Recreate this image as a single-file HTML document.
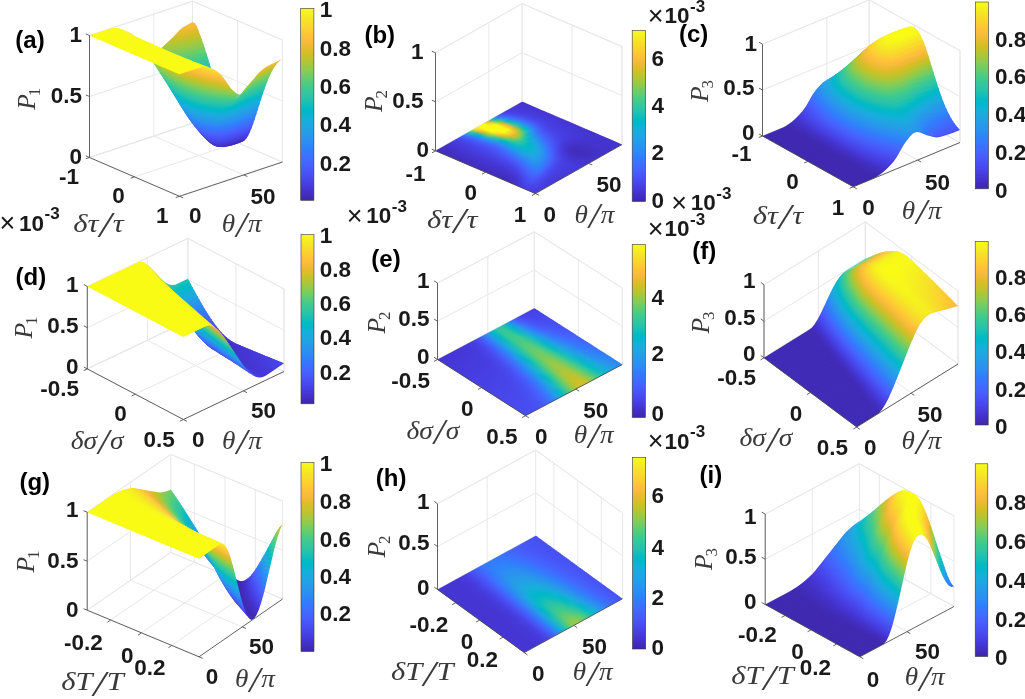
<!DOCTYPE html>
<html><head><meta charset="utf-8"><title>figure</title>
<style>
html,body{margin:0;padding:0;background:#fff}
svg{display:block}
.t{font-family:"Liberation Sans",sans-serif;font-weight:bold;font-size:22.5px;fill:#1a1a1a}
.p{font-family:"Liberation Sans",sans-serif;font-weight:bold;font-size:24px;fill:#000}
.m{font-family:"Liberation Serif","DejaVu Serif",serif;font-style:italic;font-size:25.5px;fill:#3a3a3a}
.x{font-family:"Liberation Sans",sans-serif;font-weight:normal;font-size:27px;fill:#1a1a1a}
.s{font-size:17px}
.ms{font-size:17px;font-style:normal}
.sl{font-size:36px}
</style></head><body>
<svg width="1025" height="699" viewBox="0 0 1025 699">
<defs><linearGradient id="pg" x1="0" y1="1" x2="0" y2="0"><stop offset="0.0000" stop-color="#3e26a8"/><stop offset="0.0238" stop-color="#412cba"/><stop offset="0.0476" stop-color="#4332cb"/><stop offset="0.0714" stop-color="#4639da"/><stop offset="0.0952" stop-color="#4741e5"/><stop offset="0.1190" stop-color="#484aee"/><stop offset="0.1429" stop-color="#4852f4"/><stop offset="0.1667" stop-color="#475bf9"/><stop offset="0.1905" stop-color="#4563fd"/><stop offset="0.2143" stop-color="#406cfe"/><stop offset="0.2381" stop-color="#3875fe"/><stop offset="0.2619" stop-color="#307efb"/><stop offset="0.2857" stop-color="#2e87f7"/><stop offset="0.3095" stop-color="#2c8ff1"/><stop offset="0.3333" stop-color="#2797eb"/><stop offset="0.3571" stop-color="#249ee6"/><stop offset="0.3810" stop-color="#20a5e3"/><stop offset="0.4048" stop-color="#1aabdd"/><stop offset="0.4286" stop-color="#12b1d6"/><stop offset="0.4524" stop-color="#04b6cd"/><stop offset="0.4762" stop-color="#02bac3"/><stop offset="0.5000" stop-color="#12beb9"/><stop offset="0.5238" stop-color="#24c1ae"/><stop offset="0.5476" stop-color="#2fc5a3"/><stop offset="0.5714" stop-color="#37c897"/><stop offset="0.5952" stop-color="#45cb89"/><stop offset="0.6190" stop-color="#57cc7a"/><stop offset="0.6429" stop-color="#6bcd69"/><stop offset="0.6667" stop-color="#81cc59"/><stop offset="0.6905" stop-color="#96ca48"/><stop offset="0.7143" stop-color="#abc739"/><stop offset="0.7381" stop-color="#bfc32d"/><stop offset="0.7619" stop-color="#d1bf27"/><stop offset="0.7857" stop-color="#e1bc2b"/><stop offset="0.8095" stop-color="#f0ba36"/><stop offset="0.8333" stop-color="#fbbc3d"/><stop offset="0.8571" stop-color="#fec338"/><stop offset="0.8810" stop-color="#fdcc32"/><stop offset="0.9048" stop-color="#fad62d"/><stop offset="0.9286" stop-color="#f6df29"/><stop offset="0.9524" stop-color="#f5e924"/><stop offset="0.9762" stop-color="#f6f21e"/><stop offset="1.0000" stop-color="#f9fb15"/></linearGradient>
<linearGradient id="ga0" href="#pg" gradientUnits="userSpaceOnUse" x1="90.3" y1="154.2" x2="54.8" y2="47.7"/>
<linearGradient id="ga1" href="#pg" gradientUnits="userSpaceOnUse" x1="91.9" y1="154.9" x2="56.4" y2="48.4"/>
<linearGradient id="ga2" href="#pg" gradientUnits="userSpaceOnUse" x1="93.5" y1="155.6" x2="58.0" y2="49.0"/>
<linearGradient id="ga3" href="#pg" gradientUnits="userSpaceOnUse" x1="95.1" y1="156.3" x2="59.7" y2="49.7"/>
<linearGradient id="ga4" href="#pg" gradientUnits="userSpaceOnUse" x1="96.7" y1="157.0" x2="61.3" y2="50.4"/>
<linearGradient id="ga5" href="#pg" gradientUnits="userSpaceOnUse" x1="98.3" y1="157.7" x2="62.9" y2="51.1"/>
<linearGradient id="ga6" href="#pg" gradientUnits="userSpaceOnUse" x1="99.9" y1="158.3" x2="64.5" y2="51.8"/>
<linearGradient id="ga7" href="#pg" gradientUnits="userSpaceOnUse" x1="101.6" y1="159.0" x2="66.1" y2="52.5"/>
<linearGradient id="ga8" href="#pg" gradientUnits="userSpaceOnUse" x1="103.2" y1="159.7" x2="67.7" y2="53.2"/>
<linearGradient id="ga9" href="#pg" gradientUnits="userSpaceOnUse" x1="104.8" y1="160.4" x2="69.3" y2="53.9"/>
<linearGradient id="ga10" href="#pg" gradientUnits="userSpaceOnUse" x1="106.4" y1="161.1" x2="70.9" y2="54.6"/>
<linearGradient id="ga11" href="#pg" gradientUnits="userSpaceOnUse" x1="108.0" y1="161.8" x2="72.5" y2="55.3"/>
<linearGradient id="ga12" href="#pg" gradientUnits="userSpaceOnUse" x1="109.6" y1="162.5" x2="74.1" y2="56.0"/>
<linearGradient id="ga13" href="#pg" gradientUnits="userSpaceOnUse" x1="111.2" y1="163.2" x2="75.7" y2="56.7"/>
<linearGradient id="ga14" href="#pg" gradientUnits="userSpaceOnUse" x1="112.8" y1="163.9" x2="77.3" y2="57.4"/>
<linearGradient id="ga15" href="#pg" gradientUnits="userSpaceOnUse" x1="114.4" y1="164.6" x2="78.9" y2="58.1"/>
<linearGradient id="ga16" href="#pg" gradientUnits="userSpaceOnUse" x1="116.0" y1="165.3" x2="80.5" y2="58.7"/>
<linearGradient id="ga17" href="#pg" gradientUnits="userSpaceOnUse" x1="117.6" y1="166.0" x2="82.2" y2="59.4"/>
<linearGradient id="ga18" href="#pg" gradientUnits="userSpaceOnUse" x1="119.2" y1="166.7" x2="83.8" y2="60.1"/>
<linearGradient id="ga19" href="#pg" gradientUnits="userSpaceOnUse" x1="120.8" y1="167.4" x2="85.4" y2="60.8"/>
<linearGradient id="ga20" href="#pg" gradientUnits="userSpaceOnUse" x1="122.4" y1="168.0" x2="87.0" y2="61.5"/>
<linearGradient id="ga21" href="#pg" gradientUnits="userSpaceOnUse" x1="124.1" y1="168.7" x2="88.6" y2="62.2"/>
<linearGradient id="ga22" href="#pg" gradientUnits="userSpaceOnUse" x1="125.7" y1="169.4" x2="90.2" y2="62.9"/>
<linearGradient id="ga23" href="#pg" gradientUnits="userSpaceOnUse" x1="127.3" y1="170.1" x2="91.8" y2="63.6"/>
<linearGradient id="ga24" href="#pg" gradientUnits="userSpaceOnUse" x1="128.9" y1="170.8" x2="93.4" y2="64.3"/>
<linearGradient id="ga25" href="#pg" gradientUnits="userSpaceOnUse" x1="130.5" y1="171.5" x2="95.0" y2="65.0"/>
<linearGradient id="ga26" href="#pg" gradientUnits="userSpaceOnUse" x1="132.1" y1="172.2" x2="96.6" y2="65.7"/>
<linearGradient id="ga27" href="#pg" gradientUnits="userSpaceOnUse" x1="133.7" y1="172.9" x2="98.2" y2="66.4"/>
<linearGradient id="ga28" href="#pg" gradientUnits="userSpaceOnUse" x1="135.3" y1="173.6" x2="99.8" y2="67.1"/>
<linearGradient id="ga29" href="#pg" gradientUnits="userSpaceOnUse" x1="136.9" y1="174.3" x2="101.4" y2="67.8"/>
<linearGradient id="ga30" href="#pg" gradientUnits="userSpaceOnUse" x1="138.5" y1="175.0" x2="103.0" y2="68.4"/>
<linearGradient id="ga31" href="#pg" gradientUnits="userSpaceOnUse" x1="140.1" y1="175.7" x2="104.7" y2="69.1"/>
<linearGradient id="ga32" href="#pg" gradientUnits="userSpaceOnUse" x1="141.7" y1="176.4" x2="106.3" y2="69.8"/>
<linearGradient id="ga33" href="#pg" gradientUnits="userSpaceOnUse" x1="143.3" y1="177.1" x2="107.9" y2="70.5"/>
<linearGradient id="ga34" href="#pg" gradientUnits="userSpaceOnUse" x1="144.9" y1="177.7" x2="109.5" y2="71.2"/>
<linearGradient id="ga35" href="#pg" gradientUnits="userSpaceOnUse" x1="146.6" y1="178.4" x2="111.1" y2="71.9"/>
<linearGradient id="ga36" href="#pg" gradientUnits="userSpaceOnUse" x1="148.2" y1="179.1" x2="112.7" y2="72.6"/>
<linearGradient id="ga37" href="#pg" gradientUnits="userSpaceOnUse" x1="149.8" y1="179.8" x2="114.3" y2="73.3"/>
<linearGradient id="ga38" href="#pg" gradientUnits="userSpaceOnUse" x1="151.4" y1="180.5" x2="115.9" y2="74.0"/>
<linearGradient id="ga39" href="#pg" gradientUnits="userSpaceOnUse" x1="153.0" y1="181.2" x2="117.5" y2="74.7"/>
<linearGradient id="ga40" href="#pg" gradientUnits="userSpaceOnUse" x1="154.6" y1="181.9" x2="119.1" y2="75.4"/>
<linearGradient id="ga41" href="#pg" gradientUnits="userSpaceOnUse" x1="156.2" y1="182.6" x2="120.7" y2="76.1"/>
<linearGradient id="ga42" href="#pg" gradientUnits="userSpaceOnUse" x1="157.8" y1="183.3" x2="122.3" y2="76.8"/>
<linearGradient id="ga43" href="#pg" gradientUnits="userSpaceOnUse" x1="159.4" y1="184.0" x2="123.9" y2="77.5"/>
<linearGradient id="ga44" href="#pg" gradientUnits="userSpaceOnUse" x1="161.0" y1="184.7" x2="125.5" y2="78.1"/>
<linearGradient id="ga45" href="#pg" gradientUnits="userSpaceOnUse" x1="162.6" y1="185.4" x2="127.2" y2="78.8"/>
<linearGradient id="ga46" href="#pg" gradientUnits="userSpaceOnUse" x1="164.2" y1="186.1" x2="128.8" y2="79.5"/>
<linearGradient id="ga47" href="#pg" gradientUnits="userSpaceOnUse" x1="165.8" y1="186.8" x2="130.4" y2="80.2"/>
<linearGradient id="ga48" href="#pg" gradientUnits="userSpaceOnUse" x1="167.4" y1="187.4" x2="132.0" y2="80.9"/>
<linearGradient id="ga49" href="#pg" gradientUnits="userSpaceOnUse" x1="169.1" y1="188.1" x2="133.6" y2="81.6"/>
<linearGradient id="ga50" href="#pg" gradientUnits="userSpaceOnUse" x1="170.7" y1="188.8" x2="135.2" y2="82.3"/>
<linearGradient id="ga51" href="#pg" gradientUnits="userSpaceOnUse" x1="172.3" y1="189.5" x2="136.8" y2="83.0"/>
<linearGradient id="ga52" href="#pg" gradientUnits="userSpaceOnUse" x1="173.9" y1="190.2" x2="138.4" y2="83.7"/>
<linearGradient id="ga53" href="#pg" gradientUnits="userSpaceOnUse" x1="175.5" y1="190.9" x2="140.0" y2="84.4"/>
<linearGradient id="ga54" href="#pg" gradientUnits="userSpaceOnUse" x1="177.1" y1="191.6" x2="141.6" y2="85.1"/>
<linearGradient id="ga55" href="#pg" gradientUnits="userSpaceOnUse" x1="178.7" y1="192.3" x2="143.2" y2="85.8"/>
<linearGradient id="gb0" gradientUnits="userSpaceOnUse" x1="436.6" y1="151.3" x2="467.8" y2="78.5"><stop offset="0" stop-color="#412dbb"/><stop offset="0.05" stop-color="#422ec0"/><stop offset="0.1" stop-color="#4331c7"/><stop offset="0.15" stop-color="#4435d1"/><stop offset="0.2" stop-color="#463bdc"/><stop offset="0.25" stop-color="#4747eb"/><stop offset="0.3" stop-color="#4564fd"/><stop offset="0.35" stop-color="#23a0e5"/><stop offset="0.4" stop-color="#6ccd68"/><stop offset="0.45" stop-color="#f5e625"/><stop offset="0.5" stop-color="#f9fb15"/><stop offset="0.55" stop-color="#f9fb15"/><stop offset="0.6" stop-color="#b1c635"/><stop offset="0.65" stop-color="#13b0d7"/><stop offset="0.7" stop-color="#3d70ff"/><stop offset="0.75" stop-color="#484df1"/><stop offset="0.8" stop-color="#4740e3"/><stop offset="0.85" stop-color="#463adc"/><stop offset="0.9" stop-color="#4538d7"/><stop offset="0.95" stop-color="#4536d3"/><stop offset="1" stop-color="#4435d0"/></linearGradient>
<linearGradient id="gb1" gradientUnits="userSpaceOnUse" x1="438.9" y1="152.3" x2="470.1" y2="79.4"><stop offset="0" stop-color="#412dbb"/><stop offset="0.05" stop-color="#422fc0"/><stop offset="0.1" stop-color="#4331c8"/><stop offset="0.15" stop-color="#4435d1"/><stop offset="0.2" stop-color="#463bdc"/><stop offset="0.25" stop-color="#4746ea"/><stop offset="0.3" stop-color="#465efb"/><stop offset="0.35" stop-color="#2895ec"/><stop offset="0.4" stop-color="#42ca8c"/><stop offset="0.45" stop-color="#fad52d"/><stop offset="0.5" stop-color="#f9fb15"/><stop offset="0.55" stop-color="#f9fb15"/><stop offset="0.6" stop-color="#f3ba38"/><stop offset="0.65" stop-color="#15bfb8"/><stop offset="0.7" stop-color="#2f82fa"/><stop offset="0.75" stop-color="#4854f6"/><stop offset="0.8" stop-color="#4742e6"/><stop offset="0.85" stop-color="#463bdd"/><stop offset="0.9" stop-color="#4538d8"/><stop offset="0.95" stop-color="#4536d4"/><stop offset="1" stop-color="#4435d0"/></linearGradient>
<linearGradient id="gb2" gradientUnits="userSpaceOnUse" x1="441.2" y1="153.2" x2="472.4" y2="80.4"><stop offset="0" stop-color="#412dbc"/><stop offset="0.05" stop-color="#422fc1"/><stop offset="0.1" stop-color="#4332c9"/><stop offset="0.15" stop-color="#4535d2"/><stop offset="0.2" stop-color="#463bdd"/><stop offset="0.25" stop-color="#4745e9"/><stop offset="0.3" stop-color="#475af9"/><stop offset="0.35" stop-color="#2d8bf3"/><stop offset="0.4" stop-color="#2cc4a6"/><stop offset="0.45" stop-color="#fec239"/><stop offset="0.5" stop-color="#f9fb15"/><stop offset="0.55" stop-color="#f9fb15"/><stop offset="0.6" stop-color="#fbd32e"/><stop offset="0.65" stop-color="#3cc991"/><stop offset="0.7" stop-color="#2a93ee"/><stop offset="0.75" stop-color="#465dfa"/><stop offset="0.8" stop-color="#4745ea"/><stop offset="0.85" stop-color="#463cdf"/><stop offset="0.9" stop-color="#4538d8"/><stop offset="0.95" stop-color="#4536d4"/><stop offset="1" stop-color="#4435d1"/></linearGradient>
<linearGradient id="gb3" gradientUnits="userSpaceOnUse" x1="443.4" y1="154.2" x2="474.7" y2="81.4"><stop offset="0" stop-color="#412dbc"/><stop offset="0.05" stop-color="#422fc1"/><stop offset="0.1" stop-color="#4332c9"/><stop offset="0.15" stop-color="#4536d3"/><stop offset="0.2" stop-color="#463bdd"/><stop offset="0.25" stop-color="#4744e9"/><stop offset="0.3" stop-color="#4757f7"/><stop offset="0.35" stop-color="#2e84f9"/><stop offset="0.4" stop-color="#11beb9"/><stop offset="0.45" stop-color="#edba34"/><stop offset="0.5" stop-color="#f9fb15"/><stop offset="0.55" stop-color="#f9fb15"/><stop offset="0.6" stop-color="#f5ed21"/><stop offset="0.65" stop-color="#75cc61"/><stop offset="0.7" stop-color="#21a2e4"/><stop offset="0.75" stop-color="#4466fd"/><stop offset="0.8" stop-color="#4849ed"/><stop offset="0.85" stop-color="#463ee0"/><stop offset="0.9" stop-color="#4639d9"/><stop offset="0.95" stop-color="#4536d5"/><stop offset="1" stop-color="#4435d1"/></linearGradient>
<linearGradient id="gb4" gradientUnits="userSpaceOnUse" x1="445.7" y1="155.2" x2="476.9" y2="82.3"><stop offset="0" stop-color="#412dbc"/><stop offset="0.05" stop-color="#422fc2"/><stop offset="0.1" stop-color="#4332ca"/><stop offset="0.15" stop-color="#4536d4"/><stop offset="0.2" stop-color="#463cde"/><stop offset="0.25" stop-color="#4744e8"/><stop offset="0.3" stop-color="#4756f6"/><stop offset="0.35" stop-color="#317efb"/><stop offset="0.4" stop-color="#01b9c8"/><stop offset="0.45" stop-color="#d2bf27"/><stop offset="0.5" stop-color="#f9fb15"/><stop offset="0.55" stop-color="#f9fb15"/><stop offset="0.6" stop-color="#f9fb15"/><stop offset="0.65" stop-color="#adc638"/><stop offset="0.7" stop-color="#14b0d8"/><stop offset="0.75" stop-color="#3d71ff"/><stop offset="0.8" stop-color="#484df0"/><stop offset="0.85" stop-color="#473fe2"/><stop offset="0.9" stop-color="#4639da"/><stop offset="0.95" stop-color="#4537d5"/><stop offset="1" stop-color="#4435d1"/></linearGradient>
<linearGradient id="gb5" gradientUnits="userSpaceOnUse" x1="448.0" y1="156.2" x2="479.2" y2="83.3"><stop offset="0" stop-color="#412dbd"/><stop offset="0.05" stop-color="#422fc2"/><stop offset="0.1" stop-color="#4332ca"/><stop offset="0.15" stop-color="#4536d5"/><stop offset="0.2" stop-color="#463cdf"/><stop offset="0.25" stop-color="#4745e9"/><stop offset="0.3" stop-color="#4755f6"/><stop offset="0.35" stop-color="#347afd"/><stop offset="0.4" stop-color="#08b4d1"/><stop offset="0.45" stop-color="#bac430"/><stop offset="0.5" stop-color="#f9fb15"/><stop offset="0.55" stop-color="#f9fb15"/><stop offset="0.6" stop-color="#f9fb15"/><stop offset="0.65" stop-color="#d4bf28"/><stop offset="0.7" stop-color="#01b8c9"/><stop offset="0.75" stop-color="#337afd"/><stop offset="0.8" stop-color="#4851f4"/><stop offset="0.85" stop-color="#4740e4"/><stop offset="0.9" stop-color="#463adb"/><stop offset="0.95" stop-color="#4537d6"/><stop offset="1" stop-color="#4435d1"/></linearGradient>
<linearGradient id="gb6" gradientUnits="userSpaceOnUse" x1="450.3" y1="157.1" x2="481.5" y2="84.3"><stop offset="0" stop-color="#412dbd"/><stop offset="0.05" stop-color="#422fc2"/><stop offset="0.1" stop-color="#4433cb"/><stop offset="0.15" stop-color="#4537d5"/><stop offset="0.2" stop-color="#463cdf"/><stop offset="0.25" stop-color="#4745e9"/><stop offset="0.3" stop-color="#4854f6"/><stop offset="0.35" stop-color="#3677fe"/><stop offset="0.4" stop-color="#12b1d7"/><stop offset="0.45" stop-color="#a3c83f"/><stop offset="0.5" stop-color="#f9f916"/><stop offset="0.55" stop-color="#f9fb15"/><stop offset="0.6" stop-color="#f9fb15"/><stop offset="0.65" stop-color="#eabb30"/><stop offset="0.7" stop-color="#0fbebb"/><stop offset="0.75" stop-color="#2f82f9"/><stop offset="0.8" stop-color="#4755f6"/><stop offset="0.85" stop-color="#4742e6"/><stop offset="0.9" stop-color="#463adc"/><stop offset="0.95" stop-color="#4537d6"/><stop offset="1" stop-color="#4435d2"/></linearGradient>
<linearGradient id="gb7" gradientUnits="userSpaceOnUse" x1="452.5" y1="158.1" x2="483.7" y2="85.3"><stop offset="0" stop-color="#412dbd"/><stop offset="0.05" stop-color="#4230c3"/><stop offset="0.1" stop-color="#4433cb"/><stop offset="0.15" stop-color="#4537d6"/><stop offset="0.2" stop-color="#463de0"/><stop offset="0.25" stop-color="#4745e9"/><stop offset="0.3" stop-color="#4854f5"/><stop offset="0.35" stop-color="#3a74fe"/><stop offset="0.4" stop-color="#1aacdd"/><stop offset="0.45" stop-color="#83cc57"/><stop offset="0.5" stop-color="#f5e924"/><stop offset="0.55" stop-color="#f9fb15"/><stop offset="0.6" stop-color="#f9fb15"/><stop offset="0.65" stop-color="#f3ba39"/><stop offset="0.7" stop-color="#21c1b0"/><stop offset="0.75" stop-color="#2d88f6"/><stop offset="0.8" stop-color="#4758f8"/><stop offset="0.85" stop-color="#4743e8"/><stop offset="0.9" stop-color="#463bdd"/><stop offset="0.95" stop-color="#4537d6"/><stop offset="1" stop-color="#4535d2"/></linearGradient>
<linearGradient id="gb8" gradientUnits="userSpaceOnUse" x1="454.8" y1="159.1" x2="486.0" y2="86.2"><stop offset="0" stop-color="#412ebd"/><stop offset="0.05" stop-color="#4230c3"/><stop offset="0.1" stop-color="#4433cc"/><stop offset="0.15" stop-color="#4537d6"/><stop offset="0.2" stop-color="#463de0"/><stop offset="0.25" stop-color="#4745ea"/><stop offset="0.3" stop-color="#4853f5"/><stop offset="0.35" stop-color="#3d71ff"/><stop offset="0.4" stop-color="#1fa5e2"/><stop offset="0.45" stop-color="#5ecd74"/><stop offset="0.5" stop-color="#fad42e"/><stop offset="0.55" stop-color="#f9fb15"/><stop offset="0.6" stop-color="#f9fb15"/><stop offset="0.65" stop-color="#f2ba38"/><stop offset="0.7" stop-color="#28c3ab"/><stop offset="0.75" stop-color="#2d8df2"/><stop offset="0.8" stop-color="#475bfa"/><stop offset="0.85" stop-color="#4745e9"/><stop offset="0.9" stop-color="#463bde"/><stop offset="0.95" stop-color="#4538d7"/><stop offset="1" stop-color="#4536d2"/></linearGradient>
<linearGradient id="gb9" gradientUnits="userSpaceOnUse" x1="457.1" y1="160.0" x2="488.3" y2="87.2"><stop offset="0" stop-color="#412ebe"/><stop offset="0.05" stop-color="#4230c3"/><stop offset="0.1" stop-color="#4433cc"/><stop offset="0.15" stop-color="#4538d7"/><stop offset="0.2" stop-color="#463ee1"/><stop offset="0.25" stop-color="#4746ea"/><stop offset="0.3" stop-color="#4853f5"/><stop offset="0.35" stop-color="#3f6efe"/><stop offset="0.4" stop-color="#249fe5"/><stop offset="0.45" stop-color="#3eca8f"/><stop offset="0.5" stop-color="#febd3c"/><stop offset="0.55" stop-color="#f9fb15"/><stop offset="0.6" stop-color="#f8f817"/><stop offset="0.65" stop-color="#e9bb30"/><stop offset="0.7" stop-color="#29c3aa"/><stop offset="0.75" stop-color="#2c8ff0"/><stop offset="0.8" stop-color="#465efb"/><stop offset="0.85" stop-color="#4746ea"/><stop offset="0.9" stop-color="#463cde"/><stop offset="0.95" stop-color="#4538d7"/><stop offset="1" stop-color="#4536d2"/></linearGradient>
<linearGradient id="gb10" gradientUnits="userSpaceOnUse" x1="459.3" y1="161.0" x2="490.5" y2="88.2"><stop offset="0" stop-color="#412ebe"/><stop offset="0.05" stop-color="#4230c4"/><stop offset="0.1" stop-color="#4433cd"/><stop offset="0.15" stop-color="#4538d7"/><stop offset="0.2" stop-color="#463ee1"/><stop offset="0.25" stop-color="#4746ea"/><stop offset="0.3" stop-color="#4852f4"/><stop offset="0.35" stop-color="#416bfe"/><stop offset="0.4" stop-color="#2699e9"/><stop offset="0.45" stop-color="#2ec5a4"/><stop offset="0.5" stop-color="#dfbc2a"/><stop offset="0.55" stop-color="#f5e626"/><stop offset="0.6" stop-color="#f5e526"/><stop offset="0.65" stop-color="#d7be28"/><stop offset="0.7" stop-color="#25c2ad"/><stop offset="0.75" stop-color="#2b90f0"/><stop offset="0.8" stop-color="#465ffb"/><stop offset="0.85" stop-color="#4747eb"/><stop offset="0.9" stop-color="#463cdf"/><stop offset="0.95" stop-color="#4538d7"/><stop offset="1" stop-color="#4536d3"/></linearGradient>
<linearGradient id="gb11" gradientUnits="userSpaceOnUse" x1="461.6" y1="162.0" x2="492.8" y2="89.2"><stop offset="0" stop-color="#412ebe"/><stop offset="0.05" stop-color="#4230c4"/><stop offset="0.1" stop-color="#4433cd"/><stop offset="0.15" stop-color="#4538d7"/><stop offset="0.2" stop-color="#463ee1"/><stop offset="0.25" stop-color="#4746ea"/><stop offset="0.3" stop-color="#4852f4"/><stop offset="0.35" stop-color="#4269fe"/><stop offset="0.4" stop-color="#2994ed"/><stop offset="0.45" stop-color="#1bc0b4"/><stop offset="0.5" stop-color="#b6c532"/><stop offset="0.55" stop-color="#fdcc32"/><stop offset="0.6" stop-color="#fdce31"/><stop offset="0.65" stop-color="#bcc42f"/><stop offset="0.7" stop-color="#1bc0b4"/><stop offset="0.75" stop-color="#2c8ff0"/><stop offset="0.8" stop-color="#4660fb"/><stop offset="0.85" stop-color="#4847ec"/><stop offset="0.9" stop-color="#463ddf"/><stop offset="0.95" stop-color="#4538d8"/><stop offset="1" stop-color="#4536d3"/></linearGradient>
<linearGradient id="gb12" gradientUnits="userSpaceOnUse" x1="463.9" y1="163.0" x2="495.1" y2="90.1"><stop offset="0" stop-color="#412ebe"/><stop offset="0.05" stop-color="#4230c4"/><stop offset="0.1" stop-color="#4433cd"/><stop offset="0.15" stop-color="#4538d8"/><stop offset="0.2" stop-color="#473ee1"/><stop offset="0.25" stop-color="#4746ea"/><stop offset="0.3" stop-color="#4852f4"/><stop offset="0.35" stop-color="#4367fd"/><stop offset="0.4" stop-color="#2c8ff0"/><stop offset="0.45" stop-color="#05bbc1"/><stop offset="0.5" stop-color="#8dcb50"/><stop offset="0.55" stop-color="#f6ba3b"/><stop offset="0.6" stop-color="#fabb3d"/><stop offset="0.65" stop-color="#9bc945"/><stop offset="0.7" stop-color="#0bbdbd"/><stop offset="0.75" stop-color="#2d8df2"/><stop offset="0.8" stop-color="#465ffb"/><stop offset="0.85" stop-color="#4848ec"/><stop offset="0.9" stop-color="#463de0"/><stop offset="0.95" stop-color="#4538d8"/><stop offset="1" stop-color="#4536d3"/></linearGradient>
<linearGradient id="gb13" gradientUnits="userSpaceOnUse" x1="466.2" y1="163.9" x2="497.4" y2="91.1"><stop offset="0" stop-color="#422ebe"/><stop offset="0.05" stop-color="#4230c4"/><stop offset="0.1" stop-color="#4433cd"/><stop offset="0.15" stop-color="#4538d8"/><stop offset="0.2" stop-color="#473ee2"/><stop offset="0.25" stop-color="#4746eb"/><stop offset="0.3" stop-color="#4852f4"/><stop offset="0.35" stop-color="#4367fd"/><stop offset="0.4" stop-color="#2d8df2"/><stop offset="0.45" stop-color="#01b8c9"/><stop offset="0.5" stop-color="#6bcd69"/><stop offset="0.55" stop-color="#d9be28"/><stop offset="0.6" stop-color="#ddbd29"/><stop offset="0.65" stop-color="#77cc60"/><stop offset="0.7" stop-color="#01b9c7"/><stop offset="0.75" stop-color="#2d8af5"/><stop offset="0.8" stop-color="#465efb"/><stop offset="0.85" stop-color="#4848ec"/><stop offset="0.9" stop-color="#463de0"/><stop offset="0.95" stop-color="#4538d8"/><stop offset="1" stop-color="#4536d3"/></linearGradient>
<linearGradient id="gb14" gradientUnits="userSpaceOnUse" x1="468.4" y1="164.9" x2="499.6" y2="92.1"><stop offset="0" stop-color="#422ebe"/><stop offset="0.05" stop-color="#4230c4"/><stop offset="0.1" stop-color="#4434cd"/><stop offset="0.15" stop-color="#4538d8"/><stop offset="0.2" stop-color="#473fe2"/><stop offset="0.25" stop-color="#4747eb"/><stop offset="0.3" stop-color="#4853f4"/><stop offset="0.35" stop-color="#4368fd"/><stop offset="0.4" stop-color="#2d8df2"/><stop offset="0.45" stop-color="#04b6cd"/><stop offset="0.5" stop-color="#56cc7b"/><stop offset="0.55" stop-color="#b6c532"/><stop offset="0.6" stop-color="#b2c635"/><stop offset="0.65" stop-color="#4acb85"/><stop offset="0.7" stop-color="#11b1d6"/><stop offset="0.75" stop-color="#2f82f9"/><stop offset="0.8" stop-color="#475bf9"/><stop offset="0.85" stop-color="#4746eb"/><stop offset="0.9" stop-color="#463ddf"/><stop offset="0.95" stop-color="#4538d8"/><stop offset="1" stop-color="#4536d3"/></linearGradient>
<linearGradient id="gb15" gradientUnits="userSpaceOnUse" x1="470.7" y1="165.9" x2="501.9" y2="93.0"><stop offset="0" stop-color="#422ebe"/><stop offset="0.05" stop-color="#4230c4"/><stop offset="0.1" stop-color="#4434cd"/><stop offset="0.15" stop-color="#4538d8"/><stop offset="0.2" stop-color="#473fe2"/><stop offset="0.25" stop-color="#4747eb"/><stop offset="0.3" stop-color="#4854f5"/><stop offset="0.35" stop-color="#426afe"/><stop offset="0.4" stop-color="#2c8ff1"/><stop offset="0.45" stop-color="#05b6cd"/><stop offset="0.5" stop-color="#45cb89"/><stop offset="0.55" stop-color="#8ccb50"/><stop offset="0.6" stop-color="#76cc60"/><stop offset="0.65" stop-color="#2ac3a9"/><stop offset="0.7" stop-color="#20a4e3"/><stop offset="0.75" stop-color="#3677fe"/><stop offset="0.8" stop-color="#4756f7"/><stop offset="0.85" stop-color="#4745e9"/><stop offset="0.9" stop-color="#463cdf"/><stop offset="0.95" stop-color="#4538d8"/><stop offset="1" stop-color="#4536d3"/></linearGradient>
<linearGradient id="gb16" gradientUnits="userSpaceOnUse" x1="473.0" y1="166.8" x2="504.2" y2="94.0"><stop offset="0" stop-color="#422ebe"/><stop offset="0.05" stop-color="#4230c4"/><stop offset="0.1" stop-color="#4434cd"/><stop offset="0.15" stop-color="#4538d8"/><stop offset="0.2" stop-color="#473fe2"/><stop offset="0.25" stop-color="#4848ec"/><stop offset="0.3" stop-color="#4756f6"/><stop offset="0.35" stop-color="#406dfe"/><stop offset="0.4" stop-color="#2b92ee"/><stop offset="0.45" stop-color="#05b6ce"/><stop offset="0.5" stop-color="#37c897"/><stop offset="0.55" stop-color="#5ecd74"/><stop offset="0.6" stop-color="#3fca8e"/><stop offset="0.65" stop-color="#01b9c6"/><stop offset="0.7" stop-color="#2895ec"/><stop offset="0.75" stop-color="#416cfe"/><stop offset="0.8" stop-color="#4851f3"/><stop offset="0.85" stop-color="#4743e7"/><stop offset="0.9" stop-color="#463cde"/><stop offset="0.95" stop-color="#4538d8"/><stop offset="1" stop-color="#4536d3"/></linearGradient>
<linearGradient id="gb17" gradientUnits="userSpaceOnUse" x1="475.2" y1="167.8" x2="506.4" y2="95.0"><stop offset="0" stop-color="#422ebe"/><stop offset="0.05" stop-color="#4230c4"/><stop offset="0.1" stop-color="#4433cd"/><stop offset="0.15" stop-color="#4538d8"/><stop offset="0.2" stop-color="#473fe3"/><stop offset="0.25" stop-color="#4849ed"/><stop offset="0.3" stop-color="#4757f8"/><stop offset="0.35" stop-color="#3d70ff"/><stop offset="0.4" stop-color="#2994ed"/><stop offset="0.45" stop-color="#06b5cf"/><stop offset="0.5" stop-color="#2fc5a3"/><stop offset="0.55" stop-color="#3bc993"/><stop offset="0.6" stop-color="#24c1ae"/><stop offset="0.65" stop-color="#19acdc"/><stop offset="0.7" stop-color="#2e87f7"/><stop offset="0.75" stop-color="#4563fc"/><stop offset="0.8" stop-color="#484df0"/><stop offset="0.85" stop-color="#4741e5"/><stop offset="0.9" stop-color="#463bdd"/><stop offset="0.95" stop-color="#4538d7"/><stop offset="1" stop-color="#4536d3"/></linearGradient>
<linearGradient id="gb18" gradientUnits="userSpaceOnUse" x1="477.5" y1="168.8" x2="508.7" y2="96.0"><stop offset="0" stop-color="#412ebe"/><stop offset="0.05" stop-color="#4230c4"/><stop offset="0.1" stop-color="#4433cd"/><stop offset="0.15" stop-color="#4538d8"/><stop offset="0.2" stop-color="#473fe3"/><stop offset="0.25" stop-color="#484aed"/><stop offset="0.3" stop-color="#475af9"/><stop offset="0.35" stop-color="#3a74fe"/><stop offset="0.4" stop-color="#2797eb"/><stop offset="0.45" stop-color="#07b5d0"/><stop offset="0.5" stop-color="#25c2ad"/><stop offset="0.55" stop-color="#2bc3a8"/><stop offset="0.6" stop-color="#02bac5"/><stop offset="0.65" stop-color="#239fe5"/><stop offset="0.7" stop-color="#337bfc"/><stop offset="0.75" stop-color="#475cfa"/><stop offset="0.8" stop-color="#484aee"/><stop offset="0.85" stop-color="#4740e4"/><stop offset="0.9" stop-color="#463bdd"/><stop offset="0.95" stop-color="#4538d7"/><stop offset="1" stop-color="#4536d3"/></linearGradient>
<linearGradient id="gb19" gradientUnits="userSpaceOnUse" x1="479.8" y1="169.8" x2="511.0" y2="96.9"><stop offset="0" stop-color="#412ebe"/><stop offset="0.05" stop-color="#4230c4"/><stop offset="0.1" stop-color="#4433cd"/><stop offset="0.15" stop-color="#4538d8"/><stop offset="0.2" stop-color="#4740e3"/><stop offset="0.25" stop-color="#484bee"/><stop offset="0.3" stop-color="#475cfa"/><stop offset="0.35" stop-color="#3677fe"/><stop offset="0.4" stop-color="#2699e9"/><stop offset="0.45" stop-color="#07b5d0"/><stop offset="0.5" stop-color="#1bc0b4"/><stop offset="0.55" stop-color="#19bfb5"/><stop offset="0.6" stop-color="#0cb3d3"/><stop offset="0.65" stop-color="#2896eb"/><stop offset="0.7" stop-color="#3b73fe"/><stop offset="0.75" stop-color="#4758f8"/><stop offset="0.8" stop-color="#4848ec"/><stop offset="0.85" stop-color="#4740e3"/><stop offset="0.9" stop-color="#463bdc"/><stop offset="0.95" stop-color="#4538d7"/><stop offset="1" stop-color="#4536d3"/></linearGradient>
<linearGradient id="gb20" gradientUnits="userSpaceOnUse" x1="482.0" y1="170.7" x2="513.2" y2="97.9"><stop offset="0" stop-color="#412ebe"/><stop offset="0.05" stop-color="#4230c4"/><stop offset="0.1" stop-color="#4433cd"/><stop offset="0.15" stop-color="#4538d8"/><stop offset="0.2" stop-color="#4740e4"/><stop offset="0.25" stop-color="#484cef"/><stop offset="0.3" stop-color="#465efb"/><stop offset="0.35" stop-color="#337bfd"/><stop offset="0.4" stop-color="#259be7"/><stop offset="0.45" stop-color="#08b4d0"/><stop offset="0.5" stop-color="#0fbebb"/><stop offset="0.55" stop-color="#05bbc1"/><stop offset="0.6" stop-color="#1aacdd"/><stop offset="0.65" stop-color="#2c8ef2"/><stop offset="0.7" stop-color="#406cfe"/><stop offset="0.75" stop-color="#4855f6"/><stop offset="0.8" stop-color="#4747eb"/><stop offset="0.85" stop-color="#473fe2"/><stop offset="0.9" stop-color="#463adc"/><stop offset="0.95" stop-color="#4538d7"/><stop offset="1" stop-color="#4536d3"/></linearGradient>
<linearGradient id="gb21" gradientUnits="userSpaceOnUse" x1="484.3" y1="171.7" x2="515.5" y2="98.9"><stop offset="0" stop-color="#412ebe"/><stop offset="0.05" stop-color="#4230c3"/><stop offset="0.1" stop-color="#4433cd"/><stop offset="0.15" stop-color="#4538d8"/><stop offset="0.2" stop-color="#4740e4"/><stop offset="0.25" stop-color="#484df0"/><stop offset="0.3" stop-color="#4660fb"/><stop offset="0.35" stop-color="#317efb"/><stop offset="0.4" stop-color="#249de6"/><stop offset="0.45" stop-color="#09b4d1"/><stop offset="0.5" stop-color="#05bbc1"/><stop offset="0.55" stop-color="#02b7cb"/><stop offset="0.6" stop-color="#20a4e3"/><stop offset="0.65" stop-color="#2e86f7"/><stop offset="0.7" stop-color="#4466fd"/><stop offset="0.75" stop-color="#4852f4"/><stop offset="0.8" stop-color="#4745e9"/><stop offset="0.85" stop-color="#473ee2"/><stop offset="0.9" stop-color="#463adb"/><stop offset="0.95" stop-color="#4537d6"/><stop offset="1" stop-color="#4536d2"/></linearGradient>
<linearGradient id="gb22" gradientUnits="userSpaceOnUse" x1="486.6" y1="172.7" x2="517.8" y2="99.9"><stop offset="0" stop-color="#412ebd"/><stop offset="0.05" stop-color="#4230c3"/><stop offset="0.1" stop-color="#4433cc"/><stop offset="0.15" stop-color="#4538d8"/><stop offset="0.2" stop-color="#4741e4"/><stop offset="0.25" stop-color="#484ef1"/><stop offset="0.3" stop-color="#4562fc"/><stop offset="0.35" stop-color="#2f81fa"/><stop offset="0.4" stop-color="#249fe5"/><stop offset="0.45" stop-color="#0bb3d2"/><stop offset="0.5" stop-color="#01b9c7"/><stop offset="0.55" stop-color="#0eb2d4"/><stop offset="0.6" stop-color="#259de7"/><stop offset="0.65" stop-color="#317efb"/><stop offset="0.7" stop-color="#4561fc"/><stop offset="0.75" stop-color="#484ff2"/><stop offset="0.8" stop-color="#4744e8"/><stop offset="0.85" stop-color="#463ee1"/><stop offset="0.9" stop-color="#463adb"/><stop offset="0.95" stop-color="#4537d6"/><stop offset="1" stop-color="#4535d2"/></linearGradient>
<linearGradient id="gb23" gradientUnits="userSpaceOnUse" x1="488.9" y1="173.7" x2="520.1" y2="100.8"><stop offset="0" stop-color="#412dbd"/><stop offset="0.05" stop-color="#4230c3"/><stop offset="0.1" stop-color="#4433cc"/><stop offset="0.15" stop-color="#4538d8"/><stop offset="0.2" stop-color="#4741e5"/><stop offset="0.25" stop-color="#484ff2"/><stop offset="0.3" stop-color="#4465fd"/><stop offset="0.35" stop-color="#2e84f8"/><stop offset="0.4" stop-color="#23a0e5"/><stop offset="0.45" stop-color="#0eb2d4"/><stop offset="0.5" stop-color="#04b6cd"/><stop offset="0.55" stop-color="#19addc"/><stop offset="0.6" stop-color="#2895ec"/><stop offset="0.65" stop-color="#3776fe"/><stop offset="0.7" stop-color="#475cfa"/><stop offset="0.75" stop-color="#484cef"/><stop offset="0.8" stop-color="#4742e6"/><stop offset="0.85" stop-color="#463de0"/><stop offset="0.9" stop-color="#463ada"/><stop offset="0.95" stop-color="#4537d6"/><stop offset="1" stop-color="#4535d2"/></linearGradient>
<linearGradient id="gb24" gradientUnits="userSpaceOnUse" x1="491.1" y1="174.6" x2="522.3" y2="101.8"><stop offset="0" stop-color="#412dbd"/><stop offset="0.05" stop-color="#422fc3"/><stop offset="0.1" stop-color="#4433cc"/><stop offset="0.15" stop-color="#4538d8"/><stop offset="0.2" stop-color="#4742e6"/><stop offset="0.25" stop-color="#4851f3"/><stop offset="0.3" stop-color="#4368fe"/><stop offset="0.35" stop-color="#2e87f7"/><stop offset="0.4" stop-color="#22a2e4"/><stop offset="0.45" stop-color="#11b1d6"/><stop offset="0.5" stop-color="#0eb3d4"/><stop offset="0.55" stop-color="#1fa6e2"/><stop offset="0.6" stop-color="#2d8df2"/><stop offset="0.65" stop-color="#3f6eff"/><stop offset="0.7" stop-color="#4757f7"/><stop offset="0.75" stop-color="#4849ed"/><stop offset="0.8" stop-color="#4741e5"/><stop offset="0.85" stop-color="#463cdf"/><stop offset="0.9" stop-color="#4639da"/><stop offset="0.95" stop-color="#4537d5"/><stop offset="1" stop-color="#4435d2"/></linearGradient>
<linearGradient id="gb25" gradientUnits="userSpaceOnUse" x1="493.4" y1="175.6" x2="524.6" y2="102.8"><stop offset="0" stop-color="#412dbd"/><stop offset="0.05" stop-color="#422fc2"/><stop offset="0.1" stop-color="#4433cc"/><stop offset="0.15" stop-color="#4539d9"/><stop offset="0.2" stop-color="#4743e7"/><stop offset="0.25" stop-color="#4853f5"/><stop offset="0.3" stop-color="#416bfe"/><stop offset="0.35" stop-color="#2d8af5"/><stop offset="0.4" stop-color="#21a3e4"/><stop offset="0.45" stop-color="#15afd9"/><stop offset="0.5" stop-color="#17aedb"/><stop offset="0.55" stop-color="#249ee6"/><stop offset="0.6" stop-color="#2e84f8"/><stop offset="0.65" stop-color="#4466fd"/><stop offset="0.7" stop-color="#4852f4"/><stop offset="0.75" stop-color="#4746ea"/><stop offset="0.8" stop-color="#473fe3"/><stop offset="0.85" stop-color="#463bdd"/><stop offset="0.9" stop-color="#4539d9"/><stop offset="0.95" stop-color="#4537d5"/><stop offset="1" stop-color="#4435d1"/></linearGradient>
<linearGradient id="gb26" gradientUnits="userSpaceOnUse" x1="495.7" y1="176.6" x2="526.9" y2="103.7"><stop offset="0" stop-color="#412dbc"/><stop offset="0.05" stop-color="#422fc2"/><stop offset="0.1" stop-color="#4433cc"/><stop offset="0.15" stop-color="#4639d9"/><stop offset="0.2" stop-color="#4744e8"/><stop offset="0.25" stop-color="#4756f7"/><stop offset="0.3" stop-color="#3e6fff"/><stop offset="0.35" stop-color="#2d8df2"/><stop offset="0.4" stop-color="#21a3e4"/><stop offset="0.45" stop-color="#19acdc"/><stop offset="0.5" stop-color="#1ea8e1"/><stop offset="0.55" stop-color="#2895ec"/><stop offset="0.6" stop-color="#347afd"/><stop offset="0.65" stop-color="#465efb"/><stop offset="0.7" stop-color="#484df0"/><stop offset="0.75" stop-color="#4742e6"/><stop offset="0.8" stop-color="#463de0"/><stop offset="0.85" stop-color="#463bdc"/><stop offset="0.9" stop-color="#4538d8"/><stop offset="0.95" stop-color="#4536d5"/><stop offset="1" stop-color="#4435d1"/></linearGradient>
<linearGradient id="gb27" gradientUnits="userSpaceOnUse" x1="497.9" y1="177.6" x2="529.1" y2="104.7"><stop offset="0" stop-color="#412dbc"/><stop offset="0.05" stop-color="#422fc2"/><stop offset="0.1" stop-color="#4433cc"/><stop offset="0.15" stop-color="#463ada"/><stop offset="0.2" stop-color="#4746ea"/><stop offset="0.25" stop-color="#4759f8"/><stop offset="0.3" stop-color="#3a73fe"/><stop offset="0.35" stop-color="#2c8ff1"/><stop offset="0.4" stop-color="#22a2e4"/><stop offset="0.45" stop-color="#1da8e0"/><stop offset="0.5" stop-color="#23a0e5"/><stop offset="0.55" stop-color="#2d8bf4"/><stop offset="0.6" stop-color="#3f6fff"/><stop offset="0.65" stop-color="#4756f7"/><stop offset="0.7" stop-color="#4747eb"/><stop offset="0.75" stop-color="#473fe2"/><stop offset="0.8" stop-color="#463cde"/><stop offset="0.85" stop-color="#463ada"/><stop offset="0.9" stop-color="#4538d7"/><stop offset="0.95" stop-color="#4536d4"/><stop offset="1" stop-color="#4435d1"/></linearGradient>
<linearGradient id="gb28" gradientUnits="userSpaceOnUse" x1="500.2" y1="178.5" x2="531.4" y2="105.7"><stop offset="0" stop-color="#412dbc"/><stop offset="0.05" stop-color="#422fc2"/><stop offset="0.1" stop-color="#4433cd"/><stop offset="0.15" stop-color="#463bdc"/><stop offset="0.2" stop-color="#4848ec"/><stop offset="0.25" stop-color="#475dfa"/><stop offset="0.3" stop-color="#3678fe"/><stop offset="0.35" stop-color="#2b91ef"/><stop offset="0.4" stop-color="#23a0e5"/><stop offset="0.45" stop-color="#22a2e4"/><stop offset="0.5" stop-color="#2796eb"/><stop offset="0.55" stop-color="#3080fb"/><stop offset="0.6" stop-color="#4564fd"/><stop offset="0.65" stop-color="#484ff2"/><stop offset="0.7" stop-color="#4742e6"/><stop offset="0.75" stop-color="#463cde"/><stop offset="0.8" stop-color="#463adb"/><stop offset="0.85" stop-color="#4539d9"/><stop offset="0.9" stop-color="#4537d6"/><stop offset="0.95" stop-color="#4536d3"/><stop offset="1" stop-color="#4435d0"/></linearGradient>
<linearGradient id="gb29" gradientUnits="userSpaceOnUse" x1="502.5" y1="179.5" x2="533.7" y2="106.7"><stop offset="0" stop-color="#412dbc"/><stop offset="0.05" stop-color="#422fc2"/><stop offset="0.1" stop-color="#4434ce"/><stop offset="0.15" stop-color="#463cdf"/><stop offset="0.2" stop-color="#484cef"/><stop offset="0.25" stop-color="#4561fc"/><stop offset="0.3" stop-color="#327cfc"/><stop offset="0.35" stop-color="#2b92ee"/><stop offset="0.4" stop-color="#259de7"/><stop offset="0.45" stop-color="#269ae8"/><stop offset="0.5" stop-color="#2d8bf3"/><stop offset="0.55" stop-color="#3b73fe"/><stop offset="0.6" stop-color="#4759f9"/><stop offset="0.65" stop-color="#4747eb"/><stop offset="0.7" stop-color="#463cdf"/><stop offset="0.75" stop-color="#4539d9"/><stop offset="0.8" stop-color="#4538d8"/><stop offset="0.85" stop-color="#4538d7"/><stop offset="0.9" stop-color="#4537d6"/><stop offset="0.95" stop-color="#4536d3"/><stop offset="1" stop-color="#4435d0"/></linearGradient>
<linearGradient id="gb30" gradientUnits="userSpaceOnUse" x1="504.7" y1="180.5" x2="536.0" y2="107.6"><stop offset="0" stop-color="#412dbc"/><stop offset="0.05" stop-color="#4230c3"/><stop offset="0.1" stop-color="#4435d0"/><stop offset="0.15" stop-color="#473fe2"/><stop offset="0.2" stop-color="#4850f2"/><stop offset="0.25" stop-color="#4366fd"/><stop offset="0.3" stop-color="#3080fa"/><stop offset="0.35" stop-color="#2b92ef"/><stop offset="0.4" stop-color="#2798ea"/><stop offset="0.45" stop-color="#2b91ef"/><stop offset="0.5" stop-color="#307ffb"/><stop offset="0.55" stop-color="#4466fd"/><stop offset="0.6" stop-color="#4850f3"/><stop offset="0.65" stop-color="#4740e4"/><stop offset="0.7" stop-color="#4538d8"/><stop offset="0.75" stop-color="#4536d3"/><stop offset="0.8" stop-color="#4536d4"/><stop offset="0.85" stop-color="#4537d5"/><stop offset="0.9" stop-color="#4536d5"/><stop offset="0.95" stop-color="#4536d2"/><stop offset="1" stop-color="#4434d0"/></linearGradient>
<linearGradient id="gb31" gradientUnits="userSpaceOnUse" x1="507.0" y1="181.4" x2="538.2" y2="108.6"><stop offset="0" stop-color="#412dbc"/><stop offset="0.05" stop-color="#4230c4"/><stop offset="0.1" stop-color="#4536d3"/><stop offset="0.15" stop-color="#4742e6"/><stop offset="0.2" stop-color="#4755f6"/><stop offset="0.25" stop-color="#416cfe"/><stop offset="0.3" stop-color="#2f82f9"/><stop offset="0.35" stop-color="#2c8ff0"/><stop offset="0.4" stop-color="#2b90f0"/><stop offset="0.45" stop-color="#2e86f8"/><stop offset="0.5" stop-color="#3c72ff"/><stop offset="0.55" stop-color="#475bf9"/><stop offset="0.6" stop-color="#4848ec"/><stop offset="0.65" stop-color="#463adc"/><stop offset="0.7" stop-color="#4435d0"/><stop offset="0.75" stop-color="#4434ce"/><stop offset="0.8" stop-color="#4435d1"/><stop offset="0.85" stop-color="#4536d4"/><stop offset="0.9" stop-color="#4536d4"/><stop offset="0.95" stop-color="#4435d2"/><stop offset="1" stop-color="#4434cf"/></linearGradient>
<linearGradient id="gb32" gradientUnits="userSpaceOnUse" x1="509.3" y1="182.4" x2="540.5" y2="109.6"><stop offset="0" stop-color="#412dbd"/><stop offset="0.05" stop-color="#4331c7"/><stop offset="0.1" stop-color="#4538d8"/><stop offset="0.15" stop-color="#4746ea"/><stop offset="0.2" stop-color="#475af9"/><stop offset="0.25" stop-color="#3d70ff"/><stop offset="0.3" stop-color="#2e83f9"/><stop offset="0.35" stop-color="#2d8af4"/><stop offset="0.4" stop-color="#2e87f7"/><stop offset="0.45" stop-color="#3579fd"/><stop offset="0.5" stop-color="#4465fd"/><stop offset="0.55" stop-color="#4852f4"/><stop offset="0.6" stop-color="#4741e5"/><stop offset="0.65" stop-color="#4536d4"/><stop offset="0.7" stop-color="#4332c9"/><stop offset="0.75" stop-color="#4332c9"/><stop offset="0.8" stop-color="#4434ce"/><stop offset="0.85" stop-color="#4435d2"/><stop offset="0.9" stop-color="#4536d3"/><stop offset="0.95" stop-color="#4435d1"/><stop offset="1" stop-color="#4434cf"/></linearGradient>
<linearGradient id="gb33" gradientUnits="userSpaceOnUse" x1="511.6" y1="183.4" x2="542.8" y2="110.6"><stop offset="0" stop-color="#422ebf"/><stop offset="0.05" stop-color="#4332ca"/><stop offset="0.1" stop-color="#463bdd"/><stop offset="0.15" stop-color="#484bef"/><stop offset="0.2" stop-color="#465ffb"/><stop offset="0.25" stop-color="#3b73fe"/><stop offset="0.3" stop-color="#2f80fa"/><stop offset="0.35" stop-color="#2e83f9"/><stop offset="0.4" stop-color="#337bfc"/><stop offset="0.45" stop-color="#416bfe"/><stop offset="0.5" stop-color="#475af9"/><stop offset="0.55" stop-color="#484aed"/><stop offset="0.6" stop-color="#463bde"/><stop offset="0.65" stop-color="#4433cc"/><stop offset="0.7" stop-color="#4230c4"/><stop offset="0.75" stop-color="#4330c5"/><stop offset="0.8" stop-color="#4433cc"/><stop offset="0.85" stop-color="#4435d0"/><stop offset="0.9" stop-color="#4435d2"/><stop offset="0.95" stop-color="#4435d1"/><stop offset="1" stop-color="#4434cf"/></linearGradient>
<linearGradient id="gb34" gradientUnits="userSpaceOnUse" x1="513.8" y1="184.4" x2="545.0" y2="111.5"><stop offset="0" stop-color="#422fc1"/><stop offset="0.05" stop-color="#4434cf"/><stop offset="0.1" stop-color="#473fe2"/><stop offset="0.15" stop-color="#4850f3"/><stop offset="0.2" stop-color="#4563fc"/><stop offset="0.25" stop-color="#3b73fe"/><stop offset="0.3" stop-color="#337bfc"/><stop offset="0.35" stop-color="#3578fd"/><stop offset="0.4" stop-color="#3f6dfe"/><stop offset="0.45" stop-color="#465ffb"/><stop offset="0.5" stop-color="#4851f3"/><stop offset="0.55" stop-color="#4743e7"/><stop offset="0.6" stop-color="#4538d7"/><stop offset="0.65" stop-color="#4331c7"/><stop offset="0.7" stop-color="#422ec0"/><stop offset="0.75" stop-color="#422fc2"/><stop offset="0.8" stop-color="#4332c9"/><stop offset="0.85" stop-color="#4434cf"/><stop offset="0.9" stop-color="#4435d1"/><stop offset="0.95" stop-color="#4435d0"/><stop offset="1" stop-color="#4434ce"/></linearGradient>
<linearGradient id="gb35" gradientUnits="userSpaceOnUse" x1="516.1" y1="185.3" x2="547.3" y2="112.5"><stop offset="0" stop-color="#4331c6"/><stop offset="0.05" stop-color="#4537d7"/><stop offset="0.1" stop-color="#4744e9"/><stop offset="0.15" stop-color="#4755f6"/><stop offset="0.2" stop-color="#4465fd"/><stop offset="0.25" stop-color="#3e6fff"/><stop offset="0.3" stop-color="#3d71ff"/><stop offset="0.35" stop-color="#426afe"/><stop offset="0.4" stop-color="#465ffb"/><stop offset="0.45" stop-color="#4854f5"/><stop offset="0.5" stop-color="#4849ed"/><stop offset="0.55" stop-color="#473ee2"/><stop offset="0.6" stop-color="#4535d2"/><stop offset="0.65" stop-color="#4230c3"/><stop offset="0.7" stop-color="#412dbd"/><stop offset="0.75" stop-color="#422fc0"/><stop offset="0.8" stop-color="#4331c8"/><stop offset="0.85" stop-color="#4434ce"/><stop offset="0.9" stop-color="#4435d0"/><stop offset="0.95" stop-color="#4434d0"/><stop offset="1" stop-color="#4434ce"/></linearGradient>
<linearGradient id="gb36" gradientUnits="userSpaceOnUse" x1="518.4" y1="186.3" x2="549.6" y2="113.5"><stop offset="0" stop-color="#4434cd"/><stop offset="0.05" stop-color="#463cdf"/><stop offset="0.1" stop-color="#484aee"/><stop offset="0.15" stop-color="#4758f8"/><stop offset="0.2" stop-color="#4563fc"/><stop offset="0.25" stop-color="#4367fd"/><stop offset="0.3" stop-color="#4563fd"/><stop offset="0.35" stop-color="#475bfa"/><stop offset="0.4" stop-color="#4853f4"/><stop offset="0.45" stop-color="#484aee"/><stop offset="0.5" stop-color="#4743e7"/><stop offset="0.55" stop-color="#463bdd"/><stop offset="0.6" stop-color="#4434cf"/><stop offset="0.65" stop-color="#422fc1"/><stop offset="0.7" stop-color="#412dbc"/><stop offset="0.75" stop-color="#422ec0"/><stop offset="0.8" stop-color="#4331c7"/><stop offset="0.85" stop-color="#4433cd"/><stop offset="0.9" stop-color="#4434cf"/><stop offset="0.95" stop-color="#4434cf"/><stop offset="1" stop-color="#4434ce"/></linearGradient>
<linearGradient id="gb37" gradientUnits="userSpaceOnUse" x1="520.6" y1="187.3" x2="551.8" y2="114.4"><stop offset="0" stop-color="#4537d6"/><stop offset="0.05" stop-color="#4741e5"/><stop offset="0.1" stop-color="#484df1"/><stop offset="0.15" stop-color="#4758f8"/><stop offset="0.2" stop-color="#475dfa"/><stop offset="0.25" stop-color="#475cfa"/><stop offset="0.3" stop-color="#4756f7"/><stop offset="0.35" stop-color="#484ff2"/><stop offset="0.4" stop-color="#4849ed"/><stop offset="0.45" stop-color="#4744e8"/><stop offset="0.5" stop-color="#473fe3"/><stop offset="0.55" stop-color="#4639da"/><stop offset="0.6" stop-color="#4434cd"/><stop offset="0.65" stop-color="#422fc1"/><stop offset="0.7" stop-color="#412dbc"/><stop offset="0.75" stop-color="#422ec0"/><stop offset="0.8" stop-color="#4331c7"/><stop offset="0.85" stop-color="#4433cd"/><stop offset="0.9" stop-color="#4434cf"/><stop offset="0.95" stop-color="#4434cf"/><stop offset="1" stop-color="#4433cd"/></linearGradient>
<linearGradient id="gb38" gradientUnits="userSpaceOnUse" x1="522.9" y1="188.2" x2="554.1" y2="115.4"><stop offset="0" stop-color="#463adc"/><stop offset="0.05" stop-color="#4744e8"/><stop offset="0.1" stop-color="#484ef1"/><stop offset="0.15" stop-color="#4854f5"/><stop offset="0.2" stop-color="#4755f6"/><stop offset="0.25" stop-color="#4851f4"/><stop offset="0.3" stop-color="#484cf0"/><stop offset="0.35" stop-color="#4747eb"/><stop offset="0.4" stop-color="#4743e8"/><stop offset="0.45" stop-color="#4741e4"/><stop offset="0.5" stop-color="#463de0"/><stop offset="0.55" stop-color="#4539d9"/><stop offset="0.6" stop-color="#4433cd"/><stop offset="0.65" stop-color="#422fc2"/><stop offset="0.7" stop-color="#412ebe"/><stop offset="0.75" stop-color="#422fc1"/><stop offset="0.8" stop-color="#4331c7"/><stop offset="0.85" stop-color="#4433cd"/><stop offset="0.9" stop-color="#4434cf"/><stop offset="0.95" stop-color="#4434ce"/><stop offset="1" stop-color="#4433cd"/></linearGradient>
<linearGradient id="gb39" gradientUnits="userSpaceOnUse" x1="525.2" y1="189.2" x2="556.4" y2="116.4"><stop offset="0" stop-color="#463de0"/><stop offset="0.05" stop-color="#4745e9"/><stop offset="0.1" stop-color="#484cef"/><stop offset="0.15" stop-color="#484ef1"/><stop offset="0.2" stop-color="#484df1"/><stop offset="0.25" stop-color="#484aed"/><stop offset="0.3" stop-color="#4745e9"/><stop offset="0.35" stop-color="#4742e6"/><stop offset="0.4" stop-color="#4740e4"/><stop offset="0.45" stop-color="#473ee2"/><stop offset="0.5" stop-color="#463cdf"/><stop offset="0.55" stop-color="#4538d8"/><stop offset="0.6" stop-color="#4434ce"/><stop offset="0.65" stop-color="#4230c4"/><stop offset="0.7" stop-color="#422ec0"/><stop offset="0.75" stop-color="#422fc2"/><stop offset="0.8" stop-color="#4331c8"/><stop offset="0.85" stop-color="#4433cd"/><stop offset="0.9" stop-color="#4434ce"/><stop offset="0.95" stop-color="#4434ce"/><stop offset="1" stop-color="#4433cd"/></linearGradient>
<linearGradient id="gb40" gradientUnits="userSpaceOnUse" x1="527.5" y1="190.2" x2="558.7" y2="117.4"><stop offset="0" stop-color="#473ee1"/><stop offset="0.05" stop-color="#4744e8"/><stop offset="0.1" stop-color="#4848ec"/><stop offset="0.15" stop-color="#4848ec"/><stop offset="0.2" stop-color="#4746ea"/><stop offset="0.25" stop-color="#4743e7"/><stop offset="0.3" stop-color="#4740e4"/><stop offset="0.35" stop-color="#473fe2"/><stop offset="0.4" stop-color="#463ee1"/><stop offset="0.45" stop-color="#463de0"/><stop offset="0.5" stop-color="#463bdd"/><stop offset="0.55" stop-color="#4538d7"/><stop offset="0.6" stop-color="#4434cf"/><stop offset="0.65" stop-color="#4331c6"/><stop offset="0.7" stop-color="#422fc2"/><stop offset="0.75" stop-color="#4230c4"/><stop offset="0.8" stop-color="#4332c9"/><stop offset="0.85" stop-color="#4433cd"/><stop offset="0.9" stop-color="#4434ce"/><stop offset="0.95" stop-color="#4434ce"/><stop offset="1" stop-color="#4433cc"/></linearGradient>
<linearGradient id="gb41" gradientUnits="userSpaceOnUse" x1="529.7" y1="191.2" x2="560.9" y2="118.3"><stop offset="0" stop-color="#473ee1"/><stop offset="0.05" stop-color="#4742e6"/><stop offset="0.1" stop-color="#4744e8"/><stop offset="0.15" stop-color="#4743e7"/><stop offset="0.2" stop-color="#4740e4"/><stop offset="0.25" stop-color="#473ee1"/><stop offset="0.3" stop-color="#463ddf"/><stop offset="0.35" stop-color="#463cdf"/><stop offset="0.4" stop-color="#463cde"/><stop offset="0.45" stop-color="#463cde"/><stop offset="0.5" stop-color="#463adc"/><stop offset="0.55" stop-color="#4538d7"/><stop offset="0.6" stop-color="#4434d0"/><stop offset="0.65" stop-color="#4332c8"/><stop offset="0.7" stop-color="#4330c5"/><stop offset="0.75" stop-color="#4331c7"/><stop offset="0.8" stop-color="#4332ca"/><stop offset="0.85" stop-color="#4433cd"/><stop offset="0.9" stop-color="#4434ce"/><stop offset="0.95" stop-color="#4433cd"/><stop offset="1" stop-color="#4433cc"/></linearGradient>
<linearGradient id="gb42" gradientUnits="userSpaceOnUse" x1="532.0" y1="192.1" x2="563.2" y2="119.3"><stop offset="0" stop-color="#463de0"/><stop offset="0.05" stop-color="#473fe3"/><stop offset="0.1" stop-color="#473fe3"/><stop offset="0.15" stop-color="#463ee1"/><stop offset="0.2" stop-color="#463cde"/><stop offset="0.25" stop-color="#463bdc"/><stop offset="0.3" stop-color="#463adb"/><stop offset="0.35" stop-color="#463adc"/><stop offset="0.4" stop-color="#463bdc"/><stop offset="0.45" stop-color="#463bdc"/><stop offset="0.5" stop-color="#463adb"/><stop offset="0.55" stop-color="#4538d7"/><stop offset="0.6" stop-color="#4435d1"/><stop offset="0.65" stop-color="#4432cb"/><stop offset="0.7" stop-color="#4331c8"/><stop offset="0.75" stop-color="#4332c9"/><stop offset="0.8" stop-color="#4433cb"/><stop offset="0.85" stop-color="#4433cd"/><stop offset="0.9" stop-color="#4434ce"/><stop offset="0.95" stop-color="#4433cd"/><stop offset="1" stop-color="#4433cc"/></linearGradient>
<linearGradient id="gb43" gradientUnits="userSpaceOnUse" x1="534.3" y1="193.1" x2="565.5" y2="120.3"><stop offset="0" stop-color="#463cdf"/><stop offset="0.05" stop-color="#463ddf"/><stop offset="0.1" stop-color="#463cde"/><stop offset="0.15" stop-color="#463adb"/><stop offset="0.2" stop-color="#4639d9"/><stop offset="0.25" stop-color="#4538d8"/><stop offset="0.3" stop-color="#4539d9"/><stop offset="0.35" stop-color="#4639da"/><stop offset="0.4" stop-color="#463adb"/><stop offset="0.45" stop-color="#463adb"/><stop offset="0.5" stop-color="#4639da"/><stop offset="0.55" stop-color="#4538d7"/><stop offset="0.6" stop-color="#4435d2"/><stop offset="0.65" stop-color="#4433cd"/><stop offset="0.7" stop-color="#4332ca"/><stop offset="0.75" stop-color="#4332cb"/><stop offset="0.8" stop-color="#4433cc"/><stop offset="0.85" stop-color="#4434cd"/><stop offset="0.9" stop-color="#4434cd"/><stop offset="0.95" stop-color="#4433cd"/><stop offset="1" stop-color="#4433cc"/></linearGradient>
<linearGradient id="gc0" href="#pg" gradientUnits="userSpaceOnUse" x1="763.3" y1="136.5" x2="731.6" y2="60.1"/>
<linearGradient id="gc1" href="#pg" gradientUnits="userSpaceOnUse" x1="764.9" y1="137.4" x2="733.2" y2="61.0"/>
<linearGradient id="gc2" href="#pg" gradientUnits="userSpaceOnUse" x1="766.6" y1="138.3" x2="734.9" y2="61.9"/>
<linearGradient id="gc3" href="#pg" gradientUnits="userSpaceOnUse" x1="768.2" y1="139.2" x2="736.5" y2="62.8"/>
<linearGradient id="gc4" href="#pg" gradientUnits="userSpaceOnUse" x1="769.8" y1="140.1" x2="738.1" y2="63.7"/>
<linearGradient id="gc5" href="#pg" gradientUnits="userSpaceOnUse" x1="771.4" y1="141.0" x2="739.7" y2="64.6"/>
<linearGradient id="gc6" href="#pg" gradientUnits="userSpaceOnUse" x1="773.0" y1="141.9" x2="741.3" y2="65.6"/>
<linearGradient id="gc7" href="#pg" gradientUnits="userSpaceOnUse" x1="774.7" y1="142.8" x2="743.0" y2="66.5"/>
<linearGradient id="gc8" href="#pg" gradientUnits="userSpaceOnUse" x1="776.3" y1="143.7" x2="744.6" y2="67.4"/>
<linearGradient id="gc9" href="#pg" gradientUnits="userSpaceOnUse" x1="777.9" y1="144.6" x2="746.2" y2="68.3"/>
<linearGradient id="gc10" href="#pg" gradientUnits="userSpaceOnUse" x1="779.5" y1="145.5" x2="747.8" y2="69.2"/>
<linearGradient id="gc11" href="#pg" gradientUnits="userSpaceOnUse" x1="781.1" y1="146.4" x2="749.4" y2="70.1"/>
<linearGradient id="gc12" href="#pg" gradientUnits="userSpaceOnUse" x1="782.8" y1="147.3" x2="751.1" y2="71.0"/>
<linearGradient id="gc13" href="#pg" gradientUnits="userSpaceOnUse" x1="784.4" y1="148.2" x2="752.7" y2="71.9"/>
<linearGradient id="gc14" href="#pg" gradientUnits="userSpaceOnUse" x1="786.0" y1="149.2" x2="754.3" y2="72.8"/>
<linearGradient id="gc15" href="#pg" gradientUnits="userSpaceOnUse" x1="787.6" y1="150.1" x2="755.9" y2="73.7"/>
<linearGradient id="gc16" href="#pg" gradientUnits="userSpaceOnUse" x1="789.3" y1="151.0" x2="757.6" y2="74.6"/>
<linearGradient id="gc17" href="#pg" gradientUnits="userSpaceOnUse" x1="790.9" y1="151.9" x2="759.2" y2="75.5"/>
<linearGradient id="gc18" href="#pg" gradientUnits="userSpaceOnUse" x1="792.5" y1="152.8" x2="760.8" y2="76.4"/>
<linearGradient id="gc19" href="#pg" gradientUnits="userSpaceOnUse" x1="794.1" y1="153.7" x2="762.4" y2="77.3"/>
<linearGradient id="gc20" href="#pg" gradientUnits="userSpaceOnUse" x1="795.7" y1="154.6" x2="764.0" y2="78.3"/>
<linearGradient id="gc21" href="#pg" gradientUnits="userSpaceOnUse" x1="797.4" y1="155.5" x2="765.7" y2="79.2"/>
<linearGradient id="gc22" href="#pg" gradientUnits="userSpaceOnUse" x1="799.0" y1="156.4" x2="767.3" y2="80.1"/>
<linearGradient id="gc23" href="#pg" gradientUnits="userSpaceOnUse" x1="800.6" y1="157.3" x2="768.9" y2="81.0"/>
<linearGradient id="gc24" href="#pg" gradientUnits="userSpaceOnUse" x1="802.2" y1="158.2" x2="770.5" y2="81.9"/>
<linearGradient id="gc25" href="#pg" gradientUnits="userSpaceOnUse" x1="803.8" y1="159.1" x2="772.1" y2="82.8"/>
<linearGradient id="gc26" href="#pg" gradientUnits="userSpaceOnUse" x1="805.5" y1="160.0" x2="773.8" y2="83.7"/>
<linearGradient id="gc27" href="#pg" gradientUnits="userSpaceOnUse" x1="807.1" y1="160.9" x2="775.4" y2="84.6"/>
<linearGradient id="gc28" href="#pg" gradientUnits="userSpaceOnUse" x1="808.7" y1="161.9" x2="777.0" y2="85.5"/>
<linearGradient id="gc29" href="#pg" gradientUnits="userSpaceOnUse" x1="810.3" y1="162.8" x2="778.6" y2="86.4"/>
<linearGradient id="gc30" href="#pg" gradientUnits="userSpaceOnUse" x1="812.0" y1="163.7" x2="780.3" y2="87.3"/>
<linearGradient id="gc31" href="#pg" gradientUnits="userSpaceOnUse" x1="813.6" y1="164.6" x2="781.9" y2="88.2"/>
<linearGradient id="gc32" href="#pg" gradientUnits="userSpaceOnUse" x1="815.2" y1="165.5" x2="783.5" y2="89.1"/>
<linearGradient id="gc33" href="#pg" gradientUnits="userSpaceOnUse" x1="816.8" y1="166.4" x2="785.1" y2="90.0"/>
<linearGradient id="gc34" href="#pg" gradientUnits="userSpaceOnUse" x1="818.4" y1="167.3" x2="786.7" y2="91.0"/>
<linearGradient id="gc35" href="#pg" gradientUnits="userSpaceOnUse" x1="820.1" y1="168.2" x2="788.4" y2="91.9"/>
<linearGradient id="gc36" href="#pg" gradientUnits="userSpaceOnUse" x1="821.7" y1="169.1" x2="790.0" y2="92.8"/>
<linearGradient id="gc37" href="#pg" gradientUnits="userSpaceOnUse" x1="823.3" y1="170.0" x2="791.6" y2="93.7"/>
<linearGradient id="gc38" href="#pg" gradientUnits="userSpaceOnUse" x1="824.9" y1="170.9" x2="793.2" y2="94.6"/>
<linearGradient id="gc39" href="#pg" gradientUnits="userSpaceOnUse" x1="826.5" y1="171.8" x2="794.8" y2="95.5"/>
<linearGradient id="gc40" href="#pg" gradientUnits="userSpaceOnUse" x1="828.2" y1="172.7" x2="796.5" y2="96.4"/>
<linearGradient id="gc41" href="#pg" gradientUnits="userSpaceOnUse" x1="829.8" y1="173.6" x2="798.1" y2="97.3"/>
<linearGradient id="gc42" href="#pg" gradientUnits="userSpaceOnUse" x1="831.4" y1="174.6" x2="799.7" y2="98.2"/>
<linearGradient id="gc43" href="#pg" gradientUnits="userSpaceOnUse" x1="833.0" y1="175.5" x2="801.3" y2="99.1"/>
<linearGradient id="gc44" href="#pg" gradientUnits="userSpaceOnUse" x1="834.7" y1="176.4" x2="803.0" y2="100.0"/>
<linearGradient id="gc45" href="#pg" gradientUnits="userSpaceOnUse" x1="836.3" y1="177.3" x2="804.6" y2="100.9"/>
<linearGradient id="gc46" href="#pg" gradientUnits="userSpaceOnUse" x1="837.9" y1="178.2" x2="806.2" y2="101.8"/>
<linearGradient id="gc47" href="#pg" gradientUnits="userSpaceOnUse" x1="839.5" y1="179.1" x2="807.8" y2="102.7"/>
<linearGradient id="gc48" href="#pg" gradientUnits="userSpaceOnUse" x1="841.1" y1="180.0" x2="809.4" y2="103.7"/>
<linearGradient id="gc49" href="#pg" gradientUnits="userSpaceOnUse" x1="842.8" y1="180.9" x2="811.1" y2="104.6"/>
<linearGradient id="gc50" href="#pg" gradientUnits="userSpaceOnUse" x1="844.4" y1="181.8" x2="812.7" y2="105.5"/>
<linearGradient id="gc51" href="#pg" gradientUnits="userSpaceOnUse" x1="846.0" y1="182.7" x2="814.3" y2="106.4"/>
<linearGradient id="gc52" href="#pg" gradientUnits="userSpaceOnUse" x1="847.6" y1="183.6" x2="815.9" y2="107.3"/>
<linearGradient id="gc53" href="#pg" gradientUnits="userSpaceOnUse" x1="849.2" y1="184.5" x2="817.5" y2="108.2"/>
<linearGradient id="gc54" href="#pg" gradientUnits="userSpaceOnUse" x1="850.9" y1="185.4" x2="819.2" y2="109.1"/>
<linearGradient id="gc55" href="#pg" gradientUnits="userSpaceOnUse" x1="852.5" y1="186.3" x2="820.8" y2="110.0"/>
<linearGradient id="gd0" href="#pg" gradientUnits="userSpaceOnUse" x1="88.2" y1="369.4" x2="56.1" y2="302.2"/>
<linearGradient id="gd1" href="#pg" gradientUnits="userSpaceOnUse" x1="89.9" y1="370.3" x2="57.8" y2="303.1"/>
<linearGradient id="gd2" href="#pg" gradientUnits="userSpaceOnUse" x1="91.6" y1="371.2" x2="59.5" y2="304.0"/>
<linearGradient id="gd3" href="#pg" gradientUnits="userSpaceOnUse" x1="93.3" y1="372.1" x2="61.2" y2="304.9"/>
<linearGradient id="gd4" href="#pg" gradientUnits="userSpaceOnUse" x1="95.0" y1="373.0" x2="63.0" y2="305.8"/>
<linearGradient id="gd5" href="#pg" gradientUnits="userSpaceOnUse" x1="96.7" y1="373.9" x2="64.7" y2="306.7"/>
<linearGradient id="gd6" href="#pg" gradientUnits="userSpaceOnUse" x1="98.5" y1="374.8" x2="66.4" y2="307.6"/>
<linearGradient id="gd7" href="#pg" gradientUnits="userSpaceOnUse" x1="100.2" y1="375.7" x2="68.1" y2="308.5"/>
<linearGradient id="gd8" href="#pg" gradientUnits="userSpaceOnUse" x1="101.9" y1="376.6" x2="69.8" y2="309.4"/>
<linearGradient id="gd9" href="#pg" gradientUnits="userSpaceOnUse" x1="103.6" y1="377.5" x2="71.5" y2="310.3"/>
<linearGradient id="gd10" href="#pg" gradientUnits="userSpaceOnUse" x1="105.3" y1="378.4" x2="73.3" y2="311.2"/>
<linearGradient id="gd11" href="#pg" gradientUnits="userSpaceOnUse" x1="107.0" y1="379.3" x2="75.0" y2="312.1"/>
<linearGradient id="gd12" href="#pg" gradientUnits="userSpaceOnUse" x1="108.8" y1="380.2" x2="76.7" y2="313.0"/>
<linearGradient id="gd13" href="#pg" gradientUnits="userSpaceOnUse" x1="110.5" y1="381.1" x2="78.4" y2="313.9"/>
<linearGradient id="gd14" href="#pg" gradientUnits="userSpaceOnUse" x1="112.2" y1="382.0" x2="80.1" y2="314.8"/>
<linearGradient id="gd15" href="#pg" gradientUnits="userSpaceOnUse" x1="113.9" y1="382.9" x2="81.8" y2="315.7"/>
<linearGradient id="gd16" href="#pg" gradientUnits="userSpaceOnUse" x1="115.6" y1="383.8" x2="83.6" y2="316.6"/>
<linearGradient id="gd17" href="#pg" gradientUnits="userSpaceOnUse" x1="117.3" y1="384.7" x2="85.3" y2="317.5"/>
<linearGradient id="gd18" href="#pg" gradientUnits="userSpaceOnUse" x1="119.0" y1="385.6" x2="87.0" y2="318.4"/>
<linearGradient id="gd19" href="#pg" gradientUnits="userSpaceOnUse" x1="120.8" y1="386.5" x2="88.7" y2="319.3"/>
<linearGradient id="gd20" href="#pg" gradientUnits="userSpaceOnUse" x1="122.5" y1="387.4" x2="90.4" y2="320.2"/>
<linearGradient id="gd21" href="#pg" gradientUnits="userSpaceOnUse" x1="124.2" y1="388.3" x2="92.1" y2="321.1"/>
<linearGradient id="gd22" href="#pg" gradientUnits="userSpaceOnUse" x1="125.9" y1="389.2" x2="93.8" y2="322.0"/>
<linearGradient id="gd23" href="#pg" gradientUnits="userSpaceOnUse" x1="127.6" y1="390.1" x2="95.6" y2="322.9"/>
<linearGradient id="gd24" href="#pg" gradientUnits="userSpaceOnUse" x1="129.3" y1="391.0" x2="97.3" y2="323.8"/>
<linearGradient id="gd25" href="#pg" gradientUnits="userSpaceOnUse" x1="131.1" y1="391.9" x2="99.0" y2="324.7"/>
<linearGradient id="gd26" href="#pg" gradientUnits="userSpaceOnUse" x1="132.8" y1="392.8" x2="100.7" y2="325.6"/>
<linearGradient id="gd27" href="#pg" gradientUnits="userSpaceOnUse" x1="134.5" y1="393.7" x2="102.4" y2="326.5"/>
<linearGradient id="gd28" href="#pg" gradientUnits="userSpaceOnUse" x1="136.2" y1="394.7" x2="104.1" y2="327.5"/>
<linearGradient id="gd29" href="#pg" gradientUnits="userSpaceOnUse" x1="137.9" y1="395.6" x2="105.9" y2="328.4"/>
<linearGradient id="gd30" href="#pg" gradientUnits="userSpaceOnUse" x1="139.6" y1="396.5" x2="107.6" y2="329.3"/>
<linearGradient id="gd31" href="#pg" gradientUnits="userSpaceOnUse" x1="141.4" y1="397.4" x2="109.3" y2="330.2"/>
<linearGradient id="gd32" href="#pg" gradientUnits="userSpaceOnUse" x1="143.1" y1="398.3" x2="111.0" y2="331.1"/>
<linearGradient id="gd33" href="#pg" gradientUnits="userSpaceOnUse" x1="144.8" y1="399.2" x2="112.7" y2="332.0"/>
<linearGradient id="gd34" href="#pg" gradientUnits="userSpaceOnUse" x1="146.5" y1="400.1" x2="114.4" y2="332.9"/>
<linearGradient id="gd35" href="#pg" gradientUnits="userSpaceOnUse" x1="148.2" y1="401.0" x2="116.2" y2="333.8"/>
<linearGradient id="gd36" href="#pg" gradientUnits="userSpaceOnUse" x1="149.9" y1="401.9" x2="117.9" y2="334.7"/>
<linearGradient id="gd37" href="#pg" gradientUnits="userSpaceOnUse" x1="151.7" y1="402.8" x2="119.6" y2="335.6"/>
<linearGradient id="gd38" href="#pg" gradientUnits="userSpaceOnUse" x1="153.4" y1="403.7" x2="121.3" y2="336.5"/>
<linearGradient id="gd39" href="#pg" gradientUnits="userSpaceOnUse" x1="155.1" y1="404.6" x2="123.0" y2="337.4"/>
<linearGradient id="gd40" href="#pg" gradientUnits="userSpaceOnUse" x1="156.8" y1="405.5" x2="124.7" y2="338.3"/>
<linearGradient id="gd41" href="#pg" gradientUnits="userSpaceOnUse" x1="158.5" y1="406.4" x2="126.5" y2="339.2"/>
<linearGradient id="gd42" href="#pg" gradientUnits="userSpaceOnUse" x1="160.2" y1="407.3" x2="128.2" y2="340.1"/>
<linearGradient id="gd43" href="#pg" gradientUnits="userSpaceOnUse" x1="161.9" y1="408.2" x2="129.9" y2="341.0"/>
<linearGradient id="gd44" href="#pg" gradientUnits="userSpaceOnUse" x1="163.7" y1="409.1" x2="131.6" y2="341.9"/>
<linearGradient id="gd45" href="#pg" gradientUnits="userSpaceOnUse" x1="165.4" y1="410.0" x2="133.3" y2="342.8"/>
<linearGradient id="gd46" href="#pg" gradientUnits="userSpaceOnUse" x1="167.1" y1="410.9" x2="135.0" y2="343.7"/>
<linearGradient id="gd47" href="#pg" gradientUnits="userSpaceOnUse" x1="168.8" y1="411.8" x2="136.7" y2="344.6"/>
<linearGradient id="gd48" href="#pg" gradientUnits="userSpaceOnUse" x1="170.5" y1="412.7" x2="138.5" y2="345.5"/>
<linearGradient id="gd49" href="#pg" gradientUnits="userSpaceOnUse" x1="172.2" y1="413.6" x2="140.2" y2="346.4"/>
<linearGradient id="gd50" href="#pg" gradientUnits="userSpaceOnUse" x1="174.0" y1="414.5" x2="141.9" y2="347.3"/>
<linearGradient id="gd51" href="#pg" gradientUnits="userSpaceOnUse" x1="175.7" y1="415.4" x2="143.6" y2="348.2"/>
<linearGradient id="gd52" href="#pg" gradientUnits="userSpaceOnUse" x1="177.4" y1="416.3" x2="145.3" y2="349.1"/>
<linearGradient id="gd53" href="#pg" gradientUnits="userSpaceOnUse" x1="179.1" y1="417.2" x2="147.0" y2="350.0"/>
<linearGradient id="gd54" href="#pg" gradientUnits="userSpaceOnUse" x1="180.8" y1="418.1" x2="148.8" y2="350.9"/>
<linearGradient id="gd55" href="#pg" gradientUnits="userSpaceOnUse" x1="182.5" y1="419.0" x2="150.5" y2="351.8"/>
<linearGradient id="ge0" gradientUnits="userSpaceOnUse" x1="438.5" y1="360.1" x2="489.8" y2="279.9"><stop offset="0" stop-color="#4536d3"/><stop offset="0.05" stop-color="#4536d3"/><stop offset="0.1" stop-color="#4536d4"/><stop offset="0.15" stop-color="#4536d4"/><stop offset="0.2" stop-color="#4536d4"/><stop offset="0.25" stop-color="#4536d5"/><stop offset="0.3" stop-color="#4538d7"/><stop offset="0.35" stop-color="#463de0"/><stop offset="0.4" stop-color="#484bee"/><stop offset="0.45" stop-color="#4367fd"/><stop offset="0.5" stop-color="#2b91ef"/><stop offset="0.55" stop-color="#06b5cf"/><stop offset="0.6" stop-color="#2dc4a5"/><stop offset="0.65" stop-color="#2fc5a3"/><stop offset="0.7" stop-color="#14b0d8"/><stop offset="0.75" stop-color="#307ffb"/><stop offset="0.8" stop-color="#4756f7"/><stop offset="0.85" stop-color="#4746ea"/><stop offset="0.9" stop-color="#4741e5"/><stop offset="0.95" stop-color="#4740e4"/><stop offset="1" stop-color="#4740e4"/></linearGradient>
<linearGradient id="ge1" gradientUnits="userSpaceOnUse" x1="440.5" y1="361.4" x2="491.8" y2="281.1"><stop offset="0" stop-color="#4536d5"/><stop offset="0.05" stop-color="#4536d5"/><stop offset="0.1" stop-color="#4536d5"/><stop offset="0.15" stop-color="#4536d5"/><stop offset="0.2" stop-color="#4537d5"/><stop offset="0.25" stop-color="#4537d6"/><stop offset="0.3" stop-color="#4539d9"/><stop offset="0.35" stop-color="#463ee1"/><stop offset="0.4" stop-color="#484cf0"/><stop offset="0.45" stop-color="#4368fe"/><stop offset="0.5" stop-color="#2a93ee"/><stop offset="0.55" stop-color="#04b6cd"/><stop offset="0.6" stop-color="#2fc5a3"/><stop offset="0.65" stop-color="#31c6a0"/><stop offset="0.7" stop-color="#0db3d3"/><stop offset="0.75" stop-color="#2e84f8"/><stop offset="0.8" stop-color="#475af9"/><stop offset="0.85" stop-color="#4848ec"/><stop offset="0.9" stop-color="#4743e7"/><stop offset="0.95" stop-color="#4741e5"/><stop offset="1" stop-color="#4741e5"/></linearGradient>
<linearGradient id="ge2" gradientUnits="userSpaceOnUse" x1="442.5" y1="362.7" x2="493.8" y2="282.4"><stop offset="0" stop-color="#4537d6"/><stop offset="0.05" stop-color="#4537d6"/><stop offset="0.1" stop-color="#4537d6"/><stop offset="0.15" stop-color="#4537d6"/><stop offset="0.2" stop-color="#4537d6"/><stop offset="0.25" stop-color="#4537d7"/><stop offset="0.3" stop-color="#4639da"/><stop offset="0.35" stop-color="#473fe2"/><stop offset="0.4" stop-color="#484ef1"/><stop offset="0.45" stop-color="#416afe"/><stop offset="0.5" stop-color="#2995ec"/><stop offset="0.55" stop-color="#02b7cb"/><stop offset="0.6" stop-color="#30c5a1"/><stop offset="0.65" stop-color="#33c69e"/><stop offset="0.7" stop-color="#07b5cf"/><stop offset="0.75" stop-color="#2d89f5"/><stop offset="0.8" stop-color="#465ffb"/><stop offset="0.85" stop-color="#484bef"/><stop offset="0.9" stop-color="#4744e9"/><stop offset="0.95" stop-color="#4743e7"/><stop offset="1" stop-color="#4742e7"/></linearGradient>
<linearGradient id="ge3" gradientUnits="userSpaceOnUse" x1="444.5" y1="364.0" x2="495.8" y2="283.7"><stop offset="0" stop-color="#4537d6"/><stop offset="0.05" stop-color="#4537d6"/><stop offset="0.1" stop-color="#4537d6"/><stop offset="0.15" stop-color="#4537d6"/><stop offset="0.2" stop-color="#4538d7"/><stop offset="0.25" stop-color="#4538d8"/><stop offset="0.3" stop-color="#463adb"/><stop offset="0.35" stop-color="#4740e4"/><stop offset="0.4" stop-color="#484ff2"/><stop offset="0.45" stop-color="#406dfe"/><stop offset="0.5" stop-color="#2797eb"/><stop offset="0.55" stop-color="#01b8c9"/><stop offset="0.6" stop-color="#32c69f"/><stop offset="0.65" stop-color="#35c79b"/><stop offset="0.7" stop-color="#02b7cb"/><stop offset="0.75" stop-color="#2c8ef2"/><stop offset="0.8" stop-color="#4563fd"/><stop offset="0.85" stop-color="#484ef1"/><stop offset="0.9" stop-color="#4746ea"/><stop offset="0.95" stop-color="#4744e8"/><stop offset="1" stop-color="#4744e8"/></linearGradient>
<linearGradient id="ge4" gradientUnits="userSpaceOnUse" x1="446.5" y1="365.2" x2="497.8" y2="285.0"><stop offset="0" stop-color="#4538d7"/><stop offset="0.05" stop-color="#4538d7"/><stop offset="0.1" stop-color="#4538d7"/><stop offset="0.15" stop-color="#4538d7"/><stop offset="0.2" stop-color="#4538d8"/><stop offset="0.25" stop-color="#4539d9"/><stop offset="0.3" stop-color="#463bdc"/><stop offset="0.35" stop-color="#4741e5"/><stop offset="0.4" stop-color="#4851f3"/><stop offset="0.45" stop-color="#3f6fff"/><stop offset="0.5" stop-color="#2699ea"/><stop offset="0.55" stop-color="#01b9c7"/><stop offset="0.6" stop-color="#34c79c"/><stop offset="0.65" stop-color="#36c898"/><stop offset="0.7" stop-color="#01b9c7"/><stop offset="0.75" stop-color="#2b92ee"/><stop offset="0.8" stop-color="#4367fd"/><stop offset="0.85" stop-color="#4851f3"/><stop offset="0.9" stop-color="#4848ec"/><stop offset="0.95" stop-color="#4746ea"/><stop offset="1" stop-color="#4745e9"/></linearGradient>
<linearGradient id="ge5" gradientUnits="userSpaceOnUse" x1="448.5" y1="366.5" x2="499.8" y2="286.2"><stop offset="0" stop-color="#4538d8"/><stop offset="0.05" stop-color="#4538d8"/><stop offset="0.1" stop-color="#4538d8"/><stop offset="0.15" stop-color="#4538d8"/><stop offset="0.2" stop-color="#4539d9"/><stop offset="0.25" stop-color="#4639da"/><stop offset="0.3" stop-color="#463bdd"/><stop offset="0.35" stop-color="#4742e6"/><stop offset="0.4" stop-color="#4852f4"/><stop offset="0.45" stop-color="#3c71ff"/><stop offset="0.5" stop-color="#269ae8"/><stop offset="0.55" stop-color="#02bac4"/><stop offset="0.6" stop-color="#35c79a"/><stop offset="0.65" stop-color="#39c895"/><stop offset="0.7" stop-color="#02bbc3"/><stop offset="0.75" stop-color="#2896eb"/><stop offset="0.8" stop-color="#406cfe"/><stop offset="0.85" stop-color="#4854f5"/><stop offset="0.9" stop-color="#484aee"/><stop offset="0.95" stop-color="#4747eb"/><stop offset="1" stop-color="#4746ea"/></linearGradient>
<linearGradient id="ge6" gradientUnits="userSpaceOnUse" x1="450.5" y1="367.8" x2="501.8" y2="287.5"><stop offset="0" stop-color="#4539d9"/><stop offset="0.05" stop-color="#4539d9"/><stop offset="0.1" stop-color="#4539d9"/><stop offset="0.15" stop-color="#4639d9"/><stop offset="0.2" stop-color="#4639d9"/><stop offset="0.25" stop-color="#463adb"/><stop offset="0.3" stop-color="#463cdf"/><stop offset="0.35" stop-color="#4743e7"/><stop offset="0.4" stop-color="#4854f5"/><stop offset="0.45" stop-color="#3a73fe"/><stop offset="0.5" stop-color="#259ce7"/><stop offset="0.55" stop-color="#04bbc2"/><stop offset="0.6" stop-color="#37c897"/><stop offset="0.65" stop-color="#3bc992"/><stop offset="0.7" stop-color="#08bcbf"/><stop offset="0.75" stop-color="#269ae9"/><stop offset="0.8" stop-color="#3d70ff"/><stop offset="0.85" stop-color="#4757f7"/><stop offset="0.9" stop-color="#484cf0"/><stop offset="0.95" stop-color="#4848ec"/><stop offset="1" stop-color="#4848ec"/></linearGradient>
<linearGradient id="ge7" gradientUnits="userSpaceOnUse" x1="452.5" y1="369.1" x2="503.8" y2="288.8"><stop offset="0" stop-color="#4639da"/><stop offset="0.05" stop-color="#4639da"/><stop offset="0.1" stop-color="#4639da"/><stop offset="0.15" stop-color="#4639da"/><stop offset="0.2" stop-color="#463ada"/><stop offset="0.25" stop-color="#463adc"/><stop offset="0.3" stop-color="#463de0"/><stop offset="0.35" stop-color="#4745e9"/><stop offset="0.4" stop-color="#4756f7"/><stop offset="0.45" stop-color="#3876fe"/><stop offset="0.5" stop-color="#249ee6"/><stop offset="0.55" stop-color="#07bcc0"/><stop offset="0.6" stop-color="#39c995"/><stop offset="0.65" stop-color="#3eca8f"/><stop offset="0.7" stop-color="#0ebdbb"/><stop offset="0.75" stop-color="#249de6"/><stop offset="0.8" stop-color="#3975fe"/><stop offset="0.85" stop-color="#475af9"/><stop offset="0.9" stop-color="#484ef1"/><stop offset="0.95" stop-color="#484aee"/><stop offset="1" stop-color="#4849ed"/></linearGradient>
<linearGradient id="ge8" gradientUnits="userSpaceOnUse" x1="454.5" y1="370.4" x2="505.8" y2="290.1"><stop offset="0" stop-color="#463adb"/><stop offset="0.05" stop-color="#463adb"/><stop offset="0.1" stop-color="#463adb"/><stop offset="0.15" stop-color="#463adb"/><stop offset="0.2" stop-color="#463adb"/><stop offset="0.25" stop-color="#463bdd"/><stop offset="0.3" stop-color="#463ee1"/><stop offset="0.35" stop-color="#4746ea"/><stop offset="0.4" stop-color="#4758f8"/><stop offset="0.45" stop-color="#3578fd"/><stop offset="0.5" stop-color="#23a0e5"/><stop offset="0.55" stop-color="#0abdbd"/><stop offset="0.6" stop-color="#3cc992"/><stop offset="0.65" stop-color="#41ca8d"/><stop offset="0.7" stop-color="#15bfb8"/><stop offset="0.75" stop-color="#23a1e4"/><stop offset="0.8" stop-color="#3479fd"/><stop offset="0.85" stop-color="#465dfa"/><stop offset="0.9" stop-color="#4850f3"/><stop offset="0.95" stop-color="#484cef"/><stop offset="1" stop-color="#484aee"/></linearGradient>
<linearGradient id="ge9" gradientUnits="userSpaceOnUse" x1="456.5" y1="371.6" x2="507.8" y2="291.4"><stop offset="0" stop-color="#463adc"/><stop offset="0.05" stop-color="#463adc"/><stop offset="0.1" stop-color="#463adc"/><stop offset="0.15" stop-color="#463adc"/><stop offset="0.2" stop-color="#463bdc"/><stop offset="0.25" stop-color="#463cde"/><stop offset="0.3" stop-color="#473fe2"/><stop offset="0.35" stop-color="#4747eb"/><stop offset="0.4" stop-color="#475af9"/><stop offset="0.45" stop-color="#337bfc"/><stop offset="0.5" stop-color="#22a2e4"/><stop offset="0.55" stop-color="#0fbeba"/><stop offset="0.6" stop-color="#3eca8f"/><stop offset="0.65" stop-color="#44cb8a"/><stop offset="0.7" stop-color="#1bc0b4"/><stop offset="0.75" stop-color="#20a4e3"/><stop offset="0.8" stop-color="#317efb"/><stop offset="0.85" stop-color="#4660fc"/><stop offset="0.9" stop-color="#4853f4"/><stop offset="0.95" stop-color="#484df0"/><stop offset="1" stop-color="#484cef"/></linearGradient>
<linearGradient id="ge10" gradientUnits="userSpaceOnUse" x1="458.5" y1="372.9" x2="509.8" y2="292.6"><stop offset="0" stop-color="#463bdd"/><stop offset="0.05" stop-color="#463bdd"/><stop offset="0.1" stop-color="#463bdd"/><stop offset="0.15" stop-color="#463bdd"/><stop offset="0.2" stop-color="#463bdd"/><stop offset="0.25" stop-color="#463cdf"/><stop offset="0.3" stop-color="#4740e3"/><stop offset="0.35" stop-color="#4849ed"/><stop offset="0.4" stop-color="#475bfa"/><stop offset="0.45" stop-color="#317dfb"/><stop offset="0.5" stop-color="#20a4e3"/><stop offset="0.55" stop-color="#15bfb8"/><stop offset="0.6" stop-color="#41ca8c"/><stop offset="0.65" stop-color="#47cb87"/><stop offset="0.7" stop-color="#20c1b1"/><stop offset="0.75" stop-color="#1ea7e1"/><stop offset="0.8" stop-color="#2f82fa"/><stop offset="0.85" stop-color="#4564fd"/><stop offset="0.9" stop-color="#4755f6"/><stop offset="0.95" stop-color="#484ff2"/><stop offset="1" stop-color="#484df0"/></linearGradient>
<linearGradient id="ge11" gradientUnits="userSpaceOnUse" x1="460.5" y1="374.2" x2="511.8" y2="293.9"><stop offset="0" stop-color="#463bde"/><stop offset="0.05" stop-color="#463bde"/><stop offset="0.1" stop-color="#463bde"/><stop offset="0.15" stop-color="#463bde"/><stop offset="0.2" stop-color="#463cde"/><stop offset="0.25" stop-color="#463de0"/><stop offset="0.3" stop-color="#4741e4"/><stop offset="0.35" stop-color="#484aee"/><stop offset="0.4" stop-color="#465dfb"/><stop offset="0.45" stop-color="#3080fa"/><stop offset="0.5" stop-color="#1ea7e1"/><stop offset="0.55" stop-color="#1abfb5"/><stop offset="0.6" stop-color="#45cb89"/><stop offset="0.65" stop-color="#4bcb84"/><stop offset="0.7" stop-color="#25c2ad"/><stop offset="0.75" stop-color="#1caadf"/><stop offset="0.8" stop-color="#2e85f8"/><stop offset="0.85" stop-color="#4367fd"/><stop offset="0.9" stop-color="#4757f7"/><stop offset="0.95" stop-color="#4851f3"/><stop offset="1" stop-color="#484ef1"/></linearGradient>
<linearGradient id="ge12" gradientUnits="userSpaceOnUse" x1="462.5" y1="375.5" x2="513.8" y2="295.2"><stop offset="0" stop-color="#463cde"/><stop offset="0.05" stop-color="#463cde"/><stop offset="0.1" stop-color="#463cde"/><stop offset="0.15" stop-color="#463cde"/><stop offset="0.2" stop-color="#463cdf"/><stop offset="0.25" stop-color="#463ee1"/><stop offset="0.3" stop-color="#4742e6"/><stop offset="0.35" stop-color="#484cef"/><stop offset="0.4" stop-color="#4660fb"/><stop offset="0.45" stop-color="#2e83f9"/><stop offset="0.5" stop-color="#1da9e0"/><stop offset="0.55" stop-color="#1fc0b2"/><stop offset="0.6" stop-color="#48cb86"/><stop offset="0.65" stop-color="#4ecc81"/><stop offset="0.7" stop-color="#29c3aa"/><stop offset="0.75" stop-color="#19acdc"/><stop offset="0.8" stop-color="#2d89f5"/><stop offset="0.85" stop-color="#426afe"/><stop offset="0.9" stop-color="#475af9"/><stop offset="0.95" stop-color="#4852f4"/><stop offset="1" stop-color="#4850f2"/></linearGradient>
<linearGradient id="ge13" gradientUnits="userSpaceOnUse" x1="464.5" y1="376.7" x2="515.8" y2="296.5"><stop offset="0" stop-color="#463cdf"/><stop offset="0.05" stop-color="#463cdf"/><stop offset="0.1" stop-color="#463cdf"/><stop offset="0.15" stop-color="#463ddf"/><stop offset="0.2" stop-color="#463de0"/><stop offset="0.25" stop-color="#473ee2"/><stop offset="0.3" stop-color="#4743e7"/><stop offset="0.35" stop-color="#484df0"/><stop offset="0.4" stop-color="#4562fc"/><stop offset="0.45" stop-color="#2e85f8"/><stop offset="0.5" stop-color="#1babde"/><stop offset="0.55" stop-color="#23c1af"/><stop offset="0.6" stop-color="#4ccb82"/><stop offset="0.65" stop-color="#52cc7e"/><stop offset="0.7" stop-color="#2cc4a7"/><stop offset="0.75" stop-color="#16afda"/><stop offset="0.8" stop-color="#2d8cf3"/><stop offset="0.85" stop-color="#3f6efe"/><stop offset="0.9" stop-color="#475cfa"/><stop offset="0.95" stop-color="#4854f5"/><stop offset="1" stop-color="#4851f3"/></linearGradient>
<linearGradient id="ge14" gradientUnits="userSpaceOnUse" x1="466.5" y1="378.0" x2="517.8" y2="297.7"><stop offset="0" stop-color="#463de0"/><stop offset="0.05" stop-color="#463de0"/><stop offset="0.1" stop-color="#463de0"/><stop offset="0.15" stop-color="#463de0"/><stop offset="0.2" stop-color="#463ee1"/><stop offset="0.25" stop-color="#473fe3"/><stop offset="0.3" stop-color="#4744e8"/><stop offset="0.35" stop-color="#484ff2"/><stop offset="0.4" stop-color="#4564fd"/><stop offset="0.45" stop-color="#2d88f6"/><stop offset="0.5" stop-color="#19addc"/><stop offset="0.55" stop-color="#27c2ac"/><stop offset="0.6" stop-color="#51cc7f"/><stop offset="0.65" stop-color="#56cc7b"/><stop offset="0.7" stop-color="#2ec5a4"/><stop offset="0.75" stop-color="#12b1d7"/><stop offset="0.8" stop-color="#2c90f0"/><stop offset="0.85" stop-color="#3c71ff"/><stop offset="0.9" stop-color="#465ffb"/><stop offset="0.95" stop-color="#4756f7"/><stop offset="1" stop-color="#4853f4"/></linearGradient>
<linearGradient id="ge15" gradientUnits="userSpaceOnUse" x1="468.5" y1="379.3" x2="519.8" y2="299.0"><stop offset="0" stop-color="#463ee0"/><stop offset="0.05" stop-color="#463ee1"/><stop offset="0.1" stop-color="#463ee1"/><stop offset="0.15" stop-color="#463ee1"/><stop offset="0.2" stop-color="#473ee1"/><stop offset="0.25" stop-color="#4740e4"/><stop offset="0.3" stop-color="#4745e9"/><stop offset="0.35" stop-color="#4850f3"/><stop offset="0.4" stop-color="#4466fd"/><stop offset="0.45" stop-color="#2d8bf4"/><stop offset="0.5" stop-color="#16afd9"/><stop offset="0.55" stop-color="#2ac3a9"/><stop offset="0.6" stop-color="#55cc7c"/><stop offset="0.65" stop-color="#5acc78"/><stop offset="0.7" stop-color="#30c5a1"/><stop offset="0.75" stop-color="#0db3d4"/><stop offset="0.8" stop-color="#2a93ee"/><stop offset="0.85" stop-color="#3975fe"/><stop offset="0.9" stop-color="#4561fc"/><stop offset="0.95" stop-color="#4758f8"/><stop offset="1" stop-color="#4854f5"/></linearGradient>
<linearGradient id="ge16" gradientUnits="userSpaceOnUse" x1="470.5" y1="380.6" x2="521.8" y2="300.3"><stop offset="0" stop-color="#473ee1"/><stop offset="0.05" stop-color="#473ee1"/><stop offset="0.1" stop-color="#473ee1"/><stop offset="0.15" stop-color="#473ee1"/><stop offset="0.2" stop-color="#473fe2"/><stop offset="0.25" stop-color="#4741e5"/><stop offset="0.3" stop-color="#4746ea"/><stop offset="0.35" stop-color="#4852f4"/><stop offset="0.4" stop-color="#4269fe"/><stop offset="0.45" stop-color="#2d8df2"/><stop offset="0.5" stop-color="#12b1d7"/><stop offset="0.55" stop-color="#2dc4a5"/><stop offset="0.6" stop-color="#59cc78"/><stop offset="0.65" stop-color="#5dcc74"/><stop offset="0.7" stop-color="#33c69e"/><stop offset="0.75" stop-color="#08b4d0"/><stop offset="0.8" stop-color="#2896ec"/><stop offset="0.85" stop-color="#3678fd"/><stop offset="0.9" stop-color="#4564fd"/><stop offset="0.95" stop-color="#475af9"/><stop offset="1" stop-color="#4756f6"/></linearGradient>
<linearGradient id="ge17" gradientUnits="userSpaceOnUse" x1="472.5" y1="381.9" x2="523.8" y2="301.6"><stop offset="0" stop-color="#473fe2"/><stop offset="0.05" stop-color="#473fe2"/><stop offset="0.1" stop-color="#473fe2"/><stop offset="0.15" stop-color="#473fe2"/><stop offset="0.2" stop-color="#4740e3"/><stop offset="0.25" stop-color="#4742e6"/><stop offset="0.3" stop-color="#4747eb"/><stop offset="0.35" stop-color="#4854f5"/><stop offset="0.4" stop-color="#416bfe"/><stop offset="0.45" stop-color="#2c90f0"/><stop offset="0.5" stop-color="#0eb3d4"/><stop offset="0.55" stop-color="#30c5a2"/><stop offset="0.6" stop-color="#5ecc74"/><stop offset="0.65" stop-color="#61cd71"/><stop offset="0.7" stop-color="#35c79b"/><stop offset="0.75" stop-color="#05b6cd"/><stop offset="0.8" stop-color="#2698ea"/><stop offset="0.85" stop-color="#327bfc"/><stop offset="0.9" stop-color="#4366fd"/><stop offset="0.95" stop-color="#475cfa"/><stop offset="1" stop-color="#4757f7"/></linearGradient>
<linearGradient id="ge18" gradientUnits="userSpaceOnUse" x1="474.5" y1="383.1" x2="525.8" y2="302.9"><stop offset="0" stop-color="#473fe3"/><stop offset="0.05" stop-color="#473fe3"/><stop offset="0.1" stop-color="#473fe3"/><stop offset="0.15" stop-color="#473fe3"/><stop offset="0.2" stop-color="#4740e4"/><stop offset="0.25" stop-color="#4742e6"/><stop offset="0.3" stop-color="#4848ec"/><stop offset="0.35" stop-color="#4756f6"/><stop offset="0.4" stop-color="#3f6eff"/><stop offset="0.45" stop-color="#2a93ee"/><stop offset="0.5" stop-color="#08b4d1"/><stop offset="0.55" stop-color="#32c69e"/><stop offset="0.6" stop-color="#62cd70"/><stop offset="0.65" stop-color="#65cd6e"/><stop offset="0.7" stop-color="#37c898"/><stop offset="0.75" stop-color="#01b7ca"/><stop offset="0.8" stop-color="#259be8"/><stop offset="0.85" stop-color="#307ffb"/><stop offset="0.9" stop-color="#4269fe"/><stop offset="0.95" stop-color="#465efb"/><stop offset="1" stop-color="#4759f8"/></linearGradient>
<linearGradient id="ge19" gradientUnits="userSpaceOnUse" x1="476.5" y1="384.4" x2="527.8" y2="304.1"><stop offset="0" stop-color="#4740e3"/><stop offset="0.05" stop-color="#4740e3"/><stop offset="0.1" stop-color="#4740e3"/><stop offset="0.15" stop-color="#4740e4"/><stop offset="0.2" stop-color="#4741e5"/><stop offset="0.25" stop-color="#4743e7"/><stop offset="0.3" stop-color="#484aee"/><stop offset="0.35" stop-color="#4757f7"/><stop offset="0.4" stop-color="#3c71ff"/><stop offset="0.45" stop-color="#2895ec"/><stop offset="0.5" stop-color="#04b6cd"/><stop offset="0.55" stop-color="#35c79a"/><stop offset="0.6" stop-color="#67cd6d"/><stop offset="0.65" stop-color="#69cd6b"/><stop offset="0.7" stop-color="#39c995"/><stop offset="0.75" stop-color="#01b9c7"/><stop offset="0.8" stop-color="#249ee6"/><stop offset="0.85" stop-color="#2f82fa"/><stop offset="0.9" stop-color="#416cfe"/><stop offset="0.95" stop-color="#4660fb"/><stop offset="1" stop-color="#475af9"/></linearGradient>
<linearGradient id="ge20" gradientUnits="userSpaceOnUse" x1="478.5" y1="385.7" x2="529.8" y2="305.4"><stop offset="0" stop-color="#4740e4"/><stop offset="0.05" stop-color="#4740e4"/><stop offset="0.1" stop-color="#4740e4"/><stop offset="0.15" stop-color="#4741e5"/><stop offset="0.2" stop-color="#4742e6"/><stop offset="0.25" stop-color="#4744e8"/><stop offset="0.3" stop-color="#484bef"/><stop offset="0.35" stop-color="#4759f9"/><stop offset="0.4" stop-color="#3a74fe"/><stop offset="0.45" stop-color="#2798ea"/><stop offset="0.5" stop-color="#01b8ca"/><stop offset="0.55" stop-color="#38c896"/><stop offset="0.6" stop-color="#6bcd69"/><stop offset="0.65" stop-color="#6dcd67"/><stop offset="0.7" stop-color="#3cc992"/><stop offset="0.75" stop-color="#02bac4"/><stop offset="0.8" stop-color="#23a0e5"/><stop offset="0.85" stop-color="#2e85f8"/><stop offset="0.9" stop-color="#3f6fff"/><stop offset="0.95" stop-color="#4562fc"/><stop offset="1" stop-color="#475cfa"/></linearGradient>
<linearGradient id="ge21" gradientUnits="userSpaceOnUse" x1="480.5" y1="387.0" x2="531.8" y2="306.7"><stop offset="0" stop-color="#4741e5"/><stop offset="0.05" stop-color="#4741e5"/><stop offset="0.1" stop-color="#4741e5"/><stop offset="0.15" stop-color="#4741e5"/><stop offset="0.2" stop-color="#4742e6"/><stop offset="0.25" stop-color="#4745e9"/><stop offset="0.3" stop-color="#484cf0"/><stop offset="0.35" stop-color="#475bfa"/><stop offset="0.4" stop-color="#3777fe"/><stop offset="0.45" stop-color="#259be8"/><stop offset="0.5" stop-color="#01b9c6"/><stop offset="0.55" stop-color="#3cc992"/><stop offset="0.6" stop-color="#70cd65"/><stop offset="0.65" stop-color="#71cd64"/><stop offset="0.7" stop-color="#3eca8f"/><stop offset="0.75" stop-color="#04bbc2"/><stop offset="0.8" stop-color="#21a3e4"/><stop offset="0.85" stop-color="#2d87f7"/><stop offset="0.9" stop-color="#3c71ff"/><stop offset="0.95" stop-color="#4464fd"/><stop offset="1" stop-color="#465efb"/></linearGradient>
<linearGradient id="ge22" gradientUnits="userSpaceOnUse" x1="482.5" y1="388.2" x2="533.8" y2="308.0"><stop offset="0" stop-color="#4741e5"/><stop offset="0.05" stop-color="#4741e5"/><stop offset="0.1" stop-color="#4742e6"/><stop offset="0.15" stop-color="#4742e6"/><stop offset="0.2" stop-color="#4743e7"/><stop offset="0.25" stop-color="#4746ea"/><stop offset="0.3" stop-color="#484ef1"/><stop offset="0.35" stop-color="#465efb"/><stop offset="0.4" stop-color="#337afd"/><stop offset="0.45" stop-color="#249ee6"/><stop offset="0.5" stop-color="#03bbc2"/><stop offset="0.55" stop-color="#3fca8e"/><stop offset="0.6" stop-color="#75cc61"/><stop offset="0.65" stop-color="#75cc61"/><stop offset="0.7" stop-color="#42ca8c"/><stop offset="0.75" stop-color="#08bcbf"/><stop offset="0.8" stop-color="#20a5e2"/><stop offset="0.85" stop-color="#2d8af4"/><stop offset="0.9" stop-color="#3974fe"/><stop offset="0.95" stop-color="#4466fd"/><stop offset="1" stop-color="#4660fb"/></linearGradient>
<linearGradient id="ge23" gradientUnits="userSpaceOnUse" x1="484.5" y1="389.5" x2="535.8" y2="309.2"><stop offset="0" stop-color="#4742e6"/><stop offset="0.05" stop-color="#4742e6"/><stop offset="0.1" stop-color="#4742e6"/><stop offset="0.15" stop-color="#4743e7"/><stop offset="0.2" stop-color="#4744e8"/><stop offset="0.25" stop-color="#4747eb"/><stop offset="0.3" stop-color="#484ff2"/><stop offset="0.35" stop-color="#4660fb"/><stop offset="0.4" stop-color="#317dfc"/><stop offset="0.45" stop-color="#23a1e5"/><stop offset="0.5" stop-color="#08bcbf"/><stop offset="0.55" stop-color="#45cb89"/><stop offset="0.6" stop-color="#7bcc5d"/><stop offset="0.65" stop-color="#79cc5e"/><stop offset="0.7" stop-color="#45cb89"/><stop offset="0.75" stop-color="#0cbdbc"/><stop offset="0.8" stop-color="#1ea7e1"/><stop offset="0.85" stop-color="#2d8df2"/><stop offset="0.9" stop-color="#3777fe"/><stop offset="0.95" stop-color="#4369fe"/><stop offset="1" stop-color="#4561fc"/></linearGradient>
<linearGradient id="ge24" gradientUnits="userSpaceOnUse" x1="486.5" y1="390.8" x2="537.8" y2="310.5"><stop offset="0" stop-color="#4743e7"/><stop offset="0.05" stop-color="#4743e7"/><stop offset="0.1" stop-color="#4743e7"/><stop offset="0.15" stop-color="#4743e7"/><stop offset="0.2" stop-color="#4745e9"/><stop offset="0.25" stop-color="#4848ec"/><stop offset="0.3" stop-color="#4851f3"/><stop offset="0.35" stop-color="#4562fc"/><stop offset="0.4" stop-color="#2f81fa"/><stop offset="0.45" stop-color="#21a4e3"/><stop offset="0.5" stop-color="#0fbebb"/><stop offset="0.55" stop-color="#4acb84"/><stop offset="0.6" stop-color="#80cc59"/><stop offset="0.65" stop-color="#7ecc5b"/><stop offset="0.7" stop-color="#48cb86"/><stop offset="0.75" stop-color="#11beba"/><stop offset="0.8" stop-color="#1da9e0"/><stop offset="0.85" stop-color="#2c8ff1"/><stop offset="0.9" stop-color="#347afd"/><stop offset="0.95" stop-color="#416bfe"/><stop offset="1" stop-color="#4563fd"/></linearGradient>
<linearGradient id="ge25" gradientUnits="userSpaceOnUse" x1="488.5" y1="392.1" x2="539.8" y2="311.8"><stop offset="0" stop-color="#4743e7"/><stop offset="0.05" stop-color="#4743e7"/><stop offset="0.1" stop-color="#4743e7"/><stop offset="0.15" stop-color="#4744e8"/><stop offset="0.2" stop-color="#4745e9"/><stop offset="0.25" stop-color="#4849ed"/><stop offset="0.3" stop-color="#4853f5"/><stop offset="0.35" stop-color="#4465fd"/><stop offset="0.4" stop-color="#2e84f9"/><stop offset="0.45" stop-color="#1fa6e1"/><stop offset="0.5" stop-color="#17bfb7"/><stop offset="0.55" stop-color="#50cc7f"/><stop offset="0.6" stop-color="#85cb56"/><stop offset="0.65" stop-color="#82cc58"/><stop offset="0.7" stop-color="#4bcb83"/><stop offset="0.75" stop-color="#16bfb7"/><stop offset="0.8" stop-color="#1babde"/><stop offset="0.85" stop-color="#2b92ef"/><stop offset="0.9" stop-color="#327cfc"/><stop offset="0.95" stop-color="#406dfe"/><stop offset="1" stop-color="#4465fd"/></linearGradient>
<linearGradient id="ge26" gradientUnits="userSpaceOnUse" x1="490.5" y1="393.3" x2="541.8" y2="313.1"><stop offset="0" stop-color="#4744e8"/><stop offset="0.05" stop-color="#4744e8"/><stop offset="0.1" stop-color="#4744e8"/><stop offset="0.15" stop-color="#4744e9"/><stop offset="0.2" stop-color="#4746ea"/><stop offset="0.25" stop-color="#484bee"/><stop offset="0.3" stop-color="#4854f6"/><stop offset="0.35" stop-color="#4367fd"/><stop offset="0.4" stop-color="#2e87f7"/><stop offset="0.45" stop-color="#1ca9df"/><stop offset="0.5" stop-color="#1ec0b2"/><stop offset="0.55" stop-color="#57cc7a"/><stop offset="0.6" stop-color="#8acb52"/><stop offset="0.65" stop-color="#86cb55"/><stop offset="0.7" stop-color="#4fcc81"/><stop offset="0.75" stop-color="#1ac0b4"/><stop offset="0.8" stop-color="#19addc"/><stop offset="0.85" stop-color="#2994ed"/><stop offset="0.9" stop-color="#307ffb"/><stop offset="0.95" stop-color="#3e6fff"/><stop offset="1" stop-color="#4367fd"/></linearGradient>
<linearGradient id="ge27" gradientUnits="userSpaceOnUse" x1="492.5" y1="394.6" x2="543.8" y2="314.3"><stop offset="0" stop-color="#4744e8"/><stop offset="0.05" stop-color="#4744e8"/><stop offset="0.1" stop-color="#4745e9"/><stop offset="0.15" stop-color="#4745e9"/><stop offset="0.2" stop-color="#4747eb"/><stop offset="0.25" stop-color="#484cef"/><stop offset="0.3" stop-color="#4756f7"/><stop offset="0.35" stop-color="#426afe"/><stop offset="0.4" stop-color="#2d8af5"/><stop offset="0.45" stop-color="#1aacdd"/><stop offset="0.5" stop-color="#24c1ae"/><stop offset="0.55" stop-color="#5dcc75"/><stop offset="0.6" stop-color="#8fcb4e"/><stop offset="0.65" stop-color="#8acb52"/><stop offset="0.7" stop-color="#52cc7e"/><stop offset="0.75" stop-color="#1ec0b2"/><stop offset="0.8" stop-color="#17aeda"/><stop offset="0.85" stop-color="#2896eb"/><stop offset="0.9" stop-color="#2f81fa"/><stop offset="0.95" stop-color="#3c72ff"/><stop offset="1" stop-color="#4369fe"/></linearGradient>
<linearGradient id="ge28" gradientUnits="userSpaceOnUse" x1="494.5" y1="395.9" x2="545.8" y2="315.6"><stop offset="0" stop-color="#4745e9"/><stop offset="0.05" stop-color="#4745e9"/><stop offset="0.1" stop-color="#4745e9"/><stop offset="0.15" stop-color="#4746ea"/><stop offset="0.2" stop-color="#4848ec"/><stop offset="0.25" stop-color="#484df0"/><stop offset="0.3" stop-color="#4758f8"/><stop offset="0.35" stop-color="#406dfe"/><stop offset="0.4" stop-color="#2d8df2"/><stop offset="0.45" stop-color="#16afda"/><stop offset="0.5" stop-color="#29c3aa"/><stop offset="0.55" stop-color="#64cd6f"/><stop offset="0.6" stop-color="#94ca4a"/><stop offset="0.65" stop-color="#8ecb4f"/><stop offset="0.7" stop-color="#55cc7c"/><stop offset="0.75" stop-color="#22c1b0"/><stop offset="0.8" stop-color="#14b0d8"/><stop offset="0.85" stop-color="#2798ea"/><stop offset="0.9" stop-color="#2e84f9"/><stop offset="0.95" stop-color="#3a74fe"/><stop offset="1" stop-color="#416bfe"/></linearGradient>
<linearGradient id="ge29" gradientUnits="userSpaceOnUse" x1="496.5" y1="397.2" x2="547.8" y2="316.9"><stop offset="0" stop-color="#4745ea"/><stop offset="0.05" stop-color="#4746ea"/><stop offset="0.1" stop-color="#4746ea"/><stop offset="0.15" stop-color="#4747eb"/><stop offset="0.2" stop-color="#4849ed"/><stop offset="0.25" stop-color="#484ef1"/><stop offset="0.3" stop-color="#475af9"/><stop offset="0.35" stop-color="#3e70ff"/><stop offset="0.4" stop-color="#2b90ef"/><stop offset="0.45" stop-color="#12b1d6"/><stop offset="0.5" stop-color="#2dc4a5"/><stop offset="0.55" stop-color="#6acd69"/><stop offset="0.6" stop-color="#99c946"/><stop offset="0.65" stop-color="#92ca4c"/><stop offset="0.7" stop-color="#58cc79"/><stop offset="0.75" stop-color="#25c2ad"/><stop offset="0.8" stop-color="#11b1d6"/><stop offset="0.85" stop-color="#269ae8"/><stop offset="0.9" stop-color="#2e86f7"/><stop offset="0.95" stop-color="#3776fe"/><stop offset="1" stop-color="#406cfe"/></linearGradient>
<linearGradient id="ge30" gradientUnits="userSpaceOnUse" x1="498.5" y1="398.5" x2="549.8" y2="318.2"><stop offset="0" stop-color="#4746ea"/><stop offset="0.05" stop-color="#4746ea"/><stop offset="0.1" stop-color="#4746eb"/><stop offset="0.15" stop-color="#4747eb"/><stop offset="0.2" stop-color="#484aee"/><stop offset="0.25" stop-color="#4850f2"/><stop offset="0.3" stop-color="#475cfa"/><stop offset="0.35" stop-color="#3a73fe"/><stop offset="0.4" stop-color="#2994ed"/><stop offset="0.45" stop-color="#0bb3d2"/><stop offset="0.5" stop-color="#31c5a1"/><stop offset="0.55" stop-color="#71cd64"/><stop offset="0.6" stop-color="#9ec943"/><stop offset="0.65" stop-color="#96ca49"/><stop offset="0.7" stop-color="#5bcc76"/><stop offset="0.75" stop-color="#27c2ab"/><stop offset="0.8" stop-color="#0db3d3"/><stop offset="0.85" stop-color="#259ce7"/><stop offset="0.9" stop-color="#2d88f6"/><stop offset="0.95" stop-color="#3579fd"/><stop offset="1" stop-color="#3f6eff"/></linearGradient>
<linearGradient id="ge31" gradientUnits="userSpaceOnUse" x1="500.5" y1="399.7" x2="551.8" y2="319.5"><stop offset="0" stop-color="#4747eb"/><stop offset="0.05" stop-color="#4747eb"/><stop offset="0.1" stop-color="#4747eb"/><stop offset="0.15" stop-color="#4848ec"/><stop offset="0.2" stop-color="#484bee"/><stop offset="0.25" stop-color="#4851f3"/><stop offset="0.3" stop-color="#465efb"/><stop offset="0.35" stop-color="#3776fe"/><stop offset="0.4" stop-color="#2797eb"/><stop offset="0.45" stop-color="#05b6ce"/><stop offset="0.5" stop-color="#34c79b"/><stop offset="0.55" stop-color="#79cc5e"/><stop offset="0.6" stop-color="#a2c83f"/><stop offset="0.65" stop-color="#99c946"/><stop offset="0.7" stop-color="#5ecd74"/><stop offset="0.75" stop-color="#2ac3a9"/><stop offset="0.8" stop-color="#0ab4d1"/><stop offset="0.85" stop-color="#249ee6"/><stop offset="0.9" stop-color="#2d8af4"/><stop offset="0.95" stop-color="#337bfc"/><stop offset="1" stop-color="#3d70ff"/></linearGradient>
<linearGradient id="ge32" gradientUnits="userSpaceOnUse" x1="502.5" y1="401.0" x2="553.8" y2="320.7"><stop offset="0" stop-color="#4747eb"/><stop offset="0.05" stop-color="#4747eb"/><stop offset="0.1" stop-color="#4848ec"/><stop offset="0.15" stop-color="#4849ed"/><stop offset="0.2" stop-color="#484cef"/><stop offset="0.25" stop-color="#4853f5"/><stop offset="0.3" stop-color="#4661fc"/><stop offset="0.35" stop-color="#347afd"/><stop offset="0.4" stop-color="#269ae8"/><stop offset="0.45" stop-color="#01b8ca"/><stop offset="0.5" stop-color="#38c896"/><stop offset="0.55" stop-color="#80cc59"/><stop offset="0.6" stop-color="#a7c73c"/><stop offset="0.65" stop-color="#9dc943"/><stop offset="0.7" stop-color="#61cd71"/><stop offset="0.75" stop-color="#2cc4a7"/><stop offset="0.8" stop-color="#06b5cf"/><stop offset="0.85" stop-color="#23a0e5"/><stop offset="0.9" stop-color="#2d8cf3"/><stop offset="0.95" stop-color="#317dfc"/><stop offset="1" stop-color="#3b72fe"/></linearGradient>
<linearGradient id="ge33" gradientUnits="userSpaceOnUse" x1="504.5" y1="402.3" x2="555.8" y2="322.0"><stop offset="0" stop-color="#4848ec"/><stop offset="0.05" stop-color="#4848ec"/><stop offset="0.1" stop-color="#4848ec"/><stop offset="0.15" stop-color="#484aed"/><stop offset="0.2" stop-color="#484df0"/><stop offset="0.25" stop-color="#4854f6"/><stop offset="0.3" stop-color="#4563fc"/><stop offset="0.35" stop-color="#317dfc"/><stop offset="0.4" stop-color="#249de6"/><stop offset="0.45" stop-color="#02bac5"/><stop offset="0.5" stop-color="#3dc990"/><stop offset="0.55" stop-color="#88cb53"/><stop offset="0.6" stop-color="#acc738"/><stop offset="0.65" stop-color="#a1c840"/><stop offset="0.7" stop-color="#64cd6f"/><stop offset="0.75" stop-color="#2ec4a5"/><stop offset="0.8" stop-color="#04b6cd"/><stop offset="0.85" stop-color="#22a2e4"/><stop offset="0.9" stop-color="#2c8ef1"/><stop offset="0.95" stop-color="#307ffb"/><stop offset="1" stop-color="#3974fe"/></linearGradient>
<linearGradient id="ge34" gradientUnits="userSpaceOnUse" x1="506.5" y1="403.6" x2="557.8" y2="323.3"><stop offset="0" stop-color="#4848ec"/><stop offset="0.05" stop-color="#4848ec"/><stop offset="0.1" stop-color="#4849ed"/><stop offset="0.15" stop-color="#484aee"/><stop offset="0.2" stop-color="#484ef1"/><stop offset="0.25" stop-color="#4756f7"/><stop offset="0.3" stop-color="#4465fd"/><stop offset="0.35" stop-color="#2f81fa"/><stop offset="0.4" stop-color="#23a1e4"/><stop offset="0.45" stop-color="#06bcc0"/><stop offset="0.5" stop-color="#43ca8a"/><stop offset="0.55" stop-color="#8fcb4e"/><stop offset="0.6" stop-color="#b1c636"/><stop offset="0.65" stop-color="#a4c83e"/><stop offset="0.7" stop-color="#67cd6d"/><stop offset="0.75" stop-color="#2fc5a3"/><stop offset="0.8" stop-color="#02b7cb"/><stop offset="0.85" stop-color="#21a4e3"/><stop offset="0.9" stop-color="#2b90f0"/><stop offset="0.95" stop-color="#2f81fa"/><stop offset="1" stop-color="#3776fe"/></linearGradient>
<linearGradient id="ge35" gradientUnits="userSpaceOnUse" x1="508.5" y1="404.8" x2="559.8" y2="324.6"><stop offset="0" stop-color="#4849ed"/><stop offset="0.05" stop-color="#4849ed"/><stop offset="0.1" stop-color="#484aed"/><stop offset="0.15" stop-color="#484bef"/><stop offset="0.2" stop-color="#484ff2"/><stop offset="0.25" stop-color="#4758f8"/><stop offset="0.3" stop-color="#4368fe"/><stop offset="0.35" stop-color="#2e84f8"/><stop offset="0.4" stop-color="#20a4e3"/><stop offset="0.45" stop-color="#0dbdbb"/><stop offset="0.5" stop-color="#4acb84"/><stop offset="0.55" stop-color="#96ca48"/><stop offset="0.6" stop-color="#b5c533"/><stop offset="0.65" stop-color="#a8c73c"/><stop offset="0.7" stop-color="#69cd6a"/><stop offset="0.75" stop-color="#31c5a1"/><stop offset="0.8" stop-color="#01b8c9"/><stop offset="0.85" stop-color="#1fa5e2"/><stop offset="0.9" stop-color="#2a92ee"/><stop offset="0.95" stop-color="#2e83f9"/><stop offset="1" stop-color="#3578fd"/></linearGradient>
<linearGradient id="ge36" gradientUnits="userSpaceOnUse" x1="510.5" y1="406.1" x2="561.8" y2="325.8"><stop offset="0" stop-color="#484aed"/><stop offset="0.05" stop-color="#484aee"/><stop offset="0.1" stop-color="#484aee"/><stop offset="0.15" stop-color="#484cf0"/><stop offset="0.2" stop-color="#4850f3"/><stop offset="0.25" stop-color="#475af9"/><stop offset="0.3" stop-color="#416bfe"/><stop offset="0.35" stop-color="#2d87f6"/><stop offset="0.4" stop-color="#1ea7e1"/><stop offset="0.45" stop-color="#17bfb6"/><stop offset="0.5" stop-color="#52cc7e"/><stop offset="0.55" stop-color="#9dc943"/><stop offset="0.6" stop-color="#bac430"/><stop offset="0.65" stop-color="#abc739"/><stop offset="0.7" stop-color="#6ccd68"/><stop offset="0.75" stop-color="#32c69f"/><stop offset="0.8" stop-color="#01b9c7"/><stop offset="0.85" stop-color="#1ea7e1"/><stop offset="0.9" stop-color="#2994ed"/><stop offset="0.95" stop-color="#2e85f8"/><stop offset="1" stop-color="#337afd"/></linearGradient>
<linearGradient id="ge37" gradientUnits="userSpaceOnUse" x1="512.5" y1="407.4" x2="563.8" y2="327.1"><stop offset="0" stop-color="#484aee"/><stop offset="0.05" stop-color="#484aee"/><stop offset="0.1" stop-color="#484bef"/><stop offset="0.15" stop-color="#484df0"/><stop offset="0.2" stop-color="#4852f4"/><stop offset="0.25" stop-color="#475cfa"/><stop offset="0.3" stop-color="#3f6eff"/><stop offset="0.35" stop-color="#2d8bf4"/><stop offset="0.4" stop-color="#1babde"/><stop offset="0.45" stop-color="#20c1b1"/><stop offset="0.5" stop-color="#5acc77"/><stop offset="0.55" stop-color="#a4c83e"/><stop offset="0.6" stop-color="#bec32e"/><stop offset="0.65" stop-color="#aec637"/><stop offset="0.7" stop-color="#6fcd66"/><stop offset="0.75" stop-color="#33c79d"/><stop offset="0.8" stop-color="#02bac5"/><stop offset="0.85" stop-color="#1da8e0"/><stop offset="0.9" stop-color="#2896eb"/><stop offset="0.95" stop-color="#2e87f7"/><stop offset="1" stop-color="#327cfc"/></linearGradient>
<linearGradient id="ge38" gradientUnits="userSpaceOnUse" x1="514.5" y1="408.7" x2="565.8" y2="328.4"><stop offset="0" stop-color="#484bee"/><stop offset="0.05" stop-color="#484bef"/><stop offset="0.1" stop-color="#484cef"/><stop offset="0.15" stop-color="#484ef1"/><stop offset="0.2" stop-color="#4853f5"/><stop offset="0.25" stop-color="#465efb"/><stop offset="0.3" stop-color="#3c71ff"/><stop offset="0.35" stop-color="#2c8ef1"/><stop offset="0.4" stop-color="#17aedb"/><stop offset="0.45" stop-color="#27c2ac"/><stop offset="0.5" stop-color="#63cd70"/><stop offset="0.55" stop-color="#abc739"/><stop offset="0.6" stop-color="#c2c22c"/><stop offset="0.65" stop-color="#b1c636"/><stop offset="0.7" stop-color="#71cd64"/><stop offset="0.75" stop-color="#35c79b"/><stop offset="0.8" stop-color="#02bbc3"/><stop offset="0.85" stop-color="#1caadf"/><stop offset="0.9" stop-color="#2798ea"/><stop offset="0.95" stop-color="#2d89f5"/><stop offset="1" stop-color="#317efb"/></linearGradient>
<linearGradient id="ge39" gradientUnits="userSpaceOnUse" x1="516.5" y1="410.0" x2="567.8" y2="329.7"><stop offset="0" stop-color="#484bef"/><stop offset="0.05" stop-color="#484cef"/><stop offset="0.1" stop-color="#484df0"/><stop offset="0.15" stop-color="#484ff2"/><stop offset="0.2" stop-color="#4855f6"/><stop offset="0.25" stop-color="#4660fb"/><stop offset="0.3" stop-color="#3975fe"/><stop offset="0.35" stop-color="#2b92ee"/><stop offset="0.4" stop-color="#12b1d7"/><stop offset="0.45" stop-color="#2cc4a7"/><stop offset="0.5" stop-color="#6ccd68"/><stop offset="0.55" stop-color="#b1c635"/><stop offset="0.6" stop-color="#c6c12a"/><stop offset="0.65" stop-color="#b3c534"/><stop offset="0.7" stop-color="#74cc62"/><stop offset="0.75" stop-color="#36c899"/><stop offset="0.8" stop-color="#05bbc1"/><stop offset="0.85" stop-color="#1aabdd"/><stop offset="0.9" stop-color="#2699e9"/><stop offset="0.95" stop-color="#2d8bf4"/><stop offset="1" stop-color="#3080fa"/></linearGradient>
<linearGradient id="ge40" gradientUnits="userSpaceOnUse" x1="518.5" y1="411.2" x2="569.8" y2="331.0"><stop offset="0" stop-color="#484cef"/><stop offset="0.05" stop-color="#484cf0"/><stop offset="0.1" stop-color="#484df1"/><stop offset="0.15" stop-color="#4850f3"/><stop offset="0.2" stop-color="#4756f7"/><stop offset="0.25" stop-color="#4562fc"/><stop offset="0.3" stop-color="#3678fd"/><stop offset="0.35" stop-color="#2896ec"/><stop offset="0.4" stop-color="#0bb3d2"/><stop offset="0.45" stop-color="#30c5a1"/><stop offset="0.5" stop-color="#75cc61"/><stop offset="0.55" stop-color="#b7c531"/><stop offset="0.6" stop-color="#cac129"/><stop offset="0.65" stop-color="#b6c532"/><stop offset="0.7" stop-color="#76cc60"/><stop offset="0.75" stop-color="#37c897"/><stop offset="0.8" stop-color="#08bcbf"/><stop offset="0.85" stop-color="#19addc"/><stop offset="0.9" stop-color="#259be8"/><stop offset="0.95" stop-color="#2d8cf3"/><stop offset="1" stop-color="#2f82fa"/></linearGradient>
<linearGradient id="ge41" gradientUnits="userSpaceOnUse" x1="520.5" y1="412.5" x2="571.8" y2="332.2"><stop offset="0" stop-color="#484cf0"/><stop offset="0.05" stop-color="#484df0"/><stop offset="0.1" stop-color="#484ef1"/><stop offset="0.15" stop-color="#4851f3"/><stop offset="0.2" stop-color="#4758f8"/><stop offset="0.25" stop-color="#4464fd"/><stop offset="0.3" stop-color="#327cfc"/><stop offset="0.35" stop-color="#2699e9"/><stop offset="0.4" stop-color="#04b6cd"/><stop offset="0.45" stop-color="#34c79b"/><stop offset="0.5" stop-color="#7fcc5a"/><stop offset="0.55" stop-color="#bdc32e"/><stop offset="0.6" stop-color="#cec028"/><stop offset="0.65" stop-color="#b8c431"/><stop offset="0.7" stop-color="#79cc5e"/><stop offset="0.75" stop-color="#39c895"/><stop offset="0.8" stop-color="#0abdbd"/><stop offset="0.85" stop-color="#17aedb"/><stop offset="0.9" stop-color="#259de7"/><stop offset="0.95" stop-color="#2c8ef1"/><stop offset="1" stop-color="#2e83f9"/></linearGradient>
<linearGradient id="ge42" gradientUnits="userSpaceOnUse" x1="522.5" y1="413.8" x2="573.8" y2="333.5"><stop offset="0" stop-color="#484df0"/><stop offset="0.05" stop-color="#484ef1"/><stop offset="0.1" stop-color="#484ff2"/><stop offset="0.15" stop-color="#4852f4"/><stop offset="0.2" stop-color="#4759f8"/><stop offset="0.25" stop-color="#4367fd"/><stop offset="0.3" stop-color="#307ffb"/><stop offset="0.35" stop-color="#259de7"/><stop offset="0.4" stop-color="#01b8c8"/><stop offset="0.45" stop-color="#39c895"/><stop offset="0.5" stop-color="#88cb53"/><stop offset="0.55" stop-color="#c3c22b"/><stop offset="0.6" stop-color="#d2bf27"/><stop offset="0.65" stop-color="#bac430"/><stop offset="0.7" stop-color="#7bcc5d"/><stop offset="0.75" stop-color="#3ac993"/><stop offset="0.8" stop-color="#0dbdbb"/><stop offset="0.85" stop-color="#15afd9"/><stop offset="0.9" stop-color="#249ee6"/><stop offset="0.95" stop-color="#2c90f0"/><stop offset="1" stop-color="#2e85f8"/></linearGradient>
<linearGradient id="ge43" gradientUnits="userSpaceOnUse" x1="524.5" y1="415.1" x2="575.8" y2="334.8"><stop offset="0" stop-color="#484ef1"/><stop offset="0.05" stop-color="#484ef1"/><stop offset="0.1" stop-color="#4850f2"/><stop offset="0.15" stop-color="#4853f5"/><stop offset="0.2" stop-color="#475bf9"/><stop offset="0.25" stop-color="#426afe"/><stop offset="0.3" stop-color="#2e83f9"/><stop offset="0.35" stop-color="#23a0e5"/><stop offset="0.4" stop-color="#03bbc3"/><stop offset="0.45" stop-color="#3fca8e"/><stop offset="0.5" stop-color="#92ca4c"/><stop offset="0.55" stop-color="#c9c129"/><stop offset="0.6" stop-color="#d6be28"/><stop offset="0.65" stop-color="#bcc42f"/><stop offset="0.7" stop-color="#7ecc5b"/><stop offset="0.75" stop-color="#3cc991"/><stop offset="0.8" stop-color="#11beba"/><stop offset="0.85" stop-color="#13b0d7"/><stop offset="0.9" stop-color="#23a0e5"/><stop offset="0.95" stop-color="#2b92ef"/><stop offset="1" stop-color="#2e87f7"/></linearGradient>
<linearGradient id="gf0" href="#pg" gradientUnits="userSpaceOnUse" x1="764.8" y1="358.4" x2="732.7" y2="306.8"/>
<linearGradient id="gf1" href="#pg" gradientUnits="userSpaceOnUse" x1="766.5" y1="359.7" x2="734.4" y2="308.1"/>
<linearGradient id="gf2" href="#pg" gradientUnits="userSpaceOnUse" x1="768.1" y1="360.9" x2="736.1" y2="309.3"/>
<linearGradient id="gf3" href="#pg" gradientUnits="userSpaceOnUse" x1="769.8" y1="362.1" x2="737.7" y2="310.5"/>
<linearGradient id="gf4" href="#pg" gradientUnits="userSpaceOnUse" x1="771.4" y1="363.4" x2="739.4" y2="311.8"/>
<linearGradient id="gf5" href="#pg" gradientUnits="userSpaceOnUse" x1="773.1" y1="364.6" x2="741.0" y2="313.0"/>
<linearGradient id="gf6" href="#pg" gradientUnits="userSpaceOnUse" x1="774.8" y1="365.8" x2="742.7" y2="314.2"/>
<linearGradient id="gf7" href="#pg" gradientUnits="userSpaceOnUse" x1="776.4" y1="367.1" x2="744.3" y2="315.5"/>
<linearGradient id="gf8" href="#pg" gradientUnits="userSpaceOnUse" x1="778.1" y1="368.3" x2="746.0" y2="316.7"/>
<linearGradient id="gf9" href="#pg" gradientUnits="userSpaceOnUse" x1="779.7" y1="369.5" x2="747.6" y2="318.0"/>
<linearGradient id="gf10" href="#pg" gradientUnits="userSpaceOnUse" x1="781.4" y1="370.8" x2="749.3" y2="319.2"/>
<linearGradient id="gf11" href="#pg" gradientUnits="userSpaceOnUse" x1="783.0" y1="372.0" x2="751.0" y2="320.4"/>
<linearGradient id="gf12" href="#pg" gradientUnits="userSpaceOnUse" x1="784.7" y1="373.2" x2="752.6" y2="321.7"/>
<linearGradient id="gf13" href="#pg" gradientUnits="userSpaceOnUse" x1="786.3" y1="374.5" x2="754.3" y2="322.9"/>
<linearGradient id="gf14" href="#pg" gradientUnits="userSpaceOnUse" x1="788.0" y1="375.7" x2="755.9" y2="324.1"/>
<linearGradient id="gf15" href="#pg" gradientUnits="userSpaceOnUse" x1="789.7" y1="377.0" x2="757.6" y2="325.4"/>
<linearGradient id="gf16" href="#pg" gradientUnits="userSpaceOnUse" x1="791.3" y1="378.2" x2="759.2" y2="326.6"/>
<linearGradient id="gf17" href="#pg" gradientUnits="userSpaceOnUse" x1="793.0" y1="379.4" x2="760.9" y2="327.8"/>
<linearGradient id="gf18" href="#pg" gradientUnits="userSpaceOnUse" x1="794.6" y1="380.7" x2="762.5" y2="329.1"/>
<linearGradient id="gf19" href="#pg" gradientUnits="userSpaceOnUse" x1="796.3" y1="381.9" x2="764.2" y2="330.3"/>
<linearGradient id="gf20" href="#pg" gradientUnits="userSpaceOnUse" x1="797.9" y1="383.1" x2="765.9" y2="331.5"/>
<linearGradient id="gf21" href="#pg" gradientUnits="userSpaceOnUse" x1="799.6" y1="384.4" x2="767.5" y2="332.8"/>
<linearGradient id="gf22" href="#pg" gradientUnits="userSpaceOnUse" x1="801.2" y1="385.6" x2="769.2" y2="334.0"/>
<linearGradient id="gf23" href="#pg" gradientUnits="userSpaceOnUse" x1="802.9" y1="386.8" x2="770.8" y2="335.3"/>
<linearGradient id="gf24" href="#pg" gradientUnits="userSpaceOnUse" x1="804.6" y1="388.1" x2="772.5" y2="336.5"/>
<linearGradient id="gf25" href="#pg" gradientUnits="userSpaceOnUse" x1="806.2" y1="389.3" x2="774.1" y2="337.7"/>
<linearGradient id="gf26" href="#pg" gradientUnits="userSpaceOnUse" x1="807.9" y1="390.5" x2="775.8" y2="339.0"/>
<linearGradient id="gf27" href="#pg" gradientUnits="userSpaceOnUse" x1="809.5" y1="391.8" x2="777.4" y2="340.2"/>
<linearGradient id="gf28" href="#pg" gradientUnits="userSpaceOnUse" x1="811.2" y1="393.0" x2="779.1" y2="341.4"/>
<linearGradient id="gf29" href="#pg" gradientUnits="userSpaceOnUse" x1="812.8" y1="394.3" x2="780.8" y2="342.7"/>
<linearGradient id="gf30" href="#pg" gradientUnits="userSpaceOnUse" x1="814.5" y1="395.5" x2="782.4" y2="343.9"/>
<linearGradient id="gf31" href="#pg" gradientUnits="userSpaceOnUse" x1="816.1" y1="396.7" x2="784.1" y2="345.1"/>
<linearGradient id="gf32" href="#pg" gradientUnits="userSpaceOnUse" x1="817.8" y1="398.0" x2="785.7" y2="346.4"/>
<linearGradient id="gf33" href="#pg" gradientUnits="userSpaceOnUse" x1="819.5" y1="399.2" x2="787.4" y2="347.6"/>
<linearGradient id="gf34" href="#pg" gradientUnits="userSpaceOnUse" x1="821.1" y1="400.4" x2="789.0" y2="348.8"/>
<linearGradient id="gf35" href="#pg" gradientUnits="userSpaceOnUse" x1="822.8" y1="401.7" x2="790.7" y2="350.1"/>
<linearGradient id="gf36" href="#pg" gradientUnits="userSpaceOnUse" x1="824.4" y1="402.9" x2="792.3" y2="351.3"/>
<linearGradient id="gf37" href="#pg" gradientUnits="userSpaceOnUse" x1="826.1" y1="404.1" x2="794.0" y2="352.6"/>
<linearGradient id="gf38" href="#pg" gradientUnits="userSpaceOnUse" x1="827.7" y1="405.4" x2="795.6" y2="353.8"/>
<linearGradient id="gf39" href="#pg" gradientUnits="userSpaceOnUse" x1="829.4" y1="406.6" x2="797.3" y2="355.0"/>
<linearGradient id="gf40" href="#pg" gradientUnits="userSpaceOnUse" x1="831.0" y1="407.8" x2="799.0" y2="356.3"/>
<linearGradient id="gf41" href="#pg" gradientUnits="userSpaceOnUse" x1="832.7" y1="409.1" x2="800.6" y2="357.5"/>
<linearGradient id="gf42" href="#pg" gradientUnits="userSpaceOnUse" x1="834.4" y1="410.3" x2="802.3" y2="358.7"/>
<linearGradient id="gf43" href="#pg" gradientUnits="userSpaceOnUse" x1="836.0" y1="411.6" x2="803.9" y2="360.0"/>
<linearGradient id="gf44" href="#pg" gradientUnits="userSpaceOnUse" x1="837.7" y1="412.8" x2="805.6" y2="361.2"/>
<linearGradient id="gf45" href="#pg" gradientUnits="userSpaceOnUse" x1="839.3" y1="414.0" x2="807.2" y2="362.4"/>
<linearGradient id="gf46" href="#pg" gradientUnits="userSpaceOnUse" x1="841.0" y1="415.3" x2="808.9" y2="363.7"/>
<linearGradient id="gf47" href="#pg" gradientUnits="userSpaceOnUse" x1="842.6" y1="416.5" x2="810.5" y2="364.9"/>
<linearGradient id="gf48" href="#pg" gradientUnits="userSpaceOnUse" x1="844.3" y1="417.7" x2="812.2" y2="366.1"/>
<linearGradient id="gf49" href="#pg" gradientUnits="userSpaceOnUse" x1="845.9" y1="419.0" x2="813.9" y2="367.4"/>
<linearGradient id="gf50" href="#pg" gradientUnits="userSpaceOnUse" x1="847.6" y1="420.2" x2="815.5" y2="368.6"/>
<linearGradient id="gf51" href="#pg" gradientUnits="userSpaceOnUse" x1="849.3" y1="421.4" x2="817.2" y2="369.9"/>
<linearGradient id="gf52" href="#pg" gradientUnits="userSpaceOnUse" x1="850.9" y1="422.7" x2="818.8" y2="371.1"/>
<linearGradient id="gf53" href="#pg" gradientUnits="userSpaceOnUse" x1="852.6" y1="423.9" x2="820.5" y2="372.3"/>
<linearGradient id="gf54" href="#pg" gradientUnits="userSpaceOnUse" x1="854.2" y1="425.1" x2="822.1" y2="373.6"/>
<linearGradient id="gf55" href="#pg" gradientUnits="userSpaceOnUse" x1="855.9" y1="426.4" x2="823.8" y2="374.8"/>
<linearGradient id="gg0" href="#pg" gradientUnits="userSpaceOnUse" x1="88.2" y1="610.6" x2="42.4" y2="544.3"/>
<linearGradient id="gg1" href="#pg" gradientUnits="userSpaceOnUse" x1="90.2" y1="611.4" x2="44.4" y2="545.1"/>
<linearGradient id="gg2" href="#pg" gradientUnits="userSpaceOnUse" x1="92.2" y1="612.3" x2="46.3" y2="546.0"/>
<linearGradient id="gg3" href="#pg" gradientUnits="userSpaceOnUse" x1="94.2" y1="613.1" x2="48.3" y2="546.8"/>
<linearGradient id="gg4" href="#pg" gradientUnits="userSpaceOnUse" x1="96.2" y1="613.9" x2="50.3" y2="547.6"/>
<linearGradient id="gg5" href="#pg" gradientUnits="userSpaceOnUse" x1="98.2" y1="614.8" x2="52.3" y2="548.5"/>
<linearGradient id="gg6" href="#pg" gradientUnits="userSpaceOnUse" x1="100.2" y1="615.6" x2="54.3" y2="549.3"/>
<linearGradient id="gg7" href="#pg" gradientUnits="userSpaceOnUse" x1="102.2" y1="616.4" x2="56.3" y2="550.1"/>
<linearGradient id="gg8" href="#pg" gradientUnits="userSpaceOnUse" x1="104.2" y1="617.3" x2="58.3" y2="551.0"/>
<linearGradient id="gg9" href="#pg" gradientUnits="userSpaceOnUse" x1="106.2" y1="618.1" x2="60.3" y2="551.8"/>
<linearGradient id="gg10" href="#pg" gradientUnits="userSpaceOnUse" x1="108.2" y1="618.9" x2="62.3" y2="552.6"/>
<linearGradient id="gg11" href="#pg" gradientUnits="userSpaceOnUse" x1="110.2" y1="619.8" x2="64.3" y2="553.5"/>
<linearGradient id="gg12" href="#pg" gradientUnits="userSpaceOnUse" x1="112.2" y1="620.6" x2="66.3" y2="554.3"/>
<linearGradient id="gg13" href="#pg" gradientUnits="userSpaceOnUse" x1="114.2" y1="621.4" x2="68.3" y2="555.1"/>
<linearGradient id="gg14" href="#pg" gradientUnits="userSpaceOnUse" x1="116.1" y1="622.3" x2="70.3" y2="556.0"/>
<linearGradient id="gg15" href="#pg" gradientUnits="userSpaceOnUse" x1="118.1" y1="623.1" x2="72.3" y2="556.8"/>
<linearGradient id="gg16" href="#pg" gradientUnits="userSpaceOnUse" x1="120.1" y1="623.9" x2="74.3" y2="557.6"/>
<linearGradient id="gg17" href="#pg" gradientUnits="userSpaceOnUse" x1="122.1" y1="624.8" x2="76.3" y2="558.5"/>
<linearGradient id="gg18" href="#pg" gradientUnits="userSpaceOnUse" x1="124.1" y1="625.6" x2="78.3" y2="559.3"/>
<linearGradient id="gg19" href="#pg" gradientUnits="userSpaceOnUse" x1="126.1" y1="626.4" x2="80.3" y2="560.1"/>
<linearGradient id="gg20" href="#pg" gradientUnits="userSpaceOnUse" x1="128.1" y1="627.3" x2="82.3" y2="561.0"/>
<linearGradient id="gg21" href="#pg" gradientUnits="userSpaceOnUse" x1="130.1" y1="628.1" x2="84.3" y2="561.8"/>
<linearGradient id="gg22" href="#pg" gradientUnits="userSpaceOnUse" x1="132.1" y1="628.9" x2="86.3" y2="562.6"/>
<linearGradient id="gg23" href="#pg" gradientUnits="userSpaceOnUse" x1="134.1" y1="629.8" x2="88.3" y2="563.5"/>
<linearGradient id="gg24" href="#pg" gradientUnits="userSpaceOnUse" x1="136.1" y1="630.6" x2="90.3" y2="564.3"/>
<linearGradient id="gg25" href="#pg" gradientUnits="userSpaceOnUse" x1="138.1" y1="631.4" x2="92.3" y2="565.1"/>
<linearGradient id="gg26" href="#pg" gradientUnits="userSpaceOnUse" x1="140.1" y1="632.3" x2="94.3" y2="565.9"/>
<linearGradient id="gg27" href="#pg" gradientUnits="userSpaceOnUse" x1="142.1" y1="633.1" x2="96.3" y2="566.8"/>
<linearGradient id="gg28" href="#pg" gradientUnits="userSpaceOnUse" x1="144.1" y1="633.9" x2="98.3" y2="567.6"/>
<linearGradient id="gg29" href="#pg" gradientUnits="userSpaceOnUse" x1="146.1" y1="634.7" x2="100.3" y2="568.4"/>
<linearGradient id="gg30" href="#pg" gradientUnits="userSpaceOnUse" x1="148.1" y1="635.6" x2="102.2" y2="569.3"/>
<linearGradient id="gg31" href="#pg" gradientUnits="userSpaceOnUse" x1="150.1" y1="636.4" x2="104.2" y2="570.1"/>
<linearGradient id="gg32" href="#pg" gradientUnits="userSpaceOnUse" x1="152.1" y1="637.2" x2="106.2" y2="570.9"/>
<linearGradient id="gg33" href="#pg" gradientUnits="userSpaceOnUse" x1="154.1" y1="638.1" x2="108.2" y2="571.8"/>
<linearGradient id="gg34" href="#pg" gradientUnits="userSpaceOnUse" x1="156.1" y1="638.9" x2="110.2" y2="572.6"/>
<linearGradient id="gg35" href="#pg" gradientUnits="userSpaceOnUse" x1="158.1" y1="639.7" x2="112.2" y2="573.4"/>
<linearGradient id="gg36" href="#pg" gradientUnits="userSpaceOnUse" x1="160.1" y1="640.6" x2="114.2" y2="574.3"/>
<linearGradient id="gg37" href="#pg" gradientUnits="userSpaceOnUse" x1="162.1" y1="641.4" x2="116.2" y2="575.1"/>
<linearGradient id="gg38" href="#pg" gradientUnits="userSpaceOnUse" x1="164.1" y1="642.2" x2="118.2" y2="575.9"/>
<linearGradient id="gg39" href="#pg" gradientUnits="userSpaceOnUse" x1="166.1" y1="643.1" x2="120.2" y2="576.8"/>
<linearGradient id="gg40" href="#pg" gradientUnits="userSpaceOnUse" x1="168.1" y1="643.9" x2="122.2" y2="577.6"/>
<linearGradient id="gg41" href="#pg" gradientUnits="userSpaceOnUse" x1="170.1" y1="644.7" x2="124.2" y2="578.4"/>
<linearGradient id="gg42" href="#pg" gradientUnits="userSpaceOnUse" x1="172.0" y1="645.6" x2="126.2" y2="579.3"/>
<linearGradient id="gg43" href="#pg" gradientUnits="userSpaceOnUse" x1="174.0" y1="646.4" x2="128.2" y2="580.1"/>
<linearGradient id="gg44" href="#pg" gradientUnits="userSpaceOnUse" x1="176.0" y1="647.2" x2="130.2" y2="580.9"/>
<linearGradient id="gg45" href="#pg" gradientUnits="userSpaceOnUse" x1="178.0" y1="648.1" x2="132.2" y2="581.8"/>
<linearGradient id="gg46" href="#pg" gradientUnits="userSpaceOnUse" x1="180.0" y1="648.9" x2="134.2" y2="582.6"/>
<linearGradient id="gg47" href="#pg" gradientUnits="userSpaceOnUse" x1="182.0" y1="649.7" x2="136.2" y2="583.4"/>
<linearGradient id="gg48" href="#pg" gradientUnits="userSpaceOnUse" x1="184.0" y1="650.6" x2="138.2" y2="584.3"/>
<linearGradient id="gg49" href="#pg" gradientUnits="userSpaceOnUse" x1="186.0" y1="651.4" x2="140.2" y2="585.1"/>
<linearGradient id="gg50" href="#pg" gradientUnits="userSpaceOnUse" x1="188.0" y1="652.2" x2="142.2" y2="585.9"/>
<linearGradient id="gg51" href="#pg" gradientUnits="userSpaceOnUse" x1="190.0" y1="653.1" x2="144.2" y2="586.8"/>
<linearGradient id="gg52" href="#pg" gradientUnits="userSpaceOnUse" x1="192.0" y1="653.9" x2="146.2" y2="587.6"/>
<linearGradient id="gg53" href="#pg" gradientUnits="userSpaceOnUse" x1="194.0" y1="654.7" x2="148.2" y2="588.4"/>
<linearGradient id="gg54" href="#pg" gradientUnits="userSpaceOnUse" x1="196.0" y1="655.6" x2="150.2" y2="589.2"/>
<linearGradient id="gg55" href="#pg" gradientUnits="userSpaceOnUse" x1="198.0" y1="656.4" x2="152.2" y2="590.1"/>
<linearGradient id="gh0" gradientUnits="userSpaceOnUse" x1="438.5" y1="590.2" x2="498.0" y2="508.3"><stop offset="0" stop-color="#4536d3"/><stop offset="0.05" stop-color="#4536d3"/><stop offset="0.1" stop-color="#4536d3"/><stop offset="0.15" stop-color="#4536d4"/><stop offset="0.2" stop-color="#4537d5"/><stop offset="0.25" stop-color="#463adc"/><stop offset="0.3" stop-color="#4744e9"/><stop offset="0.35" stop-color="#4853f5"/><stop offset="0.4" stop-color="#4563fd"/><stop offset="0.45" stop-color="#3c71ff"/><stop offset="0.5" stop-color="#3479fd"/><stop offset="0.55" stop-color="#337afd"/><stop offset="0.6" stop-color="#3677fe"/><stop offset="0.65" stop-color="#3c71ff"/><stop offset="0.7" stop-color="#426afe"/><stop offset="0.75" stop-color="#4562fc"/><stop offset="0.8" stop-color="#475cfa"/><stop offset="0.85" stop-color="#4757f7"/><stop offset="0.9" stop-color="#4853f5"/><stop offset="0.95" stop-color="#4851f3"/><stop offset="1" stop-color="#484ff2"/></linearGradient>
<linearGradient id="gh1" gradientUnits="userSpaceOnUse" x1="440.5" y1="591.7" x2="500.0" y2="509.7"><stop offset="0" stop-color="#4536d3"/><stop offset="0.05" stop-color="#4536d3"/><stop offset="0.1" stop-color="#4536d3"/><stop offset="0.15" stop-color="#4536d4"/><stop offset="0.2" stop-color="#4537d5"/><stop offset="0.25" stop-color="#463bdc"/><stop offset="0.3" stop-color="#4745e9"/><stop offset="0.35" stop-color="#4854f5"/><stop offset="0.4" stop-color="#4464fd"/><stop offset="0.45" stop-color="#3b73fe"/><stop offset="0.5" stop-color="#337bfc"/><stop offset="0.55" stop-color="#327cfc"/><stop offset="0.6" stop-color="#3579fd"/><stop offset="0.65" stop-color="#3b73fe"/><stop offset="0.7" stop-color="#416bfe"/><stop offset="0.75" stop-color="#4563fd"/><stop offset="0.8" stop-color="#475cfa"/><stop offset="0.85" stop-color="#4757f7"/><stop offset="0.9" stop-color="#4853f5"/><stop offset="0.95" stop-color="#4851f3"/><stop offset="1" stop-color="#484ff2"/></linearGradient>
<linearGradient id="gh2" gradientUnits="userSpaceOnUse" x1="442.4" y1="593.1" x2="502.0" y2="511.2"><stop offset="0" stop-color="#4536d3"/><stop offset="0.05" stop-color="#4536d3"/><stop offset="0.1" stop-color="#4536d3"/><stop offset="0.15" stop-color="#4536d4"/><stop offset="0.2" stop-color="#4537d5"/><stop offset="0.25" stop-color="#463bdc"/><stop offset="0.3" stop-color="#4745e9"/><stop offset="0.35" stop-color="#4854f5"/><stop offset="0.4" stop-color="#4465fd"/><stop offset="0.45" stop-color="#3975fe"/><stop offset="0.5" stop-color="#317dfc"/><stop offset="0.55" stop-color="#307efb"/><stop offset="0.6" stop-color="#327bfc"/><stop offset="0.65" stop-color="#3975fe"/><stop offset="0.7" stop-color="#406cfe"/><stop offset="0.75" stop-color="#4464fd"/><stop offset="0.8" stop-color="#465dfa"/><stop offset="0.85" stop-color="#4757f7"/><stop offset="0.9" stop-color="#4853f5"/><stop offset="0.95" stop-color="#4851f3"/><stop offset="1" stop-color="#484ff2"/></linearGradient>
<linearGradient id="gh3" gradientUnits="userSpaceOnUse" x1="444.4" y1="594.5" x2="503.9" y2="512.6"><stop offset="0" stop-color="#4536d3"/><stop offset="0.05" stop-color="#4536d3"/><stop offset="0.1" stop-color="#4536d3"/><stop offset="0.15" stop-color="#4536d4"/><stop offset="0.2" stop-color="#4537d5"/><stop offset="0.25" stop-color="#463bdc"/><stop offset="0.3" stop-color="#4745ea"/><stop offset="0.35" stop-color="#4755f6"/><stop offset="0.4" stop-color="#4367fd"/><stop offset="0.45" stop-color="#3777fe"/><stop offset="0.5" stop-color="#3080fb"/><stop offset="0.55" stop-color="#2f81fa"/><stop offset="0.6" stop-color="#317dfc"/><stop offset="0.65" stop-color="#3777fe"/><stop offset="0.7" stop-color="#3f6eff"/><stop offset="0.75" stop-color="#4465fd"/><stop offset="0.8" stop-color="#465efb"/><stop offset="0.85" stop-color="#4758f8"/><stop offset="0.9" stop-color="#4854f5"/><stop offset="0.95" stop-color="#4851f3"/><stop offset="1" stop-color="#484ff2"/></linearGradient>
<linearGradient id="gh4" gradientUnits="userSpaceOnUse" x1="446.4" y1="596.0" x2="505.9" y2="514.0"><stop offset="0" stop-color="#4536d3"/><stop offset="0.05" stop-color="#4536d3"/><stop offset="0.1" stop-color="#4536d3"/><stop offset="0.15" stop-color="#4536d4"/><stop offset="0.2" stop-color="#4537d5"/><stop offset="0.25" stop-color="#463bdd"/><stop offset="0.3" stop-color="#4746ea"/><stop offset="0.35" stop-color="#4756f6"/><stop offset="0.4" stop-color="#4368fe"/><stop offset="0.45" stop-color="#3579fd"/><stop offset="0.5" stop-color="#2f82fa"/><stop offset="0.55" stop-color="#2e83f9"/><stop offset="0.6" stop-color="#3080fb"/><stop offset="0.65" stop-color="#3579fd"/><stop offset="0.7" stop-color="#3e70ff"/><stop offset="0.75" stop-color="#4366fd"/><stop offset="0.8" stop-color="#465ffb"/><stop offset="0.85" stop-color="#4758f8"/><stop offset="0.9" stop-color="#4854f5"/><stop offset="0.95" stop-color="#4851f3"/><stop offset="1" stop-color="#484ff2"/></linearGradient>
<linearGradient id="gh5" gradientUnits="userSpaceOnUse" x1="448.4" y1="597.4" x2="507.9" y2="515.5"><stop offset="0" stop-color="#4536d3"/><stop offset="0.05" stop-color="#4536d3"/><stop offset="0.1" stop-color="#4536d3"/><stop offset="0.15" stop-color="#4536d4"/><stop offset="0.2" stop-color="#4537d5"/><stop offset="0.25" stop-color="#463bdd"/><stop offset="0.3" stop-color="#4746ea"/><stop offset="0.35" stop-color="#4757f7"/><stop offset="0.4" stop-color="#426afe"/><stop offset="0.45" stop-color="#327bfc"/><stop offset="0.5" stop-color="#2e84f8"/><stop offset="0.55" stop-color="#2e86f7"/><stop offset="0.6" stop-color="#2f82f9"/><stop offset="0.65" stop-color="#327bfc"/><stop offset="0.7" stop-color="#3c71ff"/><stop offset="0.75" stop-color="#4368fe"/><stop offset="0.8" stop-color="#465ffb"/><stop offset="0.85" stop-color="#4759f8"/><stop offset="0.9" stop-color="#4854f6"/><stop offset="0.95" stop-color="#4851f4"/><stop offset="1" stop-color="#4850f2"/></linearGradient>
<linearGradient id="gh6" gradientUnits="userSpaceOnUse" x1="450.3" y1="598.8" x2="509.9" y2="516.9"><stop offset="0" stop-color="#4536d3"/><stop offset="0.05" stop-color="#4536d3"/><stop offset="0.1" stop-color="#4536d3"/><stop offset="0.15" stop-color="#4536d4"/><stop offset="0.2" stop-color="#4537d5"/><stop offset="0.25" stop-color="#463bdd"/><stop offset="0.3" stop-color="#4747eb"/><stop offset="0.35" stop-color="#4758f8"/><stop offset="0.4" stop-color="#416bfe"/><stop offset="0.45" stop-color="#317dfb"/><stop offset="0.5" stop-color="#2e87f7"/><stop offset="0.55" stop-color="#2d88f6"/><stop offset="0.6" stop-color="#2e85f8"/><stop offset="0.65" stop-color="#317dfb"/><stop offset="0.7" stop-color="#3a73fe"/><stop offset="0.75" stop-color="#4269fe"/><stop offset="0.8" stop-color="#4660fc"/><stop offset="0.85" stop-color="#4759f9"/><stop offset="0.9" stop-color="#4755f6"/><stop offset="0.95" stop-color="#4852f4"/><stop offset="1" stop-color="#4850f2"/></linearGradient>
<linearGradient id="gh7" gradientUnits="userSpaceOnUse" x1="452.3" y1="600.3" x2="511.8" y2="518.4"><stop offset="0" stop-color="#4536d3"/><stop offset="0.05" stop-color="#4536d3"/><stop offset="0.1" stop-color="#4536d3"/><stop offset="0.15" stop-color="#4536d4"/><stop offset="0.2" stop-color="#4537d5"/><stop offset="0.25" stop-color="#463bde"/><stop offset="0.3" stop-color="#4747eb"/><stop offset="0.35" stop-color="#4758f8"/><stop offset="0.4" stop-color="#406dfe"/><stop offset="0.45" stop-color="#3080fa"/><stop offset="0.5" stop-color="#2d8af5"/><stop offset="0.55" stop-color="#2d8bf4"/><stop offset="0.6" stop-color="#2d87f7"/><stop offset="0.65" stop-color="#3080fa"/><stop offset="0.7" stop-color="#3875fe"/><stop offset="0.75" stop-color="#416bfe"/><stop offset="0.8" stop-color="#4561fc"/><stop offset="0.85" stop-color="#475af9"/><stop offset="0.9" stop-color="#4755f6"/><stop offset="0.95" stop-color="#4852f4"/><stop offset="1" stop-color="#4850f2"/></linearGradient>
<linearGradient id="gh8" gradientUnits="userSpaceOnUse" x1="454.3" y1="601.7" x2="513.8" y2="519.8"><stop offset="0" stop-color="#4536d3"/><stop offset="0.05" stop-color="#4536d3"/><stop offset="0.1" stop-color="#4536d3"/><stop offset="0.15" stop-color="#4536d4"/><stop offset="0.2" stop-color="#4537d6"/><stop offset="0.25" stop-color="#463cde"/><stop offset="0.3" stop-color="#4848ec"/><stop offset="0.35" stop-color="#4759f9"/><stop offset="0.4" stop-color="#3e6fff"/><stop offset="0.45" stop-color="#2f82f9"/><stop offset="0.5" stop-color="#2d8cf3"/><stop offset="0.55" stop-color="#2c8ef1"/><stop offset="0.6" stop-color="#2d8af5"/><stop offset="0.65" stop-color="#2f82f9"/><stop offset="0.7" stop-color="#3678fe"/><stop offset="0.75" stop-color="#406cfe"/><stop offset="0.8" stop-color="#4562fc"/><stop offset="0.85" stop-color="#475bf9"/><stop offset="0.9" stop-color="#4755f6"/><stop offset="0.95" stop-color="#4852f4"/><stop offset="1" stop-color="#4850f2"/></linearGradient>
<linearGradient id="gh9" gradientUnits="userSpaceOnUse" x1="456.2" y1="603.1" x2="515.8" y2="521.2"><stop offset="0" stop-color="#4536d3"/><stop offset="0.05" stop-color="#4536d3"/><stop offset="0.1" stop-color="#4536d3"/><stop offset="0.15" stop-color="#4536d4"/><stop offset="0.2" stop-color="#4537d6"/><stop offset="0.25" stop-color="#463cde"/><stop offset="0.3" stop-color="#4848ec"/><stop offset="0.35" stop-color="#475af9"/><stop offset="0.4" stop-color="#3d71ff"/><stop offset="0.45" stop-color="#2e85f8"/><stop offset="0.5" stop-color="#2c8ff0"/><stop offset="0.55" stop-color="#2b91ef"/><stop offset="0.6" stop-color="#2d8df2"/><stop offset="0.65" stop-color="#2e85f8"/><stop offset="0.7" stop-color="#347afd"/><stop offset="0.75" stop-color="#3f6efe"/><stop offset="0.8" stop-color="#4563fd"/><stop offset="0.85" stop-color="#475bfa"/><stop offset="0.9" stop-color="#4756f6"/><stop offset="0.95" stop-color="#4852f4"/><stop offset="1" stop-color="#4850f2"/></linearGradient>
<linearGradient id="gh10" gradientUnits="userSpaceOnUse" x1="458.2" y1="604.6" x2="517.8" y2="522.7"><stop offset="0" stop-color="#4536d3"/><stop offset="0.05" stop-color="#4536d3"/><stop offset="0.1" stop-color="#4536d3"/><stop offset="0.15" stop-color="#4536d4"/><stop offset="0.2" stop-color="#4537d6"/><stop offset="0.25" stop-color="#463cde"/><stop offset="0.3" stop-color="#4849ed"/><stop offset="0.35" stop-color="#475bfa"/><stop offset="0.4" stop-color="#3b73fe"/><stop offset="0.45" stop-color="#2e87f7"/><stop offset="0.5" stop-color="#2b92ee"/><stop offset="0.55" stop-color="#2a93ed"/><stop offset="0.6" stop-color="#2c8ff0"/><stop offset="0.65" stop-color="#2e87f7"/><stop offset="0.7" stop-color="#327cfc"/><stop offset="0.75" stop-color="#3e6fff"/><stop offset="0.8" stop-color="#4464fd"/><stop offset="0.85" stop-color="#475cfa"/><stop offset="0.9" stop-color="#4756f7"/><stop offset="0.95" stop-color="#4852f4"/><stop offset="1" stop-color="#4850f3"/></linearGradient>
<linearGradient id="gh11" gradientUnits="userSpaceOnUse" x1="460.2" y1="606.0" x2="519.7" y2="524.1"><stop offset="0" stop-color="#4536d3"/><stop offset="0.05" stop-color="#4536d3"/><stop offset="0.1" stop-color="#4536d3"/><stop offset="0.15" stop-color="#4536d4"/><stop offset="0.2" stop-color="#4537d6"/><stop offset="0.25" stop-color="#463cdf"/><stop offset="0.3" stop-color="#4849ed"/><stop offset="0.35" stop-color="#475cfa"/><stop offset="0.4" stop-color="#3975fe"/><stop offset="0.45" stop-color="#2d89f5"/><stop offset="0.5" stop-color="#2995ec"/><stop offset="0.55" stop-color="#2796eb"/><stop offset="0.6" stop-color="#2b92ee"/><stop offset="0.65" stop-color="#2d89f5"/><stop offset="0.7" stop-color="#317efb"/><stop offset="0.75" stop-color="#3d71ff"/><stop offset="0.8" stop-color="#4465fd"/><stop offset="0.85" stop-color="#475dfa"/><stop offset="0.9" stop-color="#4756f7"/><stop offset="0.95" stop-color="#4853f4"/><stop offset="1" stop-color="#4850f3"/></linearGradient>
<linearGradient id="gh12" gradientUnits="userSpaceOnUse" x1="462.2" y1="607.4" x2="521.7" y2="525.5"><stop offset="0" stop-color="#4536d3"/><stop offset="0.05" stop-color="#4536d3"/><stop offset="0.1" stop-color="#4536d3"/><stop offset="0.15" stop-color="#4536d4"/><stop offset="0.2" stop-color="#4537d6"/><stop offset="0.25" stop-color="#463cdf"/><stop offset="0.3" stop-color="#484aed"/><stop offset="0.35" stop-color="#465efb"/><stop offset="0.4" stop-color="#3777fe"/><stop offset="0.45" stop-color="#2d8cf3"/><stop offset="0.5" stop-color="#2798ea"/><stop offset="0.55" stop-color="#2699e9"/><stop offset="0.6" stop-color="#2995ec"/><stop offset="0.65" stop-color="#2d8cf3"/><stop offset="0.7" stop-color="#2f80fa"/><stop offset="0.75" stop-color="#3b73fe"/><stop offset="0.8" stop-color="#4367fd"/><stop offset="0.85" stop-color="#465dfb"/><stop offset="0.9" stop-color="#4757f7"/><stop offset="0.95" stop-color="#4853f5"/><stop offset="1" stop-color="#4850f3"/></linearGradient>
<linearGradient id="gh13" gradientUnits="userSpaceOnUse" x1="464.1" y1="608.9" x2="523.7" y2="527.0"><stop offset="0" stop-color="#4536d3"/><stop offset="0.05" stop-color="#4536d3"/><stop offset="0.1" stop-color="#4536d3"/><stop offset="0.15" stop-color="#4536d4"/><stop offset="0.2" stop-color="#4537d6"/><stop offset="0.25" stop-color="#463ddf"/><stop offset="0.3" stop-color="#484aee"/><stop offset="0.35" stop-color="#465ffb"/><stop offset="0.4" stop-color="#3579fd"/><stop offset="0.45" stop-color="#2c8ef1"/><stop offset="0.5" stop-color="#269ae8"/><stop offset="0.55" stop-color="#259ce7"/><stop offset="0.6" stop-color="#2797ea"/><stop offset="0.65" stop-color="#2c8ef1"/><stop offset="0.7" stop-color="#2f82f9"/><stop offset="0.75" stop-color="#3974fe"/><stop offset="0.8" stop-color="#4368fd"/><stop offset="0.85" stop-color="#465efb"/><stop offset="0.9" stop-color="#4757f7"/><stop offset="0.95" stop-color="#4853f5"/><stop offset="1" stop-color="#4850f3"/></linearGradient>
<linearGradient id="gh14" gradientUnits="userSpaceOnUse" x1="466.1" y1="610.3" x2="525.6" y2="528.4"><stop offset="0" stop-color="#4536d3"/><stop offset="0.05" stop-color="#4536d3"/><stop offset="0.1" stop-color="#4536d3"/><stop offset="0.15" stop-color="#4536d4"/><stop offset="0.2" stop-color="#4537d6"/><stop offset="0.25" stop-color="#463de0"/><stop offset="0.3" stop-color="#484bee"/><stop offset="0.35" stop-color="#4660fb"/><stop offset="0.4" stop-color="#337bfd"/><stop offset="0.45" stop-color="#2b91ef"/><stop offset="0.5" stop-color="#249de6"/><stop offset="0.55" stop-color="#249fe6"/><stop offset="0.6" stop-color="#269ae8"/><stop offset="0.65" stop-color="#2b91ef"/><stop offset="0.7" stop-color="#2e84f8"/><stop offset="0.75" stop-color="#3776fe"/><stop offset="0.8" stop-color="#4269fe"/><stop offset="0.85" stop-color="#465ffb"/><stop offset="0.9" stop-color="#4758f8"/><stop offset="0.95" stop-color="#4853f5"/><stop offset="1" stop-color="#4850f3"/></linearGradient>
<linearGradient id="gh15" gradientUnits="userSpaceOnUse" x1="468.1" y1="611.7" x2="527.6" y2="529.8"><stop offset="0" stop-color="#4536d3"/><stop offset="0.05" stop-color="#4536d3"/><stop offset="0.1" stop-color="#4536d3"/><stop offset="0.15" stop-color="#4536d4"/><stop offset="0.2" stop-color="#4537d6"/><stop offset="0.25" stop-color="#463de0"/><stop offset="0.3" stop-color="#484bef"/><stop offset="0.35" stop-color="#4561fc"/><stop offset="0.4" stop-color="#317dfc"/><stop offset="0.45" stop-color="#2a93ed"/><stop offset="0.5" stop-color="#23a0e5"/><stop offset="0.55" stop-color="#22a2e4"/><stop offset="0.6" stop-color="#259de7"/><stop offset="0.65" stop-color="#2a93ed"/><stop offset="0.7" stop-color="#2e87f7"/><stop offset="0.75" stop-color="#3678fd"/><stop offset="0.8" stop-color="#426afe"/><stop offset="0.85" stop-color="#465ffb"/><stop offset="0.9" stop-color="#4758f8"/><stop offset="0.95" stop-color="#4853f5"/><stop offset="1" stop-color="#4851f3"/></linearGradient>
<linearGradient id="gh16" gradientUnits="userSpaceOnUse" x1="470.0" y1="613.2" x2="529.6" y2="531.3"><stop offset="0" stop-color="#4536d3"/><stop offset="0.05" stop-color="#4536d3"/><stop offset="0.1" stop-color="#4536d3"/><stop offset="0.15" stop-color="#4536d4"/><stop offset="0.2" stop-color="#4537d7"/><stop offset="0.25" stop-color="#463de0"/><stop offset="0.3" stop-color="#484cef"/><stop offset="0.35" stop-color="#4562fc"/><stop offset="0.4" stop-color="#307ffb"/><stop offset="0.45" stop-color="#2896eb"/><stop offset="0.5" stop-color="#21a3e3"/><stop offset="0.55" stop-color="#20a5e3"/><stop offset="0.6" stop-color="#23a0e5"/><stop offset="0.65" stop-color="#2896eb"/><stop offset="0.7" stop-color="#2d89f5"/><stop offset="0.75" stop-color="#347afd"/><stop offset="0.8" stop-color="#416bfe"/><stop offset="0.85" stop-color="#4660fc"/><stop offset="0.9" stop-color="#4759f8"/><stop offset="0.95" stop-color="#4854f5"/><stop offset="1" stop-color="#4851f3"/></linearGradient>
<linearGradient id="gh17" gradientUnits="userSpaceOnUse" x1="472.0" y1="614.6" x2="531.6" y2="532.7"><stop offset="0" stop-color="#4536d3"/><stop offset="0.05" stop-color="#4536d3"/><stop offset="0.1" stop-color="#4536d3"/><stop offset="0.15" stop-color="#4536d4"/><stop offset="0.2" stop-color="#4538d7"/><stop offset="0.25" stop-color="#463ee0"/><stop offset="0.3" stop-color="#484cf0"/><stop offset="0.35" stop-color="#4563fd"/><stop offset="0.4" stop-color="#2f81fa"/><stop offset="0.45" stop-color="#2698ea"/><stop offset="0.5" stop-color="#1fa6e2"/><stop offset="0.55" stop-color="#1ea7e1"/><stop offset="0.6" stop-color="#22a2e4"/><stop offset="0.65" stop-color="#2698ea"/><stop offset="0.7" stop-color="#2d8bf4"/><stop offset="0.75" stop-color="#327cfc"/><stop offset="0.8" stop-color="#406cfe"/><stop offset="0.85" stop-color="#4561fc"/><stop offset="0.9" stop-color="#4759f8"/><stop offset="0.95" stop-color="#4854f5"/><stop offset="1" stop-color="#4851f3"/></linearGradient>
<linearGradient id="gh18" gradientUnits="userSpaceOnUse" x1="474.0" y1="616.0" x2="533.5" y2="534.1"><stop offset="0" stop-color="#4536d3"/><stop offset="0.05" stop-color="#4536d3"/><stop offset="0.1" stop-color="#4536d3"/><stop offset="0.15" stop-color="#4536d4"/><stop offset="0.2" stop-color="#4538d7"/><stop offset="0.25" stop-color="#463ee1"/><stop offset="0.3" stop-color="#484df0"/><stop offset="0.35" stop-color="#4464fd"/><stop offset="0.4" stop-color="#2e83f9"/><stop offset="0.45" stop-color="#259be8"/><stop offset="0.5" stop-color="#1da8e0"/><stop offset="0.55" stop-color="#1baade"/><stop offset="0.6" stop-color="#1fa5e2"/><stop offset="0.65" stop-color="#259be8"/><stop offset="0.7" stop-color="#2d8df2"/><stop offset="0.75" stop-color="#317dfb"/><stop offset="0.8" stop-color="#3f6efe"/><stop offset="0.85" stop-color="#4562fc"/><stop offset="0.9" stop-color="#4759f9"/><stop offset="0.95" stop-color="#4854f5"/><stop offset="1" stop-color="#4851f3"/></linearGradient>
<linearGradient id="gh19" gradientUnits="userSpaceOnUse" x1="476.0" y1="617.5" x2="535.5" y2="535.6"><stop offset="0" stop-color="#4536d3"/><stop offset="0.05" stop-color="#4536d3"/><stop offset="0.1" stop-color="#4536d3"/><stop offset="0.15" stop-color="#4536d4"/><stop offset="0.2" stop-color="#4538d7"/><stop offset="0.25" stop-color="#463ee1"/><stop offset="0.3" stop-color="#484ef1"/><stop offset="0.35" stop-color="#4466fd"/><stop offset="0.4" stop-color="#2e85f8"/><stop offset="0.45" stop-color="#249de6"/><stop offset="0.5" stop-color="#1babde"/><stop offset="0.55" stop-color="#19addc"/><stop offset="0.6" stop-color="#1da8e0"/><stop offset="0.65" stop-color="#249de6"/><stop offset="0.7" stop-color="#2c8ff0"/><stop offset="0.75" stop-color="#307ffb"/><stop offset="0.8" stop-color="#3e6fff"/><stop offset="0.85" stop-color="#4562fc"/><stop offset="0.9" stop-color="#475af9"/><stop offset="0.95" stop-color="#4854f6"/><stop offset="1" stop-color="#4851f3"/></linearGradient>
<linearGradient id="gh20" gradientUnits="userSpaceOnUse" x1="477.9" y1="618.9" x2="537.5" y2="537.0"><stop offset="0" stop-color="#4536d3"/><stop offset="0.05" stop-color="#4536d3"/><stop offset="0.1" stop-color="#4536d3"/><stop offset="0.15" stop-color="#4536d4"/><stop offset="0.2" stop-color="#4538d7"/><stop offset="0.25" stop-color="#473ee1"/><stop offset="0.3" stop-color="#484ef1"/><stop offset="0.35" stop-color="#4367fd"/><stop offset="0.4" stop-color="#2e87f7"/><stop offset="0.45" stop-color="#23a0e5"/><stop offset="0.5" stop-color="#18aedb"/><stop offset="0.55" stop-color="#15afd8"/><stop offset="0.6" stop-color="#1babde"/><stop offset="0.65" stop-color="#23a0e5"/><stop offset="0.7" stop-color="#2b92ef"/><stop offset="0.75" stop-color="#2f81fa"/><stop offset="0.8" stop-color="#3d70ff"/><stop offset="0.85" stop-color="#4563fd"/><stop offset="0.9" stop-color="#475af9"/><stop offset="0.95" stop-color="#4855f6"/><stop offset="1" stop-color="#4851f3"/></linearGradient>
<linearGradient id="gh21" gradientUnits="userSpaceOnUse" x1="479.9" y1="620.3" x2="539.5" y2="538.4"><stop offset="0" stop-color="#4536d3"/><stop offset="0.05" stop-color="#4536d3"/><stop offset="0.1" stop-color="#4536d3"/><stop offset="0.15" stop-color="#4536d4"/><stop offset="0.2" stop-color="#4538d7"/><stop offset="0.25" stop-color="#473ee2"/><stop offset="0.3" stop-color="#484ff2"/><stop offset="0.35" stop-color="#4368fe"/><stop offset="0.4" stop-color="#2d89f5"/><stop offset="0.45" stop-color="#21a2e4"/><stop offset="0.5" stop-color="#13b0d7"/><stop offset="0.55" stop-color="#0fb2d5"/><stop offset="0.6" stop-color="#19addc"/><stop offset="0.65" stop-color="#21a2e4"/><stop offset="0.7" stop-color="#2994ed"/><stop offset="0.75" stop-color="#2e83f9"/><stop offset="0.8" stop-color="#3c72ff"/><stop offset="0.85" stop-color="#4464fd"/><stop offset="0.9" stop-color="#475bf9"/><stop offset="0.95" stop-color="#4755f6"/><stop offset="1" stop-color="#4851f4"/></linearGradient>
<linearGradient id="gh22" gradientUnits="userSpaceOnUse" x1="481.9" y1="621.8" x2="541.4" y2="539.9"><stop offset="0" stop-color="#4536d3"/><stop offset="0.05" stop-color="#4536d3"/><stop offset="0.1" stop-color="#4536d3"/><stop offset="0.15" stop-color="#4536d4"/><stop offset="0.2" stop-color="#4538d7"/><stop offset="0.25" stop-color="#473fe2"/><stop offset="0.3" stop-color="#484ff2"/><stop offset="0.35" stop-color="#426afe"/><stop offset="0.4" stop-color="#2d8bf4"/><stop offset="0.45" stop-color="#20a5e2"/><stop offset="0.5" stop-color="#0eb3d4"/><stop offset="0.55" stop-color="#09b4d1"/><stop offset="0.6" stop-color="#14b0d8"/><stop offset="0.65" stop-color="#20a5e2"/><stop offset="0.7" stop-color="#2896eb"/><stop offset="0.75" stop-color="#2e85f8"/><stop offset="0.8" stop-color="#3a73fe"/><stop offset="0.85" stop-color="#4465fd"/><stop offset="0.9" stop-color="#475bf9"/><stop offset="0.95" stop-color="#4755f6"/><stop offset="1" stop-color="#4851f4"/></linearGradient>
<linearGradient id="gh23" gradientUnits="userSpaceOnUse" x1="483.9" y1="623.2" x2="543.4" y2="541.3"><stop offset="0" stop-color="#4536d3"/><stop offset="0.05" stop-color="#4536d3"/><stop offset="0.1" stop-color="#4536d3"/><stop offset="0.15" stop-color="#4536d4"/><stop offset="0.2" stop-color="#4538d7"/><stop offset="0.25" stop-color="#473fe2"/><stop offset="0.3" stop-color="#4850f3"/><stop offset="0.35" stop-color="#416bfe"/><stop offset="0.4" stop-color="#2d8df2"/><stop offset="0.45" stop-color="#1ea7e1"/><stop offset="0.5" stop-color="#07b5d0"/><stop offset="0.55" stop-color="#04b6cd"/><stop offset="0.6" stop-color="#10b2d5"/><stop offset="0.65" stop-color="#1ea7e1"/><stop offset="0.7" stop-color="#2798ea"/><stop offset="0.75" stop-color="#2e86f7"/><stop offset="0.8" stop-color="#3974fe"/><stop offset="0.85" stop-color="#4466fd"/><stop offset="0.9" stop-color="#475cfa"/><stop offset="0.95" stop-color="#4755f6"/><stop offset="1" stop-color="#4852f4"/></linearGradient>
<linearGradient id="gh24" gradientUnits="userSpaceOnUse" x1="485.8" y1="624.6" x2="545.4" y2="542.7"><stop offset="0" stop-color="#4536d3"/><stop offset="0.05" stop-color="#4536d3"/><stop offset="0.1" stop-color="#4536d3"/><stop offset="0.15" stop-color="#4536d4"/><stop offset="0.2" stop-color="#4538d8"/><stop offset="0.25" stop-color="#473fe3"/><stop offset="0.3" stop-color="#4851f3"/><stop offset="0.35" stop-color="#406cfe"/><stop offset="0.4" stop-color="#2c8ff1"/><stop offset="0.45" stop-color="#1caadf"/><stop offset="0.5" stop-color="#03b7cc"/><stop offset="0.55" stop-color="#01b8c8"/><stop offset="0.6" stop-color="#09b4d1"/><stop offset="0.65" stop-color="#1caadf"/><stop offset="0.7" stop-color="#269ae8"/><stop offset="0.75" stop-color="#2d88f6"/><stop offset="0.8" stop-color="#3876fe"/><stop offset="0.85" stop-color="#4367fd"/><stop offset="0.9" stop-color="#475cfa"/><stop offset="0.95" stop-color="#4756f6"/><stop offset="1" stop-color="#4852f4"/></linearGradient>
<linearGradient id="gh25" gradientUnits="userSpaceOnUse" x1="487.8" y1="626.1" x2="547.3" y2="544.2"><stop offset="0" stop-color="#4536d3"/><stop offset="0.05" stop-color="#4536d3"/><stop offset="0.1" stop-color="#4536d3"/><stop offset="0.15" stop-color="#4536d4"/><stop offset="0.2" stop-color="#4538d8"/><stop offset="0.25" stop-color="#473fe3"/><stop offset="0.3" stop-color="#4851f4"/><stop offset="0.35" stop-color="#3f6efe"/><stop offset="0.4" stop-color="#2b91ef"/><stop offset="0.45" stop-color="#19acdc"/><stop offset="0.5" stop-color="#01b9c7"/><stop offset="0.55" stop-color="#02bac4"/><stop offset="0.6" stop-color="#04b6cd"/><stop offset="0.65" stop-color="#19acdc"/><stop offset="0.7" stop-color="#259ce7"/><stop offset="0.75" stop-color="#2d8af5"/><stop offset="0.8" stop-color="#3677fe"/><stop offset="0.85" stop-color="#4367fd"/><stop offset="0.9" stop-color="#475dfa"/><stop offset="0.95" stop-color="#4756f6"/><stop offset="1" stop-color="#4852f4"/></linearGradient>
<linearGradient id="gh26" gradientUnits="userSpaceOnUse" x1="489.8" y1="627.5" x2="549.3" y2="545.6"><stop offset="0" stop-color="#4536d3"/><stop offset="0.05" stop-color="#4536d3"/><stop offset="0.1" stop-color="#4536d3"/><stop offset="0.15" stop-color="#4536d5"/><stop offset="0.2" stop-color="#4538d8"/><stop offset="0.25" stop-color="#4740e3"/><stop offset="0.3" stop-color="#4852f4"/><stop offset="0.35" stop-color="#3e6fff"/><stop offset="0.4" stop-color="#2a93ee"/><stop offset="0.45" stop-color="#16aeda"/><stop offset="0.5" stop-color="#03bbc3"/><stop offset="0.55" stop-color="#08bcbf"/><stop offset="0.6" stop-color="#01b8c9"/><stop offset="0.65" stop-color="#16aeda"/><stop offset="0.7" stop-color="#249ee6"/><stop offset="0.75" stop-color="#2d8cf3"/><stop offset="0.8" stop-color="#3579fd"/><stop offset="0.85" stop-color="#4368fe"/><stop offset="0.9" stop-color="#465dfa"/><stop offset="0.95" stop-color="#4756f7"/><stop offset="1" stop-color="#4852f4"/></linearGradient>
<linearGradient id="gh27" gradientUnits="userSpaceOnUse" x1="491.8" y1="628.9" x2="551.3" y2="547.0"><stop offset="0" stop-color="#4536d3"/><stop offset="0.05" stop-color="#4536d3"/><stop offset="0.1" stop-color="#4536d3"/><stop offset="0.15" stop-color="#4536d5"/><stop offset="0.2" stop-color="#4538d8"/><stop offset="0.25" stop-color="#4740e4"/><stop offset="0.3" stop-color="#4853f4"/><stop offset="0.35" stop-color="#3d70ff"/><stop offset="0.4" stop-color="#2895ec"/><stop offset="0.45" stop-color="#13b1d7"/><stop offset="0.5" stop-color="#09bcbe"/><stop offset="0.55" stop-color="#10beba"/><stop offset="0.6" stop-color="#02bac5"/><stop offset="0.65" stop-color="#13b1d7"/><stop offset="0.7" stop-color="#23a1e5"/><stop offset="0.75" stop-color="#2d8df2"/><stop offset="0.8" stop-color="#347afd"/><stop offset="0.85" stop-color="#4269fe"/><stop offset="0.9" stop-color="#465efb"/><stop offset="0.95" stop-color="#4756f7"/><stop offset="1" stop-color="#4852f4"/></linearGradient>
<linearGradient id="gh28" gradientUnits="userSpaceOnUse" x1="493.7" y1="630.4" x2="553.3" y2="548.5"><stop offset="0" stop-color="#4536d3"/><stop offset="0.05" stop-color="#4536d3"/><stop offset="0.1" stop-color="#4536d3"/><stop offset="0.15" stop-color="#4536d5"/><stop offset="0.2" stop-color="#4538d8"/><stop offset="0.25" stop-color="#4740e4"/><stop offset="0.3" stop-color="#4853f5"/><stop offset="0.35" stop-color="#3c72ff"/><stop offset="0.4" stop-color="#2797eb"/><stop offset="0.45" stop-color="#0db3d3"/><stop offset="0.5" stop-color="#12beb9"/><stop offset="0.55" stop-color="#19bfb5"/><stop offset="0.6" stop-color="#06bcc0"/><stop offset="0.65" stop-color="#0db3d3"/><stop offset="0.7" stop-color="#21a3e3"/><stop offset="0.75" stop-color="#2c8ff0"/><stop offset="0.8" stop-color="#327cfc"/><stop offset="0.85" stop-color="#426afe"/><stop offset="0.9" stop-color="#465efb"/><stop offset="0.95" stop-color="#4757f7"/><stop offset="1" stop-color="#4852f4"/></linearGradient>
<linearGradient id="gh29" gradientUnits="userSpaceOnUse" x1="495.7" y1="631.8" x2="555.2" y2="549.9"><stop offset="0" stop-color="#4536d3"/><stop offset="0.05" stop-color="#4536d3"/><stop offset="0.1" stop-color="#4536d3"/><stop offset="0.15" stop-color="#4537d5"/><stop offset="0.2" stop-color="#4538d8"/><stop offset="0.25" stop-color="#4741e4"/><stop offset="0.3" stop-color="#4854f5"/><stop offset="0.35" stop-color="#3a73fe"/><stop offset="0.4" stop-color="#2699e9"/><stop offset="0.45" stop-color="#07b5d0"/><stop offset="0.5" stop-color="#1bc0b4"/><stop offset="0.55" stop-color="#22c1b0"/><stop offset="0.6" stop-color="#0dbdbc"/><stop offset="0.65" stop-color="#07b5d0"/><stop offset="0.7" stop-color="#20a5e2"/><stop offset="0.75" stop-color="#2b91ef"/><stop offset="0.8" stop-color="#317dfc"/><stop offset="0.85" stop-color="#416bfe"/><stop offset="0.9" stop-color="#465ffb"/><stop offset="0.95" stop-color="#4757f7"/><stop offset="1" stop-color="#4852f4"/></linearGradient>
<linearGradient id="gh30" gradientUnits="userSpaceOnUse" x1="497.7" y1="633.2" x2="557.2" y2="551.3"><stop offset="0" stop-color="#4536d3"/><stop offset="0.05" stop-color="#4536d3"/><stop offset="0.1" stop-color="#4536d3"/><stop offset="0.15" stop-color="#4537d5"/><stop offset="0.2" stop-color="#4539d8"/><stop offset="0.25" stop-color="#4741e5"/><stop offset="0.3" stop-color="#4855f6"/><stop offset="0.35" stop-color="#3975fe"/><stop offset="0.4" stop-color="#259be8"/><stop offset="0.45" stop-color="#04b6cc"/><stop offset="0.5" stop-color="#23c1af"/><stop offset="0.55" stop-color="#28c3ab"/><stop offset="0.6" stop-color="#16bfb7"/><stop offset="0.65" stop-color="#04b6cc"/><stop offset="0.7" stop-color="#1ea7e1"/><stop offset="0.75" stop-color="#2a93ee"/><stop offset="0.8" stop-color="#317efb"/><stop offset="0.85" stop-color="#416cfe"/><stop offset="0.9" stop-color="#465ffb"/><stop offset="0.95" stop-color="#4757f7"/><stop offset="1" stop-color="#4852f4"/></linearGradient>
<linearGradient id="gh31" gradientUnits="userSpaceOnUse" x1="499.6" y1="634.7" x2="559.2" y2="552.8"><stop offset="0" stop-color="#4536d3"/><stop offset="0.05" stop-color="#4536d3"/><stop offset="0.1" stop-color="#4536d3"/><stop offset="0.15" stop-color="#4537d5"/><stop offset="0.2" stop-color="#4539d9"/><stop offset="0.25" stop-color="#4741e5"/><stop offset="0.3" stop-color="#4755f6"/><stop offset="0.35" stop-color="#3776fe"/><stop offset="0.4" stop-color="#259de7"/><stop offset="0.45" stop-color="#01b8c9"/><stop offset="0.5" stop-color="#29c3aa"/><stop offset="0.55" stop-color="#2dc4a5"/><stop offset="0.6" stop-color="#1ec0b2"/><stop offset="0.65" stop-color="#01b8c9"/><stop offset="0.7" stop-color="#1ca9e0"/><stop offset="0.75" stop-color="#2995ec"/><stop offset="0.8" stop-color="#3080fb"/><stop offset="0.85" stop-color="#406dfe"/><stop offset="0.9" stop-color="#4660fb"/><stop offset="0.95" stop-color="#4757f7"/><stop offset="1" stop-color="#4853f4"/></linearGradient>
<linearGradient id="gh32" gradientUnits="userSpaceOnUse" x1="501.6" y1="636.1" x2="561.2" y2="554.2"><stop offset="0" stop-color="#4536d3"/><stop offset="0.05" stop-color="#4536d3"/><stop offset="0.1" stop-color="#4536d3"/><stop offset="0.15" stop-color="#4537d5"/><stop offset="0.2" stop-color="#4539d9"/><stop offset="0.25" stop-color="#4741e5"/><stop offset="0.3" stop-color="#4756f6"/><stop offset="0.35" stop-color="#3678fd"/><stop offset="0.4" stop-color="#249fe6"/><stop offset="0.45" stop-color="#02bac5"/><stop offset="0.5" stop-color="#2ec4a5"/><stop offset="0.55" stop-color="#31c69f"/><stop offset="0.6" stop-color="#25c2ad"/><stop offset="0.65" stop-color="#02bac5"/><stop offset="0.7" stop-color="#1babde"/><stop offset="0.75" stop-color="#2796eb"/><stop offset="0.8" stop-color="#2f81fa"/><stop offset="0.85" stop-color="#3f6efe"/><stop offset="0.9" stop-color="#4660fc"/><stop offset="0.95" stop-color="#4758f8"/><stop offset="1" stop-color="#4853f5"/></linearGradient>
<linearGradient id="gh33" gradientUnits="userSpaceOnUse" x1="503.6" y1="637.5" x2="563.1" y2="555.6"><stop offset="0" stop-color="#4536d3"/><stop offset="0.05" stop-color="#4536d3"/><stop offset="0.1" stop-color="#4536d3"/><stop offset="0.15" stop-color="#4537d5"/><stop offset="0.2" stop-color="#4539d9"/><stop offset="0.25" stop-color="#4742e6"/><stop offset="0.3" stop-color="#4756f7"/><stop offset="0.35" stop-color="#3479fd"/><stop offset="0.4" stop-color="#23a1e4"/><stop offset="0.45" stop-color="#05bbc1"/><stop offset="0.5" stop-color="#32c69f"/><stop offset="0.55" stop-color="#36c799"/><stop offset="0.6" stop-color="#2bc3a8"/><stop offset="0.65" stop-color="#05bbc1"/><stop offset="0.7" stop-color="#19addc"/><stop offset="0.75" stop-color="#2798ea"/><stop offset="0.8" stop-color="#2f82f9"/><stop offset="0.85" stop-color="#3f6fff"/><stop offset="0.9" stop-color="#4661fc"/><stop offset="0.95" stop-color="#4758f8"/><stop offset="1" stop-color="#4853f5"/></linearGradient>
<linearGradient id="gh34" gradientUnits="userSpaceOnUse" x1="505.6" y1="639.0" x2="565.1" y2="557.1"><stop offset="0" stop-color="#4536d3"/><stop offset="0.05" stop-color="#4536d3"/><stop offset="0.1" stop-color="#4536d3"/><stop offset="0.15" stop-color="#4537d5"/><stop offset="0.2" stop-color="#4539d9"/><stop offset="0.25" stop-color="#4742e6"/><stop offset="0.3" stop-color="#4757f7"/><stop offset="0.35" stop-color="#337bfc"/><stop offset="0.4" stop-color="#21a3e4"/><stop offset="0.45" stop-color="#0bbdbd"/><stop offset="0.5" stop-color="#36c899"/><stop offset="0.55" stop-color="#3bc993"/><stop offset="0.6" stop-color="#2fc5a3"/><stop offset="0.65" stop-color="#0bbdbd"/><stop offset="0.7" stop-color="#15afd9"/><stop offset="0.75" stop-color="#269ae9"/><stop offset="0.8" stop-color="#2e84f9"/><stop offset="0.85" stop-color="#3e6fff"/><stop offset="0.9" stop-color="#4561fc"/><stop offset="0.95" stop-color="#4758f8"/><stop offset="1" stop-color="#4853f5"/></linearGradient>
<linearGradient id="gh35" gradientUnits="userSpaceOnUse" x1="507.5" y1="640.4" x2="567.1" y2="558.5"><stop offset="0" stop-color="#4536d3"/><stop offset="0.05" stop-color="#4536d3"/><stop offset="0.1" stop-color="#4536d3"/><stop offset="0.15" stop-color="#4537d5"/><stop offset="0.2" stop-color="#4639d9"/><stop offset="0.25" stop-color="#4742e6"/><stop offset="0.3" stop-color="#4758f8"/><stop offset="0.35" stop-color="#327cfc"/><stop offset="0.4" stop-color="#20a5e3"/><stop offset="0.45" stop-color="#13beb8"/><stop offset="0.5" stop-color="#3bc992"/><stop offset="0.55" stop-color="#42ca8c"/><stop offset="0.6" stop-color="#33c69d"/><stop offset="0.65" stop-color="#13beb8"/><stop offset="0.7" stop-color="#12b1d7"/><stop offset="0.75" stop-color="#259ce7"/><stop offset="0.8" stop-color="#2e85f8"/><stop offset="0.85" stop-color="#3d70ff"/><stop offset="0.9" stop-color="#4562fc"/><stop offset="0.95" stop-color="#4759f8"/><stop offset="1" stop-color="#4853f5"/></linearGradient>
<linearGradient id="gh36" gradientUnits="userSpaceOnUse" x1="509.5" y1="641.8" x2="569.0" y2="559.9"><stop offset="0" stop-color="#4536d3"/><stop offset="0.05" stop-color="#4536d3"/><stop offset="0.1" stop-color="#4536d3"/><stop offset="0.15" stop-color="#4537d5"/><stop offset="0.2" stop-color="#4639d9"/><stop offset="0.25" stop-color="#4742e7"/><stop offset="0.3" stop-color="#4759f8"/><stop offset="0.35" stop-color="#317efb"/><stop offset="0.4" stop-color="#1ea7e1"/><stop offset="0.45" stop-color="#1bc0b4"/><stop offset="0.5" stop-color="#42ca8b"/><stop offset="0.55" stop-color="#4acb84"/><stop offset="0.6" stop-color="#37c897"/><stop offset="0.65" stop-color="#1bc0b4"/><stop offset="0.7" stop-color="#0eb3d4"/><stop offset="0.75" stop-color="#249de6"/><stop offset="0.8" stop-color="#2e86f7"/><stop offset="0.85" stop-color="#3c71ff"/><stop offset="0.9" stop-color="#4562fc"/><stop offset="0.95" stop-color="#4759f8"/><stop offset="1" stop-color="#4853f5"/></linearGradient>
<linearGradient id="gh37" gradientUnits="userSpaceOnUse" x1="511.5" y1="643.3" x2="571.0" y2="561.4"><stop offset="0" stop-color="#4536d3"/><stop offset="0.05" stop-color="#4536d3"/><stop offset="0.1" stop-color="#4536d3"/><stop offset="0.15" stop-color="#4537d5"/><stop offset="0.2" stop-color="#4639da"/><stop offset="0.25" stop-color="#4743e7"/><stop offset="0.3" stop-color="#4759f8"/><stop offset="0.35" stop-color="#307ffb"/><stop offset="0.4" stop-color="#1da8e0"/><stop offset="0.45" stop-color="#22c1b0"/><stop offset="0.5" stop-color="#4acb84"/><stop offset="0.55" stop-color="#54cc7c"/><stop offset="0.6" stop-color="#3dc990"/><stop offset="0.65" stop-color="#22c1b0"/><stop offset="0.7" stop-color="#09b4d1"/><stop offset="0.75" stop-color="#249fe5"/><stop offset="0.8" stop-color="#2d88f6"/><stop offset="0.85" stop-color="#3b72fe"/><stop offset="0.9" stop-color="#4563fc"/><stop offset="0.95" stop-color="#4759f8"/><stop offset="1" stop-color="#4853f5"/></linearGradient>
<linearGradient id="gh38" gradientUnits="userSpaceOnUse" x1="513.4" y1="644.7" x2="573.0" y2="562.8"><stop offset="0" stop-color="#4536d3"/><stop offset="0.05" stop-color="#4536d3"/><stop offset="0.1" stop-color="#4536d4"/><stop offset="0.15" stop-color="#4537d5"/><stop offset="0.2" stop-color="#4639da"/><stop offset="0.25" stop-color="#4743e7"/><stop offset="0.3" stop-color="#475af9"/><stop offset="0.35" stop-color="#2f81fa"/><stop offset="0.4" stop-color="#1baade"/><stop offset="0.45" stop-color="#27c2ab"/><stop offset="0.5" stop-color="#54cc7c"/><stop offset="0.55" stop-color="#5ecc74"/><stop offset="0.6" stop-color="#44cb8a"/><stop offset="0.65" stop-color="#27c2ab"/><stop offset="0.7" stop-color="#05b6ce"/><stop offset="0.75" stop-color="#23a1e4"/><stop offset="0.8" stop-color="#2d89f5"/><stop offset="0.85" stop-color="#3a73fe"/><stop offset="0.9" stop-color="#4563fd"/><stop offset="0.95" stop-color="#4759f9"/><stop offset="1" stop-color="#4854f5"/></linearGradient>
<linearGradient id="gh39" gradientUnits="userSpaceOnUse" x1="515.4" y1="646.1" x2="575.0" y2="564.2"><stop offset="0" stop-color="#4536d3"/><stop offset="0.05" stop-color="#4536d3"/><stop offset="0.1" stop-color="#4536d4"/><stop offset="0.15" stop-color="#4537d5"/><stop offset="0.2" stop-color="#4639da"/><stop offset="0.25" stop-color="#4743e7"/><stop offset="0.3" stop-color="#475bf9"/><stop offset="0.35" stop-color="#2f82f9"/><stop offset="0.4" stop-color="#19acdc"/><stop offset="0.45" stop-color="#2cc4a7"/><stop offset="0.5" stop-color="#5ecc74"/><stop offset="0.55" stop-color="#68cd6b"/><stop offset="0.6" stop-color="#4ccb83"/><stop offset="0.65" stop-color="#2cc4a7"/><stop offset="0.7" stop-color="#02b7cb"/><stop offset="0.75" stop-color="#21a2e4"/><stop offset="0.8" stop-color="#2d8bf4"/><stop offset="0.85" stop-color="#3974fe"/><stop offset="0.9" stop-color="#4564fd"/><stop offset="0.95" stop-color="#475af9"/><stop offset="1" stop-color="#4854f5"/></linearGradient>
<linearGradient id="gh40" gradientUnits="userSpaceOnUse" x1="517.4" y1="647.6" x2="576.9" y2="565.7"><stop offset="0" stop-color="#4536d3"/><stop offset="0.05" stop-color="#4536d3"/><stop offset="0.1" stop-color="#4536d4"/><stop offset="0.15" stop-color="#4537d5"/><stop offset="0.2" stop-color="#4639da"/><stop offset="0.25" stop-color="#4744e8"/><stop offset="0.3" stop-color="#475bfa"/><stop offset="0.35" stop-color="#2e84f9"/><stop offset="0.4" stop-color="#17aeda"/><stop offset="0.45" stop-color="#30c5a2"/><stop offset="0.5" stop-color="#68cd6c"/><stop offset="0.55" stop-color="#73cd63"/><stop offset="0.6" stop-color="#56cc7b"/><stop offset="0.65" stop-color="#30c5a2"/><stop offset="0.7" stop-color="#01b9c7"/><stop offset="0.75" stop-color="#20a4e3"/><stop offset="0.8" stop-color="#2d8cf3"/><stop offset="0.85" stop-color="#3875fe"/><stop offset="0.9" stop-color="#4464fd"/><stop offset="0.95" stop-color="#475af9"/><stop offset="1" stop-color="#4854f5"/></linearGradient>
<linearGradient id="gh41" gradientUnits="userSpaceOnUse" x1="519.4" y1="649.0" x2="578.9" y2="567.1"><stop offset="0" stop-color="#4536d3"/><stop offset="0.05" stop-color="#4536d3"/><stop offset="0.1" stop-color="#4536d4"/><stop offset="0.15" stop-color="#4537d5"/><stop offset="0.2" stop-color="#4639da"/><stop offset="0.25" stop-color="#4744e8"/><stop offset="0.3" stop-color="#475cfa"/><stop offset="0.35" stop-color="#2e85f8"/><stop offset="0.4" stop-color="#14b0d8"/><stop offset="0.45" stop-color="#33c79d"/><stop offset="0.5" stop-color="#72cd63"/><stop offset="0.55" stop-color="#7fcc5a"/><stop offset="0.6" stop-color="#5fcd73"/><stop offset="0.65" stop-color="#33c79d"/><stop offset="0.7" stop-color="#02bac4"/><stop offset="0.75" stop-color="#1fa6e2"/><stop offset="0.8" stop-color="#2d8df2"/><stop offset="0.85" stop-color="#3776fe"/><stop offset="0.9" stop-color="#4465fd"/><stop offset="0.95" stop-color="#475af9"/><stop offset="1" stop-color="#4854f5"/></linearGradient>
<linearGradient id="gh42" gradientUnits="userSpaceOnUse" x1="521.3" y1="650.4" x2="580.9" y2="568.5"><stop offset="0" stop-color="#4536d3"/><stop offset="0.05" stop-color="#4536d3"/><stop offset="0.1" stop-color="#4536d4"/><stop offset="0.15" stop-color="#4537d5"/><stop offset="0.2" stop-color="#463ada"/><stop offset="0.25" stop-color="#4744e8"/><stop offset="0.3" stop-color="#475dfa"/><stop offset="0.35" stop-color="#2e86f7"/><stop offset="0.4" stop-color="#11b1d6"/><stop offset="0.45" stop-color="#37c897"/><stop offset="0.5" stop-color="#7ecc5b"/><stop offset="0.55" stop-color="#8bcb51"/><stop offset="0.6" stop-color="#69cd6b"/><stop offset="0.65" stop-color="#37c897"/><stop offset="0.7" stop-color="#06bbc1"/><stop offset="0.75" stop-color="#1ea8e1"/><stop offset="0.8" stop-color="#2c8ff1"/><stop offset="0.85" stop-color="#3677fe"/><stop offset="0.9" stop-color="#4466fd"/><stop offset="0.95" stop-color="#475bf9"/><stop offset="1" stop-color="#4854f5"/></linearGradient>
<linearGradient id="gh43" gradientUnits="userSpaceOnUse" x1="523.3" y1="651.9" x2="582.9" y2="570.0"><stop offset="0" stop-color="#4536d3"/><stop offset="0.05" stop-color="#4536d3"/><stop offset="0.1" stop-color="#4536d4"/><stop offset="0.15" stop-color="#4537d5"/><stop offset="0.2" stop-color="#463ada"/><stop offset="0.25" stop-color="#4745e9"/><stop offset="0.3" stop-color="#465dfb"/><stop offset="0.35" stop-color="#2d88f6"/><stop offset="0.4" stop-color="#0db3d3"/><stop offset="0.45" stop-color="#3cc991"/><stop offset="0.5" stop-color="#89cb52"/><stop offset="0.55" stop-color="#96ca48"/><stop offset="0.6" stop-color="#73cd62"/><stop offset="0.65" stop-color="#3cc991"/><stop offset="0.7" stop-color="#0abdbd"/><stop offset="0.75" stop-color="#1ca9df"/><stop offset="0.8" stop-color="#2c90f0"/><stop offset="0.85" stop-color="#3578fd"/><stop offset="0.9" stop-color="#4466fd"/><stop offset="0.95" stop-color="#475bf9"/><stop offset="1" stop-color="#4854f6"/></linearGradient>
<linearGradient id="gi0" href="#pg" gradientUnits="userSpaceOnUse" x1="766.0" y1="605.0" x2="728.4" y2="534.5"/>
<linearGradient id="gi1" href="#pg" gradientUnits="userSpaceOnUse" x1="767.7" y1="605.9" x2="730.1" y2="535.5"/>
<linearGradient id="gi2" href="#pg" gradientUnits="userSpaceOnUse" x1="769.4" y1="606.8" x2="731.8" y2="536.4"/>
<linearGradient id="gi3" href="#pg" gradientUnits="userSpaceOnUse" x1="771.1" y1="607.8" x2="733.5" y2="537.3"/>
<linearGradient id="gi4" href="#pg" gradientUnits="userSpaceOnUse" x1="772.8" y1="608.7" x2="735.2" y2="538.3"/>
<linearGradient id="gi5" href="#pg" gradientUnits="userSpaceOnUse" x1="774.5" y1="609.6" x2="736.9" y2="539.2"/>
<linearGradient id="gi6" href="#pg" gradientUnits="userSpaceOnUse" x1="776.2" y1="610.6" x2="738.6" y2="540.1"/>
<linearGradient id="gi7" href="#pg" gradientUnits="userSpaceOnUse" x1="777.9" y1="611.5" x2="740.3" y2="541.1"/>
<linearGradient id="gi8" href="#pg" gradientUnits="userSpaceOnUse" x1="779.6" y1="612.4" x2="742.0" y2="542.0"/>
<linearGradient id="gi9" href="#pg" gradientUnits="userSpaceOnUse" x1="781.2" y1="613.4" x2="743.6" y2="543.0"/>
<linearGradient id="gi10" href="#pg" gradientUnits="userSpaceOnUse" x1="782.9" y1="614.3" x2="745.3" y2="543.9"/>
<linearGradient id="gi11" href="#pg" gradientUnits="userSpaceOnUse" x1="784.6" y1="615.2" x2="747.0" y2="544.8"/>
<linearGradient id="gi12" href="#pg" gradientUnits="userSpaceOnUse" x1="786.3" y1="616.2" x2="748.7" y2="545.8"/>
<linearGradient id="gi13" href="#pg" gradientUnits="userSpaceOnUse" x1="788.0" y1="617.1" x2="750.4" y2="546.7"/>
<linearGradient id="gi14" href="#pg" gradientUnits="userSpaceOnUse" x1="789.7" y1="618.0" x2="752.1" y2="547.6"/>
<linearGradient id="gi15" href="#pg" gradientUnits="userSpaceOnUse" x1="791.4" y1="619.0" x2="753.8" y2="548.6"/>
<linearGradient id="gi16" href="#pg" gradientUnits="userSpaceOnUse" x1="793.1" y1="619.9" x2="755.5" y2="549.5"/>
<linearGradient id="gi17" href="#pg" gradientUnits="userSpaceOnUse" x1="794.8" y1="620.8" x2="757.2" y2="550.4"/>
<linearGradient id="gi18" href="#pg" gradientUnits="userSpaceOnUse" x1="796.5" y1="621.8" x2="758.8" y2="551.4"/>
<linearGradient id="gi19" href="#pg" gradientUnits="userSpaceOnUse" x1="798.1" y1="622.7" x2="760.5" y2="552.3"/>
<linearGradient id="gi20" href="#pg" gradientUnits="userSpaceOnUse" x1="799.8" y1="623.6" x2="762.2" y2="553.2"/>
<linearGradient id="gi21" href="#pg" gradientUnits="userSpaceOnUse" x1="801.5" y1="624.6" x2="763.9" y2="554.2"/>
<linearGradient id="gi22" href="#pg" gradientUnits="userSpaceOnUse" x1="803.2" y1="625.5" x2="765.6" y2="555.1"/>
<linearGradient id="gi23" href="#pg" gradientUnits="userSpaceOnUse" x1="804.9" y1="626.4" x2="767.3" y2="556.0"/>
<linearGradient id="gi24" href="#pg" gradientUnits="userSpaceOnUse" x1="806.6" y1="627.4" x2="769.0" y2="557.0"/>
<linearGradient id="gi25" href="#pg" gradientUnits="userSpaceOnUse" x1="808.3" y1="628.3" x2="770.7" y2="557.9"/>
<linearGradient id="gi26" href="#pg" gradientUnits="userSpaceOnUse" x1="810.0" y1="629.2" x2="772.4" y2="558.8"/>
<linearGradient id="gi27" href="#pg" gradientUnits="userSpaceOnUse" x1="811.7" y1="630.2" x2="774.1" y2="559.8"/>
<linearGradient id="gi28" href="#pg" gradientUnits="userSpaceOnUse" x1="813.3" y1="631.1" x2="775.7" y2="560.7"/>
<linearGradient id="gi29" href="#pg" gradientUnits="userSpaceOnUse" x1="815.0" y1="632.1" x2="777.4" y2="561.6"/>
<linearGradient id="gi30" href="#pg" gradientUnits="userSpaceOnUse" x1="816.7" y1="633.0" x2="779.1" y2="562.6"/>
<linearGradient id="gi31" href="#pg" gradientUnits="userSpaceOnUse" x1="818.4" y1="633.9" x2="780.8" y2="563.5"/>
<linearGradient id="gi32" href="#pg" gradientUnits="userSpaceOnUse" x1="820.1" y1="634.9" x2="782.5" y2="564.4"/>
<linearGradient id="gi33" href="#pg" gradientUnits="userSpaceOnUse" x1="821.8" y1="635.8" x2="784.2" y2="565.4"/>
<linearGradient id="gi34" href="#pg" gradientUnits="userSpaceOnUse" x1="823.5" y1="636.7" x2="785.9" y2="566.3"/>
<linearGradient id="gi35" href="#pg" gradientUnits="userSpaceOnUse" x1="825.2" y1="637.7" x2="787.6" y2="567.2"/>
<linearGradient id="gi36" href="#pg" gradientUnits="userSpaceOnUse" x1="826.9" y1="638.6" x2="789.3" y2="568.2"/>
<linearGradient id="gi37" href="#pg" gradientUnits="userSpaceOnUse" x1="828.5" y1="639.5" x2="790.9" y2="569.1"/>
<linearGradient id="gi38" href="#pg" gradientUnits="userSpaceOnUse" x1="830.2" y1="640.5" x2="792.6" y2="570.0"/>
<linearGradient id="gi39" href="#pg" gradientUnits="userSpaceOnUse" x1="831.9" y1="641.4" x2="794.3" y2="571.0"/>
<linearGradient id="gi40" href="#pg" gradientUnits="userSpaceOnUse" x1="833.6" y1="642.3" x2="796.0" y2="571.9"/>
<linearGradient id="gi41" href="#pg" gradientUnits="userSpaceOnUse" x1="835.3" y1="643.3" x2="797.7" y2="572.8"/>
<linearGradient id="gi42" href="#pg" gradientUnits="userSpaceOnUse" x1="837.0" y1="644.2" x2="799.4" y2="573.8"/>
<linearGradient id="gi43" href="#pg" gradientUnits="userSpaceOnUse" x1="838.7" y1="645.1" x2="801.1" y2="574.7"/>
<linearGradient id="gi44" href="#pg" gradientUnits="userSpaceOnUse" x1="840.4" y1="646.1" x2="802.8" y2="575.6"/>
<linearGradient id="gi45" href="#pg" gradientUnits="userSpaceOnUse" x1="842.1" y1="647.0" x2="804.5" y2="576.6"/>
<linearGradient id="gi46" href="#pg" gradientUnits="userSpaceOnUse" x1="843.8" y1="647.9" x2="806.1" y2="577.5"/>
<linearGradient id="gi47" href="#pg" gradientUnits="userSpaceOnUse" x1="845.4" y1="648.9" x2="807.8" y2="578.4"/>
<linearGradient id="gi48" href="#pg" gradientUnits="userSpaceOnUse" x1="847.1" y1="649.8" x2="809.5" y2="579.4"/>
<linearGradient id="gi49" href="#pg" gradientUnits="userSpaceOnUse" x1="848.8" y1="650.7" x2="811.2" y2="580.3"/>
<linearGradient id="gi50" href="#pg" gradientUnits="userSpaceOnUse" x1="850.5" y1="651.7" x2="812.9" y2="581.2"/>
<linearGradient id="gi51" href="#pg" gradientUnits="userSpaceOnUse" x1="852.2" y1="652.6" x2="814.6" y2="582.2"/>
<linearGradient id="gi52" href="#pg" gradientUnits="userSpaceOnUse" x1="853.9" y1="653.5" x2="816.3" y2="583.1"/>
<linearGradient id="gi53" href="#pg" gradientUnits="userSpaceOnUse" x1="855.6" y1="654.5" x2="818.0" y2="584.0"/>
<linearGradient id="gi54" href="#pg" gradientUnits="userSpaceOnUse" x1="857.3" y1="655.4" x2="819.7" y2="585.0"/>
<linearGradient id="gi55" href="#pg" gradientUnits="userSpaceOnUse" x1="859.0" y1="656.3" x2="821.4" y2="585.9"/></defs>
<rect width="1025" height="699" fill="#fff"/>
<g id="pa"><path d="M89.5 157.5L179.5 196.3M89.5 157.5L89.5 35.5M153.8 136.1L243.8 174.9M153.8 136.1L153.8 14.1M89.5 157.5L192.5 123.2M192.5 123.2L192.5 1.2M134.5 176.9L237.5 142.6M237.5 142.6L237.5 20.6M179.5 196.3L282.5 162.0M282.5 162.0L282.5 40.0M89.5 157.5L192.5 123.2M192.5 123.2L282.5 162.0M89.5 96.5L192.5 62.2M192.5 62.2L282.5 101.0M89.5 35.5L192.5 1.2M192.5 1.2L282.5 40.0M192.5 123.2L192.5 1.2M282.5 162.0L282.5 40.0M89.5 35.5L192.5 1.2M192.5 1.2L282.5 40.0M89.5 157.5L192.5 123.2M192.5 123.2L282.5 162.0" stroke="#e8e8e8" stroke-width="1" fill="none"/>
<path d="M89.5 35.5L108.8 29.1L112.0 28.2L115.2 28.1L118.5 28.3L121.7 29.2L124.9 30.5L128.1 32.3L131.3 34.8L134.6 39.0L137.8 43.8L141.0 48.0L144.2 50.3L147.4 52.3L150.7 53.4L153.9 53.1L157.1 51.4L160.3 49.0L170.0 40.1L173.2 36.9L176.4 33.4L179.6 30.1L182.8 27.6L189.3 23.8L192.5 22.2L194.1 22.9L190.9 24.5L184.5 28.3L181.2 30.8L178.0 34.1L174.8 37.6L171.6 40.8L161.9 49.7L158.7 52.1L155.5 53.8L152.3 54.1L149.0 52.9L145.8 51.0L142.6 48.7L139.4 44.5L136.2 39.7L133.0 35.5L129.7 33.0L126.5 31.2L123.3 29.9L120.1 29.0L116.9 28.8L113.6 28.9L110.4 29.8L91.1 36.2" fill="url(#ga0)"/>
<path d="M90.1 35.8L109.5 29.3L112.7 28.5L115.9 28.3L119.1 28.6L122.3 29.5L125.5 30.8L128.8 32.6L132.0 35.1L135.2 39.3L138.4 44.1L141.6 48.2L144.9 50.6L148.1 52.5L151.3 53.7L154.5 53.4L157.7 51.7L161.0 49.3L170.6 40.4L173.8 37.2L177.0 33.7L180.3 30.4L183.5 27.9L189.9 24.1L193.1 22.5L195.7 23.7L192.5 25.3L186.1 29.1L182.8 31.6L179.6 34.9L176.4 38.4L173.2 41.7L163.5 50.5L160.3 52.9L157.1 54.6L153.9 54.9L150.7 53.7L147.4 51.8L144.2 49.4L141.0 45.3L137.8 40.4L134.6 36.2L131.3 33.7L128.1 32.0L124.9 30.6L121.7 29.7L118.5 29.4L115.2 29.6L112.0 30.5L92.7 36.9" fill="url(#ga1)"/>
<path d="M91.8 36.5L111.1 30.0L114.3 29.2L117.5 29.0L120.7 29.3L123.9 30.2L127.2 31.5L130.4 33.3L133.6 35.8L136.8 40.0L140.0 44.8L143.2 48.9L146.5 51.3L149.7 53.2L152.9 54.4L156.1 54.1L159.3 52.4L162.6 50.0L172.2 41.1L175.4 37.9L178.7 34.4L181.9 31.1L185.1 28.6L191.5 24.8L194.8 23.1L197.3 27.6L194.1 29.3L187.7 33.1L184.4 35.7L181.2 38.9L178.0 42.4L174.8 45.5L168.4 51.3L165.1 54.0L161.9 56.2L158.7 57.6L155.5 57.8L152.3 56.4L149.0 54.3L145.8 51.7L142.6 47.4L139.4 42.3L136.2 37.9L132.9 35.2L129.7 33.2L126.5 31.6L123.3 30.5L120.1 30.2L116.9 30.3L113.6 31.1L94.3 37.6" fill="url(#ga2)"/>
<path d="M93.4 37.2L112.7 30.7L115.9 29.9L119.1 29.7L122.3 30.0L125.5 31.0L128.8 32.4L132.0 34.3L135.2 36.9L138.4 41.2L141.6 46.1L144.9 50.3L148.1 52.8L151.3 54.8L154.5 56.0L157.7 55.8L161.0 54.2L164.2 51.9L167.4 49.1L173.8 43.2L177.0 40.0L180.3 36.5L183.5 33.2L186.7 30.7L193.1 26.9L196.4 25.2L198.9 31.7L195.7 33.4L189.3 37.3L186.1 39.9L182.8 43.1L179.6 46.5L176.4 49.6L170.0 55.1L166.7 57.6L163.5 59.6L160.3 60.8L157.1 60.7L153.9 59.1L150.6 56.8L147.4 54.0L144.2 49.5L141.0 44.3L137.8 39.7L134.6 36.8L131.3 34.4L128.1 32.5L124.9 31.3L121.7 30.9L118.5 31.0L115.2 31.8L95.9 38.3" fill="url(#ga3)"/>
<path d="M95.0 37.9L114.3 31.4L117.5 30.6L120.7 30.4L123.9 30.8L127.2 32.0L130.4 33.7L133.6 35.8L136.8 38.6L140.0 43.1L143.2 48.2L146.5 52.6L149.7 55.3L152.9 57.5L156.1 58.9L159.3 58.9L162.6 57.5L165.8 55.4L169.0 52.8L175.4 47.2L178.7 44.0L181.9 40.5L185.1 37.3L188.3 34.8L194.7 30.9L198.0 29.2L200.5 36.0L197.3 37.8L190.9 41.8L187.7 44.3L184.4 47.4L181.2 50.7L178.0 53.8L171.6 59.0L168.3 61.3L165.1 63.0L161.9 64.1L158.7 63.7L155.5 61.9L152.3 59.4L149.0 56.4L145.8 51.7L142.6 46.3L139.4 41.4L136.2 38.3L132.9 35.7L129.7 33.5L126.5 32.1L123.3 31.6L120.1 31.7L116.8 32.5L97.5 39.0" fill="url(#ga4)"/>
<path d="M96.6 38.5L115.9 32.1L119.1 31.3L122.3 31.1L125.5 31.6L128.8 32.9L132.0 34.9L135.2 37.4L138.4 40.4L141.6 45.1L144.9 50.4L148.1 55.0L151.3 57.8L154.5 60.2L157.7 61.9L160.9 62.1L164.2 60.9L167.4 59.0L170.6 56.6L177.0 51.3L180.3 48.2L183.5 44.8L186.7 41.6L189.9 39.1L196.4 35.1L199.6 33.4L202.1 40.5L198.9 42.3L192.5 46.3L189.3 48.8L182.8 55.2L179.6 58.1L176.4 60.7L173.2 63.0L170.0 65.1L166.7 66.6L163.5 67.4L160.3 66.8L157.1 64.8L153.9 62.0L150.6 58.8L147.4 53.8L144.2 48.2L141.0 43.2L137.8 39.8L134.5 37.0L131.3 34.5L128.1 32.8L124.9 32.3L121.7 32.4L118.5 33.2L99.1 39.7" fill="url(#ga5)"/>
<path d="M98.2 39.2L117.5 32.8L120.7 31.9L123.9 31.8L127.1 32.4L130.4 33.9L133.6 36.2L136.8 38.9L140.0 42.2L143.2 47.0L146.5 52.5L149.7 57.3L152.9 60.4L156.1 63.1L159.3 64.9L162.6 65.4L165.8 64.4L169.0 62.8L172.2 60.6L178.6 55.5L181.9 52.5L188.3 46.1L191.5 43.6L198.0 39.6L201.2 37.8L203.8 45.3L200.5 47.1L194.1 51.1L190.9 53.6L184.4 59.7L181.2 62.6L178.0 65.0L174.8 67.2L171.6 68.9L168.3 70.2L165.1 70.7L161.9 69.9L158.7 67.6L155.5 64.7L152.2 61.2L149.0 56.1L145.8 50.2L142.6 45.0L139.4 41.4L136.2 38.2L132.9 35.5L129.7 33.6L126.5 33.0L123.3 33.0L120.1 33.9L100.8 40.3" fill="url(#ga6)"/>
<path d="M99.8 39.9L119.1 33.5L122.3 32.6L125.5 32.5L128.8 33.1L132.0 34.9L135.2 37.5L138.4 40.5L141.6 43.9L144.8 49.0L148.1 54.7L151.3 59.7L154.5 63.1L157.7 65.9L160.9 68.0L164.2 68.7L167.4 68.0L170.6 66.6L173.8 64.7L177.0 62.4L180.3 59.9L183.5 57.0L189.9 50.7L193.1 48.2L199.6 44.2L202.8 42.4L205.4 50.1L202.1 52.0L195.7 56.0L192.5 58.4L186.0 64.4L182.8 67.2L179.6 69.4L176.4 71.4L173.2 72.9L170.0 73.9L166.7 74.2L163.5 73.1L160.3 70.6L157.1 67.3L153.9 63.6L150.6 58.3L147.4 52.2L144.2 46.8L141.0 43.0L137.8 39.5L134.5 36.5L131.3 34.4L128.1 33.7L124.9 33.7L121.7 34.6L102.4 41.0" fill="url(#ga7)"/>
<path d="M101.4 40.6L120.7 34.2L123.9 33.3L127.1 33.3L130.4 33.9L133.6 35.9L136.8 38.7L140.0 42.0L143.2 45.7L146.5 51.0L149.7 56.9L152.9 62.2L156.1 65.7L159.3 68.8L162.5 71.2L165.8 72.1L169.0 71.7L172.2 70.5L175.4 68.9L178.6 66.8L181.9 64.4L185.1 61.6L191.5 55.5L194.7 53.0L201.2 49.0L204.4 47.2L207.0 55.2L200.5 59.0L197.3 61.0L194.1 63.4L187.7 69.2L184.4 71.8L181.2 74.0L178.0 75.7L174.8 76.9L171.6 77.6L168.3 77.6L165.1 76.3L161.9 73.5L158.7 70.0L155.5 66.1L152.2 60.5L149.0 54.3L145.8 48.6L142.6 44.5L139.4 40.8L136.2 37.5L132.9 35.2L129.7 34.4L126.5 34.4L123.3 35.3L104.0 41.7" fill="url(#ga8)"/>
<path d="M103.0 41.3L122.3 34.9L125.5 34.0L128.8 34.0L132.0 34.7L135.2 36.9L138.4 40.0L141.6 43.6L144.8 47.5L148.1 53.1L151.3 59.2L154.5 64.6L157.7 68.4L160.9 71.7L164.2 74.3L167.4 75.6L170.6 75.4L173.8 74.5L177.0 73.1L180.2 71.2L183.5 69.0L186.7 66.3L193.1 60.4L196.3 58.0L202.8 54.0L206.0 52.1L208.6 60.3L202.1 64.1L198.9 66.2L195.7 68.5L189.3 74.0L186.0 76.5L182.8 78.5L179.6 80.0L176.4 81.0L173.2 81.4L169.9 81.1L166.7 79.5L163.5 76.5L160.3 72.7L157.1 68.5L153.9 62.7L150.6 56.3L147.4 50.4L144.2 46.1L141.0 42.0L137.8 38.4L134.5 35.9L131.3 35.1L128.1 35.1L124.9 36.0L105.6 42.4" fill="url(#ga9)"/>
<path d="M104.6 42.0L123.9 35.6L127.1 34.7L130.4 34.7L133.6 35.5L136.8 37.9L140.0 41.3L143.2 45.1L146.5 49.3L149.7 55.1L152.9 61.4L156.1 67.1L159.3 71.1L162.5 74.7L165.8 77.5L169.0 79.0L172.2 79.1L175.4 78.5L178.6 77.4L181.9 75.8L185.1 73.7L188.3 71.1L194.7 65.4L198.0 63.1L204.4 59.1L207.6 57.2L210.2 65.6L200.5 71.4L197.3 73.7L190.9 78.9L187.6 81.3L184.4 83.2L181.2 84.4L178.0 85.1L174.8 85.2L171.6 84.6L168.3 82.7L165.1 79.4L161.9 75.4L158.7 71.0L155.5 65.0L152.2 58.3L149.0 52.2L145.8 47.6L142.6 43.3L139.4 39.4L136.1 36.7L132.9 35.8L129.7 35.8L126.5 36.7L107.2 43.1" fill="url(#ga10)"/>
<path d="M106.2 42.7L125.5 36.3L128.7 35.4L132.0 35.4L135.2 36.2L138.4 38.8L141.6 42.5L144.8 46.7L148.1 51.1L151.3 57.1L154.5 63.6L157.7 69.5L160.9 73.8L164.2 77.6L167.4 80.8L170.6 82.5L173.8 82.9L177.0 82.6L180.2 81.8L183.5 80.4L186.7 78.4L189.9 76.0L196.3 70.6L199.6 68.2L206.0 64.3L209.2 62.4L211.8 71.0L202.1 76.7L198.9 78.9L192.5 83.9L189.3 86.1L186.0 87.8L182.8 88.8L179.6 89.2L176.4 89.0L173.2 88.1L169.9 85.9L166.7 82.4L163.5 78.1L160.3 73.4L157.1 67.2L153.8 60.3L150.6 53.9L147.4 49.1L144.2 44.5L141.0 40.4L137.8 37.5L134.5 36.5L131.3 36.5L128.1 37.4L108.8 43.8" fill="url(#ga11)"/>
<path d="M107.8 43.4L127.1 37.0L130.4 36.1L133.6 36.1L136.8 37.0L140.0 39.8L143.2 43.8L146.4 48.2L149.7 52.9L152.9 59.1L156.1 65.8L159.3 72.0L162.5 76.5L165.8 80.6L169.0 84.0L172.2 86.0L175.4 86.7L178.6 86.7L181.9 86.2L185.1 85.0L188.3 83.2L191.5 80.9L197.9 75.8L201.2 73.5L207.6 69.6L210.8 67.7L213.4 76.4L203.7 82.0L200.5 84.1L194.1 88.9L190.9 90.9L187.6 92.4L184.4 93.2L181.2 93.2L178.0 92.8L174.8 91.6L171.5 89.1L168.3 85.3L165.1 80.8L161.9 75.8L158.7 69.3L155.5 62.2L152.2 55.7L145.8 45.8L142.6 41.4L139.4 38.3L136.1 37.2L132.9 37.2L129.7 38.1L110.4 44.5" fill="url(#ga12)"/>
<path d="M109.4 44.1L128.7 37.7L132.0 36.8L135.2 36.8L138.4 37.8L141.6 40.8L144.8 45.0L151.3 54.7L154.5 61.1L157.7 68.0L160.9 74.4L164.1 79.2L167.4 83.5L170.6 87.2L173.8 89.5L177.0 90.5L180.2 90.8L183.5 90.5L186.7 89.7L189.9 88.1L193.1 85.9L199.6 81.0L202.8 78.8L212.4 73.1L215.0 81.8L205.3 87.3L202.1 89.4L195.7 93.8L192.5 95.7L189.2 97.0L186.0 97.5L182.8 97.3L179.6 96.5L176.4 95.1L173.2 92.2L169.9 88.2L166.7 83.4L163.5 78.2L160.3 71.5L157.1 64.2L153.8 57.4L147.4 47.0L144.2 42.3L141.0 39.0L137.8 37.9L134.5 37.9L131.3 38.8L112.0 45.2" fill="url(#ga13)"/>
<path d="M111.0 44.8L130.3 38.4L133.6 37.4L136.8 37.5L140.0 38.6L143.2 41.7L146.4 46.2L152.9 56.4L156.1 63.0L159.3 70.2L162.5 76.8L165.8 81.8L169.0 86.4L172.2 90.3L175.4 93.0L178.6 94.3L181.8 94.9L185.1 94.9L188.3 94.3L191.5 92.9L194.7 90.8L201.2 86.2L204.4 84.1L214.0 78.6L216.6 87.2L207.0 92.6L197.3 98.7L194.1 100.5L190.9 101.6L187.6 101.8L184.4 101.3L181.2 100.2L178.0 98.5L174.8 95.3L171.5 91.0L168.3 86.0L165.1 80.6L161.9 73.6L158.7 66.1L155.5 59.1L149.0 48.2L145.8 43.3L142.6 39.8L139.4 38.6L136.1 38.5L132.9 39.5L113.6 45.9" fill="url(#ga14)"/>
<path d="M112.6 45.5L132.0 39.0L135.2 38.1L138.4 38.2L141.6 39.3L144.8 42.7L148.0 47.5L154.5 58.1L157.7 64.9L160.9 72.4L164.1 79.2L167.4 84.5L170.6 89.3L173.8 93.5L177.0 96.4L180.2 98.0L183.5 98.9L186.7 99.2L189.9 98.9L193.1 97.6L196.3 95.8L202.8 91.5L206.0 89.4L215.6 84.0L218.2 92.6L208.6 97.8L198.9 103.5L195.7 105.1L192.5 106.1L189.2 106.0L186.0 105.2L182.8 103.8L179.6 101.8L176.4 98.4L173.2 93.8L169.9 88.5L166.7 82.9L163.5 75.7L160.3 68.0L157.1 60.8L150.6 49.4L147.4 44.2L144.2 40.6L141.0 39.3L137.7 39.2L134.5 40.2L115.2 46.6" fill="url(#ga15)"/>
<path d="M114.2 46.2L133.6 39.7L136.8 38.8L140.0 38.9L143.2 40.1L146.4 43.6L149.7 48.7L156.1 59.8L159.3 66.8L162.5 74.5L165.8 81.5L169.0 87.0L172.2 92.1L175.4 96.6L178.6 99.8L181.8 101.6L185.1 102.8L188.3 103.5L191.5 103.4L194.7 102.3L197.9 100.6L207.6 94.7L217.2 89.4L219.8 97.9L206.9 104.7L200.5 108.2L197.3 109.7L194.1 110.4L190.9 110.1L187.6 109.0L184.4 107.3L181.2 105.0L178.0 101.3L174.8 96.5L171.5 91.0L168.3 85.1L165.1 77.7L161.9 69.8L158.7 62.4L152.2 50.5L149.0 45.1L145.8 41.3L142.6 40.0L139.4 39.9L136.1 40.8L116.8 47.3" fill="url(#ga16)"/>
<path d="M115.9 46.9L135.2 40.4L138.4 39.5L141.6 39.6L144.8 40.9L148.0 44.6L151.3 49.8L157.7 61.4L160.9 68.7L164.1 76.5L167.4 83.8L170.6 89.5L173.8 94.9L177.0 99.6L180.2 103.1L183.5 105.2L186.7 106.7L189.9 107.7L193.1 107.8L196.3 106.9L199.5 105.4L209.2 99.9L218.9 94.7L221.4 103.0L205.3 111.2L202.1 112.8L198.9 114.1L195.7 114.7L192.5 114.1L189.2 112.7L186.0 110.7L182.8 108.1L179.6 104.2L176.4 99.1L173.1 93.4L169.9 87.2L166.7 79.7L163.5 71.5L160.3 64.0L153.8 51.7L150.6 46.0L147.4 42.1L144.2 40.7L141.0 40.6L137.7 41.5L118.4 48.0" fill="url(#ga17)"/>
<path d="M117.5 47.6L136.8 41.1L140.0 40.2L143.2 40.3L146.4 41.6L149.7 45.5L152.9 51.0L159.3 63.0L162.5 70.5L165.7 78.5L169.0 86.0L172.2 92.0L175.4 97.5L178.6 102.5L181.8 106.3L185.1 108.7L188.3 110.5L191.5 111.7L194.7 112.2L197.9 111.4L201.2 110.1L220.5 99.9L223.0 108.0L206.9 115.8L203.7 117.2L200.5 118.3L197.3 118.7L194.1 117.9L190.8 116.2L187.6 114.0L184.4 111.1L181.2 106.9L178.0 101.6L174.8 95.7L171.5 89.3L168.3 81.6L165.1 73.3L161.9 65.5L155.4 52.8L152.2 47.0L149.0 42.8L145.8 41.4L142.6 41.3L139.3 42.2L120.0 48.7" fill="url(#ga18)"/>
<path d="M119.1 48.2L138.4 41.8L141.6 40.9L144.8 41.0L148.0 42.4L151.3 46.4L154.5 52.1L160.9 64.6L164.1 72.2L167.4 80.4L170.6 88.1L173.8 94.3L177.0 100.1L180.2 105.3L183.4 109.4L186.7 112.0L189.9 114.1L193.1 115.7L196.3 116.3L199.5 115.8L202.8 114.6L206.0 113.1L222.1 105.0L224.6 112.8L211.8 118.8L208.5 120.2L205.3 121.4L202.1 122.4L198.9 122.6L195.7 121.6L192.5 119.6L189.2 117.1L186.0 114.0L182.8 109.6L179.6 104.0L176.4 97.9L173.1 91.3L169.9 83.4L166.7 74.9L163.5 67.0L157.0 53.9L153.8 47.8L150.6 43.6L147.4 42.1L144.2 42.0L141.0 42.9L121.6 49.4" fill="url(#ga19)"/>
<path d="M120.7 48.9L140.0 42.5L143.2 41.6L146.4 41.7L149.6 43.1L152.9 47.3L156.1 53.2L162.5 66.1L165.7 73.9L169.0 82.3L172.2 90.1L175.4 96.6L178.6 102.6L181.8 108.0L185.1 112.3L188.3 115.2L191.5 117.6L194.7 119.4L197.9 120.3L201.1 120.0L204.4 118.9L207.6 117.6L223.7 109.9L226.2 117.3L213.4 123.0L210.2 124.3L206.9 125.3L203.7 126.2L200.5 126.3L197.3 125.0L194.1 122.8L190.8 120.0L187.6 116.7L184.4 112.1L181.2 106.3L178.0 100.0L174.8 93.2L171.5 85.1L168.3 76.5L165.1 68.4L158.7 54.9L155.4 48.7L152.2 44.3L149.0 42.8L145.8 42.7L142.6 43.6L123.2 50.1" fill="url(#ga20)"/>
<path d="M122.3 49.6L141.6 43.2L144.8 42.3L148.0 42.4L151.3 43.9L154.5 48.2L157.7 54.3L164.1 67.6L167.3 75.5L170.6 84.1L173.8 92.1L177.0 98.7L180.2 104.9L183.4 110.6L186.7 115.1L189.9 118.3L193.1 120.9L196.3 123.0L199.5 124.1L202.8 123.9L206.0 123.0L209.2 121.8L222.1 116.1L225.3 114.6L227.9 121.5L218.2 125.7L215.0 127.0L211.8 128.1L208.5 129.0L205.3 129.7L202.1 129.7L198.9 128.2L195.7 125.8L192.5 122.8L189.2 119.3L186.0 114.4L182.8 108.4L179.6 101.9L176.4 95.0L173.1 86.7L169.9 78.0L166.7 69.8L160.3 55.9L157.0 49.6L153.8 45.1L150.6 43.5L147.4 43.4L144.2 44.3L124.9 50.7" fill="url(#ga21)"/>
<path d="M123.9 50.3L143.2 43.9L146.4 43.0L149.6 43.1L152.9 44.6L156.1 49.1L159.3 55.3L165.7 69.0L169.0 77.1L172.2 85.8L175.4 93.9L178.6 100.8L181.8 107.2L185.0 113.0L188.3 117.8L191.5 121.2L194.7 124.0L197.9 126.3L201.1 127.7L204.4 127.6L207.6 126.8L210.8 125.8L214.0 124.6L223.7 120.5L226.9 119.0L229.5 125.4L219.8 129.4L216.6 130.7L213.4 131.7L210.2 132.5L206.9 133.0L203.7 132.9L200.5 131.2L197.3 128.6L194.1 125.4L190.8 121.6L187.6 116.6L184.4 110.4L181.2 103.8L178.0 96.7L174.7 88.3L171.5 79.4L168.3 71.0L161.9 56.9L158.7 50.4L155.4 45.8L152.2 44.2L149.0 44.1L145.8 45.0L126.5 51.4" fill="url(#ga22)"/>
<path d="M125.5 51.0L144.8 44.6L148.0 43.7L151.2 43.8L154.5 45.3L157.7 49.9L160.9 56.3L167.3 70.3L170.6 78.5L173.8 87.4L177.0 95.7L180.2 102.7L183.4 109.3L186.7 115.3L189.9 120.2L193.1 123.8L196.3 126.9L199.5 129.5L202.8 131.0L206.0 131.1L209.2 130.4L212.4 129.6L215.6 128.5L225.3 124.5L228.5 123.1L231.1 128.9L221.4 132.8L218.2 134.0L215.0 134.9L211.8 135.6L208.5 136.0L205.3 135.7L202.1 133.9L198.9 131.1L195.7 127.7L192.4 123.8L189.2 118.6L186.0 112.3L182.8 105.5L179.6 98.3L176.4 89.7L173.1 80.7L169.9 72.2L163.5 57.9L160.3 51.2L157.0 46.5L153.8 44.9L150.6 44.8L147.4 45.7L128.1 52.1" fill="url(#ga23)"/>
<path d="M127.1 51.7L146.4 45.3L149.6 44.3L152.9 44.5L156.1 46.1L159.3 50.7L162.5 57.3L169.0 71.5L172.2 79.9L175.4 88.9L178.6 97.3L181.8 104.5L185.0 111.2L188.3 117.4L191.5 122.5L194.7 126.3L197.9 129.6L201.1 132.3L204.4 134.0L207.6 134.3L210.8 133.7L214.0 133.0L217.2 132.0L226.9 128.3L230.1 126.9L232.7 132.1L223.0 135.9L219.8 136.9L216.6 137.7L213.4 138.3L210.1 138.7L206.9 138.3L203.7 136.4L200.5 133.3L197.3 129.8L194.1 125.8L190.8 120.4L187.6 114.0L184.4 107.0L181.2 99.7L178.0 91.0L174.7 81.9L171.5 73.4L165.1 58.8L161.9 52.0L158.6 47.2L155.4 45.6L152.2 45.4L149.0 46.4L129.7 52.8" fill="url(#ga24)"/>
<path d="M128.7 52.4L148.0 46.0L151.2 45.0L154.5 45.2L157.7 46.8L160.9 51.6L164.1 58.3L170.6 72.7L173.8 81.2L177.0 90.3L180.2 98.8L183.4 106.1L186.7 113.0L189.9 119.3L193.1 124.6L196.3 128.6L199.5 132.0L202.7 134.9L206.0 136.8L209.2 137.1L212.4 136.7L215.6 136.1L218.8 135.2L225.3 132.9L231.7 130.3L234.3 134.8L224.6 138.5L221.4 139.5L218.2 140.2L215.0 140.7L211.8 141.0L208.5 140.6L205.3 138.5L202.1 135.3L198.9 131.7L195.7 127.5L192.4 122.0L189.2 115.5L186.0 108.4L182.8 101.0L179.6 92.3L176.3 83.1L173.1 74.4L166.7 59.7L163.5 52.8L160.3 48.0L157.0 46.3L153.8 46.1L150.6 47.1L131.3 53.5" fill="url(#ga25)"/>
<path d="M130.3 53.1L149.6 46.7L152.9 45.7L156.1 45.9L159.3 47.5L162.5 52.4L165.7 59.1L172.2 73.8L175.4 82.4L178.6 91.5L181.8 100.2L185.0 107.6L188.3 114.6L191.5 121.0L194.7 126.5L197.9 130.6L201.1 134.2L204.4 137.2L207.6 139.2L210.8 139.7L214.0 139.3L217.2 138.8L220.4 138.0L223.7 137.0L230.1 134.6L233.3 133.3L235.9 137.2L229.5 139.6L226.2 140.7L223.0 141.7L219.8 142.4L216.6 142.8L213.4 143.0L210.1 142.5L206.9 140.3L203.7 137.1L200.5 133.3L197.3 129.0L194.0 123.4L190.8 116.8L187.6 109.7L184.4 102.2L181.2 93.4L178.0 84.1L174.7 75.4L168.3 60.5L165.1 53.6L161.9 48.7L158.6 47.0L155.4 46.8L152.2 47.8L132.9 54.2" fill="url(#ga26)"/>
<path d="M131.9 53.8L151.2 47.4L154.5 46.4L157.7 46.6L160.9 48.2L164.1 53.1L167.3 60.0L173.8 74.8L177.0 83.5L180.2 92.7L183.4 101.5L186.6 109.0L189.9 116.0L193.1 122.6L196.3 128.1L199.5 132.3L202.7 136.1L206.0 139.3L209.2 141.4L212.4 141.9L215.6 141.6L218.8 141.1L222.1 140.4L225.3 139.4L231.7 137.1L234.9 135.8L237.5 139.0L231.1 141.4L227.8 142.5L224.6 143.4L221.4 144.1L218.2 144.5L215.0 144.7L211.8 144.0L208.5 141.8L205.3 138.5L202.1 134.6L198.9 130.3L195.7 124.6L192.4 118.0L189.2 110.8L186.0 103.2L182.8 94.4L179.6 85.0L176.3 76.3L169.9 61.3L166.7 54.3L163.5 49.4L160.2 47.7L157.0 47.5L153.8 48.5L134.5 54.9" fill="url(#ga27)"/>
<path d="M133.5 54.5L152.8 48.1L156.1 47.1L159.3 47.3L162.5 49.0L165.7 53.9L168.9 60.8L175.4 75.8L178.6 84.5L181.8 93.8L185.0 102.6L188.3 110.2L191.5 117.3L194.7 123.9L197.9 129.6L201.1 133.9L204.3 137.7L207.6 140.9L210.8 143.1L214.0 143.7L217.2 143.5L220.4 143.1L223.7 142.4L226.9 141.5L233.3 139.2L236.5 138.0L239.1 140.4L232.7 142.8L229.5 143.9L226.2 144.8L223.0 145.4L219.8 145.7L216.6 145.9L213.4 145.3L210.1 143.0L206.9 139.6L203.7 135.7L200.5 131.3L197.3 125.6L194.0 118.9L190.8 111.7L187.6 104.1L184.4 95.2L181.2 85.9L178.0 77.1L171.5 62.1L168.3 55.1L165.1 50.1L161.9 48.4L158.6 48.2L136.1 55.6" fill="url(#ga28)"/>
<path d="M135.1 55.2L154.5 48.7L157.7 47.8L160.9 48.0L164.1 49.7L167.3 54.6L170.5 61.6L177.0 76.7L180.2 85.4L183.4 94.7L186.6 103.6L189.9 111.2L193.1 118.4L196.3 125.1L199.5 130.8L202.7 135.1L206.0 139.0L209.2 142.3L212.4 144.6L215.6 145.2L218.8 145.0L222.0 144.6L225.3 144.0L228.5 143.1L234.9 140.9L238.1 139.6L240.7 141.3L234.3 143.7L231.1 144.8L227.8 145.7L224.6 146.3L221.4 146.6L218.2 146.8L215.0 146.1L211.7 143.8L208.5 140.5L205.3 136.5L202.1 132.2L198.9 126.4L195.7 119.7L192.4 112.5L189.2 104.9L186.0 96.0L182.8 86.6L179.6 77.9L173.1 62.8L169.9 55.8L166.7 50.8L163.5 49.1L160.2 48.9L137.7 56.3" fill="url(#ga29)"/>
<path d="M136.8 55.9L156.1 49.4L159.3 48.5L162.5 48.6L165.7 50.4L168.9 55.3L172.2 62.3L178.6 77.4L181.8 86.2L185.0 95.5L188.2 104.4L191.5 112.1L194.7 119.3L197.9 126.0L201.1 131.7L204.3 136.1L207.6 140.0L210.8 143.4L214.0 145.6L217.2 146.3L220.4 146.1L223.7 145.8L226.9 145.2L230.1 144.3L236.5 142.1L239.8 140.8L242.3 141.5L235.9 143.9L232.7 145.0L229.4 145.9L226.2 146.6L223.0 146.9L219.8 147.1L216.6 146.5L213.4 144.2L210.1 140.9L206.9 137.0L203.7 132.6L200.5 126.9L197.3 120.3L194.0 113.1L190.8 105.5L187.6 96.6L184.4 87.2L181.2 78.5L174.7 63.4L171.5 56.4L168.3 51.5L165.1 49.8L161.9 49.6L139.3 57.0" fill="url(#ga30)"/>
<path d="M138.4 56.6L157.7 50.1L160.9 49.2L164.1 49.3L167.3 51.0L170.5 56.0L173.8 63.0L180.2 78.1L183.4 86.9L186.6 96.2L189.9 105.1L193.1 112.7L196.3 120.0L199.5 126.7L202.7 132.4L206.0 136.8L209.2 140.7L212.4 144.1L215.6 146.3L218.8 147.0L222.0 146.8L225.3 146.5L228.5 145.9L231.7 145.0L238.1 142.7L241.4 141.5L243.9 140.9L237.5 143.4L234.3 144.5L231.1 145.5L227.8 146.1L224.6 146.5L221.4 146.8L218.2 146.2L215.0 144.0L211.7 140.8L208.5 137.0L205.3 132.8L202.1 127.2L198.9 120.5L195.6 113.4L192.4 105.8L189.2 97.0L186.0 87.7L182.8 79.0L176.3 64.0L173.1 57.1L169.9 52.1L166.7 50.4L163.5 50.3L160.2 51.2L140.9 57.7" fill="url(#ga31)"/>
<path d="M140.0 57.3L159.3 50.8L162.5 49.9L165.7 50.0L168.9 51.7L172.2 56.7L175.4 63.7L181.8 78.7L185.0 87.5L188.2 96.8L191.5 105.6L194.7 113.2L197.9 120.4L201.1 127.1L204.3 132.7L207.6 137.1L210.8 140.9L214.0 144.2L217.2 146.4L220.4 147.0L223.7 146.8L226.9 146.5L230.1 145.8L233.3 144.9L239.7 142.7L243.0 141.4L245.5 139.5L239.1 142.1L235.9 143.2L232.7 144.2L229.4 144.9L226.2 145.4L223.0 145.8L219.8 145.3L216.6 143.3L213.3 140.2L210.1 136.6L206.9 132.5L203.7 127.1L200.5 120.5L197.3 113.5L194.0 106.0L190.8 97.3L187.6 88.1L184.4 79.4L177.9 64.6L174.7 57.7L171.5 52.8L168.3 51.1L165.1 51.0L161.8 51.9L142.5 58.4" fill="url(#ga32)"/>
<path d="M141.6 57.9L160.9 51.5L164.1 50.6L167.3 50.7L170.5 52.4L173.8 57.3L177.0 64.3L183.4 79.2L186.6 87.9L189.9 97.1L193.1 105.9L196.3 113.5L199.5 120.6L202.7 127.1L205.9 132.7L209.2 136.9L212.4 140.6L215.6 143.8L218.8 145.9L222.0 146.4L225.3 146.2L228.5 145.7L231.7 145.1L234.9 144.1L241.4 141.8L244.6 140.5L247.1 137.3L237.5 141.2L234.3 142.3L231.0 143.1L227.8 143.7L224.6 144.2L221.4 143.9L218.2 142.0L215.0 139.2L211.7 135.8L208.5 131.9L205.3 126.7L202.1 120.3L198.9 113.4L195.6 106.0L192.4 97.4L189.2 88.3L186.0 79.7L179.5 65.1L176.3 58.3L173.1 53.5L169.9 51.8L166.7 51.7L163.5 52.6L144.1 59.1" fill="url(#ga33)"/>
<path d="M143.2 58.6L162.5 52.2L165.7 51.3L168.9 51.4L172.1 53.1L175.4 57.9L178.6 64.8L185.0 79.5L188.2 88.1L191.5 97.3L194.7 106.0L197.9 113.5L201.1 120.5L204.3 126.9L207.6 132.3L210.8 136.3L214.0 139.9L217.2 142.9L220.4 144.8L223.6 145.2L226.9 144.8L230.1 144.3L233.3 143.5L236.5 142.5L243.0 140.1L246.2 138.7L248.8 134.5L239.1 138.6L235.9 139.7L232.7 140.6L226.2 142.0L223.0 141.9L219.8 140.3L216.6 137.7L213.3 134.6L210.1 131.0L206.9 126.0L203.7 119.8L200.5 113.0L197.2 105.8L194.0 97.3L190.8 88.3L187.6 79.9L181.2 65.5L177.9 58.9L174.7 54.1L171.5 52.5L168.3 52.4L165.1 53.3L145.8 59.8" fill="url(#ga34)"/>
<path d="M144.8 59.3L164.1 52.9L167.3 52.0L170.5 52.1L173.8 53.7L177.0 58.5L180.2 65.3L186.6 79.8L189.8 88.3L193.1 97.4L196.3 106.0L199.5 113.3L202.7 120.1L205.9 126.4L209.2 131.6L212.4 135.4L215.6 138.6L218.8 141.4L222.0 143.2L225.3 143.4L231.7 142.2L234.9 141.4L238.1 140.2L244.6 137.7L247.8 136.3L250.4 131.0L240.7 135.3L237.5 136.6L234.3 137.6L227.8 139.3L224.6 139.4L221.4 138.1L218.2 135.8L215.0 133.1L211.7 129.8L208.5 125.1L205.3 119.1L202.1 112.5L198.9 105.5L195.6 97.1L192.4 88.3L189.2 80.0L182.8 65.9L179.5 59.4L176.3 54.8L173.1 53.2L169.9 53.1L166.7 54.0L147.4 60.4" fill="url(#ga35)"/>
<path d="M146.4 60.0L165.7 53.6L168.9 52.7L172.1 52.8L175.4 54.4L178.6 59.1L181.8 65.7L188.2 80.0L191.5 88.3L194.7 97.3L197.9 105.7L201.1 112.8L204.3 119.6L207.5 125.7L210.8 130.6L214.0 134.1L217.2 137.0L220.4 139.5L223.6 141.0L226.9 141.0L233.3 139.5L236.5 138.6L239.7 137.4L246.2 134.6L249.4 133.1L252.0 126.9L242.3 131.6L239.1 133.0L229.4 136.1L226.2 136.5L223.0 135.5L219.8 133.6L216.6 131.3L213.3 128.3L210.1 123.9L206.9 118.2L203.7 111.8L200.5 105.0L197.2 96.8L194.0 88.1L190.8 80.0L184.4 66.3L181.2 60.0L177.9 55.4L174.7 53.9L171.5 53.8L168.3 54.7L149.0 61.1" fill="url(#ga36)"/>
<path d="M148.0 60.7L167.3 54.3L170.5 53.4L173.8 53.5L177.0 55.1L180.2 59.6L183.4 66.1L189.8 80.0L193.1 88.2L196.3 97.0L199.5 105.3L202.7 112.2L205.9 118.8L209.2 124.6L212.4 129.2L215.6 132.4L218.8 135.0L222.0 137.1L225.2 138.3L228.5 138.1L234.9 136.3L238.1 135.2L241.3 133.9L251.0 129.4L253.6 122.5L243.9 127.4L240.7 128.9L231.0 132.6L227.8 133.3L224.6 132.6L221.4 131.1L218.2 129.1L214.9 126.6L211.7 122.6L208.5 117.1L205.3 110.9L202.1 104.3L198.9 96.3L195.6 87.9L192.4 79.9L186.0 66.6L182.8 60.5L179.5 56.1L176.3 54.6L173.1 54.5L169.9 55.4L150.6 61.8" fill="url(#ga37)"/>
<path d="M149.6 61.4L168.9 55.0L172.1 54.0L175.4 54.2L178.6 55.7L181.8 60.2L185.0 66.4L191.5 80.0L194.7 88.0L197.9 96.6L201.1 104.7L204.3 111.5L207.5 117.8L210.8 123.4L214.0 127.7L217.2 130.4L220.4 132.6L223.6 134.4L226.9 135.3L230.1 134.8L239.7 131.4L249.4 126.9L252.6 125.2L255.2 117.7L245.5 122.9L242.3 124.5L235.9 127.2L232.6 128.7L229.4 129.7L226.2 129.4L223.0 128.3L219.8 126.8L216.6 124.7L213.3 121.0L210.1 115.9L206.9 109.9L203.7 103.5L200.5 95.8L197.2 87.5L194.0 79.8L187.6 66.9L184.4 61.0L181.1 56.7L177.9 55.3L174.7 55.2L171.5 56.1L152.2 62.5" fill="url(#ga38)"/>
<path d="M151.2 62.1L170.5 55.7L173.7 54.7L177.0 54.9L180.2 56.3L183.4 60.7L186.6 66.7L193.1 79.9L196.3 87.7L199.5 96.1L202.7 104.0L205.9 110.6L209.2 116.7L212.4 122.0L215.6 125.9L218.8 128.2L222.0 130.0L225.2 131.3L228.5 131.9L231.7 131.1L241.3 127.2L251.0 122.4L254.2 120.6L256.8 112.8L247.1 118.2L243.9 119.9L237.5 122.9L234.3 124.6L231.0 125.9L227.8 126.0L224.6 125.3L221.4 124.3L218.2 122.6L214.9 119.3L211.7 114.5L208.5 108.8L205.3 102.7L202.1 95.1L198.8 87.1L195.6 79.6L189.2 67.1L186.0 61.4L182.8 57.4L179.5 55.9L176.3 55.9L173.1 56.8L153.8 63.2" fill="url(#ga39)"/>
<path d="M152.8 62.8L172.1 56.4L175.4 55.4L178.6 55.5L181.8 57.0L185.0 61.1L188.2 67.0L194.7 79.7L197.9 87.3L201.1 95.5L204.3 103.2L207.5 109.5L210.8 115.4L214.0 120.4L217.2 123.9L220.4 125.8L223.6 127.1L226.9 128.0L230.1 128.2L233.3 127.1L236.5 125.5L242.9 122.7L255.8 115.8L258.4 107.7L245.5 115.1L239.1 118.4L235.9 120.4L232.6 121.9L229.4 122.4L226.2 122.2L223.0 121.6L219.8 120.4L216.5 117.6L213.3 113.1L210.1 107.6L206.9 101.7L203.7 94.4L200.5 86.6L197.2 79.3L190.8 67.4L187.6 61.9L184.4 58.0L181.1 56.6L177.9 56.6L174.7 57.5L155.4 63.9" fill="url(#ga40)"/>
<path d="M154.4 63.5L173.7 57.1L177.0 56.1L180.2 56.2L183.4 57.6L186.6 61.6L189.8 67.2L196.3 79.5L199.5 86.9L202.7 94.9L205.9 102.3L209.1 108.4L212.4 114.0L215.6 118.6L218.8 121.7L222.0 123.2L225.2 124.1L228.5 124.5L231.7 124.3L234.9 122.9L238.1 121.1L244.6 118.0L257.4 110.7L260.0 102.6L247.1 110.2L240.7 113.8L237.5 116.0L234.2 117.9L231.0 118.7L227.8 118.9L224.6 118.8L221.4 118.1L218.2 115.7L214.9 111.5L211.7 106.3L208.5 100.7L205.3 93.6L202.1 86.0L198.8 79.0L192.4 67.6L189.2 62.3L186.0 58.6L182.8 57.3L179.5 57.2L176.3 58.2L157.0 64.6" fill="url(#ga41)"/>
<path d="M156.0 64.2L175.3 57.8L178.6 56.8L181.8 56.9L185.0 58.2L188.2 62.1L191.4 67.4L197.9 79.2L201.1 86.4L204.3 94.1L207.5 101.3L210.8 107.1L214.0 112.5L217.2 116.8L220.4 119.5L223.6 120.5L226.8 120.9L230.1 120.9L233.3 120.3L236.5 118.6L239.7 116.6L246.2 113.2L259.0 105.6L261.6 97.5L248.7 105.4L245.5 107.2L242.3 109.2L239.1 111.6L235.9 113.8L232.6 114.9L229.4 115.6L226.2 116.0L223.0 115.7L219.8 113.8L216.5 109.9L213.3 105.0L210.1 99.6L206.9 92.8L203.7 85.5L200.5 78.6L194.0 67.7L190.8 62.8L187.6 59.2L184.4 58.0L181.1 57.9L177.9 58.9L158.6 65.3" fill="url(#ga42)"/>
<path d="M157.6 64.9L177.0 58.4L180.2 57.5L183.4 57.6L186.6 58.9L189.8 62.5L193.0 67.6L199.5 78.8L202.7 85.8L205.9 93.3L209.1 100.3L212.4 105.8L215.6 110.9L218.8 114.9L222.0 117.1L225.2 117.7L228.5 117.6L231.7 117.2L234.9 116.2L238.1 114.2L241.3 112.0L251.0 106.4L260.6 100.5L263.2 92.6L250.3 100.7L247.1 102.6L243.9 104.7L240.7 107.3L237.5 109.7L234.2 111.2L231.0 112.3L227.8 113.2L224.6 113.4L221.4 111.8L218.2 108.3L214.9 103.7L211.7 98.5L208.5 92.0L205.3 84.8L202.1 78.2L195.6 67.9L192.4 63.2L189.2 59.8L186.0 58.7L182.7 58.6L179.5 59.6L160.2 66.0" fill="url(#ga43)"/>
<path d="M159.2 65.6L178.6 59.1L181.8 58.2L185.0 58.3L188.2 59.5L191.4 62.9L194.7 67.8L201.1 78.5L204.3 85.2L207.5 92.5L210.8 99.2L214.0 104.5L217.2 109.3L220.4 113.0L223.6 114.8L226.8 114.9L230.1 114.3L233.3 113.4L236.5 112.2L239.7 109.9L242.9 107.4L246.2 105.4L262.2 95.5L264.8 88.0L248.7 98.0L245.5 100.2L239.1 105.7L235.9 107.6L232.6 109.1L229.4 110.4L226.2 111.0L223.0 109.9L219.8 106.7L216.5 102.3L213.3 97.4L210.1 91.1L206.9 84.2L203.7 77.9L197.2 68.0L194.0 63.6L190.8 60.5L187.6 59.4L184.4 59.3L181.1 60.2L161.8 66.7" fill="url(#ga44)"/>
<path d="M160.9 66.3L180.2 59.8L183.4 58.9L186.6 59.0L189.8 60.1L193.0 63.4L196.3 67.9L202.7 78.1L205.9 84.6L209.1 91.6L212.4 98.1L215.6 103.1L218.8 107.7L222.0 111.1L225.2 112.4L228.5 112.1L231.7 111.0L234.9 109.7L238.1 108.1L244.5 102.9L247.8 100.7L263.9 90.7L266.4 83.6L250.3 93.7L247.1 96.0L240.7 101.9L237.5 104.0L234.2 105.9L231.0 107.7L227.8 108.7L224.6 108.0L221.4 105.1L218.1 101.0L214.9 96.3L211.7 90.3L208.5 83.6L205.3 77.5L198.8 68.2L195.6 64.0L192.4 61.1L189.2 60.0L186.0 60.0L182.7 60.9L163.4 67.4" fill="url(#ga45)"/>
<path d="M162.5 67.0L181.8 60.5L185.0 59.6L188.2 59.6L191.4 60.7L194.7 63.8L197.9 68.1L204.3 77.7L207.5 84.0L210.7 90.8L214.0 97.0L217.2 101.8L220.4 106.1L223.6 109.1L226.8 110.1L230.1 109.3L233.3 107.8L236.5 106.1L239.7 104.2L246.2 98.5L249.4 96.3L265.5 86.2L268.0 79.5L251.9 89.6L248.7 92.0L242.3 98.2L235.8 102.9L232.6 105.1L229.4 106.5L226.2 106.2L223.0 103.6L219.8 99.7L216.5 95.3L213.3 89.4L210.1 83.0L206.9 77.1L200.4 68.3L197.2 64.4L194.0 61.7L190.8 60.7L187.6 60.7L184.3 61.6L165.0 68.1" fill="url(#ga46)"/>
<path d="M164.1 67.6L183.4 61.2L186.6 60.3L189.8 60.3L193.0 61.3L196.3 64.2L199.5 68.2L205.9 77.3L209.1 83.3L212.4 89.9L215.6 95.9L218.8 100.4L222.0 104.5L225.2 107.3L228.4 107.8L231.7 106.7L238.1 102.6L241.3 100.4L247.8 94.4L251.0 92.0L267.1 81.9L269.6 75.8L253.5 85.8L250.3 88.2L243.9 94.7L234.2 102.6L231.0 104.4L227.8 104.4L224.6 102.1L221.4 98.4L218.1 94.2L214.9 88.6L211.7 82.4L208.5 76.7L205.3 72.5L202.0 68.5L198.8 64.9L195.6 62.3L192.4 61.4L189.2 61.4L186.0 62.3L166.6 68.8" fill="url(#ga47)"/>
<path d="M165.7 68.3L185.0 61.9L188.2 61.0L191.4 61.0L194.6 61.9L197.9 64.6L201.1 68.4L204.3 72.5L207.5 76.9L210.7 82.7L214.0 89.1L217.2 94.9L220.4 99.2L223.6 103.0L226.8 105.5L230.1 105.7L233.3 104.1L239.7 99.3L242.9 96.8L249.4 90.4L252.6 88.0L265.5 79.9L268.7 78.0L271.2 72.4L261.6 78.2L255.2 82.3L251.9 84.7L245.5 91.5L235.8 100.3L232.6 102.4L229.4 102.8L226.2 100.7L223.0 97.2L219.8 93.3L216.5 87.8L213.3 81.8L210.1 76.4L206.9 72.3L203.7 68.6L200.4 65.3L197.2 62.9L194.0 62.1L190.8 62.1L187.6 63.0L168.2 69.5" fill="url(#ga48)"/>
<path d="M167.3 69.0L186.6 62.6L189.8 61.7L193.0 61.7L196.3 62.5L199.5 65.0L202.7 68.5L205.9 72.4L209.1 76.6L212.3 82.1L215.6 88.3L218.8 93.8L222.0 97.9L225.2 101.6L228.4 103.7L231.7 103.6L234.9 101.7L244.5 93.4L251.0 86.8L254.2 84.3L267.1 76.3L270.3 74.4L272.9 69.4L266.4 73.1L256.8 79.1L253.5 81.5L250.3 84.9L247.1 88.5L237.5 98.1L234.2 100.6L231.0 101.2L227.8 99.4L224.6 96.1L221.4 92.3L218.1 87.1L214.9 81.3L211.7 76.0L208.5 72.2L205.3 68.8L202.0 65.7L198.8 63.5L195.6 62.8L192.4 62.8L189.2 63.7L169.9 70.1" fill="url(#ga49)"/>
<path d="M168.9 69.7L188.2 63.3L191.4 62.4L194.6 62.4L197.9 63.2L201.1 65.4L204.3 68.7L207.5 72.3L210.7 76.2L214.0 81.6L217.2 87.5L220.4 92.9L223.6 96.8L226.8 100.2L230.0 102.1L233.3 101.7L236.5 99.4L246.1 90.3L249.4 86.8L252.6 83.4L255.8 81.0L265.5 74.9L271.9 71.2L274.5 66.8L268.0 70.4L258.4 76.2L255.2 78.7L251.9 82.1L248.7 85.8L245.5 89.1L239.1 96.1L235.8 98.9L232.6 99.8L229.4 98.2L226.2 95.1L223.0 91.5L219.7 86.4L216.5 80.8L213.3 75.7L210.1 72.2L206.9 68.9L203.7 66.1L200.4 64.1L197.2 63.5L194.0 63.5L190.8 64.4L171.5 70.8" fill="url(#ga50)"/>
<path d="M170.5 70.4L189.8 64.0L193.0 63.1L196.2 63.1L199.5 63.8L202.7 65.9L205.9 68.8L209.1 72.2L212.3 75.9L215.6 81.1L218.8 86.8L222.0 92.0L225.2 95.7L228.4 98.9L231.7 100.6L234.9 99.9L238.1 97.3L244.5 90.6L247.8 87.4L251.0 83.8L254.2 80.4L257.4 77.9L267.1 72.0L273.5 68.4L276.1 64.6L269.6 68.0L260.0 73.7L256.8 76.1L253.5 79.6L250.3 83.4L247.1 86.8L240.7 94.3L237.4 97.3L234.2 98.5L231.0 97.1L227.8 94.1L224.6 90.7L221.4 85.8L218.1 80.4L214.9 75.5L211.7 72.1L208.5 69.1L205.3 66.6L202.0 64.8L198.8 64.1L195.6 64.2L192.4 65.1L173.1 71.5" fill="url(#ga51)"/>
<path d="M172.1 71.1L191.4 64.7L194.6 63.8L197.9 63.7L201.1 64.4L204.3 66.3L207.5 69.0L210.7 72.1L214.0 75.6L217.2 80.6L220.4 86.2L223.6 91.2L226.8 94.7L230.0 97.8L233.3 99.3L236.5 98.2L239.7 95.4L246.1 88.2L249.4 84.8L252.6 81.1L255.8 77.6L259.0 75.2L268.7 69.4L275.1 65.9L277.7 62.7L271.2 66.0L261.6 71.5L258.4 73.9L255.1 77.4L251.9 81.3L248.7 84.8L242.3 92.7L239.1 95.9L235.8 97.4L232.6 96.2L229.4 93.3L226.2 90.0L223.0 85.3L219.7 80.0L216.5 75.3L213.3 72.1L210.1 69.3L206.9 67.0L203.6 65.4L200.4 64.8L197.2 64.9L194.0 65.8L174.7 72.2" fill="url(#ga52)"/>
<path d="M173.7 71.8L193.0 65.4L196.2 64.5L199.5 64.4L202.7 65.0L205.9 66.7L209.1 69.2L212.3 72.1L215.6 75.4L218.8 80.2L222.0 85.6L225.2 90.4L228.4 93.8L231.7 96.7L234.9 98.0L238.1 96.7L241.3 93.6L247.7 86.0L251.0 82.5L254.2 78.7L257.4 75.2L260.6 72.8L270.3 67.2L276.7 63.8L279.3 61.2L272.8 64.3L263.2 69.6L260.0 72.0L256.8 75.5L253.5 79.4L250.3 83.0L243.9 91.3L240.7 94.7L237.4 96.4L234.2 95.3L231.0 92.6L227.8 89.4L224.6 84.8L221.3 79.7L218.1 75.1L214.9 72.1L211.7 69.6L208.5 67.5L205.3 66.0L202.0 65.5L198.8 65.6L195.6 66.5L176.3 72.9" fill="url(#ga53)"/>
<path d="M175.3 72.5L194.6 66.1L197.9 65.2L201.1 65.1L204.3 65.6L207.5 67.2L210.7 69.4L213.9 72.1L217.2 75.2L220.4 79.8L223.6 85.1L226.8 89.8L230.0 93.0L233.3 95.8L236.5 96.9L239.7 95.4L242.9 92.1L249.4 84.1L252.6 80.5L255.8 76.6L259.0 73.1L262.2 70.7L271.9 65.3L278.3 62.1L280.9 60.0L274.5 62.9L268.0 66.3L264.8 68.0L261.6 70.4L258.4 73.9L255.1 77.8L251.9 81.5L248.7 85.7L245.5 90.1L242.3 93.7L239.0 95.5L235.8 94.6L232.6 92.0L229.4 88.9L226.2 84.4L223.0 79.4L219.7 75.0L216.5 72.1L213.3 69.8L210.1 67.9L206.9 66.6L203.6 66.2L200.4 66.3L197.2 67.2L177.9 73.6" fill="url(#ga54)"/>
<path d="M176.9 73.2L196.2 66.8L199.5 65.9L202.7 65.8L205.9 66.3L209.1 67.6L212.3 69.7L215.6 72.1L218.8 75.0L222.0 79.5L225.2 84.7L228.4 89.2L231.6 92.3L234.9 95.0L238.1 96.0L241.3 94.3L244.5 90.8L247.7 86.5L251.0 82.4L254.2 78.7L257.4 74.8L260.6 71.3L263.8 68.9L270.3 65.4L276.7 62.2L279.9 60.7L282.5 59.0L276.1 61.9L269.6 65.0L266.4 66.7L263.2 69.0L260.0 72.5L256.8 76.5L253.5 80.2L250.3 84.5L247.1 89.0L243.9 92.8L240.7 94.8L237.4 94.0L234.2 91.4L231.0 88.5L227.8 84.1L224.6 79.2L221.3 74.9L218.1 72.2L214.9 70.1L211.7 68.4L208.5 67.3L205.2 66.9L202.0 67.0L198.8 67.9L179.5 74.3" fill="url(#ga55)"/>
<path d="M89.5 157.5L89.5 35.5M89.5 157.5L179.5 196.3M179.5 196.3L282.5 162.0M89.5 157.5L85.8 155.9M89.5 96.5L85.8 94.9M89.5 35.5L85.8 33.9M89.5 157.5L85.7 158.8M134.5 176.9L130.7 178.2M179.5 196.3L175.7 197.6M179.5 196.3L183.2 197.9M243.8 174.9L247.4 176.5" stroke="#484848" stroke-width="0.85" fill="none"/></g>
<g id="pb"><path d="M435.5 150.8L535.4 193.6M435.5 150.8L435.5 52.8M488.8 120.6L588.7 163.4M488.8 120.6L488.8 22.6M435.5 150.8L522.1 101.7M522.1 101.7L522.1 3.7M485.4 172.2L572.0 123.1M572.0 123.1L572.0 25.1M535.4 193.6L622.0 144.5M622.0 144.5L622.0 46.5M435.5 150.8L522.1 101.7M522.1 101.7L622.0 144.5M435.5 101.8L522.1 52.7M522.1 52.7L622.0 95.5M435.5 52.8L522.1 3.7M522.1 3.7L622.0 46.5M522.1 101.7L522.1 3.7M622.0 144.5L622.0 46.5M435.5 52.8L522.1 3.7M522.1 3.7L622.0 46.5M435.5 150.8L522.1 101.7M522.1 101.7L622.0 144.5" stroke="#e8e8e8" stroke-width="1" fill="none"/>
<path d="M435.5 150.8L522.1 101.7L524.4 102.7L437.8 151.8" fill="url(#gb0)"/>
<path d="M436.4 151.2L523.0 102.1L526.6 103.6L440.0 152.7" fill="url(#gb1)"/>
<path d="M438.7 152.2L525.3 103.1L528.9 104.6L442.3 153.7" fill="url(#gb2)"/>
<path d="M440.9 153.1L527.5 104.0L531.2 105.6L444.6 154.7" fill="url(#gb3)"/>
<path d="M443.2 154.1L529.8 105.0L533.5 106.6L446.9 155.7" fill="url(#gb4)"/>
<path d="M445.5 155.1L532.1 106.0L535.7 107.5L449.1 156.6" fill="url(#gb5)"/>
<path d="M447.8 156.1L534.4 107.0L538.0 108.5L451.4 157.6" fill="url(#gb6)"/>
<path d="M450.0 157.0L536.6 107.9L540.3 109.5L453.7 158.6" fill="url(#gb7)"/>
<path d="M452.3 158.0L538.9 108.9L542.5 110.5L455.9 159.6" fill="url(#gb8)"/>
<path d="M454.6 159.0L541.2 109.9L544.8 111.4L458.2 160.5" fill="url(#gb9)"/>
<path d="M456.8 159.9L543.4 110.8L547.1 112.4L460.5 161.5" fill="url(#gb10)"/>
<path d="M459.1 160.9L545.7 111.8L549.3 113.4L462.7 162.5" fill="url(#gb11)"/>
<path d="M461.4 161.9L548.0 112.8L551.6 114.3L465.0 163.4" fill="url(#gb12)"/>
<path d="M463.7 162.9L550.3 113.8L553.9 115.3L467.3 164.4" fill="url(#gb13)"/>
<path d="M465.9 163.8L552.5 114.7L556.2 116.3L469.6 165.4" fill="url(#gb14)"/>
<path d="M468.2 164.8L554.8 115.7L558.4 117.3L471.8 166.4" fill="url(#gb15)"/>
<path d="M470.5 165.8L557.1 116.7L560.7 118.2L474.1 167.3" fill="url(#gb16)"/>
<path d="M472.7 166.8L559.3 117.7L563.0 119.2L476.4 168.3" fill="url(#gb17)"/>
<path d="M475.0 167.7L561.6 118.6L565.2 120.2L478.6 169.3" fill="url(#gb18)"/>
<path d="M477.3 168.7L563.9 119.6L567.5 121.2L480.9 170.3" fill="url(#gb19)"/>
<path d="M479.5 169.7L566.1 120.6L569.8 122.1L483.2 171.2" fill="url(#gb20)"/>
<path d="M481.8 170.6L568.4 121.5L572.0 123.1L485.4 172.2" fill="url(#gb21)"/>
<path d="M484.1 171.6L570.7 122.5L574.3 124.1L487.7 173.2" fill="url(#gb22)"/>
<path d="M486.4 172.6L573.0 123.5L576.6 125.0L490.0 174.1" fill="url(#gb23)"/>
<path d="M488.6 173.6L575.2 124.5L578.9 126.0L492.3 175.1" fill="url(#gb24)"/>
<path d="M490.9 174.5L577.5 125.4L581.1 127.0L494.5 176.1" fill="url(#gb25)"/>
<path d="M493.2 175.5L579.8 126.4L583.4 128.0L496.8 177.1" fill="url(#gb26)"/>
<path d="M495.4 176.5L582.0 127.4L585.7 128.9L499.1 178.0" fill="url(#gb27)"/>
<path d="M497.7 177.5L584.3 128.4L587.9 129.9L501.3 179.0" fill="url(#gb28)"/>
<path d="M500.0 178.4L586.6 129.3L590.2 130.9L503.6 180.0" fill="url(#gb29)"/>
<path d="M502.3 179.4L588.9 130.3L592.5 131.9L505.9 181.0" fill="url(#gb30)"/>
<path d="M504.5 180.4L591.1 131.3L594.8 132.8L508.2 181.9" fill="url(#gb31)"/>
<path d="M506.8 181.3L593.4 132.2L597.0 133.8L510.4 182.9" fill="url(#gb32)"/>
<path d="M509.1 182.3L595.7 133.2L599.3 134.8L512.7 183.9" fill="url(#gb33)"/>
<path d="M511.3 183.3L597.9 134.2L601.6 135.7L515.0 184.8" fill="url(#gb34)"/>
<path d="M513.6 184.3L600.2 135.2L603.8 136.7L517.2 185.8" fill="url(#gb35)"/>
<path d="M515.9 185.2L602.5 136.1L606.1 137.7L519.5 186.8" fill="url(#gb36)"/>
<path d="M518.1 186.2L604.7 137.1L608.4 138.7L521.8 187.8" fill="url(#gb37)"/>
<path d="M520.4 187.2L607.0 138.1L610.6 139.6L524.0 188.7" fill="url(#gb38)"/>
<path d="M522.7 188.2L609.3 139.1L612.9 140.6L526.3 189.7" fill="url(#gb39)"/>
<path d="M525.0 189.1L611.6 140.0L615.2 141.6L528.6 190.7" fill="url(#gb40)"/>
<path d="M527.2 190.1L613.8 141.0L617.5 142.6L530.9 191.7" fill="url(#gb41)"/>
<path d="M529.5 191.1L616.1 142.0L619.7 143.5L533.1 192.6" fill="url(#gb42)"/>
<path d="M531.8 192.0L618.4 142.9L622.0 144.5L535.4 193.6" fill="url(#gb43)"/>
<path d="M435.5 150.8L435.5 52.8M435.5 150.8L535.4 193.6M535.4 193.6L622.0 144.5M435.5 150.8L431.8 149.2M435.5 101.8L431.8 100.2M435.5 52.8L431.8 51.2M435.5 150.8L432.0 152.8M485.4 172.2L482.0 174.2M535.4 193.6L531.9 195.6M535.4 193.6L539.1 195.2M588.7 163.4L592.3 165.0" stroke="#484848" stroke-width="0.85" fill="none"/></g>
<g id="pc"><path d="M762.5 136.0L853.3 186.8M762.5 136.0L762.5 44.2M826.8 109.3L917.6 160.1M826.8 109.3L826.8 17.5M762.5 136.0L869.2 91.7M869.2 91.7L869.2 -0.1M807.9 161.4L914.6 117.1M914.6 117.1L914.6 25.3M853.3 186.8L960.0 142.5M960.0 142.5L960.0 50.7M762.5 136.0L869.2 91.7M869.2 91.7L960.0 142.5M762.5 90.1L869.2 45.8M869.2 45.8L960.0 96.6M762.5 44.2L869.2 -0.1M869.2 -0.1L960.0 50.7M869.2 91.7L869.2 -0.1M960.0 142.5L960.0 50.7M762.5 44.2L869.2 -0.1M869.2 -0.1L960.0 50.7M762.5 136.0L869.2 91.7M869.2 91.7L960.0 142.5" stroke="#e8e8e8" stroke-width="1" fill="none"/>
<path d="M762.5 136.0L782.5 127.7L785.8 126.0L789.2 123.8L792.5 121.3L795.8 118.2L799.2 114.8L802.5 111.1L805.8 106.4L812.5 94.7L815.9 90.0L819.2 86.2L822.5 82.8L825.9 80.4L829.2 79.2L832.5 78.7L835.9 78.7L842.5 78.9L845.9 79.1L849.2 79.7L852.5 80.0L855.9 79.8L862.5 78.3L865.9 77.3L869.2 76.1L870.8 74.6L867.5 75.8L864.2 76.8L857.5 78.2L854.1 78.4L850.8 78.1L847.5 77.6L844.1 77.4L837.5 77.4L834.1 77.6L830.8 78.2L827.5 79.5L824.1 82.1L820.8 85.7L817.5 89.6L814.1 94.4L807.5 106.4L804.1 111.3L800.8 115.2L797.5 118.9L794.1 122.1L790.8 124.7L787.5 126.9L784.1 128.6L764.1 136.9" fill="url(#gc0)"/>
<path d="M763.1 136.4L783.2 128.1L786.5 126.4L789.8 124.2L793.2 121.6L796.5 118.5L799.8 115.0L803.2 111.2L806.5 106.4L813.2 94.6L816.5 89.8L819.8 86.0L823.2 82.5L826.5 80.0L829.8 78.8L833.2 78.3L836.5 78.2L843.2 78.3L846.5 78.6L849.8 79.1L853.2 79.4L856.5 79.2L863.2 77.7L866.5 76.7L869.8 75.5L872.4 73.0L869.1 74.2L865.8 75.1L859.1 76.5L855.8 76.7L852.4 76.4L849.1 76.0L845.8 75.8L839.1 76.0L835.8 76.4L832.4 77.1L829.1 78.6L825.8 81.4L822.4 85.1L819.1 89.2L815.8 94.2L809.1 106.5L805.8 111.6L802.4 115.7L799.1 119.5L795.8 122.9L792.4 125.6L789.1 127.8L785.7 129.5L765.7 137.8" fill="url(#gc1)"/>
<path d="M764.8 137.3L784.8 129.0L788.1 127.3L791.4 125.1L794.8 122.4L798.1 119.1L801.4 115.4L804.8 111.4L808.1 106.4L814.8 94.4L818.1 89.5L821.5 85.5L824.8 81.8L828.1 79.2L831.5 77.8L834.8 77.1L838.1 76.8L844.8 76.8L848.1 77.0L851.5 77.4L854.8 77.7L858.1 77.5L864.8 76.1L868.1 75.2L871.5 74.0L874.1 71.3L870.7 72.4L867.4 73.2L860.7 74.6L857.4 74.8L850.7 74.2L847.4 74.1L840.7 74.5L837.4 75.0L834.1 76.0L830.7 77.7L827.4 80.6L824.0 84.5L820.7 88.8L817.4 93.9L810.7 106.5L807.4 111.7L804.0 116.1L800.7 120.1L797.4 123.7L794.0 126.5L790.7 128.7L787.4 130.4L767.4 138.7" fill="url(#gc2)"/>
<path d="M766.4 138.2L786.4 129.9L789.7 128.2L793.1 126.0L796.4 123.2L799.7 119.7L803.1 115.8L806.4 111.6L809.7 106.5L816.4 94.1L819.7 89.0L823.1 84.9L826.4 81.1L829.7 78.3L833.1 76.7L836.4 75.8L839.7 75.4L846.4 75.1L849.8 75.3L856.4 76.0L859.8 75.7L866.4 74.3L869.8 73.5L873.1 72.3L875.7 69.3L872.4 70.4L869.0 71.2L862.3 72.6L859.0 72.8L852.3 72.3L849.0 72.3L845.7 72.5L842.3 72.9L839.0 73.7L835.7 74.8L832.3 76.7L829.0 79.8L825.7 83.9L822.3 88.3L819.0 93.6L812.3 106.5L809.0 111.9L805.7 116.4L802.3 120.7L799.0 124.5L795.7 127.4L792.3 129.6L789.0 131.3L769.0 139.6" fill="url(#gc3)"/>
<path d="M768.0 139.1L788.0 130.8L791.4 129.1L794.7 126.9L798.0 124.0L801.4 120.4L804.7 116.2L808.0 111.8L811.4 106.5L818.0 93.8L821.4 88.6L824.7 84.3L828.0 80.3L831.4 77.3L834.7 75.5L838.0 74.5L841.4 73.9L844.7 73.6L848.0 73.4L851.4 73.4L858.0 74.0L861.4 73.8L868.0 72.4L871.4 71.6L874.7 70.5L877.3 67.3L874.0 68.3L870.6 69.1L864.0 70.4L860.6 70.7L854.0 70.3L850.6 70.4L847.3 70.7L844.0 71.3L840.6 72.2L837.3 73.6L834.0 75.6L830.6 78.9L827.3 83.2L824.0 87.8L820.6 93.3L814.0 106.5L810.6 112.1L807.3 116.8L804.0 121.3L800.6 125.3L797.3 128.3L793.9 130.6L790.6 132.2L770.6 140.5" fill="url(#gc4)"/>
<path d="M769.6 140.0L789.6 131.7L793.0 130.0L796.3 127.8L799.6 124.8L803.0 121.0L806.3 116.6L809.6 112.0L813.0 106.5L819.6 93.5L823.0 88.1L826.3 83.6L829.7 79.5L833.0 76.3L836.3 74.3L839.7 73.1L843.0 72.3L846.3 71.8L849.7 71.5L853.0 71.5L859.7 72.0L863.0 71.7L869.7 70.4L873.0 69.6L876.3 68.5L878.9 65.1L875.6 66.1L868.9 67.5L865.6 68.2L862.3 68.5L855.6 68.2L852.3 68.4L848.9 68.8L845.6 69.6L842.3 70.7L838.9 72.3L835.6 74.6L832.2 78.1L828.9 82.5L825.6 87.3L822.2 93.0L815.6 106.5L812.2 112.3L805.6 122.0L802.2 126.1L798.9 129.2L795.6 131.5L792.2 133.1L772.2 141.4" fill="url(#gc5)"/>
<path d="M771.3 140.9L791.3 132.6L794.6 130.9L797.9 128.6L801.3 125.6L804.6 121.6L807.9 117.0L811.3 112.2L814.6 106.5L821.3 93.2L824.6 87.6L827.9 82.9L831.3 78.6L834.6 75.2L837.9 73.1L841.3 71.6L844.6 70.6L847.9 70.0L851.3 69.6L854.6 69.5L861.3 69.8L864.6 69.5L871.3 68.2L874.6 67.4L878.0 66.4L880.6 62.8L877.2 63.7L870.5 65.2L867.2 65.8L863.9 66.1L857.2 66.1L853.9 66.3L850.5 66.9L847.2 67.8L843.9 69.2L840.5 71.0L837.2 73.4L833.9 77.2L830.5 81.8L827.2 86.8L823.9 92.6L817.2 106.5L813.9 112.5L807.2 122.6L803.9 126.9L800.5 130.1L797.2 132.4L793.9 134.0L773.9 142.3" fill="url(#gc6)"/>
<path d="M772.9 141.8L792.9 133.5L796.2 131.8L799.6 129.5L802.9 126.4L806.2 122.2L812.9 112.4L816.2 106.5L822.9 92.9L826.2 87.1L829.6 82.2L832.9 77.7L836.2 74.1L839.6 71.8L842.9 70.1L846.2 68.9L849.6 68.1L852.9 67.5L856.2 67.4L862.9 67.5L866.2 67.2L872.9 65.9L876.2 65.1L879.6 64.2L882.2 60.3L878.8 61.2L872.2 62.7L868.8 63.4L865.5 63.7L858.8 63.9L855.5 64.2L852.2 64.9L848.8 66.1L845.5 67.6L842.2 69.6L838.8 72.3L835.5 76.3L832.2 81.1L828.8 86.3L825.5 92.3L818.8 106.5L815.5 112.7L808.8 123.2L805.5 127.7L802.1 131.0L798.8 133.3L795.5 135.0L775.5 143.3" fill="url(#gc7)"/>
<path d="M774.5 142.7L794.5 134.4L797.8 132.7L801.2 130.4L804.5 127.2L807.8 122.8L814.5 112.5L817.8 106.5L824.5 92.5L827.8 86.6L831.2 81.5L834.5 76.8L837.9 73.0L841.2 70.4L844.5 68.6L847.9 67.1L851.2 66.1L854.5 65.5L857.9 65.2L864.5 65.2L867.9 64.8L874.5 63.5L877.9 62.7L881.2 61.8L883.8 57.8L877.1 59.5L870.5 60.9L867.1 61.3L860.5 61.6L857.1 62.0L853.8 62.9L850.4 64.2L847.1 66.0L843.8 68.3L840.4 71.2L837.1 75.3L833.8 80.4L830.4 85.7L827.1 92.0L820.4 106.5L817.1 112.8L810.4 123.8L807.1 128.5L803.8 131.9L800.4 134.2L797.1 135.9L777.1 144.2" fill="url(#gc8)"/>
<path d="M776.1 143.6L796.1 135.3L799.5 133.6L802.8 131.3L806.1 128.0L809.5 123.4L816.1 112.7L819.5 106.5L826.1 92.2L829.5 86.1L832.8 80.8L836.1 75.9L839.5 71.9L842.8 69.1L846.1 67.0L849.5 65.3L852.8 64.1L856.1 63.3L859.5 63.0L866.1 62.8L869.5 62.4L876.2 61.0L879.5 60.2L882.8 59.3L885.4 55.2L878.7 56.9L872.1 58.3L868.7 58.8L862.1 59.3L858.7 59.9L855.4 60.9L852.1 62.4L848.7 64.4L845.4 66.9L842.1 70.1L838.7 74.4L835.4 79.7L832.1 85.2L828.7 91.7L822.1 106.6L818.7 113.0L812.1 124.4L808.7 129.3L805.4 132.8L802.1 135.1L798.7 136.8L778.7 145.1" fill="url(#gc9)"/>
<path d="M777.7 144.5L797.7 136.2L801.1 134.6L804.4 132.2L807.8 128.8L811.1 124.1L817.8 112.9L821.1 106.6L827.8 91.8L831.1 85.5L834.4 80.1L837.8 75.0L841.1 70.7L844.4 67.7L847.8 65.4L851.1 63.5L854.4 62.1L857.8 61.2L861.1 60.7L867.8 60.3L871.1 59.8L877.8 58.5L884.4 56.8L887.0 52.6L880.4 54.3L873.7 55.7L870.4 56.3L863.7 57.1L860.4 57.7L857.0 58.8L853.7 60.6L850.4 62.9L847.0 65.5L843.7 68.9L840.4 73.5L837.0 79.0L833.7 84.7L830.4 91.4L823.7 106.6L820.3 113.3L813.7 125.1L810.3 130.1L807.0 133.7L803.7 136.0L800.3 137.7L780.3 146.0" fill="url(#gc10)"/>
<path d="M779.4 145.4L799.4 137.1L802.7 135.5L806.0 133.1L809.4 129.6L812.7 124.7L819.4 113.1L822.7 106.6L829.4 91.5L832.7 85.0L836.0 79.4L839.4 74.1L842.7 69.6L846.1 66.4L849.4 63.8L852.7 61.7L856.1 60.1L859.4 59.0L862.7 58.4L869.4 57.8L872.7 57.3L882.7 55.1L886.1 54.2L888.7 49.9L875.3 53.2L872.0 53.8L865.3 54.8L862.0 55.5L858.6 56.8L855.3 58.8L852.0 61.3L848.6 64.2L845.3 67.9L842.0 72.7L838.6 78.3L835.3 84.3L832.0 91.1L825.3 106.7L822.0 113.5L815.3 125.7L812.0 130.9L808.6 134.5L805.3 136.9L802.0 138.6L782.0 146.9" fill="url(#gc11)"/>
<path d="M781.0 146.3L801.0 138.0L804.3 136.4L807.7 134.0L811.0 130.4L814.3 125.3L821.0 113.3L824.3 106.6L831.0 91.2L834.3 84.5L837.7 78.7L841.0 73.2L844.3 68.5L847.7 65.0L851.0 62.2L854.3 59.9L857.7 58.0L861.0 56.8L864.3 56.1L871.0 55.3L874.3 54.7L884.3 52.4L887.7 51.5L890.3 47.3L876.9 50.6L866.9 52.5L863.6 53.4L860.3 54.9L856.9 57.0L853.6 59.8L850.3 62.9L846.9 66.8L843.6 71.8L840.3 77.7L836.9 83.8L833.6 90.8L826.9 106.7L823.6 113.7L816.9 126.4L813.6 131.7L810.3 135.4L806.9 137.8L803.6 139.5L783.6 147.8" fill="url(#gc12)"/>
<path d="M782.6 147.2L802.6 138.9L805.9 137.3L809.3 134.9L812.6 131.3L815.9 126.0L822.6 113.6L826.0 106.7L832.6 91.0L836.0 84.1L839.3 78.0L842.6 72.3L846.0 67.4L849.3 63.7L852.6 60.7L856.0 58.1L859.3 56.0L862.6 54.7L866.0 53.9L872.6 52.8L876.0 52.1L886.0 49.7L889.3 48.9L891.9 44.6L878.6 48.1L868.6 50.4L865.2 51.3L861.9 53.0L858.6 55.3L855.2 58.3L851.9 61.7L848.6 65.8L845.2 71.0L841.9 77.1L838.6 83.4L835.2 90.6L828.5 106.8L825.2 114.0L818.5 127.0L815.2 132.6L811.9 136.3L808.5 138.7L805.2 140.4L785.2 148.7" fill="url(#gc13)"/>
<path d="M784.2 148.2L804.2 139.8L807.6 138.2L810.9 135.8L814.2 132.1L817.6 126.6L824.2 113.8L827.6 106.8L834.2 90.7L837.6 83.7L840.9 77.4L844.2 71.5L847.6 66.4L850.9 62.5L854.2 59.2L857.6 56.4L860.9 54.1L864.3 52.6L867.6 51.7L877.6 49.6L890.9 46.2L893.5 42.1L876.8 46.5L870.2 48.3L866.8 49.4L863.5 51.1L860.2 53.7L856.8 57.0L853.5 60.6L850.2 64.9L846.8 70.3L843.5 76.5L840.2 83.1L836.8 90.4L830.2 107.0L826.8 114.3L820.2 127.7L816.8 133.4L813.5 137.2L810.2 139.7L806.8 141.3L786.8 149.6" fill="url(#gc14)"/>
<path d="M785.8 149.1L805.9 140.8L809.2 139.1L812.5 136.7L815.9 132.9L819.2 127.3L825.9 114.1L829.2 106.9L835.9 90.5L839.2 83.3L842.5 76.8L845.9 70.7L849.2 65.4L852.5 61.3L855.9 57.8L859.2 54.7L862.5 52.2L865.9 50.5L869.2 49.5L892.5 43.6L895.1 39.6L875.1 45.2L871.8 46.3L868.5 47.5L865.1 49.4L861.8 52.2L858.5 55.7L855.1 59.5L851.8 64.0L848.5 69.7L845.1 76.1L841.8 82.8L838.5 90.3L831.8 107.1L828.5 114.6L821.8 128.4L818.5 134.2L815.1 138.1L811.8 140.6L808.4 142.2L788.4 150.5" fill="url(#gc15)"/>
<path d="M787.5 150.0L807.5 141.7L810.8 140.0L814.1 137.6L817.5 133.7L820.8 128.0L827.5 114.4L830.8 107.0L837.5 90.4L840.8 83.0L844.2 76.3L847.5 70.0L850.8 64.5L854.2 60.1L857.5 56.4L860.8 53.1L864.2 50.4L867.5 48.6L870.8 47.4L894.2 41.1L896.8 37.3L876.8 43.2L873.4 44.4L870.1 45.7L866.8 47.8L863.4 50.8L860.1 54.5L856.8 58.5L853.4 63.2L850.1 69.1L846.7 75.7L843.4 82.6L840.1 90.2L833.4 107.4L830.1 115.0L823.4 129.1L820.1 135.1L816.7 139.0L813.4 141.5L810.1 143.1L790.1 151.4" fill="url(#gc16)"/>
<path d="M789.1 150.9L809.1 142.6L812.4 140.9L815.8 138.5L819.1 134.6L822.4 128.7L829.1 114.8L832.4 107.2L839.1 90.3L842.4 82.7L845.8 75.9L849.1 69.4L852.4 63.7L855.8 59.1L859.1 55.2L862.4 51.6L865.8 48.7L869.1 46.8L872.5 45.5L895.8 38.7L898.4 35.1L881.7 40.2L878.4 41.4L875.0 42.7L871.7 44.1L868.4 46.3L865.0 49.5L861.7 53.4L858.4 57.6L855.0 62.6L851.7 68.6L848.4 75.3L845.0 82.4L841.7 90.2L835.0 107.6L831.7 115.4L825.0 129.8L821.7 135.9L818.4 139.9L815.0 142.4L811.7 144.0L791.7 152.3" fill="url(#gc17)"/>
<path d="M790.7 151.8L810.7 143.5L814.1 141.8L817.4 139.4L820.7 135.4L824.1 129.4L830.7 115.1L834.1 107.5L840.7 90.2L844.1 82.5L847.4 75.5L850.7 68.9L854.1 63.0L857.4 58.2L860.7 54.0L864.1 50.3L867.4 47.2L870.7 45.1L874.1 43.7L877.4 42.5L894.1 37.3L897.4 36.4L900.0 33.1L886.7 37.3L880.0 39.7L876.7 41.1L873.3 42.7L870.0 45.0L866.7 48.4L863.3 52.5L860.0 56.9L856.7 62.0L853.3 68.2L850.0 75.1L846.7 82.3L843.3 90.3L836.7 107.9L833.3 115.8L826.7 130.5L823.3 136.7L820.0 140.8L816.6 143.3L813.3 144.9L793.3 153.2" fill="url(#gc18)"/>
<path d="M792.3 152.7L812.3 144.4L815.7 142.7L819.0 140.3L822.3 136.2L825.7 130.1L832.3 115.5L835.7 107.7L842.3 90.2L845.7 82.4L849.0 75.2L852.4 68.4L855.7 62.3L859.0 57.3L862.4 53.0L865.7 49.1L869.0 45.8L872.4 43.5L875.7 42.0L879.0 40.7L892.4 36.3L899.0 34.3L901.6 31.3L888.3 35.7L885.0 36.9L881.6 38.2L878.3 39.8L875.0 41.4L871.6 43.9L868.3 47.4L865.0 51.7L861.6 56.3L858.3 61.6L854.9 67.9L851.6 75.0L848.3 82.3L844.9 90.4L838.3 108.3L834.9 116.3L828.3 131.3L824.9 137.6L821.6 141.7L818.3 144.2L814.9 145.8L794.9 154.1" fill="url(#gc19)"/>
<path d="M794.0 153.6L814.0 145.3L817.3 143.7L820.6 141.2L824.0 137.1L827.3 130.8L834.0 116.0L837.3 108.1L844.0 90.3L847.3 82.3L850.6 75.0L854.0 68.1L857.3 61.8L860.6 56.6L864.0 52.1L867.3 48.0L870.6 44.6L874.0 42.2L877.3 40.5L880.6 39.1L887.3 36.6L897.3 33.3L900.7 32.3L903.2 29.8L896.6 31.9L886.6 35.6L883.2 37.0L879.9 38.6L876.6 40.4L873.2 43.0L869.9 46.7L866.6 51.1L863.2 55.8L859.9 61.3L856.6 67.8L849.9 82.4L846.6 90.6L839.9 108.7L836.6 116.8L829.9 132.0L826.6 138.4L823.2 142.6L819.9 145.1L816.6 146.7L796.5 155.1" fill="url(#gc20)"/>
<path d="M795.6 154.5L815.6 146.2L818.9 144.6L822.3 142.1L825.6 137.9L828.9 131.6L835.6 116.5L838.9 108.5L845.6 90.5L848.9 82.3L852.3 74.9L855.6 67.8L858.9 61.4L862.3 56.1L865.6 51.4L868.9 47.1L872.3 43.5L875.6 41.0L878.9 39.3L882.3 37.7L885.6 36.3L895.6 32.8L902.3 30.7L904.9 28.5L898.2 30.7L891.5 33.1L888.2 34.5L884.9 36.0L881.5 37.7L878.2 39.6L874.9 42.2L871.5 46.1L868.2 50.6L864.9 55.5L861.5 61.1L858.2 67.7L851.5 82.6L848.2 90.9L841.5 109.2L838.2 117.4L831.5 132.8L828.2 139.3L824.8 143.5L821.5 146.0L818.2 147.7L798.2 156.0" fill="url(#gc21)"/>
<path d="M797.2 155.4L817.2 147.1L820.5 145.5L823.9 143.0L827.2 138.8L830.5 132.3L837.2 117.0L840.5 108.9L847.2 90.7L850.5 82.5L857.2 67.7L860.6 61.2L863.9 55.7L867.2 50.9L870.6 46.4L873.9 42.7L877.2 40.0L880.6 38.2L883.9 36.6L887.2 35.1L897.2 31.4L903.9 29.2L906.5 27.5L899.8 29.7L893.2 32.3L889.8 33.7L886.5 35.3L883.2 37.1L879.8 39.0L876.5 41.7L873.1 45.7L869.8 50.4L866.5 55.4L863.1 61.1L859.8 67.8L853.1 82.9L849.8 91.3L843.1 109.7L839.8 118.0L833.1 133.6L829.8 140.2L826.5 144.4L823.1 146.9L819.8 148.6L799.8 156.9" fill="url(#gc22)"/>
<path d="M798.8 156.3L818.8 148.0L822.2 146.4L825.5 143.9L828.8 139.6L832.2 133.1L838.8 117.6L842.2 109.4L848.8 91.1L852.2 82.7L858.8 67.7L862.2 61.1L865.5 55.5L868.8 50.5L872.2 45.9L875.5 42.0L878.8 39.3L882.2 37.4L885.5 35.7L888.8 34.1L898.9 30.3L905.5 28.1L908.1 26.8L901.4 29.1L894.8 31.7L891.4 33.2L888.1 34.8L884.8 36.7L881.4 38.7L878.1 41.5L874.8 45.5L871.4 50.3L868.1 55.4L864.8 61.2L861.4 68.0L854.8 83.3L851.4 91.8L844.8 110.3L841.4 118.6L834.8 134.4L831.4 141.0L828.1 145.3L824.8 147.8L821.4 149.5L801.4 157.8" fill="url(#gc23)"/>
<path d="M800.4 157.2L820.4 148.9L823.8 147.3L827.1 144.8L830.5 140.5L833.8 133.9L840.5 118.2L843.8 110.0L850.5 91.5L853.8 83.0L860.5 67.9L863.8 61.1L867.1 55.4L870.5 50.3L873.8 45.6L877.1 41.6L880.5 38.8L883.8 36.9L887.1 35.1L890.5 33.4L900.5 29.5L907.1 27.2L909.7 26.5L903.1 28.8L896.4 31.5L893.1 32.9L889.7 34.6L886.4 36.5L883.1 38.6L879.7 41.5L876.4 45.6L873.1 50.5L869.7 55.7L866.4 61.5L863.1 68.4L856.4 83.8L853.1 92.3L846.4 111.0L843.0 119.4L836.4 135.2L833.0 141.9L829.7 146.2L826.4 148.7L823.0 150.4L803.0 158.7" fill="url(#gc24)"/>
<path d="M802.1 158.1L822.1 149.8L825.4 148.2L828.7 145.7L832.1 141.4L835.4 134.7L842.1 118.9L845.4 110.6L852.1 92.0L855.4 83.5L862.1 68.2L865.4 61.3L868.8 55.5L872.1 50.4L875.4 45.5L878.8 41.5L882.1 38.6L885.4 36.6L888.8 34.7L892.1 33.0L898.8 30.3L905.4 27.8L908.8 26.7L911.4 26.5L904.7 28.9L898.0 31.5L894.7 33.0L891.4 34.8L888.0 36.7L884.7 38.8L881.3 41.7L878.0 45.9L874.7 50.8L871.3 56.1L868.0 62.0L864.7 69.0L858.0 84.4L854.7 93.0L848.0 111.7L844.7 120.1L838.0 136.1L834.7 142.8L831.3 147.1L828.0 149.6L824.7 151.3L804.7 159.6" fill="url(#gc25)"/>
<path d="M803.7 159.0L823.7 150.7L827.0 149.1L830.4 146.6L833.7 142.3L837.0 135.6L843.7 119.7L847.0 111.3L853.7 92.6L857.0 84.0L863.7 68.6L867.0 61.7L870.4 55.8L873.7 50.6L877.0 45.7L880.4 41.5L883.7 38.6L887.0 36.6L890.4 34.7L893.7 32.9L897.0 31.5L903.7 28.8L910.4 26.5L913.0 26.9L909.6 28.0L899.6 31.9L896.3 33.5L893.0 35.2L889.6 37.2L886.3 39.3L883.0 42.2L879.6 46.4L876.3 51.4L873.0 56.7L869.6 62.7L866.3 69.6L859.6 85.2L856.3 93.8L849.6 112.5L846.3 121.0L839.6 137.0L836.3 143.7L833.0 148.0L829.6 150.6L826.3 152.2L806.3 160.5" fill="url(#gc26)"/>
<path d="M805.3 159.9L825.3 151.6L828.6 150.0L832.0 147.5L835.3 143.2L838.6 136.4L845.3 120.5L848.7 112.0L855.3 93.3L858.7 84.7L865.3 69.2L868.7 62.2L872.0 56.3L875.3 51.0L878.7 46.1L882.0 41.9L885.3 39.0L888.7 36.9L892.0 34.9L895.3 33.2L898.7 31.7L905.3 29.0L912.0 26.6L914.6 27.6L911.3 28.7L901.3 32.7L897.9 34.2L894.6 36.0L891.3 37.9L887.9 40.0L884.6 43.0L881.3 47.2L877.9 52.2L874.6 57.5L871.3 63.5L867.9 70.5L861.2 86.0L857.9 94.6L851.2 113.4L847.9 121.8L841.2 137.9L837.9 144.6L834.6 148.9L831.2 151.5L827.9 153.1L807.9 161.4" fill="url(#gc27)"/>
<path d="M806.9 160.9L826.9 152.5L830.3 150.9L833.6 148.4L836.9 144.1L840.3 137.3L846.9 121.3L850.3 112.9L856.9 94.1L860.3 85.5L866.9 69.9L870.3 63.0L873.6 57.0L876.9 51.7L880.3 46.7L883.6 42.5L887.0 39.6L890.3 37.4L893.6 35.5L897.0 33.7L900.3 32.2L907.0 29.5L910.3 28.2L913.6 27.1L916.2 28.8L912.9 29.9L902.9 33.9L899.5 35.4L896.2 37.1L892.9 39.1L889.5 41.2L886.2 44.1L882.9 48.3L879.5 53.3L876.2 58.6L872.9 64.5L869.5 71.5L862.9 87.0L859.5 95.6L852.9 114.4L849.5 122.8L842.9 138.8L839.5 145.5L836.2 149.9L832.9 152.4L829.5 154.0L809.5 162.3" fill="url(#gc28)"/>
<path d="M808.5 161.8L828.6 153.5L831.9 151.8L835.2 149.3L838.6 145.0L841.9 138.2L848.6 122.2L851.9 113.8L858.6 95.0L861.9 86.4L868.6 70.8L871.9 63.9L875.2 57.9L878.6 52.6L881.9 47.6L885.2 43.4L888.6 40.5L891.9 38.3L895.2 36.4L898.6 34.6L901.9 33.1L908.6 30.4L911.9 29.1L915.2 28.0L917.8 30.7L911.2 33.0L904.5 35.7L901.2 37.2L897.8 38.9L891.2 42.9L887.8 45.7L884.5 49.9L881.2 54.8L877.8 60.0L874.5 65.8L871.2 72.7L864.5 88.2L861.2 96.7L854.5 115.4L851.2 123.8L844.5 139.7L841.2 146.5L837.8 150.8L834.5 153.3L831.1 154.9L811.1 163.2" fill="url(#gc29)"/>
<path d="M810.2 162.7L830.2 154.4L833.5 152.7L836.8 150.2L840.2 145.9L843.5 139.2L850.2 123.2L853.5 114.8L860.2 96.0L863.5 87.4L870.2 72.0L873.5 65.0L876.9 59.1L880.2 53.8L883.5 48.9L886.9 44.7L890.2 41.8L893.5 39.7L896.9 37.8L900.2 36.0L903.5 34.5L910.2 31.8L913.5 30.6L916.9 29.5L919.5 33.2L912.8 35.5L906.1 38.0L902.8 39.5L899.5 41.2L892.8 45.0L889.5 47.8L886.1 51.8L882.8 56.6L879.5 61.6L876.1 67.4L872.8 74.2L866.1 89.5L862.8 98.0L856.1 116.6L852.8 124.9L846.1 140.7L842.8 147.4L839.4 151.7L836.1 154.2L832.8 155.8L812.8 164.1" fill="url(#gc30)"/>
<path d="M811.8 163.6L831.8 155.3L835.1 153.6L838.5 151.1L841.8 146.8L845.1 140.1L851.8 124.2L855.1 115.9L861.8 97.2L865.1 88.7L871.8 73.3L875.1 66.4L878.5 60.6L881.8 55.4L885.1 50.6L888.5 46.5L891.8 43.7L898.5 39.7L901.8 38.0L905.2 36.6L911.8 33.9L918.5 31.6L921.1 36.3L914.4 38.5L907.7 40.9L904.4 42.3L901.1 44.0L894.4 47.6L891.1 50.3L887.7 54.1L884.4 58.7L881.1 63.6L877.7 69.2L874.4 75.9L871.1 83.2L867.7 90.9L864.4 99.4L857.7 117.8L854.4 126.1L847.7 141.7L844.4 148.3L841.1 152.6L837.7 155.1L834.4 156.7L814.4 165.0" fill="url(#gc31)"/>
<path d="M813.4 164.5L833.4 156.2L836.8 154.5L840.1 152.0L843.4 147.8L846.8 141.1L853.4 125.3L856.8 117.0L863.4 98.5L866.8 90.0L873.4 74.8L876.8 68.1L880.1 62.4L883.4 57.4L886.8 52.7L890.1 48.7L893.4 46.0L900.1 42.2L903.4 40.6L906.8 39.1L913.4 36.6L920.1 34.4L922.7 39.9L916.0 42.0L909.4 44.4L906.0 45.7L902.7 47.2L896.0 50.6L892.7 53.1L889.4 56.8L886.0 61.2L882.7 65.9L879.4 71.2L876.0 77.7L872.7 85.0L869.4 92.6L866.0 100.9L859.4 119.1L856.0 127.3L849.4 142.7L846.0 149.3L842.7 153.5L839.3 156.0L836.0 157.6L816.0 165.9" fill="url(#gc32)"/>
<path d="M815.0 165.4L835.0 157.1L838.4 155.5L841.7 153.0L845.0 148.7L848.4 142.1L855.0 126.5L858.4 118.3L865.0 100.0L868.4 91.6L871.7 83.9L875.1 76.6L878.4 70.0L881.7 64.5L885.1 59.7L888.4 55.2L891.7 51.4L895.1 48.8L901.7 45.2L905.1 43.6L908.4 42.3L918.4 38.7L921.7 37.7L924.3 44.0L917.7 46.0L911.0 48.2L907.7 49.4L897.7 54.1L894.3 56.4L891.0 59.8L887.7 63.9L884.3 68.4L881.0 73.5L877.6 79.8L874.3 86.9L871.0 94.3L867.6 102.5L861.0 120.5L857.6 128.6L851.0 143.8L847.6 150.2L844.3 154.4L841.0 156.9L837.6 158.5L817.6 166.8" fill="url(#gc33)"/>
<path d="M816.7 166.3L836.7 158.0L840.0 156.4L843.3 153.9L846.7 149.6L850.0 143.2L856.7 127.8L860.0 119.7L866.7 101.5L870.0 93.3L873.3 85.7L876.7 78.5L880.0 72.1L883.3 66.8L886.7 62.2L890.0 58.0L893.3 54.4L896.7 52.0L903.3 48.6L906.7 47.1L916.7 43.5L923.4 41.5L926.0 48.5L919.3 50.4L912.6 52.4L909.3 53.6L899.3 57.8L895.9 59.9L892.6 63.1L889.3 67.0L885.9 71.1L882.6 75.9L879.3 82.0L875.9 88.9L872.6 96.2L869.3 104.3L862.6 122.0L859.3 129.9L852.6 144.9L849.3 151.2L845.9 155.3L842.6 157.8L839.3 159.4L819.2 167.8" fill="url(#gc34)"/>
<path d="M818.3 167.2L838.3 158.9L841.6 157.3L845.0 154.8L848.3 150.6L851.6 144.2L858.3 129.1L861.6 121.1L868.3 103.2L871.6 95.1L875.0 87.7L878.3 80.6L881.6 74.4L885.0 69.4L888.3 65.1L891.6 61.1L895.0 57.8L898.3 55.5L905.0 52.5L908.3 51.1L918.3 47.7L925.0 45.8L927.6 53.3L914.2 57.0L910.9 58.1L900.9 61.9L897.6 63.8L894.2 66.7L890.9 70.2L887.6 74.0L884.2 78.6L880.9 84.3L877.6 91.1L874.2 98.2L870.9 106.1L864.2 123.5L860.9 131.3L854.2 146.0L850.9 152.2L847.5 156.2L844.2 158.7L840.9 160.4L820.9 168.7" fill="url(#gc35)"/>
<path d="M819.9 168.1L839.9 159.8L843.2 158.2L846.6 155.7L849.9 151.6L853.2 145.3L859.9 130.5L863.2 122.6L869.9 105.0L873.2 97.0L876.6 89.8L879.9 82.9L883.3 77.0L886.6 72.2L889.9 68.2L893.3 64.5L896.6 61.4L899.9 59.4L909.9 55.4L919.9 52.2L926.6 50.4L929.2 58.4L915.9 61.8L912.5 62.8L905.9 65.1L902.5 66.2L899.2 67.8L895.8 70.5L892.5 73.6L889.2 77.1L885.8 81.3L882.5 86.8L879.2 93.4L875.8 100.3L872.5 108.0L865.8 125.1L862.5 132.8L855.8 147.1L852.5 153.1L849.2 157.2L845.8 159.6L842.5 161.3L822.5 169.6" fill="url(#gc36)"/>
<path d="M821.5 169.0L841.5 160.7L844.9 159.1L848.2 156.6L851.5 152.6L854.9 146.4L861.5 131.9L864.9 124.2L871.5 106.9L874.9 99.1L878.2 92.0L881.5 85.3L884.9 79.7L888.2 75.2L891.5 71.5L894.9 68.2L898.2 65.3L901.5 63.6L911.5 59.9L921.6 57.0L928.2 55.3L930.8 63.6L917.5 66.8L914.1 67.7L907.5 69.8L904.1 70.6L900.8 72.0L897.5 74.4L894.1 77.2L890.8 80.3L887.5 84.2L884.1 89.4L880.8 95.7L877.5 102.5L874.1 110.0L867.5 126.8L864.1 134.3L857.5 148.2L854.1 154.1L850.8 158.1L847.5 160.5L844.1 162.2L824.1 170.5" fill="url(#gc37)"/>
<path d="M823.1 169.9L843.1 161.6L846.5 160.0L849.8 157.5L853.2 153.5L856.5 147.5L863.2 133.4L866.5 125.8L873.2 108.8L876.5 101.2L879.8 94.3L883.2 87.9L886.5 82.5L889.8 78.4L893.2 75.0L896.5 72.0L899.8 69.5L903.2 67.9L913.2 64.7L926.5 61.2L929.8 60.5L932.4 68.9L919.1 71.9L915.8 72.7L909.1 74.6L905.8 75.3L902.4 76.4L899.1 78.5L895.8 80.9L892.4 83.7L889.1 87.2L885.8 92.1L882.4 98.2L879.1 104.8L875.8 112.1L869.1 128.5L865.7 135.8L859.1 149.3L855.7 155.1L852.4 159.0L849.1 161.4L845.7 163.1L825.7 171.4" fill="url(#gc38)"/>
<path d="M824.8 170.8L844.8 162.5L848.1 160.9L851.4 158.4L854.8 154.5L858.1 148.7L864.8 134.9L868.1 127.5L874.8 110.8L878.1 103.4L881.4 96.7L884.8 90.5L888.1 85.4L891.5 81.6L894.8 78.7L898.1 76.0L901.5 73.8L904.8 72.5L908.1 71.7L914.8 69.7L928.1 66.4L931.5 65.7L934.1 74.2L917.4 77.8L910.7 79.4L907.4 79.9L904.0 80.8L900.7 82.6L897.4 84.7L894.0 87.1L890.7 90.2L887.4 94.8L884.0 100.7L880.7 107.1L877.4 114.2L870.7 130.3L867.4 137.4L860.7 150.5L857.4 156.1L854.0 159.9L850.7 162.3L847.4 164.0L827.4 172.3" fill="url(#gc39)"/>
<path d="M826.4 171.7L846.4 163.4L849.7 161.8L853.1 159.4L856.4 155.5L859.7 149.8L866.4 136.4L869.7 129.2L876.4 112.9L879.7 105.7L883.1 99.2L886.4 93.2L889.7 88.4L893.1 85.0L896.4 82.4L899.7 80.1L903.1 78.2L906.4 77.1L909.7 76.5L919.7 73.9L933.1 71.0L935.7 79.4L919.0 82.8L915.7 83.7L912.3 84.3L909.0 84.6L905.7 85.3L902.3 86.8L899.0 88.5L895.7 90.5L892.3 93.3L889.0 97.6L885.7 103.2L882.3 109.4L879.0 116.3L872.3 132.0L869.0 139.0L862.3 151.7L859.0 157.1L855.7 160.8L852.3 163.2L849.0 164.9L829.0 173.2" fill="url(#gc40)"/>
<path d="M828.0 172.6L848.0 164.3L851.3 162.7L854.7 160.3L858.0 156.5L861.3 151.0L868.0 138.0L871.4 131.0L878.0 115.0L881.4 108.0L884.7 101.7L888.0 95.9L891.4 91.5L894.7 88.4L898.0 86.2L901.4 84.3L904.7 82.6L908.0 81.8L911.4 81.4L914.7 80.7L921.4 79.1L934.7 76.3L937.3 84.6L920.6 87.8L917.3 88.6L914.0 89.1L910.6 89.3L907.3 89.7L904.0 90.9L900.6 92.3L897.3 93.9L894.0 96.4L890.6 100.4L887.3 105.8L883.9 111.8L880.6 118.5L873.9 133.8L870.6 140.6L863.9 152.8L860.6 158.1L857.3 161.8L853.9 164.1L850.6 165.8L830.6 174.1" fill="url(#gc41)"/>
<path d="M829.6 173.6L849.6 165.2L853.0 163.6L856.3 161.2L859.6 157.5L863.0 152.1L869.6 139.6L873.0 132.7L879.6 117.2L883.0 110.3L886.3 104.3L889.6 98.7L893.0 94.6L896.3 91.9L899.6 90.0L903.0 88.4L906.3 87.1L909.7 86.5L913.0 86.2L916.3 85.6L936.3 81.5L938.9 89.5L918.9 93.4L915.6 93.9L912.2 93.9L908.9 94.1L905.6 95.0L902.2 96.1L898.9 97.4L895.6 99.5L892.2 103.2L888.9 108.4L885.6 114.1L882.2 120.7L875.6 135.6L872.2 142.2L865.6 154.0L862.2 159.1L858.9 162.7L855.6 165.0L852.2 166.7L832.2 175.0" fill="url(#gc42)"/>
<path d="M831.2 174.5L851.3 166.2L854.6 164.5L857.9 162.1L861.3 158.5L864.6 153.3L871.3 141.2L874.6 134.5L881.3 119.4L884.6 112.7L887.9 106.8L891.3 101.5L894.6 97.7L897.9 95.3L901.3 93.8L904.6 92.6L907.9 91.5L911.3 91.1L914.6 91.0L917.9 90.5L937.9 86.6L940.5 94.2L920.5 98.1L917.2 98.5L913.9 98.4L910.5 98.4L903.9 99.8L900.5 100.7L897.2 102.6L893.9 105.9L890.5 110.9L887.2 116.5L883.9 122.8L877.2 137.4L873.9 143.8L867.2 155.2L863.9 160.1L860.5 163.6L857.2 166.0L853.8 167.6L833.8 175.9" fill="url(#gc43)"/>
<path d="M832.9 175.4L852.9 167.1L856.2 165.4L859.5 163.0L862.9 159.5L866.2 154.5L872.9 142.8L876.2 136.3L882.9 121.5L886.2 115.1L889.6 109.4L892.9 104.3L896.2 100.7L899.6 98.7L902.9 97.6L909.6 95.9L912.9 95.7L916.2 95.7L919.6 95.3L939.6 91.4L942.2 98.7L922.2 102.6L918.8 103.0L912.2 102.6L905.5 103.4L902.2 104.1L898.8 105.6L895.5 108.7L892.1 113.4L888.8 118.8L885.5 125.0L878.8 139.2L875.5 145.4L868.8 156.4L865.5 161.1L862.1 164.5L858.8 166.9L855.5 168.5L835.5 176.8" fill="url(#gc44)"/>
<path d="M834.5 176.3L854.5 168.0L857.8 166.3L861.2 164.0L864.5 160.5L867.8 155.7L874.5 144.4L877.8 138.1L884.5 123.7L887.8 117.4L891.2 111.9L894.5 107.0L897.8 103.8L901.2 102.1L904.5 101.3L911.2 100.1L914.5 100.1L917.9 100.3L921.2 100.0L941.2 96.0L943.8 102.9L933.8 105.1L923.8 106.9L920.4 107.2L913.8 106.6L907.1 107.0L903.8 107.3L900.4 108.5L897.1 111.3L893.8 115.9L890.4 121.1L887.1 127.1L880.4 141.0L877.1 147.0L870.4 157.6L867.1 162.1L863.8 165.4L860.4 167.8L857.1 169.4L837.1 177.7" fill="url(#gc45)"/>
<path d="M836.1 177.2L856.1 168.9L859.5 167.2L862.8 164.9L866.1 161.5L869.5 156.9L876.1 146.1L879.5 139.9L886.1 125.8L889.5 119.7L892.8 114.4L896.1 109.7L899.5 106.7L902.8 105.4L906.1 104.9L912.8 104.2L919.5 104.7L922.8 104.4L939.5 101.1L942.8 100.4L945.4 106.8L935.4 109.1L925.4 111.0L922.1 111.3L915.4 110.4L912.1 110.5L908.7 110.3L905.4 110.4L902.1 111.3L898.7 113.9L895.4 118.3L892.1 123.4L888.7 129.2L882.1 142.8L878.7 148.6L872.1 158.7L868.7 163.1L865.4 166.4L862.0 168.7L858.7 170.3L838.7 178.6" fill="url(#gc46)"/>
<path d="M837.7 178.1L857.7 169.8L861.1 168.1L864.4 165.8L867.7 162.5L871.1 158.0L877.7 147.7L881.1 141.7L887.7 128.0L891.1 122.0L894.4 116.9L897.8 112.4L901.1 109.6L904.4 108.5L907.8 108.3L914.4 108.1L921.1 108.9L924.4 108.6L937.8 106.0L944.4 104.5L947.0 110.4L937.0 112.9L927.0 114.9L923.7 115.1L917.0 114.1L913.7 113.9L910.4 113.6L907.0 113.4L903.7 114.1L900.3 116.4L897.0 120.7L893.7 125.6L890.3 131.3L883.7 144.5L880.3 150.2L873.7 159.9L870.3 164.1L867.0 167.3L863.7 169.6L860.3 171.2L840.3 179.5" fill="url(#gc47)"/>
<path d="M839.4 179.0L859.4 170.7L862.7 169.0L866.0 166.7L869.4 163.5L872.7 159.2L879.4 149.3L882.7 143.5L889.4 130.0L892.7 124.3L896.0 119.3L899.4 114.9L902.7 112.4L906.0 111.6L909.4 111.7L912.7 111.9L916.0 111.9L922.7 112.8L926.0 112.6L939.4 109.9L946.1 108.3L948.6 113.7L942.0 115.5L928.6 118.5L925.3 118.7L918.6 117.5L915.3 117.2L908.6 116.3L905.3 116.7L902.0 118.9L898.6 122.9L895.3 127.7L892.0 133.3L885.3 146.2L882.0 151.8L875.3 161.1L872.0 165.1L868.6 168.2L865.3 170.5L862.0 172.1L841.9 180.5" fill="url(#gc48)"/>
<path d="M841.0 179.9L861.0 171.6L864.3 169.9L867.7 167.6L871.0 164.5L874.3 160.4L881.0 150.8L884.3 145.2L891.0 132.1L894.3 126.5L897.7 121.6L901.0 117.4L904.3 115.1L907.7 114.6L914.3 115.3L917.7 115.5L924.3 116.6L927.7 116.3L937.7 114.3L947.7 111.8L950.3 116.8L943.6 118.7L933.6 121.1L930.3 121.8L926.9 122.0L923.6 121.5L920.3 120.8L916.9 120.4L910.3 119.0L906.9 119.2L903.6 121.2L900.3 125.1L896.9 129.8L893.6 135.2L886.9 147.9L883.6 153.3L876.9 162.3L873.6 166.1L870.2 169.1L866.9 171.4L863.6 173.1L843.6 181.4" fill="url(#gc49)"/>
<path d="M842.6 180.8L862.6 172.5L865.9 170.8L869.3 168.6L872.6 165.5L875.9 161.6L882.6 152.4L885.9 146.9L892.6 134.0L895.9 128.6L899.3 123.8L902.6 119.8L906.0 117.7L909.3 117.4L916.0 118.5L919.3 118.8L922.6 119.5L926.0 120.1L929.3 119.8L939.3 117.7L946.0 116.0L949.3 115.0L951.9 119.6L945.2 121.6L935.2 124.2L931.9 124.9L928.6 125.1L925.2 124.6L921.9 123.8L918.5 123.3L911.9 121.6L908.5 121.7L905.2 123.5L901.9 127.3L898.5 131.8L895.2 137.1L888.5 149.6L885.2 154.8L881.9 159.2L878.5 163.4L875.2 167.1L871.9 170.0L868.5 172.3L865.2 174.0L845.2 182.3" fill="url(#gc50)"/>
<path d="M844.2 181.7L864.2 173.4L867.6 171.7L870.9 169.5L874.2 166.5L877.6 162.7L884.2 153.9L887.6 148.6L894.2 136.0L897.6 130.6L900.9 126.0L904.2 122.1L907.6 120.2L910.9 120.0L917.6 121.6L920.9 122.0L924.2 122.7L927.6 123.3L930.9 123.1L940.9 120.8L947.6 119.0L950.9 117.9L953.5 122.1L946.8 124.3L940.2 126.1L933.5 127.8L930.2 128.0L926.8 127.4L923.5 126.6L920.2 126.0L913.5 124.0L910.2 123.9L906.8 125.6L903.5 129.3L900.2 133.8L896.8 138.9L890.2 151.2L886.8 156.3L883.5 160.5L880.2 164.6L876.8 168.1L873.5 171.0L870.2 173.2L866.8 174.9L846.8 183.2" fill="url(#gc51)"/>
<path d="M845.8 182.6L865.8 174.3L869.2 172.6L872.5 170.4L875.9 167.5L879.2 163.9L882.5 159.8L885.9 155.4L889.2 150.2L895.9 137.8L899.2 132.6L902.5 128.1L905.9 124.3L909.2 122.6L912.5 122.6L919.2 124.4L922.5 125.0L925.9 125.7L929.2 126.3L932.5 126.1L942.5 123.6L949.2 121.7L952.5 120.6L955.1 124.4L948.5 126.7L941.8 128.7L935.1 130.4L931.8 130.7L928.5 130.1L925.1 129.3L921.8 128.6L915.1 126.4L911.8 126.1L908.5 127.6L905.1 131.3L901.8 135.6L898.5 140.7L891.8 152.8L888.4 157.8L885.1 161.9L881.8 165.7L878.4 169.1L875.1 171.9L871.8 174.1L868.4 175.8L848.4 184.1" fill="url(#gc52)"/>
<path d="M847.5 183.5L867.5 175.2L870.8 173.5L874.1 171.3L877.5 168.5L880.8 165.0L884.1 161.1L887.5 156.9L890.8 151.8L897.5 139.7L900.8 134.5L904.1 130.1L907.5 126.4L910.8 124.8L914.2 125.0L920.8 127.1L924.2 127.7L927.5 128.5L930.8 129.1L934.2 128.9L944.2 126.3L950.8 124.2L954.2 123.0L956.8 126.5L950.1 128.9L943.4 131.0L936.8 132.8L933.4 133.1L930.1 132.6L926.7 131.7L923.4 131.0L916.7 128.5L913.4 128.2L910.1 129.6L906.7 133.1L903.4 137.4L900.1 142.4L893.4 154.3L890.1 159.2L886.7 163.1L883.4 166.8L880.1 170.1L876.7 172.8L873.4 175.0L870.1 176.7L850.1 185.0" fill="url(#gc53)"/>
<path d="M849.1 184.4L869.1 176.1L872.4 174.5L875.8 172.2L879.1 169.5L882.4 166.1L885.8 162.4L889.1 158.3L892.4 153.4L899.1 141.4L902.4 136.4L905.8 132.0L909.1 128.4L912.4 127.0L915.8 127.2L922.4 129.6L925.8 130.3L929.1 131.1L932.4 131.7L935.8 131.4L945.8 128.6L952.4 126.5L955.8 125.3L958.4 128.4L951.7 130.9L945.0 133.1L938.4 135.0L935.0 135.4L931.7 134.8L928.4 134.0L925.0 133.2L918.4 130.6L915.0 130.1L911.7 131.4L908.4 134.9L905.0 139.1L901.7 144.1L895.0 155.8L891.7 160.6L888.4 164.4L885.0 167.9L881.7 171.1L878.4 173.7L875.0 175.9L871.7 177.6L851.7 185.9" fill="url(#gc54)"/>
<path d="M850.7 185.3L870.7 177.0L874.0 175.4L877.4 173.2L880.7 170.5L884.0 167.3L887.4 163.6L890.7 159.7L894.1 154.9L900.7 143.1L904.1 138.1L907.4 133.8L910.7 130.3L914.1 129.0L917.4 129.4L924.1 131.9L927.4 132.6L930.7 133.5L934.1 134.1L937.4 133.7L944.1 131.8L950.7 129.7L957.4 127.3L960.0 130.1L953.3 132.7L946.7 135.0L940.0 137.1L936.7 137.5L933.3 136.9L926.7 135.3L920.0 132.5L916.7 132.0L913.3 133.2L910.0 136.6L906.6 140.8L903.3 145.6L896.6 157.2L893.3 161.9L890.0 165.6L886.6 169.0L883.3 172.1L880.0 174.6L876.6 176.8L873.3 178.5L853.3 186.8" fill="url(#gc55)"/>
<path d="M762.5 136.0L762.5 44.2M762.5 136.0L853.3 186.8M853.3 186.8L960.0 142.5M762.5 136.0L759.0 134.0M762.5 90.1L759.0 88.1M762.5 44.2L759.0 42.2M762.5 136.0L758.8 137.5M807.9 161.4L804.2 162.9M853.3 186.8L849.6 188.3M853.3 186.8L856.8 188.8M917.6 160.1L921.1 162.0" stroke="#484848" stroke-width="0.85" fill="none"/></g>
<g id="pd"><path d="M87.3 368.9L183.4 419.5M87.3 368.9L87.3 286.4M147.4 340.2L243.5 390.8M147.4 340.2L147.4 257.7M87.3 368.9L187.9 320.9M187.9 320.9L187.9 238.4M135.3 394.2L235.9 346.2M235.9 346.2L235.9 263.7M183.4 419.5L284.0 371.5M284.0 371.5L284.0 289.0M87.3 368.9L187.9 320.9M187.9 320.9L284.0 371.5M87.3 327.6L187.9 279.6M187.9 279.6L284.0 330.2M87.3 286.4L187.9 238.4M187.9 238.4L284.0 289.0M187.9 320.9L187.9 238.4M284.0 371.5L284.0 289.0M87.3 286.4L187.9 238.4M187.9 238.4L284.0 289.0M87.3 368.9L187.9 320.9M187.9 320.9L284.0 371.5" stroke="#e8e8e8" stroke-width="1" fill="none"/>
<path d="M87.3 286.4L137.6 262.4L140.7 261.5L143.9 262.3L147.0 264.3L150.2 267.0L153.3 270.3L159.6 277.3L162.8 280.3L165.9 282.8L169.0 284.4L172.2 285.1L175.3 284.7L187.9 278.8L189.6 282.0L180.2 286.5L177.0 287.9L173.9 288.3L170.8 287.6L167.6 285.8L164.5 283.3L161.3 280.0L151.9 269.1L148.7 266.1L145.6 263.8L142.5 262.7L139.3 263.3L89.0 287.3" fill="url(#gd0)"/>
<path d="M88.0 286.8L138.3 262.8L141.4 262.0L144.6 262.9L147.7 265.0L150.9 267.9L154.0 271.3L160.3 278.4L163.4 281.5L166.6 284.0L169.7 285.7L172.9 286.4L176.0 286.0L188.6 280.1L191.3 285.2L181.9 289.7L178.8 291.1L175.6 291.5L172.5 290.7L169.3 288.9L166.2 286.2L163.0 282.8L153.6 271.3L150.5 267.9L147.3 265.4L144.2 264.0L141.0 264.2L90.7 288.2" fill="url(#gd1)"/>
<path d="M89.7 287.7L140.0 263.7L143.1 263.2L146.3 264.4L149.4 266.8L152.6 270.0L162.0 281.1L165.2 284.4L168.3 287.1L171.4 288.8L174.6 289.6L177.7 289.2L190.3 283.3L193.0 288.3L180.5 294.2L177.3 294.7L174.2 293.9L171.0 292.0L167.9 289.2L164.8 285.6L155.3 273.4L152.2 269.8L149.0 267.0L145.9 265.3L142.7 265.1L92.4 289.1" fill="url(#gd2)"/>
<path d="M91.4 288.6L141.7 264.6L144.9 264.5L148.0 266.0L151.1 268.7L154.3 272.1L163.7 283.9L166.9 287.4L170.0 290.1L173.2 292.0L176.3 292.8L179.4 292.3L192.0 286.4L194.8 291.4L182.2 297.4L179.0 297.8L175.9 297.0L172.8 295.1L169.6 292.1L166.5 288.5L163.3 284.3L157.0 275.7L153.9 271.8L150.8 268.7L147.6 266.7L144.5 266.2L141.3 267.5L94.2 290.0" fill="url(#gd3)"/>
<path d="M93.1 289.5L140.3 267.0L143.4 265.6L146.6 265.8L149.7 267.7L152.9 270.6L156.0 274.3L165.4 286.8L168.6 290.4L171.7 293.2L174.9 295.1L178.0 295.9L181.2 295.5L193.7 289.6L196.5 294.5L183.9 300.5L180.8 300.9L177.6 300.1L174.5 298.1L171.3 295.1L168.2 291.3L165.0 287.0L158.8 277.9L155.6 273.8L152.5 270.5L149.3 268.1L146.2 267.3L143.0 268.4L95.9 290.9" fill="url(#gd4)"/>
<path d="M94.9 290.4L142.0 267.9L145.2 266.6L148.3 267.3L151.4 269.4L154.6 272.6L157.7 276.6L164.0 285.4L167.2 289.6L170.3 293.3L173.4 296.3L176.6 298.2L179.7 299.1L182.9 298.6L195.5 292.7L198.2 297.6L185.6 303.6L182.5 304.0L179.3 303.2L176.2 301.2L173.0 298.1L169.9 294.2L166.8 289.7L160.5 280.3L157.3 275.9L154.2 272.3L151.0 269.6L147.9 268.4L144.8 269.3L97.6 291.8" fill="url(#gd5)"/>
<path d="M96.6 291.3L143.7 268.8L146.9 267.7L150.0 268.7L153.2 271.2L156.3 274.7L159.4 278.9L165.7 288.1L168.9 292.5L172.0 296.3L175.2 299.3L178.3 301.3L181.4 302.2L184.6 301.7L197.2 295.8L199.9 300.6L187.3 306.6L184.2 307.1L181.1 306.2L177.9 304.2L174.8 301.0L171.6 297.0L168.5 292.4L162.2 282.6L159.0 278.0L155.9 274.1L152.8 271.2L149.6 269.7L146.5 270.2L99.3 292.7" fill="url(#gd6)"/>
<path d="M98.3 292.2L145.4 269.7L148.6 268.9L151.7 270.2L154.9 273.0L158.0 276.7L161.2 281.2L167.4 290.8L170.6 295.3L173.7 299.3L176.9 302.4L180.0 304.4L183.2 305.3L186.3 304.8L198.9 298.8L201.6 303.6L189.1 309.6L185.9 310.1L182.8 309.3L179.6 307.2L176.5 304.0L173.3 299.9L170.2 295.1L163.9 285.0L160.8 280.2L157.6 276.0L154.5 272.8L151.3 271.0L148.2 271.1L101.0 293.6" fill="url(#gd7)"/>
<path d="M100.0 293.1L147.2 270.6L150.3 270.2L153.4 271.8L156.6 274.9L159.7 278.9L162.9 283.5L169.2 293.5L172.3 298.2L175.4 302.2L178.6 305.4L181.7 307.5L184.9 308.3L188.0 307.8L200.6 301.8L203.3 306.5L190.8 312.5L187.6 313.1L184.5 312.2L181.3 310.1L178.2 306.9L175.1 302.7L171.9 297.8L165.6 287.4L162.5 282.3L159.3 277.9L156.2 274.5L153.0 272.3L149.9 272.1L102.7 294.5" fill="url(#gd8)"/>
<path d="M101.7 294.0L148.9 271.5L152.0 271.5L155.2 273.5L158.3 276.8L161.4 281.0L164.6 285.9L170.9 296.2L174.0 301.0L177.2 305.1L180.3 308.3L183.5 310.4L186.6 311.3L189.7 310.7L202.3 304.8L205.1 309.4L192.5 315.4L189.3 315.9L186.2 315.1L183.1 313.0L179.9 309.7L176.8 305.5L173.6 300.5L167.3 289.8L164.2 284.6L161.0 279.9L157.9 276.2L154.8 273.7L151.6 273.1L148.5 274.4L104.5 295.4" fill="url(#gd9)"/>
<path d="M103.4 294.9L150.6 272.4L153.7 272.9L156.9 275.1L160.0 278.7L163.2 283.2L166.3 288.3L172.6 298.9L175.7 303.8L178.9 308.0L182.0 311.3L185.2 313.4L188.3 314.2L191.5 313.6L204.0 307.7L206.8 312.2L194.2 318.2L191.1 318.8L187.9 318.0L184.8 315.8L181.6 312.5L178.5 308.2L175.3 303.2L165.9 286.8L162.8 281.9L159.6 277.9L156.5 275.2L153.3 274.2L150.2 275.3L106.2 296.3" fill="url(#gd10)"/>
<path d="M105.1 295.8L149.2 274.8L152.3 273.5L155.4 274.3L158.6 276.9L161.7 280.7L164.9 285.4L174.3 301.6L177.5 306.6L180.6 310.8L183.7 314.1L186.9 316.3L190.0 317.1L193.2 316.5L205.7 310.5L208.5 314.9L195.9 320.9L192.8 321.5L189.6 320.8L186.5 318.6L183.3 315.3L180.2 311.0L177.1 305.9L167.6 289.0L164.5 284.0L161.3 279.7L158.2 276.7L155.0 275.3L151.9 276.2L107.9 297.2" fill="url(#gd11)"/>
<path d="M106.9 296.7L150.9 275.7L154.0 274.6L157.2 275.8L160.3 278.7L163.5 282.7L166.6 287.7L176.0 304.3L179.2 309.3L182.3 313.6L185.5 317.0L188.6 319.1L191.7 319.9L194.9 319.2L207.5 313.3L210.2 317.5L197.6 323.5L194.5 324.2L191.3 323.5L188.2 321.3L185.1 318.0L181.9 313.6L178.8 308.5L169.3 291.3L166.2 286.0L163.1 281.6L159.9 278.3L156.8 276.6L153.6 277.1L109.6 298.1" fill="url(#gd12)"/>
<path d="M108.6 297.6L152.6 276.6L155.7 275.8L158.9 277.3L162.0 280.5L165.2 284.8L168.3 289.9L177.7 306.9L180.9 312.0L184.0 316.4L187.2 319.7L190.3 321.8L193.5 322.6L196.6 321.9L209.2 315.9L211.9 320.1L199.3 326.1L196.2 326.8L193.1 326.1L189.9 324.0L186.8 320.6L183.6 316.3L180.5 311.1L171.1 293.5L167.9 288.1L164.8 283.4L161.6 279.9L158.5 277.9L155.3 278.0L111.3 299.0" fill="url(#gd13)"/>
<path d="M110.3 298.5L154.3 277.5L157.5 277.1L160.6 278.9L163.7 282.3L166.9 286.9L170.0 292.2L179.5 309.5L182.6 314.7L185.7 319.1L188.9 322.4L192.0 324.5L195.2 325.3L198.3 324.5L210.9 318.5L213.6 322.5L201.1 328.5L197.9 329.3L194.8 328.6L191.6 326.6L188.5 323.2L185.3 318.8L182.2 313.6L179.1 307.8L172.8 295.8L169.6 290.2L166.5 285.3L163.3 281.6L160.2 279.2L157.1 279.0L113.0 300.0" fill="url(#gd14)"/>
<path d="M112.0 299.4L156.0 278.4L159.2 278.4L162.3 280.6L165.5 284.2L168.6 288.9L171.7 294.4L178.0 306.3L181.2 312.1L184.3 317.3L187.5 321.7L190.6 325.0L193.7 327.1L196.9 327.8L200.0 327.1L212.6 321.1L215.4 324.9L202.8 330.9L199.6 331.7L196.5 331.1L193.4 329.0L190.2 325.7L187.1 321.3L183.9 316.1L180.8 310.3L174.5 298.0L171.3 292.3L168.2 287.3L165.1 283.2L161.9 280.6L158.8 280.0L114.8 300.9" fill="url(#gd15)"/>
<path d="M113.7 300.3L157.7 279.3L160.9 279.8L164.0 282.2L167.2 286.1L170.3 291.0L173.5 296.7L179.7 308.8L182.9 314.6L186.0 319.8L189.2 324.2L192.3 327.6L195.5 329.6L198.6 330.3L201.8 329.5L214.3 323.5L217.1 327.2L204.5 333.2L201.4 334.0L198.2 333.4L195.1 331.4L191.9 328.1L188.8 323.8L185.6 318.5L182.5 312.6L176.2 300.3L173.1 294.4L169.9 289.2L166.8 285.0L163.6 282.1L160.5 281.0L157.3 282.3L116.5 301.8" fill="url(#gd16)"/>
<path d="M115.4 301.2L156.3 281.7L159.5 280.4L162.6 281.2L165.7 283.9L168.9 288.0L172.0 293.2L175.2 298.9L181.5 311.2L184.6 317.1L187.7 322.3L190.9 326.7L194.0 330.0L197.2 332.0L200.3 332.7L203.5 331.8L216.0 325.8L218.8 329.3L206.2 335.3L203.1 336.2L199.9 335.7L196.8 333.7L193.6 330.5L190.5 326.1L187.4 320.9L184.2 315.0L177.9 302.5L174.8 296.5L171.6 291.2L168.5 286.7L165.3 283.6L162.2 282.2L159.1 283.2L118.2 302.7" fill="url(#gd17)"/>
<path d="M117.2 302.1L158.0 282.6L161.2 281.5L164.3 282.7L167.5 285.7L170.6 290.0L173.7 295.3L176.9 301.2L183.2 313.6L186.3 319.5L189.5 324.7L192.6 329.1L195.8 332.4L198.9 334.3L202.0 334.9L205.2 334.0L217.8 328.0L220.5 331.4L207.9 337.4L204.8 338.3L201.6 337.8L198.5 335.9L195.4 332.7L192.2 328.4L189.1 323.2L185.9 317.3L179.6 304.7L176.5 298.6L173.3 293.1L170.2 288.5L167.1 285.1L163.9 283.4L160.8 284.1L119.9 303.6" fill="url(#gd18)"/>
<path d="M118.9 303.0L159.7 283.5L162.9 282.7L166.0 284.2L169.2 287.4L172.3 291.9L175.5 297.4L178.6 303.4L184.9 315.9L188.0 321.8L191.2 327.0L194.3 331.4L197.5 334.6L200.6 336.6L203.8 337.1L206.9 336.2L219.5 330.2L222.2 333.3L209.6 339.3L206.5 340.3L203.4 339.9L200.2 338.0L197.1 334.8L193.9 330.6L190.8 325.4L187.6 319.5L178.2 300.7L175.1 295.1L171.9 290.3L168.8 286.7L165.6 284.7L162.5 285.0L121.6 304.5" fill="url(#gd19)"/>
<path d="M120.6 303.9L161.5 284.4L164.6 283.9L167.7 285.8L170.9 289.2L174.0 293.9L177.2 299.5L186.6 318.2L189.8 324.0L192.9 329.3L196.0 333.6L199.2 336.8L202.3 338.7L205.5 339.1L208.6 338.2L221.2 332.2L223.9 335.0L211.4 341.1L208.2 342.1L205.1 341.8L201.9 340.0L198.8 336.9L195.6 332.7L192.5 327.5L189.4 321.7L179.9 302.8L176.8 297.0L173.6 292.1L170.5 288.3L167.3 286.0L164.2 285.9L123.3 305.4" fill="url(#gd20)"/>
<path d="M122.3 304.8L163.2 285.3L166.3 285.2L169.5 287.3L172.6 291.0L175.8 295.8L178.9 301.5L188.3 320.4L191.5 326.2L194.6 331.4L197.8 335.7L200.9 338.8L204.0 340.6L207.2 341.1L210.3 340.0L222.9 334.0L225.7 336.6L213.1 342.7L209.9 343.8L206.8 343.5L203.6 341.8L200.5 338.8L197.4 334.6L194.2 329.6L191.1 323.7L181.6 304.8L178.5 299.0L175.4 293.9L172.2 289.9L169.1 287.4L165.9 286.8L125.1 306.3" fill="url(#gd21)"/>
<path d="M124.0 305.7L164.9 286.2L168.0 286.6L171.2 289.0L174.3 292.8L177.5 297.8L180.6 303.6L190.0 322.5L193.2 328.3L196.3 333.5L199.5 337.7L202.6 340.7L205.8 342.5L208.9 342.8L212.0 341.7L224.6 335.7L227.4 338.1L214.8 344.2L211.7 345.4L208.5 345.2L205.4 343.5L202.2 340.6L199.1 336.5L195.9 331.5L192.8 325.7L183.4 306.8L180.2 300.9L177.1 295.7L173.9 291.6L170.8 288.8L167.6 287.9L164.5 289.2L126.8 307.2" fill="url(#gd22)"/>
<path d="M125.7 306.6L163.5 288.6L166.6 287.3L169.8 288.0L172.9 290.6L176.0 294.6L179.2 299.7L182.3 305.6L191.8 324.5L194.9 330.3L198.0 335.4L201.2 339.5L204.3 342.5L207.5 344.2L210.6 344.5L213.8 343.3L226.3 337.2L229.1 339.4L216.5 345.6L213.4 346.8L210.2 346.7L207.1 345.1L203.9 342.3L200.8 338.3L197.6 333.4L194.5 327.7L185.1 308.8L181.9 302.8L178.8 297.5L175.6 293.2L172.5 290.3L169.4 289.0L166.2 290.1L128.5 308.1" fill="url(#gd23)"/>
<path d="M127.5 307.5L165.2 289.5L168.3 288.3L171.5 289.4L174.6 292.2L177.8 296.5L180.9 301.7L184.0 307.6L193.5 326.5L196.6 332.3L199.8 337.3L202.9 341.3L206.0 344.2L209.2 345.8L212.3 346.0L215.5 344.8L228.1 338.6L230.8 340.6L218.2 346.9L215.1 348.1L211.9 348.1L208.8 346.6L205.7 343.9L202.5 340.0L199.4 335.1L196.2 329.5L186.8 310.7L183.6 304.7L180.5 299.3L177.4 294.9L174.2 291.7L171.1 290.2L167.9 291.0L130.2 309.0" fill="url(#gd24)"/>
<path d="M129.2 308.4L166.9 290.4L170.0 289.5L173.2 290.9L176.3 293.9L179.5 298.3L182.6 303.6L185.8 309.5L195.2 328.4L198.3 334.1L201.5 339.0L204.6 342.9L207.8 345.7L210.9 347.2L214.1 347.4L217.2 346.1L229.8 339.9L232.5 341.7L219.9 348.0L216.8 349.3L213.7 349.3L210.5 348.0L207.4 345.3L204.2 341.6L201.1 336.8L197.9 331.3L188.5 312.6L185.4 306.6L182.2 301.1L179.1 296.6L175.9 293.3L172.8 291.5L169.6 291.9L131.9 309.9" fill="url(#gd25)"/>
<path d="M130.9 309.4L168.6 291.4L171.8 290.7L174.9 292.3L178.0 295.6L181.2 300.1L184.3 305.4L187.5 311.4L193.8 324.1L196.9 330.2L200.1 335.8L203.2 340.6L206.3 344.5L209.5 347.2L212.6 348.6L215.8 348.6L218.9 347.3L231.5 341.1L234.2 342.6L221.7 349.0L218.5 350.4L215.4 350.4L212.2 349.2L209.1 346.7L205.9 343.0L202.8 338.4L199.7 332.9L196.5 326.9L190.2 314.4L187.1 308.4L183.9 302.9L180.8 298.3L177.6 294.8L174.5 292.7L171.4 292.8L133.6 310.8" fill="url(#gd26)"/>
<path d="M132.6 310.3L170.3 292.3L173.5 292.0L176.6 293.9L179.8 297.3L182.9 301.9L186.0 307.3L189.2 313.3L195.5 325.9L198.6 331.9L201.8 337.5L204.9 342.2L208.1 345.9L211.2 348.5L214.3 349.8L217.5 349.7L220.6 348.4L233.2 342.1L235.9 343.4L223.4 349.9L220.2 351.3L217.1 351.4L213.9 350.3L210.8 347.9L207.7 344.3L204.5 339.8L201.4 334.5L198.2 328.6L191.9 316.2L188.8 310.2L185.6 304.7L182.5 300.0L179.4 296.3L176.2 294.1L173.1 293.7L135.3 311.7" fill="url(#gd27)"/>
<path d="M134.3 311.2L172.0 293.2L175.2 293.3L178.3 295.4L181.5 298.9L184.6 303.6L187.8 309.1L197.2 327.6L200.3 333.6L203.5 339.0L206.6 343.6L209.8 347.2L212.9 349.6L216.1 350.9L219.2 350.7L222.3 349.4L234.9 343.0L237.7 344.2L225.1 350.7L221.9 352.1L218.8 352.4L215.7 351.3L212.5 349.0L209.4 345.6L206.2 341.2L203.1 336.0L199.9 330.2L190.5 311.9L187.4 306.4L184.2 301.6L181.1 297.9L177.9 295.4L174.8 294.8L171.6 296.1L137.1 312.6" fill="url(#gd28)"/>
<path d="M136.0 312.1L173.8 294.1L176.9 294.6L180.0 296.9L183.2 300.6L186.3 305.4L189.5 310.9L198.9 329.2L202.1 335.1L205.2 340.4L208.3 344.9L211.5 348.3L214.6 350.7L217.8 351.8L220.9 351.6L224.1 350.2L236.6 343.7L239.4 344.9L226.8 351.5L223.7 353.0L220.5 353.3L217.4 352.3L214.2 350.2L211.1 346.9L207.9 342.6L204.8 337.5L201.7 331.8L192.2 313.7L189.1 308.1L185.9 303.3L182.8 299.4L179.7 296.8L176.5 295.8L173.4 297.0L138.8 313.5" fill="url(#gd29)"/>
<path d="M137.8 313.0L172.3 296.5L175.5 295.2L178.6 296.0L181.8 298.5L184.9 302.3L188.1 307.1L191.2 312.6L200.6 330.8L203.8 336.6L206.9 341.8L210.1 346.1L213.2 349.5L216.3 351.7L219.5 352.7L222.6 352.5L225.8 351.0L238.4 344.5L241.1 345.6L228.5 352.3L225.4 353.8L222.2 354.2L219.1 353.4L215.9 351.3L212.8 348.1L209.7 344.0L206.5 339.0L203.4 333.4L193.9 315.4L190.8 309.9L187.7 305.0L184.5 301.0L181.4 298.2L178.2 297.0L175.1 297.9L140.5 314.4" fill="url(#gd30)"/>
<path d="M139.5 313.9L174.0 297.4L177.2 296.3L180.3 297.4L183.5 300.1L186.6 304.0L189.8 308.8L192.9 314.4L202.3 332.4L205.5 338.1L208.6 343.2L211.8 347.4L214.9 350.6L218.1 352.8L221.2 353.7L224.3 353.3L227.5 351.8L240.1 345.2L242.8 346.4L230.2 353.1L227.1 354.7L224.0 355.1L220.8 354.4L217.7 352.4L214.5 349.4L211.4 345.4L208.2 340.4L205.1 334.9L195.7 317.1L192.5 311.6L189.4 306.7L186.2 302.6L183.1 299.7L179.9 298.2L176.8 298.8L142.2 315.3" fill="url(#gd31)"/>
<path d="M141.2 314.8L175.8 298.3L178.9 297.5L182.1 298.8L185.2 301.6L188.3 305.7L191.5 310.6L194.6 316.1L204.1 334.0L207.2 339.5L210.3 344.5L213.5 348.6L216.6 351.7L219.8 353.8L222.9 354.6L226.1 354.1L241.8 345.9L244.5 347.1L232.0 353.9L228.8 355.5L225.7 356.1L222.5 355.4L219.4 353.5L216.2 350.6L213.1 346.7L209.9 341.9L206.8 336.5L197.4 318.9L194.2 313.3L191.1 308.4L187.9 304.2L184.8 301.1L181.7 299.4L178.5 299.7L143.9 316.2" fill="url(#gd32)"/>
<path d="M142.9 315.7L177.5 299.2L180.6 298.7L183.8 300.2L186.9 303.2L190.1 307.3L193.2 312.3L196.3 317.8L205.8 335.5L208.9 341.0L212.1 345.9L215.2 349.9L218.4 352.9L221.5 354.8L224.6 355.5L227.8 355.0L243.5 346.7L246.2 347.8L230.5 356.3L227.4 357.0L224.2 356.4L221.1 354.6L218.0 351.8L214.8 348.0L211.7 343.3L208.5 338.0L199.1 320.6L195.9 315.0L192.8 310.0L189.7 305.8L186.5 302.6L183.4 300.7L180.2 300.6L145.6 317.1" fill="url(#gd33)"/>
<path d="M144.6 316.6L179.2 300.1L182.3 300.0L185.5 301.7L188.6 304.8L191.8 309.0L194.9 314.0L198.1 319.6L207.5 337.1L210.6 342.5L213.8 347.2L216.9 351.1L220.1 354.0L223.2 355.8L226.4 356.4L229.5 355.8L245.2 347.4L248.0 348.5L232.2 357.1L229.1 357.9L226.0 357.4L222.8 355.7L219.7 353.0L216.5 349.4L213.4 344.7L210.2 339.5L200.8 322.3L197.7 316.8L194.5 311.7L191.4 307.4L188.2 304.1L185.1 302.0L181.9 301.6L147.4 318.0" fill="url(#gd34)"/>
<path d="M146.3 317.5L180.9 301.0L184.1 301.2L187.2 303.2L190.3 306.5L193.5 310.7L196.6 315.7L199.8 321.3L209.2 338.6L212.4 343.9L215.5 348.6L218.6 352.3L221.8 355.1L224.9 356.8L228.1 357.3L231.2 356.6L246.9 348.1L249.7 349.3L234.0 358.0L230.8 358.8L227.7 358.4L224.5 356.8L221.4 354.2L218.2 350.7L215.1 346.2L212.0 341.0L202.5 324.0L199.4 318.5L196.2 313.4L193.1 309.1L189.9 305.6L186.8 303.4L183.7 302.7L180.5 303.9L149.1 318.9" fill="url(#gd35)"/>
<path d="M148.0 318.4L179.5 303.4L182.6 302.0L185.8 302.6L188.9 304.7L192.1 308.1L195.2 312.4L198.3 317.5L201.5 323.0L207.8 334.5L210.9 340.1L214.1 345.3L217.2 349.9L220.4 353.5L223.5 356.2L226.6 357.8L229.8 358.2L232.9 357.5L248.6 348.8L251.4 350.0L235.7 358.8L232.5 359.7L229.4 359.3L226.2 357.9L223.1 355.4L220.0 352.0L216.8 347.6L213.7 342.5L201.1 320.2L198.0 315.1L194.8 310.7L191.7 307.1L188.5 304.7L185.4 303.8L182.2 304.8L150.8 319.8" fill="url(#gd36)"/>
<path d="M149.8 319.3L181.2 304.3L184.3 303.1L187.5 303.9L190.6 306.2L193.8 309.7L196.9 314.1L200.1 319.2L212.6 341.6L215.8 346.7L218.9 351.2L222.1 354.7L225.2 357.3L228.4 358.8L231.5 359.1L234.6 358.3L250.4 349.5L253.1 350.7L237.4 359.6L234.2 360.5L231.1 360.3L228.0 359.0L224.8 356.6L221.7 353.3L218.5 349.0L215.4 344.0L202.8 321.9L199.7 316.8L196.5 312.3L193.4 308.7L190.2 306.1L187.1 305.0L183.9 305.7L152.5 320.7" fill="url(#gd37)"/>
<path d="M151.5 320.2L182.9 305.2L186.1 304.3L189.2 305.3L192.3 307.8L195.5 311.3L198.6 315.8L201.8 320.9L211.2 337.7L214.4 343.1L217.5 348.1L220.6 352.5L223.8 355.9L226.9 358.3L230.1 359.7L233.2 360.0L236.4 359.1L252.1 350.3L254.8 351.4L239.1 360.4L236.0 361.4L232.8 361.3L229.7 360.1L226.5 357.8L223.4 354.6L220.2 350.3L217.1 345.5L214.0 340.2L204.5 323.6L201.4 318.5L198.2 314.0L195.1 310.2L192.0 307.5L188.8 306.2L185.7 306.6L154.2 321.6" fill="url(#gd38)"/>
<path d="M153.2 321.1L184.6 306.1L187.8 305.4L190.9 306.7L194.1 309.3L197.2 313.0L200.4 317.5L203.5 322.6L212.9 339.3L216.1 344.6L219.2 349.5L222.4 353.8L225.5 357.1L228.6 359.4L231.8 360.7L234.9 360.9L238.1 359.9L253.8 351.0L256.5 352.1L240.8 361.2L237.7 362.3L234.5 362.3L231.4 361.1L228.2 359.0L225.1 355.9L222.0 351.7L218.8 347.0L215.7 341.7L206.2 325.3L203.1 320.2L200.0 315.6L196.8 311.8L193.7 309.0L190.5 307.4L187.4 307.5L155.9 322.5" fill="url(#gd39)"/>
<path d="M154.9 322.0L186.4 307.0L189.5 306.7L192.6 308.1L195.8 310.9L198.9 314.6L202.1 319.1L205.2 324.2L214.6 340.8L217.8 346.1L220.9 350.9L224.1 355.1L227.2 358.3L230.4 360.5L233.5 361.7L236.7 361.8L239.8 360.8L255.5 351.7L258.3 352.8L242.5 362.1L239.4 363.2L236.3 363.2L233.1 362.2L230.0 360.1L226.8 357.1L223.7 353.1L220.5 348.4L217.4 343.3L208.0 326.9L204.8 321.8L201.7 317.2L198.5 313.4L195.4 310.4L192.2 308.7L189.1 308.5L157.7 323.4" fill="url(#gd40)"/>
<path d="M156.6 322.9L188.1 307.9L191.2 307.9L194.4 309.6L197.5 312.4L200.6 316.3L203.8 320.8L206.9 325.9L216.4 342.4L219.5 347.5L222.6 352.3L225.8 356.4L228.9 359.4L232.1 361.5L235.2 362.6L238.4 362.7L241.5 361.6L257.2 352.4L260.0 353.5L244.3 362.9L241.1 364.1L238.0 364.2L234.8 363.2L231.7 361.3L228.5 358.4L225.4 354.4L222.2 349.8L219.1 344.8L209.7 328.6L206.5 323.5L203.4 318.9L200.2 314.9L197.1 311.9L194.0 310.0L190.8 309.5L187.7 310.9L159.4 324.4" fill="url(#gd41)"/>
<path d="M158.3 323.8L186.6 310.3L189.8 308.9L192.9 309.2L196.1 311.0L199.2 314.0L202.4 317.9L205.5 322.5L208.6 327.6L218.1 343.9L221.2 349.0L224.4 353.6L227.5 357.6L230.7 360.6L233.8 362.6L236.9 363.6L240.1 363.5L243.2 362.4L258.9 353.1L261.7 354.2L246.0 363.7L242.8 364.9L239.7 365.1L236.5 364.3L233.4 362.4L230.3 359.6L227.1 355.8L224.0 351.3L220.8 346.3L211.4 330.3L208.2 325.2L205.1 320.5L202.0 316.5L198.8 313.4L195.7 311.3L192.5 310.6L189.4 311.8L161.1 325.3" fill="url(#gd42)"/>
<path d="M160.1 324.7L188.4 311.2L191.5 310.0L194.6 310.5L197.8 312.5L200.9 315.6L204.1 319.5L207.2 324.2L210.4 329.3L219.8 345.4L222.9 350.4L226.1 355.0L229.2 358.9L232.4 361.7L235.5 363.6L238.7 364.6L241.8 364.4L244.9 363.2L260.7 353.8L263.4 355.0L247.7 364.5L244.5 365.8L241.4 366.1L238.3 365.3L235.1 363.6L232.0 360.9L228.8 357.1L225.7 352.7L222.5 347.8L213.1 331.9L210.0 326.8L206.8 322.2L203.7 318.1L200.5 314.9L197.4 312.7L194.2 311.8L191.1 312.7L162.8 326.2" fill="url(#gd43)"/>
<path d="M161.8 325.6L190.1 312.1L193.2 311.1L196.4 311.9L199.5 314.0L202.6 317.2L205.8 321.2L208.9 325.8L212.1 330.9L221.5 346.9L224.7 351.8L227.8 356.3L230.9 360.1L234.1 362.9L237.2 364.7L240.4 365.5L243.5 365.3L246.7 364.0L262.4 354.5L265.1 355.7L249.4 365.3L246.3 366.7L243.1 367.0L240.0 366.3L236.8 364.7L233.7 362.1L230.5 358.4L227.4 354.1L224.3 349.3L214.8 333.6L211.7 328.5L208.5 323.8L205.4 319.7L202.2 316.4L199.1 314.0L196.0 312.9L192.8 313.6L164.5 327.1" fill="url(#gd44)"/>
<path d="M163.5 326.5L191.8 313.0L194.9 312.2L198.1 313.2L201.2 315.5L204.4 318.8L207.5 322.8L210.6 327.5L223.2 348.4L226.4 353.3L229.5 357.6L232.7 361.4L235.8 364.0L238.9 365.7L242.1 366.5L245.2 366.2L248.4 364.8L264.1 355.2L266.8 356.4L251.1 366.1L248.0 367.5L244.8 368.0L241.7 367.4L238.5 365.8L235.4 363.3L232.3 359.7L229.1 355.5L226.0 350.8L213.4 330.2L210.3 325.5L207.1 321.3L204.0 317.9L200.8 315.4L197.7 314.1L194.5 314.5L166.2 328.0" fill="url(#gd45)"/>
<path d="M165.2 327.4L193.5 313.9L196.6 313.4L199.8 314.6L202.9 317.0L206.1 320.3L209.2 324.5L212.4 329.2L224.9 349.9L228.1 354.7L231.2 358.9L234.4 362.6L237.5 365.1L240.7 366.8L243.8 367.4L246.9 367.0L250.1 365.6L265.8 355.9L268.6 357.1L252.8 366.9L249.7 368.4L246.5 368.9L243.4 368.4L240.3 366.9L237.1 364.6L234.0 361.0L230.8 356.9L227.7 352.2L215.1 331.8L212.0 327.1L208.8 322.9L205.7 319.4L202.5 316.8L199.4 315.4L196.2 315.4L168.0 328.9" fill="url(#gd46)"/>
<path d="M166.9 328.3L195.2 314.8L198.4 314.6L201.5 316.0L204.7 318.5L207.8 321.9L210.9 326.1L214.1 330.8L226.7 351.3L229.8 356.0L232.9 360.3L236.1 363.8L239.2 366.3L242.4 367.8L245.5 368.3L248.7 367.9L251.8 366.4L267.5 356.6L270.3 357.8L254.6 367.7L251.4 369.3L248.3 369.8L245.1 369.4L242.0 368.0L238.8 365.8L235.7 362.3L232.5 358.3L229.4 353.7L216.8 333.4L213.7 328.7L210.5 324.5L207.4 321.0L204.3 318.3L201.1 316.6L198.0 316.4L169.7 329.8" fill="url(#gd47)"/>
<path d="M168.6 329.2L196.9 315.8L200.1 315.9L203.2 317.4L206.4 320.0L209.5 323.5L212.7 327.7L215.8 332.5L225.2 347.8L228.4 352.8L231.5 357.4L234.7 361.6L237.8 365.0L240.9 367.4L244.1 368.8L247.2 369.3L250.4 368.7L253.5 367.2L269.2 357.3L272.0 358.5L256.3 368.5L253.1 370.1L250.0 370.8L246.8 370.4L243.7 369.2L240.5 367.0L237.4 363.6L234.3 359.6L231.1 355.1L218.5 335.1L215.4 330.4L212.3 326.1L209.1 322.5L206.0 319.7L202.8 317.9L199.7 317.5L196.5 318.7L171.4 330.7" fill="url(#gd48)"/>
<path d="M170.4 330.1L195.5 318.1L198.7 316.8L201.8 317.2L204.9 318.8L208.1 321.6L211.2 325.2L214.4 329.4L217.5 334.1L226.9 349.4L230.1 354.3L233.2 358.8L236.4 362.8L239.5 366.3L242.7 368.5L245.8 369.8L249.0 370.2L252.1 369.6L255.2 368.0L271.0 358.0L273.7 359.1L258.0 369.3L254.8 371.0L251.7 371.7L248.6 371.4L245.4 370.3L242.3 368.2L239.1 364.9L236.0 361.0L232.8 356.6L226.5 346.8L220.3 336.7L217.1 332.0L214.0 327.7L210.8 324.0L207.7 321.2L204.5 319.2L201.4 318.6L198.3 319.6L173.1 331.6" fill="url(#gd49)"/>
<path d="M172.1 331.0L197.2 319.0L200.4 317.9L203.5 318.5L206.7 320.3L209.8 323.1L212.9 326.8L216.1 331.0L219.2 335.7L228.7 350.9L231.8 355.7L234.9 360.2L238.1 364.1L241.2 367.5L244.4 369.6L247.5 370.8L250.7 371.1L253.8 370.5L257.0 368.8L272.7 358.7L275.4 359.8L259.7 370.1L256.6 371.8L253.4 372.6L250.3 372.4L247.1 371.3L244.0 369.4L240.8 366.2L237.7 362.3L234.6 358.0L231.4 353.3L222.0 338.3L218.8 333.6L215.7 329.3L212.5 325.6L209.4 322.6L206.3 320.6L203.1 319.7L200.0 320.5L174.8 332.5" fill="url(#gd50)"/>
<path d="M173.8 331.9L198.9 319.9L202.1 319.0L205.2 319.8L208.4 321.7L211.5 324.7L214.7 328.4L217.8 332.6L220.9 337.4L230.4 352.4L233.5 357.1L236.7 361.5L239.8 365.4L243.0 368.7L246.1 370.7L249.2 371.8L252.4 372.1L255.5 371.3L258.7 369.6L274.4 359.4L277.1 360.5L261.4 370.9L258.3 372.7L255.1 373.5L252.0 373.4L248.8 372.4L245.7 370.5L242.6 367.4L239.4 363.7L236.3 359.4L233.1 354.8L223.7 339.9L220.5 335.2L217.4 330.9L214.3 327.1L211.1 324.1L208.0 321.9L204.8 320.9L201.7 321.4L176.5 333.4" fill="url(#gd51)"/>
<path d="M175.5 332.8L200.7 320.8L203.8 320.2L206.9 321.1L210.1 323.2L213.2 326.2L216.4 330.0L219.5 334.3L222.7 339.0L232.1 353.9L235.2 358.6L238.4 362.9L241.5 366.7L244.7 369.8L247.8 371.8L251.0 372.8L254.1 373.0L257.2 372.2L260.4 370.4L276.1 360.1L278.9 361.2L263.1 371.7L260.0 373.5L256.8 374.4L253.7 374.4L250.6 373.5L247.4 371.7L244.3 368.7L241.1 365.0L238.0 360.8L234.8 356.2L225.4 341.6L222.3 336.9L219.1 332.5L216.0 328.7L212.8 325.6L209.7 323.3L206.5 322.1L203.4 322.3L178.3 334.3" fill="url(#gd52)"/>
<path d="M177.2 333.7L202.4 321.7L205.5 321.4L208.7 322.5L211.8 324.7L214.9 327.8L218.1 331.6L221.2 335.9L233.8 355.3L237.0 360.0L240.1 364.2L243.2 367.9L246.4 371.0L249.5 372.9L252.7 373.8L255.8 373.9L259.0 373.0L262.1 371.2L277.8 360.8L280.6 361.9L264.8 372.5L261.7 374.4L258.6 375.4L255.4 375.4L252.3 374.6L249.1 372.9L246.0 369.9L242.8 366.3L239.7 362.2L236.6 357.7L227.1 343.2L224.0 338.5L220.8 334.1L217.7 330.3L214.5 327.1L211.4 324.7L208.3 323.3L205.1 323.3L180.0 335.2" fill="url(#gd53)"/>
<path d="M178.9 334.7L204.1 322.7L207.2 322.6L210.4 323.9L213.5 326.2L216.7 329.3L219.8 333.2L223.0 337.5L235.5 356.8L238.7 361.4L241.8 365.5L245.0 369.2L248.1 372.2L251.2 373.9L254.4 374.8L257.5 374.8L260.7 373.9L263.8 372.0L279.5 361.5L282.3 362.6L266.6 373.3L263.4 375.2L260.3 376.3L257.1 376.4L254.0 375.7L250.8 374.0L247.7 371.2L244.6 367.6L241.4 363.6L238.3 359.1L225.7 340.1L222.6 335.7L219.4 331.8L216.3 328.6L213.1 326.1L210.0 324.6L206.8 324.3L203.7 325.6L181.7 336.1" fill="url(#gd54)"/>
<path d="M180.7 335.6L202.7 325.1L205.8 323.7L208.9 323.8L212.1 325.2L215.2 327.7L218.4 330.9L221.5 334.8L224.7 339.1L237.2 358.3L240.4 362.8L243.5 366.8L246.7 370.4L249.8 373.4L253.0 375.0L256.1 375.8L259.2 375.7L262.4 374.7L265.5 372.8L281.3 362.2L284.0 363.3L268.3 374.1L265.1 376.0L262.0 377.2L258.9 377.4L255.7 376.7L252.6 375.2L249.4 372.4L246.3 368.9L243.1 365.0L240.0 360.6L227.4 341.7L224.3 337.3L221.1 333.4L218.0 330.1L214.8 327.5L211.7 325.9L208.6 325.4L205.4 326.5L183.4 337.0" fill="url(#gd55)"/>
<path d="M87.3 368.9L87.3 286.4M87.3 368.9L183.4 419.5M183.4 419.5L284.0 371.5M87.3 368.9L83.8 367.0M87.3 327.6L83.8 325.8M87.3 286.4L83.8 284.5M87.3 368.9L83.7 370.6M135.3 394.2L131.7 395.9M183.4 419.5L179.8 421.2M183.4 419.5L186.9 421.4M243.5 390.8L247.0 392.7" stroke="#484848" stroke-width="0.85" fill="none"/></g>
<g id="pe"><path d="M437.5 359.5L525.5 415.7M437.5 359.5L437.5 283.0M487.8 332.9L575.8 389.1M487.8 332.9L487.8 256.4M437.5 359.5L534.3 308.3M534.3 308.3L534.3 231.8M481.5 387.6L578.3 336.4M578.3 336.4L578.3 259.9M525.5 415.7L622.3 364.5M622.3 364.5L622.3 288.0M437.5 359.5L534.3 308.3M534.3 308.3L622.3 364.5M437.5 321.2L534.3 270.1M534.3 270.1L622.3 326.2M437.5 283.0L534.3 231.8M534.3 231.8L622.3 288.0M534.3 308.3L534.3 231.8M622.3 364.5L622.3 288.0M437.5 283.0L534.3 231.8M534.3 231.8L622.3 288.0M437.5 359.5L534.3 308.3M534.3 308.3L622.3 364.5" stroke="#e8e8e8" stroke-width="1" fill="none"/>
<path d="M437.5 359.5L534.3 308.3L536.3 309.6L439.5 360.8" fill="url(#ge0)"/>
<path d="M438.3 360.0L535.1 308.8L538.3 310.9L441.5 362.1" fill="url(#ge1)"/>
<path d="M440.3 361.3L537.1 310.1L540.3 312.1L443.5 363.3" fill="url(#ge2)"/>
<path d="M442.3 362.6L539.1 311.4L542.3 313.4L445.5 364.6" fill="url(#ge3)"/>
<path d="M444.3 363.8L541.1 312.6L544.3 314.7L447.5 365.9" fill="url(#ge4)"/>
<path d="M446.3 365.1L543.1 313.9L546.3 316.0L449.5 367.2" fill="url(#ge5)"/>
<path d="M448.3 366.4L545.1 315.2L548.3 317.2L451.5 368.4" fill="url(#ge6)"/>
<path d="M450.3 367.7L547.1 316.5L550.3 318.5L453.5 369.7" fill="url(#ge7)"/>
<path d="M452.3 369.0L549.1 317.8L552.3 319.8L455.5 371.0" fill="url(#ge8)"/>
<path d="M454.3 370.2L551.1 319.0L554.3 321.1L457.5 372.3" fill="url(#ge9)"/>
<path d="M456.3 371.5L553.1 320.3L556.3 322.4L459.5 373.6" fill="url(#ge10)"/>
<path d="M458.3 372.8L555.1 321.6L558.3 323.6L461.5 374.8" fill="url(#ge11)"/>
<path d="M460.3 374.1L557.1 322.9L560.3 324.9L463.5 376.1" fill="url(#ge12)"/>
<path d="M462.3 375.3L559.1 324.1L562.3 326.2L465.5 377.4" fill="url(#ge13)"/>
<path d="M464.3 376.6L561.1 325.4L564.3 327.5L467.5 378.7" fill="url(#ge14)"/>
<path d="M466.3 377.9L563.1 326.7L566.3 328.7L469.5 379.9" fill="url(#ge15)"/>
<path d="M468.3 379.2L565.1 328.0L568.3 330.0L471.5 381.2" fill="url(#ge16)"/>
<path d="M470.3 380.4L567.1 329.2L570.3 331.3L473.5 382.5" fill="url(#ge17)"/>
<path d="M472.3 381.7L569.1 330.5L572.3 332.6L475.5 383.8" fill="url(#ge18)"/>
<path d="M474.3 383.0L571.1 331.8L574.3 333.8L477.5 385.0" fill="url(#ge19)"/>
<path d="M476.3 384.3L573.1 333.1L576.3 335.1L479.5 386.3" fill="url(#ge20)"/>
<path d="M478.3 385.6L575.1 334.4L578.3 336.4L481.5 387.6" fill="url(#ge21)"/>
<path d="M480.3 386.8L577.1 335.6L580.3 337.7L483.5 388.9" fill="url(#ge22)"/>
<path d="M482.3 388.1L579.1 336.9L582.3 339.0L485.5 390.2" fill="url(#ge23)"/>
<path d="M484.3 389.4L581.1 338.2L584.3 340.2L487.5 391.4" fill="url(#ge24)"/>
<path d="M486.3 390.7L583.1 339.5L586.3 341.5L489.5 392.7" fill="url(#ge25)"/>
<path d="M488.3 391.9L585.1 340.7L588.3 342.8L491.5 394.0" fill="url(#ge26)"/>
<path d="M490.3 393.2L587.1 342.0L590.3 344.1L493.5 395.3" fill="url(#ge27)"/>
<path d="M492.3 394.5L589.1 343.3L592.3 345.3L495.5 396.5" fill="url(#ge28)"/>
<path d="M494.3 395.8L591.1 344.6L594.3 346.6L497.5 397.8" fill="url(#ge29)"/>
<path d="M496.3 397.1L593.1 345.9L596.3 347.9L499.5 399.1" fill="url(#ge30)"/>
<path d="M498.3 398.3L595.1 347.1L598.3 349.2L501.5 400.4" fill="url(#ge31)"/>
<path d="M500.3 399.6L597.1 348.4L600.3 350.4L503.5 401.6" fill="url(#ge32)"/>
<path d="M502.3 400.9L599.1 349.7L602.3 351.7L505.5 402.9" fill="url(#ge33)"/>
<path d="M504.3 402.2L601.1 351.0L604.3 353.0L507.5 404.2" fill="url(#ge34)"/>
<path d="M506.3 403.4L603.1 352.2L606.3 354.3L509.5 405.5" fill="url(#ge35)"/>
<path d="M508.3 404.7L605.1 353.5L608.3 355.6L511.5 406.8" fill="url(#ge36)"/>
<path d="M510.3 406.0L607.1 354.8L610.3 356.8L513.5 408.0" fill="url(#ge37)"/>
<path d="M512.3 407.3L609.1 356.1L612.3 358.1L515.5 409.3" fill="url(#ge38)"/>
<path d="M514.3 408.5L611.1 357.3L614.3 359.4L517.5 410.6" fill="url(#ge39)"/>
<path d="M516.3 409.8L613.1 358.6L616.3 360.7L519.5 411.9" fill="url(#ge40)"/>
<path d="M518.3 411.1L615.1 359.9L618.3 361.9L521.5 413.1" fill="url(#ge41)"/>
<path d="M520.3 412.4L617.1 361.2L620.3 363.2L523.5 414.4" fill="url(#ge42)"/>
<path d="M522.3 413.7L619.1 362.5L622.3 364.5L525.5 415.7" fill="url(#ge43)"/>
<path d="M437.5 359.5L437.5 283.0M437.5 359.5L525.5 415.7M525.5 415.7L622.3 364.5M437.5 359.5L434.1 357.3M437.5 321.2L434.1 319.1M437.5 283.0L434.1 280.8M437.5 359.5L434.0 361.4M481.5 387.6L478.0 389.5M525.5 415.7L522.0 417.6M525.5 415.7L528.9 417.9M575.8 389.1L579.2 391.2" stroke="#484848" stroke-width="0.85" fill="none"/></g>
<g id="pf"><path d="M764.0 357.8L856.7 427.0M764.0 357.8L764.0 284.8M818.5 323.9L911.2 393.1M818.5 323.9L818.5 250.9M764.0 357.8L865.3 294.8M865.3 294.8L865.3 221.8M810.4 392.4L911.6 329.4M911.6 329.4L911.6 256.4M856.7 427.0L958.0 364.0M958.0 364.0L958.0 291.0M764.0 357.8L865.3 294.8M865.3 294.8L958.0 364.0M764.0 321.3L865.3 258.3M865.3 258.3L958.0 327.5M764.0 284.8L865.3 221.8M865.3 221.8L958.0 291.0M865.3 294.8L865.3 221.8M958.0 364.0L958.0 291.0M764.0 284.8L865.3 221.8M865.3 221.8L958.0 291.0M764.0 357.8L865.3 294.8M865.3 294.8L958.0 364.0" stroke="#e8e8e8" stroke-width="1" fill="none"/>
<path d="M764.0 357.8L808.3 330.2L811.5 328.1L814.6 324.3L817.8 319.1L821.0 312.9L830.5 292.6L833.6 286.4L836.8 280.9L840.0 276.4L843.1 273.0L846.3 270.8L865.3 259.0L867.0 258.3L848.0 270.1L844.8 272.3L841.6 275.6L838.5 280.2L835.3 285.8L832.1 292.2L822.6 313.1L819.5 319.6L816.3 325.0L813.1 329.2L810.0 331.5L765.7 359.0" fill="url(#gf0)"/>
<path d="M764.7 358.3L809.0 330.7L812.1 328.6L815.3 324.6L818.5 319.3L821.6 313.0L831.1 292.4L834.3 286.1L837.5 280.6L840.6 276.1L843.8 272.7L847.0 270.5L866.0 258.7L868.6 257.5L849.6 269.3L846.5 271.5L843.3 274.8L840.1 279.4L837.0 285.1L833.8 291.7L824.3 313.3L821.1 320.0L818.0 325.7L814.8 330.2L811.6 332.7L767.3 360.3" fill="url(#gf1)"/>
<path d="M766.3 359.5L810.6 332.0L813.8 329.6L817.0 325.3L820.1 319.7L823.3 313.2L832.8 292.0L836.0 285.5L839.1 279.9L842.3 275.3L845.5 271.9L848.6 269.8L867.6 258.0L870.3 256.7L851.3 268.6L848.1 270.7L844.9 274.1L841.8 278.7L838.6 284.5L835.4 291.2L825.9 313.4L822.8 320.3L819.6 326.4L816.5 331.2L813.3 333.9L769.0 361.5" fill="url(#gf2)"/>
<path d="M768.0 360.8L812.3 333.2L815.5 330.6L818.6 326.0L821.8 320.1L825.0 313.3L834.5 291.5L837.6 284.9L840.8 279.2L843.9 274.5L847.1 271.2L850.3 269.0L869.3 257.2L871.9 256.0L852.9 267.8L849.8 270.0L846.6 273.3L843.4 278.0L840.3 283.9L837.1 290.6L827.6 313.4L824.4 320.6L821.3 327.0L818.1 332.1L814.9 335.2L770.6 362.7" fill="url(#gf3)"/>
<path d="M769.6 362.0L813.9 334.4L817.1 331.5L820.3 326.6L823.4 320.5L826.6 313.4L832.9 298.3L836.1 291.0L839.3 284.2L842.4 278.4L845.6 273.8L848.8 270.4L851.9 268.3L870.9 256.4L873.6 255.3L854.6 267.1L851.4 269.2L848.3 272.6L845.1 277.3L841.9 283.2L838.8 290.1L835.6 297.7L829.3 313.5L826.1 320.9L822.9 327.5L819.8 332.9L816.6 336.4L772.3 364.0" fill="url(#gf4)"/>
<path d="M771.3 363.2L815.6 335.7L818.8 332.4L821.9 327.2L825.1 320.8L828.3 313.5L834.6 297.9L837.8 290.4L840.9 283.6L844.1 277.7L847.3 273.0L850.4 269.7L853.6 267.5L872.6 255.7L875.2 254.6L856.2 266.4L853.1 268.5L849.9 271.9L846.7 276.6L843.6 282.6L840.4 289.6L837.2 297.3L830.9 313.5L827.7 321.2L824.6 328.0L821.4 333.7L818.3 337.6L773.9 365.2" fill="url(#gf5)"/>
<path d="M772.9 364.5L817.3 336.9L820.4 333.2L823.6 327.7L826.8 321.0L829.9 313.5L836.3 297.5L839.4 289.9L842.6 283.0L845.7 277.0L848.9 272.3L852.1 269.0L855.2 266.8L874.2 255.0L876.9 254.0L857.9 265.8L854.7 267.9L851.6 271.2L848.4 276.0L845.2 282.0L842.1 289.1L838.9 296.9L832.6 313.4L829.4 321.3L826.2 328.5L823.1 334.5L819.9 338.7L816.7 340.9L775.6 366.4" fill="url(#gf6)"/>
<path d="M774.6 365.7L815.7 340.1L818.9 338.0L822.1 334.0L825.2 328.2L828.4 321.2L831.6 313.4L837.9 297.1L841.1 289.4L844.2 282.4L847.4 276.4L850.6 271.6L853.7 268.3L875.9 254.4L878.5 253.4L859.5 265.2L856.4 267.3L853.2 270.6L850.1 275.4L846.9 281.4L843.7 288.6L840.6 296.5L834.2 313.4L831.1 321.5L827.9 328.9L824.7 335.2L821.6 339.7L818.4 342.1L777.2 367.7" fill="url(#gf7)"/>
<path d="M776.2 366.9L817.4 341.4L820.6 339.1L823.7 334.7L826.9 328.7L830.1 321.4L833.2 313.4L839.6 296.7L842.7 288.9L845.9 281.8L849.1 275.7L852.2 271.0L855.4 267.6L877.5 253.7L880.2 252.8L861.2 264.7L858.0 266.7L854.9 270.0L851.7 274.8L848.5 280.9L845.4 288.1L842.2 296.1L832.7 321.6L829.5 329.3L826.4 335.8L823.2 340.7L820.1 343.3L778.9 368.9" fill="url(#gf8)"/>
<path d="M777.9 368.2L819.1 342.6L822.2 340.1L825.4 335.4L828.6 329.1L831.7 321.6L841.2 296.4L844.4 288.4L847.5 281.2L850.7 275.1L853.9 270.3L857.0 267.1L879.2 253.2L881.9 252.4L859.7 266.2L856.5 269.5L853.4 274.2L850.2 280.4L847.0 287.6L843.9 295.8L834.4 321.7L831.2 329.6L828.0 336.4L824.9 341.6L821.7 344.6L780.6 370.2" fill="url(#gf9)"/>
<path d="M779.6 369.4L820.7 343.8L823.9 341.1L827.0 336.0L830.2 329.4L833.4 321.7L842.9 296.0L846.0 287.9L849.2 280.7L852.4 274.6L855.5 269.8L858.7 266.5L880.9 252.6L883.5 251.9L861.3 265.8L858.2 269.0L855.0 273.7L851.9 279.9L848.7 287.2L845.5 295.4L836.0 321.8L832.9 329.9L829.7 337.0L826.5 342.5L823.4 345.8L782.2 371.4" fill="url(#gf10)"/>
<path d="M781.2 370.7L822.4 345.1L825.5 342.0L828.7 336.6L831.9 329.7L835.0 321.8L844.5 295.6L847.7 287.5L850.9 280.2L854.0 274.0L857.2 269.3L860.4 266.0L882.5 252.2L885.2 251.6L863.0 265.4L859.8 268.6L856.7 273.3L853.5 279.5L850.3 286.8L847.2 295.1L837.7 321.9L834.5 330.2L831.3 337.5L828.2 343.3L825.0 347.0L783.9 372.6" fill="url(#gf11)"/>
<path d="M782.9 371.9L824.0 346.3L827.2 342.8L830.4 337.2L833.5 330.0L836.7 321.8L846.2 295.3L849.3 287.0L852.5 279.7L855.7 273.6L858.8 268.8L862.0 265.6L884.2 251.8L886.8 251.3L864.7 265.1L861.5 268.2L858.3 273.0L855.2 279.1L852.0 286.5L848.8 294.8L839.3 321.9L836.2 330.4L833.0 338.0L829.8 344.1L826.7 348.2L785.5 373.9" fill="url(#gf12)"/>
<path d="M784.5 373.1L825.7 347.5L828.8 343.6L832.0 337.7L835.2 330.3L838.3 321.9L847.8 295.0L851.0 286.7L854.2 279.3L857.3 273.2L860.5 268.4L863.7 265.3L885.8 251.4L888.5 251.0L866.3 264.9L863.1 268.0L860.0 272.7L856.8 278.8L853.7 286.2L850.5 294.5L841.0 322.0L837.8 330.7L834.7 338.4L831.5 344.8L828.3 349.3L825.2 351.5L787.2 375.1" fill="url(#gf13)"/>
<path d="M786.2 374.4L824.2 350.7L827.3 348.7L830.5 344.4L833.7 338.2L836.8 330.5L840.0 322.0L849.5 294.7L852.7 286.3L855.8 279.0L859.0 272.8L862.2 268.1L865.3 265.0L887.5 251.2L890.1 250.9L868.0 264.7L864.8 267.8L861.6 272.4L858.5 278.6L855.3 285.9L852.1 294.3L842.6 322.0L839.5 330.9L836.3 338.8L833.1 345.5L830.0 350.3L826.8 352.7L788.8 376.3" fill="url(#gf14)"/>
<path d="M787.8 375.6L825.8 352.0L829.0 349.7L832.2 345.1L835.3 338.6L838.5 330.8L841.7 322.0L851.1 294.4L854.3 286.1L857.5 278.7L860.6 272.6L863.8 267.9L867.0 264.8L889.1 251.0L891.8 250.8L869.6 264.6L866.5 267.7L863.3 272.3L860.1 278.4L857.0 285.8L853.8 294.1L844.3 322.1L841.1 331.1L838.0 339.2L834.8 346.1L831.6 351.3L828.5 353.9L790.5 377.6" fill="url(#gf15)"/>
<path d="M789.5 376.8L827.5 353.2L830.6 350.7L833.8 345.8L837.0 339.0L840.1 331.0L843.3 322.1L849.6 303.3L852.8 294.2L856.0 285.9L859.1 278.5L862.3 272.4L865.5 267.7L868.6 264.7L890.8 250.9L893.4 250.9L871.3 264.7L868.1 267.6L865.0 272.2L861.8 278.3L858.6 285.6L855.5 294.0L852.3 303.2L846.0 322.2L842.8 331.3L839.6 339.6L836.5 346.8L833.3 352.2L830.1 355.2L792.1 378.8" fill="url(#gf16)"/>
<path d="M791.1 378.1L829.1 354.4L832.3 351.7L835.5 346.4L838.6 339.4L841.8 331.2L845.0 322.1L851.3 303.2L854.5 294.1L857.6 285.7L860.8 278.3L864.0 272.3L867.1 267.6L870.3 264.6L892.4 250.8L895.1 251.0L872.9 264.8L869.8 267.7L866.6 272.2L863.4 278.3L860.3 285.6L857.1 294.0L853.9 303.1L847.6 322.3L844.4 331.5L841.3 340.0L838.1 347.3L834.9 353.1L831.8 356.4L793.8 380.0" fill="url(#gf17)"/>
<path d="M792.8 379.3L830.8 355.7L834.0 352.5L837.1 347.0L840.3 339.8L843.5 331.4L853.0 303.1L856.1 294.0L859.3 285.6L862.4 278.3L865.6 272.2L868.8 267.7L871.9 264.7L894.1 250.9L896.8 251.2L874.6 265.0L871.4 267.9L868.3 272.4L865.1 278.3L861.9 285.6L858.8 294.0L855.6 303.1L846.1 331.7L842.9 340.3L839.8 347.9L836.6 353.9L833.4 357.7L795.5 381.3" fill="url(#gf18)"/>
<path d="M794.5 380.5L832.4 356.9L835.6 353.4L838.8 347.6L841.9 340.1L845.1 331.6L854.6 303.1L857.8 294.0L860.9 285.6L864.1 278.3L867.3 272.3L870.4 267.8L873.6 264.8L895.8 251.1L898.4 251.6L876.2 265.3L873.1 268.2L869.9 272.6L866.8 278.5L863.6 285.7L860.4 294.1L857.3 303.2L847.8 331.9L844.6 340.7L841.4 348.4L838.3 354.7L835.1 358.8L797.1 382.5" fill="url(#gf19)"/>
<path d="M796.1 381.8L834.1 358.1L837.3 354.2L840.4 348.1L843.6 340.5L846.8 331.8L856.3 303.1L859.4 294.0L862.6 285.7L865.8 278.4L868.9 272.4L872.1 268.0L875.3 265.1L897.4 251.3L900.1 252.2L877.9 265.8L874.7 268.6L871.6 272.9L868.4 278.8L865.2 286.0L862.1 294.2L858.9 303.3L849.4 332.1L846.2 341.0L843.1 348.9L839.9 355.4L836.8 359.9L833.6 362.1L798.8 383.8" fill="url(#gf20)"/>
<path d="M797.8 383.0L832.6 361.4L835.8 359.3L838.9 355.0L842.1 348.6L845.3 340.8L848.4 332.0L857.9 303.2L861.1 294.1L864.2 285.8L867.4 278.6L870.6 272.7L873.7 268.3L876.9 265.5L899.1 251.8L901.7 253.0L879.6 266.4L876.4 269.1L873.2 273.4L870.1 279.2L866.9 286.3L863.7 294.5L860.6 303.5L851.1 332.4L847.9 341.4L844.7 349.4L841.6 356.1L838.4 360.9L835.2 363.3L800.4 385.0" fill="url(#gf21)"/>
<path d="M799.4 384.2L834.2 362.6L837.4 360.3L840.6 355.7L843.7 349.1L846.9 341.2L850.1 332.2L859.6 303.4L862.7 294.3L865.9 286.1L869.1 278.9L872.2 273.1L875.4 268.8L878.6 266.1L900.7 252.5L903.4 253.9L881.2 267.2L878.0 269.8L874.9 274.0L871.7 279.7L868.6 286.7L865.4 294.8L862.2 303.8L852.7 332.7L849.6 341.7L846.4 349.9L843.2 356.8L840.1 361.9L836.9 364.6L802.1 386.2" fill="url(#gf22)"/>
<path d="M801.1 385.5L835.9 363.8L839.1 361.3L842.2 356.4L845.4 349.6L848.6 341.5L851.7 332.5L861.2 303.6L864.4 294.6L867.6 286.4L870.7 279.4L873.9 273.6L877.1 269.4L880.2 266.7L902.4 253.3L905.0 254.9L882.9 268.0L879.7 270.6L876.5 274.7L873.4 280.3L870.2 287.2L867.0 295.2L863.9 304.1L854.4 333.0L851.2 342.1L848.0 350.4L844.9 357.4L841.7 362.8L838.6 365.8L803.7 387.5" fill="url(#gf23)"/>
<path d="M802.7 386.7L837.6 365.1L840.7 362.3L843.9 357.1L847.1 350.1L850.2 341.9L853.4 332.8L862.9 303.9L866.0 294.9L869.2 286.8L872.4 279.9L875.5 274.3L878.7 270.1L881.9 267.5L904.0 254.2L906.7 256.0L884.5 269.0L881.4 271.5L878.2 275.5L875.0 281.0L871.9 287.7L868.7 295.7L865.5 304.5L856.0 333.3L852.9 342.5L849.7 350.9L846.5 358.1L843.4 363.7L840.2 367.0L805.4 388.7" fill="url(#gf24)"/>
<path d="M804.4 388.0L839.2 366.3L842.4 363.2L845.5 357.7L848.7 350.6L851.9 342.3L855.0 333.1L864.5 304.3L867.7 295.4L870.9 287.4L874.0 280.5L877.2 275.0L880.4 270.9L883.5 268.4L905.7 255.3L908.3 257.3L886.2 270.1L883.0 272.5L879.8 276.4L876.7 281.8L873.5 288.4L870.4 296.2L867.2 305.0L857.7 333.7L854.5 342.9L851.4 351.4L848.2 358.7L845.0 364.6L841.9 368.3L807.0 389.9" fill="url(#gf25)"/>
<path d="M806.0 389.2L840.9 367.5L844.0 364.1L847.2 358.3L850.4 351.1L853.5 342.6L856.7 333.5L866.2 304.7L869.4 295.9L872.5 288.0L875.7 281.3L878.9 275.8L882.0 271.9L885.2 269.4L907.3 256.5L910.0 258.7L887.8 271.3L884.7 273.6L881.5 277.4L878.3 282.7L875.2 289.2L872.0 296.9L868.8 305.6L859.3 334.1L856.2 343.3L853.0 351.9L849.8 359.3L846.7 365.4L843.5 369.4L808.7 391.2" fill="url(#gf26)"/>
<path d="M807.7 390.4L842.5 368.8L845.7 364.9L848.9 359.0L852.0 351.6L855.2 343.1L858.4 333.8L867.8 305.2L871.0 296.5L874.2 288.7L877.3 282.1L880.5 276.8L883.7 272.9L886.8 270.6L909.0 257.8L911.6 260.2L889.5 272.6L886.3 274.9L883.2 278.6L880.0 283.7L876.8 290.1L873.7 297.7L870.5 306.3L857.8 343.8L854.7 352.4L851.5 360.0L848.3 366.2L845.2 370.5L842.0 372.7L810.4 392.4" fill="url(#gf27)"/>
<path d="M809.4 391.7L841.0 372.0L844.2 369.9L847.3 365.7L850.5 359.6L853.7 352.1L856.8 343.5L869.5 305.9L872.7 297.2L875.8 289.6L879.0 283.1L882.2 277.9L885.3 274.1L888.5 271.8L910.7 259.3L913.3 261.8L891.1 274.0L888.0 276.2L884.8 279.8L881.6 284.8L878.5 291.1L875.3 298.5L872.2 307.0L859.5 344.3L856.3 352.9L853.2 360.6L850.0 366.9L846.8 371.6L843.7 373.9L812.0 393.6" fill="url(#gf28)"/>
<path d="M811.0 392.9L842.7 373.2L845.8 371.0L849.0 366.5L852.2 360.2L855.3 352.6L858.5 344.0L871.2 306.5L874.3 298.0L877.5 290.5L880.7 284.1L883.8 279.1L887.0 275.4L890.2 273.2L912.3 260.8L915.0 263.4L892.8 275.4L889.6 277.5L886.5 281.0L883.3 285.9L880.1 292.1L877.0 299.3L873.8 307.7L861.1 344.8L858.0 353.4L854.8 361.2L851.6 367.7L848.5 372.6L845.3 375.2L813.7 394.9" fill="url(#gf29)"/>
<path d="M812.7 394.1L844.3 374.4L847.5 372.0L850.7 367.2L853.8 360.8L857.0 353.1L860.2 344.5L869.6 316.3L872.8 307.3L876.0 298.8L879.1 291.5L882.3 285.2L885.5 280.3L888.6 276.7L891.8 274.6L914.0 262.4L916.6 264.9L894.5 276.8L891.3 278.8L888.1 282.2L885.0 287.0L881.8 293.0L878.6 300.2L875.5 308.4L872.3 317.4L862.8 345.3L859.6 353.9L856.5 361.8L853.3 368.4L850.1 373.5L847.0 376.4L815.3 396.1" fill="url(#gf30)"/>
<path d="M814.3 395.4L846.0 375.7L849.1 373.0L852.3 368.0L855.5 361.4L858.6 353.6L861.8 345.0L871.3 317.0L874.5 308.0L877.6 299.7L880.8 292.5L884.0 286.3L887.1 281.5L890.3 278.0L893.5 275.9L915.6 264.0L918.3 266.5L896.1 278.2L892.9 280.2L889.8 283.5L886.6 288.1L883.4 294.0L880.3 301.0L877.1 309.2L874.0 318.0L864.5 345.8L861.3 354.4L858.1 362.3L855.0 369.1L851.8 374.5L848.6 377.7L817.0 397.3" fill="url(#gf31)"/>
<path d="M816.0 396.6L847.6 376.9L850.8 373.9L854.0 368.7L857.1 362.0L860.3 354.1L863.5 345.5L873.0 317.6L876.1 308.7L879.3 300.5L882.5 293.4L885.6 287.4L888.8 282.7L892.0 279.4L895.1 277.3L917.3 265.6L919.9 268.1L897.8 279.6L894.6 281.5L891.4 284.7L888.3 289.2L885.1 295.0L881.9 301.9L878.8 309.9L875.6 318.7L866.1 346.3L862.9 355.0L859.8 362.9L856.6 369.8L853.4 375.3L850.3 378.9L818.6 398.6" fill="url(#gf32)"/>
<path d="M817.6 397.8L849.3 378.1L852.5 374.8L855.6 369.4L858.8 362.6L862.0 354.6L865.1 346.0L874.6 318.3L877.8 309.5L880.9 301.4L884.1 294.4L887.3 288.6L890.4 284.0L893.6 280.7L896.8 278.7L918.9 267.2L921.6 269.7L899.4 281.0L896.3 282.8L893.1 285.9L889.9 290.4L886.8 296.0L883.6 302.8L880.4 310.7L877.3 319.4L867.8 346.8L864.6 355.5L861.4 363.5L858.3 370.5L855.1 376.2L851.9 380.1L820.3 399.8" fill="url(#gf33)"/>
<path d="M819.3 399.1L850.9 379.4L854.1 375.7L857.3 370.1L860.4 363.1L863.6 355.2L866.8 346.5L876.3 319.0L879.4 310.3L882.6 302.3L885.8 295.4L888.9 289.7L892.1 285.2L895.3 282.0L898.4 280.1L920.6 268.8L923.2 271.4L901.1 282.3L897.9 284.2L894.7 287.2L891.6 291.5L888.4 297.0L885.2 303.7L882.1 311.5L878.9 320.0L869.4 347.3L866.3 356.0L863.1 364.1L859.9 371.2L856.8 377.0L853.6 381.2L850.4 383.3L821.9 401.1" fill="url(#gf34)"/>
<path d="M820.9 400.3L849.4 382.6L852.6 380.5L855.8 376.5L858.9 370.8L862.1 363.7L865.3 355.7L868.4 347.0L877.9 319.6L881.1 311.0L884.3 303.1L887.4 296.4L890.6 290.8L893.8 286.4L896.9 283.4L900.1 281.5L922.2 270.4L924.9 273.0L902.7 283.7L899.6 285.5L896.4 288.4L893.2 292.6L890.1 298.1L886.9 304.6L883.7 312.3L880.6 320.7L871.1 347.8L867.9 356.5L864.7 364.6L861.6 371.8L858.4 377.8L855.2 382.2L852.1 384.6L823.6 402.3" fill="url(#gf35)"/>
<path d="M822.6 401.5L851.1 383.8L854.3 381.6L857.4 377.4L860.6 371.4L863.8 364.3L866.9 356.2L879.6 320.3L882.7 311.8L885.9 304.0L889.1 297.4L892.2 292.0L895.4 287.7L898.6 284.7L901.7 282.9L923.9 272.0L926.5 274.6L904.4 285.1L901.2 286.8L898.1 289.7L894.9 293.8L891.7 299.1L888.6 305.5L885.4 313.1L882.2 321.5L872.7 348.3L869.6 357.1L866.4 365.2L863.2 372.5L860.1 378.6L856.9 383.3L853.7 385.8L825.2 403.5" fill="url(#gf36)"/>
<path d="M824.3 402.8L852.7 385.1L855.9 382.7L859.1 378.2L862.2 372.1L865.4 364.9L868.6 356.7L881.2 321.0L884.4 312.6L887.6 304.9L890.7 298.5L893.9 293.1L897.1 288.9L900.2 286.0L903.4 284.3L925.6 273.6L928.2 276.2L906.0 286.5L902.9 288.2L899.7 290.9L896.5 294.9L893.4 300.1L890.2 306.4L887.1 313.9L883.9 322.2L871.2 357.6L868.1 365.8L864.9 373.1L861.7 379.4L858.6 384.2L855.4 387.0L826.9 404.8" fill="url(#gf37)"/>
<path d="M825.9 404.0L854.4 386.3L857.6 383.7L860.7 378.9L863.9 372.7L867.1 365.4L870.2 357.3L882.9 321.7L886.1 313.4L889.2 305.8L892.4 299.5L895.6 294.2L898.7 290.2L901.9 287.4L905.1 285.7L927.2 275.2L929.9 277.8L907.7 287.9L904.5 289.5L901.4 292.2L898.2 296.1L895.0 301.2L891.9 307.3L888.7 314.7L885.5 322.9L872.9 358.1L869.7 366.3L866.5 373.8L863.4 380.1L860.2 385.2L857.0 388.3L828.6 406.0" fill="url(#gf38)"/>
<path d="M827.6 405.3L856.1 387.5L859.2 384.6L862.4 379.7L865.6 373.4L868.7 366.0L871.9 357.8L884.5 322.5L887.7 314.2L890.9 306.7L894.0 300.5L897.2 295.4L900.4 291.4L903.5 288.7L906.7 287.1L928.9 276.9L931.5 279.5L909.4 289.3L906.2 290.9L903.0 293.5L899.9 297.3L896.7 302.2L893.5 308.2L890.4 315.6L887.2 323.6L874.5 358.7L871.4 366.9L868.2 374.4L865.0 380.9L861.9 386.1L858.7 389.5L830.2 407.2" fill="url(#gf39)"/>
<path d="M829.2 406.5L857.7 388.8L860.9 385.5L864.0 380.4L867.2 374.0L870.4 366.5L873.5 358.3L886.2 323.2L889.4 315.1L892.5 307.7L895.7 301.6L898.9 296.6L902.0 292.7L905.2 290.1L908.4 288.5L930.5 278.5L933.2 281.1L911.0 290.8L907.8 292.2L904.7 294.7L901.5 298.4L898.3 303.3L895.2 309.2L892.0 316.4L888.9 324.4L876.2 359.2L873.0 367.5L869.9 375.0L866.7 381.6L863.5 387.0L860.4 390.7L831.9 408.5" fill="url(#gf40)"/>
<path d="M830.9 407.7L859.4 390.0L862.5 386.4L865.7 381.2L868.9 374.6L872.0 367.1L875.2 358.9L884.7 332.5L887.9 323.9L891.0 315.9L894.2 308.6L897.4 302.6L900.5 297.7L903.7 294.0L906.9 291.4L932.2 280.1L934.8 282.8L912.7 292.2L909.5 293.6L906.3 296.0L903.2 299.6L900.0 304.3L896.8 310.1L893.7 317.2L890.5 325.2L877.8 359.8L874.7 368.0L871.5 375.6L868.3 382.3L865.2 387.8L862.0 391.8L858.9 393.9L833.5 409.7" fill="url(#gf41)"/>
<path d="M832.5 409.0L857.9 393.2L861.0 391.2L864.2 387.3L867.4 381.9L870.5 375.2L873.7 367.7L876.9 359.4L886.3 333.2L889.5 324.7L892.7 316.7L895.8 309.5L899.0 303.7L902.2 298.9L905.3 295.2L908.5 292.8L933.8 281.8L936.5 284.4L914.3 293.6L911.2 295.0L908.0 297.3L904.8 300.8L901.7 305.4L898.5 311.1L895.3 318.1L892.2 325.9L879.5 360.3L876.3 368.6L873.2 376.2L870.0 383.0L866.8 388.7L863.7 392.9L860.5 395.2L835.2 410.9" fill="url(#gf42)"/>
<path d="M834.2 410.2L859.5 394.4L862.7 392.3L865.8 388.2L869.0 382.6L872.2 375.9L875.3 368.2L878.5 360.0L888.0 333.9L891.2 325.5L894.3 317.6L897.5 310.5L900.7 304.7L903.8 300.1L907.0 296.5L910.2 294.1L935.5 283.4L938.1 286.0L912.8 296.3L909.6 298.6L906.5 302.0L903.3 306.5L900.1 312.0L897.0 319.0L893.8 326.7L887.5 343.6L881.2 360.9L878.0 369.2L874.8 376.8L871.7 383.7L868.5 389.5L865.3 393.9L862.2 396.4L836.8 412.2" fill="url(#gf43)"/>
<path d="M835.8 411.4L861.2 395.7L864.3 393.3L867.5 389.0L870.7 383.3L873.8 376.5L877.0 368.8L880.2 360.6L889.7 334.6L892.8 326.2L896.0 318.4L899.2 311.4L902.3 305.8L905.5 301.2L908.7 297.8L911.8 295.5L937.1 285.1L939.8 287.7L914.5 297.7L911.3 299.9L908.1 303.1L905.0 307.5L901.8 313.0L898.6 319.8L895.5 327.5L889.1 344.2L882.8 361.5L879.6 369.7L876.5 377.4L873.3 384.4L870.1 390.3L867.0 394.9L863.8 397.7L838.5 413.4" fill="url(#gf44)"/>
<path d="M837.5 412.7L862.8 396.9L866.0 394.3L869.2 389.8L872.3 384.0L875.5 377.1L878.7 369.4L885.0 352.5L891.3 335.3L894.5 327.0L897.6 319.3L900.8 312.4L904.0 306.9L907.1 302.4L910.3 299.1L913.5 296.9L938.8 286.7L941.4 289.3L916.1 299.1L913.0 301.1L909.8 304.3L906.6 308.6L903.5 313.9L900.3 320.7L897.1 328.3L894.0 336.4L884.5 362.0L881.3 370.3L878.1 378.1L875.0 385.1L871.8 391.1L868.6 395.9L865.5 398.9L840.1 414.6" fill="url(#gf45)"/>
<path d="M839.2 413.9L864.5 398.2L867.6 395.3L870.8 390.6L874.0 384.7L877.1 377.7L880.3 370.0L893.0 336.0L896.1 327.8L899.3 320.2L902.5 313.4L905.6 308.0L908.8 303.6L912.0 300.4L915.1 298.2L940.5 288.4L943.1 291.0L917.8 300.4L914.6 302.4L911.4 305.5L908.3 309.7L905.1 314.9L901.9 321.6L898.8 329.1L895.6 337.1L886.1 362.6L883.0 370.9L879.8 378.7L876.6 385.7L873.5 391.9L870.3 396.8L867.1 400.1L841.8 415.9" fill="url(#gf46)"/>
<path d="M840.8 415.1L866.1 399.4L869.3 396.3L872.5 391.4L875.6 385.3L878.8 378.3L882.0 370.5L894.6 336.7L897.8 328.6L901.0 321.1L904.1 314.3L907.3 309.1L910.5 304.8L913.6 301.7L916.8 299.6L942.1 290.0L944.8 292.7L919.4 301.8L916.3 303.7L913.1 306.7L909.9 310.8L906.8 315.9L903.6 322.5L900.4 329.9L897.3 337.9L884.6 371.5L881.4 379.3L878.3 386.4L875.1 392.6L871.9 397.7L868.8 401.3L843.5 417.1" fill="url(#gf47)"/>
<path d="M842.5 416.4L867.8 400.6L871.0 397.2L874.1 392.2L877.3 386.0L880.5 378.9L883.6 371.1L896.3 337.4L899.4 329.4L902.6 322.0L905.8 315.3L908.9 310.2L912.1 306.0L915.3 302.9L918.4 301.0L943.8 291.7L946.4 294.3L921.1 303.2L917.9 305.0L914.8 307.9L911.6 311.9L908.4 316.9L905.3 323.4L902.1 330.8L898.9 338.6L886.3 372.0L883.1 379.9L879.9 387.1L876.8 393.4L873.6 398.6L870.4 402.4L867.3 404.6L845.1 418.4" fill="url(#gf48)"/>
<path d="M844.1 417.6L866.3 403.8L869.4 401.8L872.6 398.1L875.8 392.9L878.9 386.7L882.1 379.5L885.3 371.7L897.9 338.2L901.1 330.3L904.3 322.9L907.4 316.3L910.6 311.3L913.8 307.2L916.9 304.2L920.1 302.4L945.4 293.3L948.1 296.0L922.7 304.6L919.6 306.3L916.4 309.2L913.2 313.0L910.1 317.9L906.9 324.3L903.7 331.6L900.6 339.4L887.9 372.6L884.8 380.5L881.6 387.7L878.4 394.1L875.3 399.5L872.1 403.5L868.9 405.8L846.8 419.6" fill="url(#gf49)"/>
<path d="M845.8 418.8L867.9 405.1L871.1 402.9L874.3 399.0L877.4 393.7L880.6 387.3L883.8 380.1L886.9 372.3L899.6 338.9L902.8 331.1L905.9 323.8L909.1 317.3L912.3 312.4L915.4 308.4L918.6 305.5L921.7 303.7L947.1 295.0L949.7 297.7L924.4 305.9L921.2 307.6L918.1 310.4L914.9 314.1L911.7 318.9L908.6 325.2L905.4 332.4L902.2 340.2L889.6 373.2L886.4 381.1L883.2 388.4L880.1 394.9L876.9 400.4L873.7 404.6L870.6 407.0L848.4 420.8" fill="url(#gf50)"/>
<path d="M847.4 420.1L869.6 406.3L872.8 404.0L875.9 399.9L879.1 394.4L882.3 388.0L885.4 380.7L888.6 372.9L901.2 339.7L904.4 331.9L907.6 324.7L910.7 318.3L913.9 313.5L917.1 309.6L920.2 306.8L923.4 305.1L948.7 296.7L951.4 299.3L926.1 307.3L922.9 308.9L919.7 311.6L916.6 315.3L913.4 319.9L910.2 326.2L907.1 333.3L903.9 340.9L891.2 373.8L888.1 381.7L884.9 389.0L881.7 395.6L878.6 401.2L875.4 405.6L872.2 408.3L850.1 422.1" fill="url(#gf51)"/>
<path d="M849.1 421.3L871.2 407.5L874.4 405.0L877.6 400.7L880.7 395.2L883.9 388.6L887.1 381.3L890.2 373.5L902.9 340.5L906.1 332.8L909.2 325.6L912.4 319.3L915.6 314.6L918.7 310.9L921.9 308.2L925.1 306.5L950.4 298.3L953.0 301.0L927.7 308.7L924.5 310.2L921.4 312.8L918.2 316.4L915.0 320.9L911.9 327.1L908.7 334.1L905.5 341.7L892.9 374.4L889.7 382.3L886.6 389.6L883.4 396.3L880.2 402.0L877.1 406.6L873.9 409.5L851.7 423.3" fill="url(#gf52)"/>
<path d="M850.7 422.6L872.9 408.8L876.1 406.0L879.2 401.5L882.4 395.9L885.6 389.3L888.7 381.9L891.9 374.1L901.4 349.3L904.6 341.3L907.7 333.6L910.9 326.6L914.1 320.3L917.2 315.7L920.4 312.1L923.6 309.5L926.7 307.9L952.0 300.0L954.7 302.7L929.4 310.1L926.2 311.6L923.0 314.0L919.9 317.5L916.7 322.0L913.5 328.1L910.4 335.0L907.2 342.5L894.5 375.0L891.4 382.9L888.2 390.3L885.0 397.0L881.9 402.8L878.7 407.6L875.5 410.7L853.4 424.5" fill="url(#gf53)"/>
<path d="M852.4 423.8L874.6 410.0L877.7 407.0L880.9 402.4L884.1 396.6L887.2 389.9L890.4 382.5L896.7 366.5L903.0 350.0L906.2 342.0L909.4 334.5L912.5 327.5L915.7 321.3L918.9 316.8L922.0 313.3L925.2 310.8L928.4 309.3L953.7 301.7L956.3 304.4L931.0 311.5L927.9 312.9L924.7 315.3L921.5 318.6L918.4 323.0L915.2 329.0L912.0 335.9L908.9 343.3L896.2 375.7L893.0 383.5L889.9 390.9L886.7 397.7L883.5 403.6L880.4 408.5L877.2 411.9L855.0 425.8" fill="url(#gf54)"/>
<path d="M854.1 425.0L876.2 411.2L879.4 407.9L882.5 403.2L885.7 397.3L888.9 390.5L892.0 383.2L907.9 342.8L911.0 335.4L914.2 328.4L917.4 322.4L920.5 318.0L923.7 314.5L926.9 312.1L930.0 310.6L955.4 303.4L958.0 306.1L932.7 312.9L929.5 314.2L926.3 316.5L923.2 319.8L920.0 324.0L916.8 330.0L913.7 336.8L910.5 344.1L894.7 384.1L891.5 391.6L888.4 398.4L885.2 404.4L882.0 409.4L878.9 413.1L856.7 427.0" fill="url(#gf55)"/>
<path d="M764.0 357.8L764.0 284.8M764.0 357.8L856.7 427.0M856.7 427.0L958.0 364.0M764.0 357.8L760.8 355.4M764.0 321.3L760.8 318.9M764.0 284.8L760.8 282.4M764.0 357.8L760.6 359.9M810.4 392.4L807.0 394.5M856.7 427.0L853.3 429.1M856.7 427.0L859.9 429.4M911.2 393.1L914.4 395.5" stroke="#484848" stroke-width="0.85" fill="none"/></g>
<g id="pg"><path d="M87.2 610.2L199.0 656.8M87.2 610.2L87.2 512.2M130.5 580.3L242.3 626.9M130.5 580.3L130.5 482.3M110.7 620.0L194.3 562.2M194.3 562.2L194.3 464.2M141.4 632.8L225.0 575.0M225.0 575.0L225.0 477.0M171.7 645.4L255.3 587.6M255.3 587.6L255.3 489.6M87.2 610.2L170.8 552.4M170.8 552.4L282.6 599.0M87.2 561.2L170.8 503.4M170.8 503.4L282.6 550.0M87.2 512.2L170.8 454.4M170.8 454.4L282.6 501.0M170.8 552.4L170.8 454.4M282.6 599.0L282.6 501.0M87.2 512.2L170.8 454.4M170.8 454.4L282.6 501.0M87.2 610.2L170.8 552.4M170.8 552.4L282.6 599.0" stroke="#e8e8e8" stroke-width="1" fill="none"/>
<path d="M87.2 512.2L110.7 496.0L113.3 494.5L118.6 491.8L121.2 490.5L123.8 489.6L126.4 488.9L129.0 488.4L131.6 488.0L134.2 488.1L149.9 491.0L157.7 492.2L160.4 492.4L163.0 492.1L165.6 491.5L168.2 490.7L170.8 489.6L172.8 492.4L170.2 493.3L167.6 494.0L165.0 494.5L162.3 494.6L159.7 494.3L141.4 490.6L136.2 489.4L133.6 489.3L131.0 489.5L128.4 490.0L125.8 490.6L123.2 491.5L117.9 494.0L115.3 495.3L112.7 496.9L89.2 513.0" fill="url(#gg0)"/>
<path d="M88.0 512.5L111.5 496.3L114.1 494.8L119.3 492.1L122.0 490.9L124.6 490.0L127.2 489.3L129.8 488.8L132.4 488.5L135.0 488.7L150.7 491.7L158.5 493.1L161.1 493.3L163.8 493.1L166.4 492.5L169.0 491.7L171.6 490.8L174.8 495.3L172.2 496.0L169.6 496.5L167.0 496.9L164.3 496.9L161.7 496.4L140.8 491.3L138.2 490.7L135.6 490.5L133.0 490.7L130.4 491.1L127.8 491.7L125.2 492.5L119.9 494.9L117.3 496.2L114.7 497.7L91.2 513.9" fill="url(#gg1)"/>
<path d="M90.0 513.4L113.5 497.2L116.1 495.7L121.3 493.1L124.0 491.9L126.6 491.1L129.2 490.4L131.8 490.0L134.4 489.7L137.0 490.0L160.5 495.2L163.1 495.5L165.8 495.4L168.4 495.0L171.0 494.4L173.6 493.6L176.8 498.2L174.2 498.8L171.6 499.1L169.0 499.3L166.3 499.2L163.7 498.6L142.8 492.7L140.2 492.1L137.6 491.8L135.0 491.9L132.4 492.2L129.8 492.7L127.2 493.5L121.9 495.8L119.3 497.1L116.7 498.5L93.2 514.7" fill="url(#gg2)"/>
<path d="M92.0 514.2L115.5 498.0L118.1 496.6L123.3 494.0L126.0 492.9L128.6 492.1L131.2 491.5L133.8 491.2L136.4 491.0L139.0 491.3L162.5 497.3L165.1 497.8L167.8 497.8L170.4 497.5L173.0 497.1L175.6 496.5L178.8 501.2L176.2 501.6L173.6 501.8L170.9 501.8L168.3 501.5L165.7 500.8L150.0 495.7L142.2 493.4L139.6 493.1L137.0 493.1L134.4 493.4L131.8 493.8L129.1 494.5L123.9 496.7L121.3 498.0L118.7 499.4L95.2 515.5" fill="url(#gg3)"/>
<path d="M94.0 515.0L117.5 498.9L120.1 497.4L125.3 495.0L128.0 493.9L130.6 493.2L133.2 492.7L135.8 492.4L138.4 492.3L141.0 492.6L161.9 498.6L164.5 499.5L167.1 500.1L169.8 500.3L172.4 500.2L175.0 499.9L177.6 499.4L180.8 504.3L178.2 504.5L175.6 504.5L172.9 504.3L170.3 503.9L167.7 503.0L154.7 498.2L146.8 495.6L144.2 494.8L141.6 494.4L139.0 494.4L136.4 494.5L133.8 494.9L131.1 495.6L125.9 497.6L123.3 498.8L120.7 500.2L97.2 516.4" fill="url(#gg4)"/>
<path d="M96.0 515.9L116.9 501.5L119.5 499.7L122.1 498.3L127.3 495.9L129.9 494.9L132.6 494.3L135.2 493.8L137.8 493.6L140.4 493.6L143.0 494.0L153.5 497.2L166.5 501.7L169.1 502.5L171.7 502.8L174.4 502.8L177.0 502.7L179.6 502.4L182.8 507.3L180.2 507.4L177.6 507.2L174.9 506.9L172.3 506.3L169.7 505.3L156.7 499.9L148.8 497.1L146.2 496.2L143.6 495.7L141.0 495.6L138.4 495.7L135.8 496.0L133.1 496.6L130.5 497.5L127.9 498.5L125.3 499.7L122.7 501.1L99.2 517.2" fill="url(#gg5)"/>
<path d="M98.0 516.7L118.9 502.3L121.5 500.6L124.1 499.2L126.7 498.0L129.3 496.9L131.9 496.0L134.6 495.4L137.2 495.0L139.8 494.8L142.4 494.9L145.0 495.4L155.5 498.9L168.5 503.9L171.1 504.8L173.7 505.3L176.4 505.5L179.0 505.6L181.6 505.5L184.8 510.4L182.2 510.3L176.9 509.4L174.3 508.7L171.7 507.6L158.7 501.6L150.8 498.5L148.2 497.6L145.6 497.0L143.0 496.9L140.4 496.9L137.8 497.1L135.1 497.6L132.5 498.5L129.9 499.5L127.3 500.6L124.7 502.0L101.2 518.0" fill="url(#gg6)"/>
<path d="M100.0 517.5L120.9 503.1L123.5 501.4L126.1 500.1L128.7 498.9L131.3 497.9L133.9 497.0L136.6 496.5L139.2 496.2L141.8 496.1L144.4 496.2L147.0 496.8L149.6 497.6L157.5 500.6L170.5 506.2L173.1 507.2L175.7 507.9L181.0 508.5L183.6 508.6L186.8 513.6L184.2 513.2L178.9 512.0L176.3 511.1L173.7 509.9L160.6 503.4L152.8 500.0L150.2 499.1L147.6 498.4L145.0 498.1L142.4 498.1L139.7 498.3L137.1 498.7L134.5 499.5L131.9 500.4L129.3 501.5L126.7 502.8L103.2 518.9" fill="url(#gg7)"/>
<path d="M102.0 518.4L122.9 504.0L125.5 502.3L128.1 501.0L130.7 499.8L133.3 498.9L135.9 498.1L138.5 497.6L141.2 497.4L143.8 497.4L146.4 497.6L149.0 498.2L151.6 499.1L159.4 502.3L172.5 508.5L175.1 509.7L177.7 510.5L183.0 511.4L185.6 511.7L188.8 516.7L186.2 516.2L180.9 514.7L178.3 513.6L162.6 505.2L154.8 501.6L152.2 500.5L149.6 499.8L147.0 499.4L144.4 499.3L141.7 499.4L139.1 499.8L136.5 500.5L133.9 501.3L131.3 502.4L128.7 503.7L123.5 507.0L105.2 519.7" fill="url(#gg8)"/>
<path d="M104.0 519.2L124.9 504.8L127.5 503.2L130.1 501.9L132.7 500.8L135.3 499.9L137.9 499.1L140.5 498.7L143.2 498.6L145.8 498.7L148.4 499.0L151.0 499.6L153.6 500.6L161.4 504.1L171.9 509.4L174.5 510.8L177.1 512.1L179.7 513.1L185.0 514.4L187.6 514.8L190.8 519.9L188.2 519.2L182.9 517.3L180.3 516.1L164.6 507.0L156.8 503.1L154.2 502.0L151.6 501.2L149.0 500.7L146.4 500.5L143.7 500.5L141.1 500.8L138.5 501.5L135.9 502.3L133.3 503.3L130.7 504.5L125.5 507.9L107.2 520.5" fill="url(#gg9)"/>
<path d="M106.0 520.0L126.9 505.6L129.5 504.0L132.1 502.8L134.7 501.7L137.3 500.9L139.9 500.2L142.5 499.9L145.2 499.8L147.8 500.0L150.4 500.3L153.0 501.1L155.6 502.2L163.4 505.9L173.9 511.7L179.1 514.6L181.7 515.7L187.0 517.4L189.6 518.0L192.8 523.1L190.1 522.2L184.9 520.0L182.3 518.6L169.2 510.4L164.0 507.4L158.8 504.7L156.2 503.5L153.6 502.6L151.0 502.1L148.3 501.8L145.7 501.7L143.1 501.9L140.5 502.5L137.9 503.2L135.3 504.2L132.7 505.4L130.1 507.0L109.2 521.4" fill="url(#gg10)"/>
<path d="M108.0 520.9L128.9 506.5L131.5 504.9L134.1 503.7L136.7 502.7L139.3 501.9L141.9 501.3L144.5 501.0L147.2 501.0L149.8 501.3L152.4 501.8L155.0 502.6L157.6 503.7L162.8 506.3L173.3 512.3L181.1 517.1L183.7 518.4L189.0 520.4L191.6 521.2L194.8 526.3L192.1 525.2L186.9 522.7L184.3 521.2L171.2 512.4L166.0 509.1L160.8 506.3L158.2 505.0L155.6 504.1L153.0 503.4L150.3 503.0L147.7 502.9L145.1 503.0L142.5 503.5L139.9 504.2L137.3 505.1L134.7 506.3L132.1 507.8L111.2 522.2" fill="url(#gg11)"/>
<path d="M110.0 521.7L128.2 509.0L130.9 507.3L133.5 505.8L136.1 504.6L138.7 503.6L141.3 502.9L143.9 502.4L146.5 502.2L149.1 502.3L151.8 502.6L154.4 503.2L157.0 504.1L159.6 505.3L164.8 508.1L175.3 514.5L183.1 519.6L185.7 521.1L190.9 523.4L193.6 524.4L196.8 529.5L194.1 528.3L188.9 525.4L186.3 523.8L173.2 514.4L168.0 510.9L162.8 507.9L160.2 506.6L157.6 505.5L155.0 504.8L152.3 504.3L149.7 504.1L147.1 504.1L144.5 504.5L141.9 505.1L139.3 506.0L136.7 507.2L134.1 508.7L113.2 523.0" fill="url(#gg12)"/>
<path d="M112.0 522.5L130.2 509.9L132.9 508.2L135.5 506.6L138.1 505.5L140.7 504.6L143.3 503.9L145.9 503.5L148.5 503.4L151.1 503.5L153.8 504.0L156.4 504.6L159.0 505.7L161.6 506.9L166.8 509.9L172.0 513.2L185.1 522.2L187.7 523.8L192.9 526.5L195.6 527.6L198.8 532.7L196.1 531.3L190.9 528.2L188.3 526.4L175.2 516.4L170.0 512.8L164.8 509.6L162.2 508.2L159.6 507.0L157.0 506.2L154.3 505.6L151.7 505.3L149.1 505.3L146.5 505.5L143.9 506.1L141.3 506.9L138.7 508.0L136.1 509.5L115.2 523.9" fill="url(#gg13)"/>
<path d="M114.0 523.4L132.2 510.7L134.9 509.0L137.5 507.5L140.1 506.4L142.7 505.5L145.3 504.9L147.9 504.6L150.5 504.6L153.1 504.8L155.8 505.4L158.4 506.1L161.0 507.2L163.6 508.6L168.8 511.7L174.0 515.2L187.1 524.8L189.7 526.5L194.9 529.5L197.6 530.8L200.7 535.9L198.1 534.4L192.9 531.0L187.7 527.0L177.2 518.5L172.0 514.7L166.8 511.2L164.2 509.8L161.6 508.5L158.9 507.6L156.3 506.9L153.7 506.5L151.1 506.4L148.5 506.6L145.9 507.1L143.3 507.8L140.7 508.9L138.0 510.3L117.1 524.7" fill="url(#gg14)"/>
<path d="M115.9 524.2L134.2 511.5L136.8 509.8L139.5 508.4L142.1 507.3L144.7 506.5L147.3 506.0L149.9 505.7L152.5 505.8L155.1 506.1L157.7 506.7L160.4 507.6L163.0 508.8L165.6 510.2L170.8 513.5L176.0 517.3L189.1 527.4L191.7 529.3L196.9 532.6L199.5 534.0L202.7 539.1L200.1 537.5L194.9 533.8L189.7 529.6L179.2 520.7L174.0 516.6L168.8 513.0L166.2 511.4L163.6 510.1L160.9 509.0L158.3 508.2L155.7 507.7L153.1 507.5L150.5 507.6L147.9 508.0L145.3 508.7L142.7 509.8L140.0 511.2L119.1 525.5" fill="url(#gg15)"/>
<path d="M117.9 525.0L136.2 512.4L138.8 510.7L141.5 509.3L144.1 508.2L146.7 507.5L149.3 507.0L151.9 506.8L154.5 507.0L157.1 507.4L159.7 508.2L162.4 509.1L165.0 510.4L167.6 511.9L172.8 515.4L178.0 519.4L191.1 530.1L196.3 533.9L198.9 535.6L201.5 537.2L204.7 542.2L202.1 540.5L196.9 536.6L191.7 532.2L181.2 522.9L176.0 518.6L170.8 514.7L168.2 513.1L165.6 511.6L162.9 510.5L160.3 509.6L157.7 509.0L155.1 508.6L152.5 508.7L149.9 509.0L147.3 509.7L144.7 510.6L142.0 512.0L121.1 526.3" fill="url(#gg16)"/>
<path d="M119.9 525.8L138.2 513.2L140.8 511.5L143.5 510.1L146.1 509.1L148.7 508.4L151.3 508.0L153.9 508.0L156.5 508.2L159.1 508.8L161.7 509.6L164.4 510.7L167.0 512.1L169.6 513.7L174.8 517.4L180.0 521.6L193.1 532.8L198.3 536.9L200.9 538.7L203.5 540.3L206.7 545.4L204.1 543.6L201.5 541.7L196.3 537.3L180.6 522.9L175.4 518.5L172.8 516.6L170.2 514.8L167.5 513.2L164.9 512.0L162.3 510.9L159.7 510.2L157.1 509.8L154.5 509.7L151.9 510.0L149.3 510.6L146.6 511.5L144.0 512.9L123.1 527.2" fill="url(#gg17)"/>
<path d="M121.9 526.7L140.2 514.0L142.8 512.4L145.5 511.0L148.1 510.0L150.7 509.4L153.3 509.1L155.9 509.1L158.5 509.5L161.1 510.1L163.7 511.1L166.4 512.3L169.0 513.7L171.6 515.5L176.8 519.4L182.0 523.8L195.1 535.6L200.3 539.9L202.9 541.8L205.5 543.5L208.7 548.5L206.1 546.8L203.5 544.8L198.3 540.3L182.6 525.2L177.4 520.5L174.8 518.5L172.2 516.6L169.5 514.9L166.9 513.5L164.3 512.3L161.7 511.5L159.1 510.9L156.5 510.8L153.9 510.9L151.3 511.5L148.6 512.4L146.0 513.7L125.1 528.0" fill="url(#gg18)"/>
<path d="M123.9 527.5L142.2 514.9L144.8 513.2L147.4 511.9L150.1 510.9L152.7 510.4L155.3 510.1L157.9 510.3L160.5 510.7L163.1 511.5L165.7 512.5L168.3 513.9L171.0 515.5L173.6 517.3L176.2 519.3L181.4 523.8L197.1 538.5L202.3 542.9L204.9 544.9L207.5 546.7L210.7 551.7L208.1 550.0L205.5 548.0L202.9 545.8L197.7 540.9L184.6 527.7L179.4 522.7L176.8 520.5L174.2 518.4L171.5 516.6L168.9 515.0L166.3 513.7L163.7 512.7L161.1 512.1L158.5 511.8L155.9 511.9L153.3 512.4L150.6 513.2L148.0 514.5L127.1 528.8" fill="url(#gg19)"/>
<path d="M125.9 528.3L144.2 515.7L146.8 514.0L149.4 512.7L152.1 511.8L154.7 511.3L157.3 511.2L159.9 511.4L162.5 512.0L165.1 512.9L167.7 514.1L170.3 515.5L173.0 517.3L175.6 519.2L178.2 521.4L183.4 526.1L196.5 539.0L201.7 543.8L204.3 546.0L206.9 548.0L209.5 549.8L212.7 554.9L210.1 553.2L207.5 551.2L204.9 549.1L202.3 546.7L197.1 541.4L184.0 527.6L178.8 522.5L176.2 520.3L173.5 518.3L170.9 516.6L168.3 515.1L165.7 514.0L163.1 513.2L160.5 512.8L157.9 512.8L155.2 513.3L152.6 514.1L150.0 515.3L129.1 529.7" fill="url(#gg20)"/>
<path d="M127.9 529.2L146.2 516.5L148.8 514.8L151.4 513.6L154.1 512.7L156.7 512.3L159.3 512.2L161.9 512.5L164.5 513.2L167.1 514.3L169.7 515.6L172.3 517.3L175.0 519.2L177.6 521.3L182.8 526.1L198.5 542.2L203.7 547.1L206.3 549.3L208.9 551.3L211.5 553.0L214.7 558.0L212.1 556.4L209.5 554.6L206.9 552.4L204.3 550.0L199.0 544.7L186.0 530.1L180.8 524.7L178.1 522.3L175.5 520.1L172.9 518.2L170.3 516.6L167.7 515.3L165.1 514.4L162.5 513.9L159.9 513.8L157.2 514.1L154.6 514.9L152.0 516.2L131.1 530.5" fill="url(#gg21)"/>
<path d="M129.9 530.0L148.2 517.4L150.8 515.7L153.4 514.4L156.0 513.6L158.7 513.2L161.3 513.3L163.9 513.7L166.5 514.5L169.1 515.7L171.7 517.2L174.3 519.0L176.9 521.1L179.6 523.4L184.8 528.6L197.8 542.7L203.1 548.0L205.7 550.4L208.3 552.6L210.9 554.5L213.5 556.1L216.7 561.1L214.1 559.7L211.5 558.0L208.9 555.9L206.3 553.5L203.7 550.9L198.4 545.1L188.0 532.8L182.8 527.0L180.1 524.4L177.5 522.0L174.9 519.9L172.3 518.1L169.7 516.7L167.1 515.6L164.5 515.0L161.9 514.8L159.2 515.0L156.6 515.8L154.0 517.0L133.1 531.3" fill="url(#gg22)"/>
<path d="M131.9 530.8L150.2 518.2L152.8 516.5L155.4 515.3L158.0 514.5L160.7 514.2L163.3 514.3L165.9 514.9L168.5 515.9L171.1 517.2L173.7 518.9L176.3 520.9L178.9 523.1L181.6 525.6L186.8 531.2L199.8 546.0L205.1 551.4L207.7 553.8L210.3 555.9L212.9 557.7L215.5 559.3L218.7 564.2L216.1 562.9L213.5 561.3L210.9 559.3L208.3 557.0L205.7 554.4L203.0 551.6L197.8 545.4L187.4 532.5L184.8 529.4L182.1 526.6L179.5 524.0L176.9 521.7L174.3 519.7L171.7 518.1L169.1 516.9L166.5 516.1L163.9 515.8L161.2 516.0L158.6 516.6L156.0 517.8L135.1 532.2" fill="url(#gg23)"/>
<path d="M133.9 531.7L152.2 519.0L154.8 517.3L157.4 516.1L160.0 515.4L162.7 515.2L165.3 515.4L167.9 516.1L170.5 517.2L173.1 518.7L175.7 520.6L178.3 522.8L180.9 525.3L183.6 528.0L188.8 533.9L199.2 546.5L204.5 552.3L207.1 554.9L209.7 557.3L212.3 559.3L214.9 561.0L217.5 562.4L220.7 566.9L218.1 565.9L215.5 564.5L212.9 562.6L210.3 560.4L207.6 557.8L205.0 555.0L199.8 548.6L189.4 535.1L184.1 528.8L181.5 526.0L178.9 523.5L176.3 521.3L173.7 519.5L171.1 518.1L168.5 517.2L165.8 516.8L163.2 516.9L160.6 517.5L158.0 518.7L137.1 533.0" fill="url(#gg24)"/>
<path d="M135.9 532.5L154.2 519.9L156.8 518.2L159.4 517.0L162.0 516.3L164.7 516.2L167.3 516.5L169.9 517.4L172.5 518.6L175.1 520.3L177.7 522.4L180.3 524.8L182.9 527.5L185.6 530.4L201.2 549.9L203.8 552.9L206.5 555.8L209.1 558.4L211.7 560.7L214.3 562.6L216.9 564.2L219.5 565.3L222.7 569.4L220.1 568.6L217.5 567.4L214.9 565.7L212.3 563.5L209.6 561.0L207.0 558.2L204.4 555.1L199.2 548.3L188.7 534.2L186.1 530.9L183.5 527.9L180.9 525.2L178.3 522.8L175.7 520.9L173.1 519.3L170.5 518.3L167.8 517.7L165.2 517.8L162.6 518.3L160.0 519.5L139.1 533.8" fill="url(#gg25)"/>
<path d="M137.9 533.3L156.2 520.7L158.8 519.0L161.4 517.8L164.0 517.2L166.6 517.2L169.3 517.6L171.9 518.6L174.5 520.0L177.1 521.9L179.7 524.2L182.3 526.8L184.9 529.7L190.2 536.1L200.6 549.9L205.8 556.3L208.4 559.1L211.1 561.7L213.7 563.9L216.3 565.7L218.9 567.1L221.5 568.0L224.7 571.5L222.1 571.0L219.5 569.9L216.9 568.4L214.3 566.3L211.6 563.9L209.0 561.1L206.4 558.0L201.2 551.0L190.7 536.4L188.1 533.0L185.5 529.8L182.9 526.9L180.3 524.3L177.7 522.2L175.1 520.5L172.5 519.3L169.8 518.7L167.2 518.6L164.6 519.2L162.0 520.3L141.1 534.7" fill="url(#gg26)"/>
<path d="M139.9 534.2L158.2 521.5L160.8 519.8L163.4 518.7L166.0 518.1L168.6 518.1L171.3 518.7L173.9 519.8L176.5 521.4L179.1 523.4L181.7 525.9L184.3 528.7L186.9 531.8L192.2 538.6L202.6 552.9L205.2 556.3L207.8 559.4L210.4 562.2L213.1 564.7L215.7 566.8L218.3 568.4L220.9 569.6L223.5 570.3L226.7 573.2L224.1 573.0L221.5 572.1L218.9 570.7L216.2 568.8L213.6 566.4L211.0 563.6L208.4 560.5L205.8 557.1L192.7 538.4L190.1 534.8L187.5 531.4L184.9 528.4L182.3 525.7L179.7 523.4L177.1 521.6L174.4 520.4L171.8 519.6L169.2 519.5L166.6 520.0L164.0 521.1L143.1 535.5" fill="url(#gg27)"/>
<path d="M141.9 535.0L160.2 522.4L162.8 520.6L165.4 519.5L168.0 519.0L170.6 519.1L173.3 519.7L175.9 521.0L178.5 522.7L181.1 524.9L183.7 527.5L186.3 530.5L188.9 533.7L194.2 540.8L202.0 552.0L207.2 559.0L209.8 562.1L212.4 564.9L215.1 567.4L217.7 569.3L220.3 570.8L222.9 571.8L225.5 572.2L228.7 574.8L226.1 574.7L223.5 574.0L220.9 572.8L218.2 571.0L215.6 568.7L213.0 565.9L210.4 562.8L207.8 559.4L202.6 551.9L194.7 540.2L192.1 536.5L189.5 533.0L186.9 529.8L184.3 527.0L181.7 524.6L179.1 522.7L176.4 521.3L173.8 520.5L171.2 520.4L168.6 520.8L166.0 522.0L145.1 536.3" fill="url(#gg28)"/>
<path d="M143.9 535.8L162.2 523.2L164.8 521.5L167.4 520.3L170.0 519.9L172.6 520.0L175.2 520.7L177.9 522.1L180.5 523.9L183.1 526.2L185.7 529.0L188.3 532.1L190.9 535.5L204.0 554.4L206.6 558.0L209.2 561.5L211.8 564.6L214.4 567.3L217.0 569.7L219.7 571.6L222.3 572.9L224.9 573.7L227.5 573.9L230.7 576.1L228.1 576.3L225.5 575.8L222.9 574.7L220.2 573.0L217.6 570.8L215.0 568.1L212.4 565.0L209.8 561.6L204.6 554.0L196.7 542.0L194.1 538.2L191.5 534.5L188.9 531.2L186.3 528.3L183.7 525.8L181.1 523.8L178.4 522.3L175.8 521.4L173.2 521.2L170.6 521.7L168.0 522.8L147.1 537.2" fill="url(#gg29)"/>
<path d="M145.9 536.7L164.2 524.0L166.8 522.3L169.4 521.2L172.0 520.7L174.6 520.9L177.2 521.7L179.9 523.1L182.5 525.1L185.1 527.5L187.7 530.4L190.3 533.6L192.9 537.2L206.0 556.6L208.6 560.3L211.2 563.7L213.8 566.8L216.4 569.5L219.0 571.8L221.7 573.6L224.3 574.8L226.9 575.4L229.5 575.3L232.7 577.4L230.1 577.9L227.5 577.6L224.9 576.7L222.2 575.1L219.6 573.0L217.0 570.4L214.4 567.3L211.8 563.8L209.2 560.1L196.1 539.9L193.5 536.1L190.9 532.7L188.3 529.6L185.7 527.0L183.1 524.8L180.4 523.3L177.8 522.4L175.2 522.1L172.6 522.5L170.0 523.6L149.1 538.0" fill="url(#gg30)"/>
<path d="M147.9 537.5L168.8 523.1L171.4 522.0L174.0 521.6L176.6 521.8L179.2 522.7L181.9 524.2L184.5 526.2L187.1 528.8L189.7 531.8L192.3 535.2L194.9 538.8L208.0 558.8L210.6 562.5L213.2 565.9L215.8 569.0L218.4 571.7L221.0 573.9L223.7 575.5L226.3 576.5L228.9 576.9L231.5 576.7L234.7 578.7L232.1 579.4L229.5 579.4L226.8 578.6L224.2 577.3L221.6 575.3L219.0 572.7L216.4 569.7L213.8 566.2L211.2 562.5L198.1 541.7L195.5 537.8L192.9 534.2L190.3 531.0L187.7 528.2L185.0 526.0L182.4 524.3L179.8 523.3L177.2 522.9L174.6 523.3L172.0 524.4L151.1 538.8" fill="url(#gg31)"/>
<path d="M149.9 538.3L170.8 523.9L173.4 522.8L176.0 522.4L178.6 522.7L181.2 523.7L183.9 525.3L186.5 527.4L189.1 530.1L191.7 533.3L194.3 536.8L199.5 544.6L207.4 557.0L210.0 561.0L212.6 564.8L215.2 568.2L217.8 571.3L220.4 573.9L223.0 576.0L225.7 577.4L228.3 578.3L230.9 578.5L233.5 577.9L236.7 579.8L234.1 580.9L231.5 581.2L228.8 580.7L226.2 579.6L223.6 577.7L221.0 575.3L218.4 572.4L215.8 568.9L213.2 565.1L207.9 556.8L200.1 543.7L197.5 539.7L194.9 535.9L192.3 532.5L189.7 529.5L187.0 527.1L184.4 525.4L181.8 524.2L179.2 523.8L176.6 524.2L174.0 525.3L153.1 539.7" fill="url(#gg32)"/>
<path d="M151.9 539.2L172.8 524.8L175.4 523.7L178.0 523.3L180.6 523.7L183.2 524.7L185.8 526.4L188.5 528.7L191.1 531.6L193.7 534.8L196.3 538.5L201.5 546.6L209.4 559.4L212.0 563.5L214.6 567.3L217.2 570.7L219.8 573.7L222.4 576.2L225.0 578.2L227.6 579.5L230.3 580.1L232.9 580.0L235.5 579.1L238.7 580.7L236.1 582.2L233.5 583.0L230.8 582.9L228.2 582.1L225.6 580.5L223.0 578.3L220.4 575.5L217.8 572.1L215.2 568.3L212.6 564.1L202.1 546.2L199.5 541.9L196.9 537.8L194.3 534.2L191.7 531.1L189.0 528.5L186.4 526.5L183.8 525.2L181.2 524.7L178.6 525.0L176.0 526.1L155.1 540.5" fill="url(#gg33)"/>
<path d="M153.9 540.0L174.8 525.6L177.4 524.5L180.0 524.2L182.6 524.6L185.2 525.8L187.8 527.6L190.5 530.1L193.1 533.1L195.7 536.6L198.3 540.5L203.5 549.0L211.4 562.2L214.0 566.3L216.6 570.1L219.2 573.5L221.8 576.5L224.4 578.8L227.0 580.5L229.6 581.6L232.3 581.9L234.9 581.4L237.5 580.2L240.7 581.2L238.1 583.3L235.5 584.7L232.8 585.1L230.2 584.8L227.6 583.6L225.0 581.6L222.4 579.0L219.8 575.7L217.2 571.9L214.6 567.7L201.5 544.4L198.9 540.1L196.3 536.2L193.7 532.8L191.0 529.9L188.4 527.7L185.8 526.3L183.2 525.7L180.6 525.9L178.0 526.9L157.1 541.3" fill="url(#gg34)"/>
<path d="M155.9 540.8L176.8 526.4L179.4 525.3L182.0 525.1L184.6 525.7L187.2 527.0L189.8 529.0L192.5 531.7L195.1 535.0L197.7 538.7L200.3 542.8L213.4 565.5L216.0 569.7L218.6 573.5L221.2 576.8L223.8 579.6L226.4 581.7L229.0 583.2L231.6 583.8L234.3 583.7L236.9 582.7L239.5 580.9L242.7 581.2L240.1 583.9L237.4 585.9L234.8 587.1L232.2 587.3L229.6 586.6L227.0 585.0L224.4 582.6L221.8 579.5L219.2 575.8L216.5 571.6L213.9 567.0L203.5 547.3L200.9 542.6L198.3 538.4L195.6 534.6L193.0 531.5L190.4 529.0L187.8 527.4L185.2 526.6L182.6 526.7L180.0 527.8L159.1 542.2" fill="url(#gg35)"/>
<path d="M157.9 541.7L178.8 527.3L181.4 526.2L184.0 526.0L186.6 526.7L189.2 528.3L191.8 530.5L194.4 533.5L197.1 537.0L199.7 541.1L202.3 545.5L212.7 564.7L215.3 569.3L218.0 573.5L220.6 577.2L223.2 580.4L225.8 583.0L228.4 584.8L231.0 585.8L233.6 586.0L236.2 585.2L238.9 583.6L241.5 581.3L244.7 580.5L242.1 584.0L239.4 586.7L236.8 588.5L234.2 589.4L231.6 589.3L229.0 588.2L226.4 586.2L223.8 583.3L221.2 579.8L218.5 575.6L215.9 571.0L205.5 550.2L202.9 545.3L200.3 540.7L197.6 536.6L195.0 533.1L192.4 530.4L189.8 528.5L187.2 527.6L184.6 527.6L182.0 528.6L161.1 543.0" fill="url(#gg36)"/>
<path d="M159.9 542.5L180.8 528.1L183.4 527.0L186.0 527.0L188.6 527.8L191.2 529.6L193.8 532.1L196.4 535.4L199.1 539.3L201.7 543.7L206.9 553.4L214.7 568.6L217.3 573.2L220.0 577.4L222.6 581.1L225.2 584.1L227.8 586.3L230.4 587.7L233.0 588.2L235.6 587.7L238.2 586.3L240.9 584.0L243.5 581.0L246.7 579.3L244.1 583.5L241.4 586.9L238.8 589.4L236.2 591.0L233.6 591.5L231.0 591.0L228.4 589.4L225.8 586.9L223.2 583.6L220.5 579.5L217.9 574.9L215.3 569.7L204.9 548.0L202.3 543.0L199.6 538.6L197.0 534.8L194.4 531.8L191.8 529.7L189.2 528.5L186.6 528.4L184.0 529.4L163.1 543.8" fill="url(#gg37)"/>
<path d="M161.9 543.3L182.8 528.9L185.4 527.9L188.0 527.9L190.6 529.0L193.2 531.0L195.8 533.8L198.4 537.4L201.1 541.6L203.7 546.3L214.1 567.5L216.7 572.5L219.3 577.2L222.0 581.3L224.6 584.8L227.2 587.5L229.8 589.3L232.4 590.2L235.0 590.1L237.6 588.9L240.2 586.8L242.9 583.9L245.5 580.1L248.7 577.6L246.0 582.5L243.4 586.6L240.8 589.8L238.2 592.1L235.6 593.3L233.0 593.4L230.4 592.3L227.8 590.2L225.1 587.1L222.5 583.2L219.9 578.5L217.3 573.3L206.9 550.6L204.2 545.3L201.6 540.5L199.0 536.4L196.4 533.1L193.8 530.8L191.2 529.5L188.6 529.3L186.0 530.2L165.1 544.7" fill="url(#gg38)"/>
<path d="M163.9 544.2L184.8 529.7L187.4 528.8L190.0 528.9L192.6 530.1L195.2 532.3L197.8 535.4L200.4 539.4L203.1 543.9L205.7 549.0L216.1 571.2L218.7 576.4L221.3 581.0L224.0 585.0L226.6 588.3L229.2 590.6L231.8 592.0L234.4 592.3L237.0 591.5L239.6 589.6L242.2 586.8L244.9 583.2L247.5 578.7L250.7 575.7L248.0 581.2L245.4 586.0L242.8 589.8L240.2 592.7L237.6 594.6L235.0 595.3L232.4 594.8L229.8 593.1L227.1 590.3L224.5 586.5L221.9 582.0L219.3 576.8L208.9 553.1L206.2 547.5L203.6 542.4L201.0 538.0L198.4 534.5L195.8 531.9L193.2 530.4L190.6 530.1L188.0 531.1L167.1 545.5" fill="url(#gg39)"/>
<path d="M165.9 545.0L186.8 530.6L189.4 529.6L192.0 529.8L194.6 531.2L197.2 533.7L199.8 537.1L202.4 541.3L205.0 546.2L207.7 551.6L215.5 569.1L218.1 574.7L220.7 579.9L223.3 584.5L225.9 588.4L228.6 591.4L231.2 593.3L233.8 594.2L236.4 593.9L239.0 592.4L241.6 589.9L244.2 586.4L246.8 582.1L249.5 576.9L252.7 573.3L250.0 579.5L247.4 585.0L244.8 589.5L242.2 593.0L239.6 595.5L237.0 596.9L234.4 596.9L231.8 595.7L229.1 593.3L226.5 589.8L223.9 585.3L221.3 580.1L218.7 574.3L210.9 555.7L208.2 549.8L205.6 544.3L203.0 539.6L200.4 535.8L197.8 533.0L195.2 531.3L192.6 531.0L190.0 531.9L169.1 546.3" fill="url(#gg40)"/>
<path d="M167.9 545.8L188.8 531.4L191.4 530.4L194.0 530.8L196.6 532.3L199.2 535.0L201.8 538.7L204.4 543.2L207.0 548.4L209.7 554.1L217.5 572.4L220.1 578.1L222.7 583.3L225.3 587.9L227.9 591.5L230.6 594.2L233.2 595.7L235.8 596.0L238.4 595.0L241.0 592.9L243.6 589.7L246.2 585.6L248.8 580.6L251.5 574.8L254.7 570.6L252.0 577.5L249.4 583.5L246.8 588.7L244.2 593.0L241.6 596.1L239.0 598.1L236.4 598.8L233.8 598.1L231.1 596.1L228.5 592.9L225.9 588.6L223.3 583.4L220.7 577.6L210.2 552.0L207.6 546.3L205.0 541.2L202.4 537.1L199.8 534.1L197.2 532.3L194.6 531.8L192.0 532.7L171.1 547.1" fill="url(#gg41)"/>
<path d="M169.9 546.7L190.8 532.2L193.4 531.3L196.0 531.7L198.6 533.4L201.2 536.3L203.8 540.3L206.4 545.1L209.0 550.7L219.5 575.6L222.1 581.5L224.7 586.7L227.3 591.0L229.9 594.4L232.6 596.7L235.2 597.7L237.8 597.4L240.4 595.8L243.0 593.0L245.6 589.2L248.2 584.4L250.8 578.7L253.5 572.3L256.6 567.5L254.0 575.0L251.4 581.8L248.8 587.6L246.2 592.5L243.6 596.3L241.0 599.0L238.4 600.4L235.7 600.2L233.1 598.7L230.5 595.8L227.9 591.7L225.3 586.7L222.7 580.8L212.2 554.3L209.6 548.2L207.0 542.9L204.4 538.5L201.8 535.2L199.2 533.2L196.6 532.6L193.9 533.5L173.0 548.0" fill="url(#gg42)"/>
<path d="M171.8 547.5L192.7 533.0L195.4 532.1L198.0 532.6L200.6 534.5L203.2 537.7L205.8 541.9L208.4 547.0L211.0 552.9L221.5 578.9L224.1 584.7L226.7 589.9L229.3 594.1L231.9 597.2L234.5 599.0L237.2 599.5L239.8 598.5L242.4 596.2L245.0 592.8L247.6 588.4L250.2 582.9L252.8 576.5L255.4 569.4L258.6 564.2L256.0 572.3L253.4 579.7L250.8 586.2L248.2 591.8L245.6 596.3L243.0 599.5L240.4 601.6L237.7 602.1L235.1 601.1L232.5 598.6L229.9 594.8L227.3 589.8L224.7 583.9L222.1 577.4L214.2 556.6L211.6 550.2L209.0 544.5L206.4 539.8L203.8 536.3L201.2 534.1L198.6 533.5L195.9 534.4L175.0 548.8" fill="url(#gg43)"/>
<path d="M173.8 548.3L194.7 533.9L197.4 533.0L200.0 533.6L202.6 535.6L205.2 539.0L207.8 543.5L210.4 549.0L213.0 555.2L220.9 575.6L223.5 582.1L226.1 587.9L228.7 593.0L231.3 596.9L233.9 599.7L236.5 601.0L239.2 600.9L241.8 599.2L244.4 596.3L247.0 592.3L249.6 587.1L252.2 581.0L254.8 573.9L257.4 566.3L260.6 560.8L258.0 569.3L255.4 577.2L252.8 584.4L250.2 590.7L247.6 595.9L245.0 599.8L242.4 602.5L239.7 603.7L237.1 603.2L234.5 601.2L231.9 597.7L229.3 592.9L226.7 587.0L224.1 580.4L216.2 558.9L213.6 552.1L211.0 546.1L208.4 541.1L205.8 537.4L203.2 535.1L200.6 534.3L197.9 535.2L177.0 549.6" fill="url(#gg44)"/>
<path d="M175.8 549.1L196.7 534.7L199.4 533.8L202.0 534.5L204.6 536.7L207.2 540.3L209.8 545.2L212.4 551.0L215.0 557.5L222.9 578.6L225.5 585.2L228.1 591.1L230.7 595.9L233.3 599.6L235.9 602.0L238.5 602.8L241.2 602.0L243.8 599.7L246.4 596.1L249.0 591.4L251.6 585.5L254.2 578.7L256.8 571.1L259.4 562.9L262.6 557.3L260.0 566.2L257.4 574.7L254.8 582.5L252.2 589.4L249.6 595.2L247.0 599.8L244.3 603.1L241.7 605.0L239.1 605.1L236.5 603.5L233.9 600.4L231.3 595.8L228.7 590.0L226.1 583.3L218.2 561.1L215.6 554.1L213.0 547.8L210.4 542.5L207.8 538.5L205.2 536.0L202.5 535.1L199.9 536.0L179.0 550.5" fill="url(#gg45)"/>
<path d="M177.8 550.0L198.7 535.5L201.4 534.6L204.0 535.4L206.6 537.8L209.2 541.7L211.8 546.8L214.4 552.9L217.0 559.8L224.9 581.6L227.5 588.2L230.1 594.1L232.7 598.8L235.3 602.1L237.9 604.0L240.5 604.2L243.2 602.8L245.8 599.8L248.4 595.6L251.0 590.2L253.6 583.7L256.2 576.2L258.8 568.0L261.4 559.4L264.6 553.8L259.4 571.9L256.8 580.3L254.2 587.8L251.6 594.3L249.0 599.6L246.3 603.5L243.7 606.0L241.1 606.7L238.5 605.7L235.9 602.9L233.3 598.5L230.7 592.9L228.1 586.2L220.2 563.3L217.6 556.0L215.0 549.4L212.4 543.8L209.8 539.5L207.2 536.9L204.5 535.9L201.9 536.9L181.0 551.3" fill="url(#gg46)"/>
<path d="M179.8 550.8L200.7 536.4L203.3 535.5L206.0 536.3L208.6 538.9L211.2 543.0L213.8 548.4L216.4 554.8L219.0 562.0L224.2 577.2L226.9 584.5L229.5 591.2L232.1 596.9L234.7 601.4L237.3 604.4L239.9 605.8L242.5 605.4L245.1 603.3L247.8 599.8L250.4 594.9L253.0 588.8L255.6 581.6L258.2 573.6L263.4 555.9L266.6 550.2L261.4 569.0L258.8 577.9L256.2 586.0L253.6 593.2L251.0 599.1L248.3 603.6L245.7 606.7L243.1 608.1L240.5 607.6L237.9 605.3L235.3 601.2L232.7 595.7L230.1 589.0L227.4 581.5L222.2 565.6L219.6 557.9L217.0 551.0L214.4 545.1L211.8 540.6L209.2 537.8L206.5 536.8L203.9 537.7L183.0 552.1" fill="url(#gg47)"/>
<path d="M181.8 551.6L202.7 537.2L205.3 536.3L208.0 537.2L210.6 540.0L213.2 544.3L215.8 550.0L218.4 556.7L226.2 579.9L228.9 587.3L231.5 594.0L234.1 599.6L236.7 603.9L239.3 606.5L241.9 607.3L244.5 606.3L247.1 603.6L249.8 599.4L252.4 593.9L255.0 587.2L257.6 579.4L260.2 570.8L265.4 552.4L268.6 546.6L260.8 575.2L258.2 583.9L255.6 591.7L253.0 598.3L250.3 603.5L247.7 607.2L245.1 609.3L242.5 609.4L239.9 607.6L237.3 603.8L234.7 598.5L232.1 591.8L229.4 584.2L221.6 559.9L219.0 552.6L216.4 546.4L213.8 541.7L211.2 538.7L208.5 537.6L205.9 538.5L185.0 553.0" fill="url(#gg48)"/>
<path d="M183.8 552.5L204.7 538.0L207.3 537.1L210.0 538.1L212.6 541.1L215.2 545.6L217.8 551.6L220.4 558.7L228.2 582.6L230.9 590.1L233.5 596.8L236.1 602.3L238.7 606.2L241.3 608.4L243.9 608.6L246.5 607.0L249.1 603.6L251.8 598.8L254.4 592.6L257.0 585.2L259.6 576.9L267.4 548.8L270.6 542.9L262.8 572.2L260.2 581.4L257.6 589.9L254.9 597.2L252.3 603.1L249.7 607.5L247.1 610.3L244.5 611.1L241.9 609.7L239.3 606.4L236.7 601.3L234.0 594.7L231.4 587.1L223.6 561.9L221.0 554.3L218.4 547.8L215.8 542.8L213.1 539.6L210.5 538.4L207.9 539.4L187.0 553.8" fill="url(#gg49)"/>
<path d="M185.8 553.3L206.7 538.9L209.3 537.9L211.9 539.1L214.6 542.1L217.2 547.0L219.8 553.3L222.4 560.7L230.2 585.4L232.8 593.0L235.5 599.6L238.1 604.9L240.7 608.4L243.3 610.1L245.9 609.7L248.5 607.4L251.1 603.4L253.7 597.9L256.4 591.0L259.0 583.0L261.6 574.1L269.4 545.2L272.6 539.1L262.2 578.5L259.6 587.6L256.9 595.6L254.3 602.3L251.7 607.5L249.1 610.9L246.5 612.5L243.9 611.8L241.3 609.0L238.7 604.1L236.0 597.7L233.4 590.0L225.6 564.0L223.0 556.1L220.4 549.2L217.8 543.9L215.1 540.5L212.5 539.2L209.9 540.2L189.0 554.6" fill="url(#gg50)"/>
<path d="M187.8 554.1L208.7 539.7L211.3 538.7L213.9 540.0L216.6 543.3L219.2 548.4L221.8 555.0L224.4 562.7L232.2 588.2L234.8 595.9L237.5 602.4L240.1 607.4L242.7 610.6L245.3 611.7L247.9 610.6L250.5 607.6L253.1 602.9L255.7 596.6L258.4 589.0L261.0 580.3L271.4 541.4L274.6 535.3L272.0 544.5L264.2 575.1L261.6 584.8L258.9 593.6L256.3 601.1L253.7 607.1L251.1 611.3L248.5 613.7L245.9 613.7L243.3 611.5L240.7 607.0L238.0 600.8L235.4 593.0L232.8 584.4L227.6 566.3L225.0 557.9L222.4 550.7L219.8 545.1L217.1 541.5L214.5 540.1L211.9 541.0L191.0 555.5" fill="url(#gg51)"/>
<path d="M189.8 555.0L210.7 540.5L213.3 539.6L215.9 540.9L218.6 544.4L221.2 549.8L223.8 556.8L226.4 564.9L234.2 591.2L236.8 598.9L239.5 605.3L242.1 610.0L244.7 612.6L247.3 613.0L249.9 611.1L252.5 607.4L255.1 601.9L257.7 594.9L260.4 586.5L263.0 577.2L270.8 547.0L273.4 537.6L276.6 531.6L274.0 540.4L271.4 550.2L263.5 581.5L260.9 591.0L258.3 599.4L255.7 606.3L253.1 611.4L250.5 614.5L247.9 615.5L245.3 613.9L242.6 609.9L240.0 603.9L237.4 596.2L234.8 587.4L229.6 568.6L227.0 559.8L224.4 552.2L221.7 546.3L219.1 542.4L216.5 540.9L213.9 541.9L193.0 556.3" fill="url(#gg52)"/>
<path d="M191.8 555.8L212.7 541.4L215.3 540.4L217.9 541.8L220.6 545.6L223.2 551.3L225.8 558.7L228.4 567.2L233.6 585.6L236.2 594.3L238.8 602.0L241.5 608.2L244.1 612.4L246.7 614.5L249.3 614.1L251.9 611.4L254.5 606.8L257.1 600.5L259.7 592.6L262.4 583.5L272.8 542.9L275.4 533.8L278.6 528.4L276.0 536.4L273.4 545.8L265.5 577.8L262.9 588.0L260.3 597.2L257.7 605.0L255.1 611.1L252.5 615.1L249.9 616.9L247.3 616.1L244.6 612.7L242.0 607.0L239.4 599.4L236.8 590.5L231.6 571.1L229.0 561.9L226.4 553.8L223.7 547.5L221.1 543.3L218.5 541.7L215.9 542.7L195.0 557.1" fill="url(#gg53)"/>
<path d="M193.8 556.6L214.7 542.2L217.3 541.2L219.9 542.8L222.5 546.8L225.2 552.9L227.8 560.6L230.4 569.6L235.6 588.6L238.2 597.5L240.8 605.1L243.4 611.0L246.1 614.8L248.7 616.1L251.3 614.8L253.9 611.3L256.5 605.8L259.1 598.6L261.7 589.9L264.3 580.1L272.2 548.4L274.8 538.8L277.4 530.3L280.6 525.9L278.0 532.9L275.4 541.6L272.8 551.6L264.9 584.5L262.3 594.6L259.7 603.3L257.1 610.3L254.5 615.3L251.9 618.0L249.3 618.1L246.6 615.4L244.0 610.1L241.4 602.7L238.8 593.7L233.6 573.6L231.0 564.0L228.4 555.4L225.7 548.7L223.1 544.3L220.5 542.5L217.9 543.5L197.0 558.0" fill="url(#gg54)"/>
<path d="M195.8 557.5L216.7 543.0L219.3 542.0L221.9 543.7L224.5 548.0L227.2 554.5L229.8 562.7L232.4 572.1L237.6 591.8L240.2 600.7L242.8 608.3L245.4 613.8L248.1 616.9L250.7 617.4L253.3 615.2L255.9 610.8L258.5 604.4L261.1 596.2L263.7 586.7L271.6 554.4L274.2 544.1L276.8 534.9L279.4 527.3L282.6 524.2L280.0 529.9L277.4 537.7L274.8 547.2L272.2 557.9L266.9 580.6L264.3 591.4L261.7 601.1L259.1 609.1L256.5 615.1L253.9 618.8L251.2 619.9L248.6 617.9L246.0 613.1L243.4 605.9L240.8 596.9L233.0 566.1L230.4 557.1L227.7 550.0L225.1 545.2L222.5 543.3L219.9 544.3L199.0 558.8" fill="url(#gg55)"/>
<path d="M87.2 610.2L87.2 512.2M87.2 610.2L199.0 656.8M199.0 656.8L282.6 599.0M87.2 610.2L83.5 608.7M87.2 561.2L83.5 559.7M87.2 512.2L83.5 510.7M110.7 620.0L107.4 622.3M141.4 632.8L138.1 635.1M171.7 645.4L168.4 647.7M199.0 656.8L202.7 658.3M242.3 626.9L246.0 628.4" stroke="#484848" stroke-width="0.85" fill="none"/></g>
<g id="ph"><path d="M437.5 589.5L524.3 652.6M437.5 589.5L437.5 503.8M487.2 562.3L574.0 625.4M487.2 562.3L487.2 476.6M455.7 602.8L553.9 549.0M553.9 549.0L553.9 463.3M479.6 620.1L577.8 566.3M577.8 566.3L577.8 480.6M503.1 637.2L601.3 583.4M601.3 583.4L601.3 497.7M437.5 589.5L535.7 535.7M535.7 535.7L622.5 598.8M437.5 546.6L535.7 492.8M535.7 492.8L622.5 555.9M437.5 503.8L535.7 450.0M535.7 450.0L622.5 513.1M535.7 535.7L535.7 450.0M622.5 598.8L622.5 513.1M437.5 503.8L535.7 450.0M535.7 450.0L622.5 513.1M437.5 589.5L535.7 535.7M535.7 535.7L622.5 598.8" stroke="#e8e8e8" stroke-width="1" fill="none"/>
<path d="M437.5 589.5L535.7 535.7L537.7 537.1L439.5 590.9" fill="url(#gh0)"/>
<path d="M438.3 590.1L536.5 536.3L539.6 538.6L441.4 592.4" fill="url(#gh1)"/>
<path d="M440.3 591.5L538.5 537.7L541.6 540.0L443.4 593.8" fill="url(#gh2)"/>
<path d="M442.2 592.9L540.4 539.1L543.6 541.4L445.4 595.2" fill="url(#gh3)"/>
<path d="M444.2 594.4L542.4 540.6L545.6 542.9L447.4 596.7" fill="url(#gh4)"/>
<path d="M446.2 595.8L544.4 542.0L547.5 544.3L449.3 598.1" fill="url(#gh5)"/>
<path d="M448.2 597.2L546.4 543.4L549.5 545.7L451.3 599.5" fill="url(#gh6)"/>
<path d="M450.1 598.7L548.3 544.9L551.5 547.2L453.3 601.0" fill="url(#gh7)"/>
<path d="M452.1 600.1L550.3 546.3L553.5 548.6L455.3 602.4" fill="url(#gh8)"/>
<path d="M454.1 601.5L552.3 547.7L555.4 550.0L457.2 603.8" fill="url(#gh9)"/>
<path d="M456.0 603.0L554.2 549.2L557.4 551.5L459.2 605.3" fill="url(#gh10)"/>
<path d="M458.0 604.4L556.2 550.6L559.4 552.9L461.2 606.7" fill="url(#gh11)"/>
<path d="M460.0 605.8L558.2 552.0L561.3 554.3L463.1 608.1" fill="url(#gh12)"/>
<path d="M462.0 607.3L560.2 553.5L563.3 555.8L465.1 609.6" fill="url(#gh13)"/>
<path d="M463.9 608.7L562.1 554.9L565.3 557.2L467.1 611.0" fill="url(#gh14)"/>
<path d="M465.9 610.2L564.1 556.4L567.3 558.6L469.1 612.4" fill="url(#gh15)"/>
<path d="M467.9 611.6L566.1 557.8L569.2 560.1L471.0 613.9" fill="url(#gh16)"/>
<path d="M469.9 613.0L568.1 559.2L571.2 561.5L473.0 615.3" fill="url(#gh17)"/>
<path d="M471.8 614.5L570.0 560.7L573.2 562.9L475.0 616.7" fill="url(#gh18)"/>
<path d="M473.8 615.9L572.0 562.1L575.2 564.4L477.0 618.2" fill="url(#gh19)"/>
<path d="M475.8 617.3L574.0 563.5L577.1 565.8L478.9 619.6" fill="url(#gh20)"/>
<path d="M477.7 618.8L575.9 565.0L579.1 567.2L480.9 621.0" fill="url(#gh21)"/>
<path d="M479.7 620.2L577.9 566.4L581.1 568.7L482.9 622.5" fill="url(#gh22)"/>
<path d="M481.7 621.6L579.9 567.8L583.0 570.1L484.8 623.9" fill="url(#gh23)"/>
<path d="M483.7 623.1L581.9 569.3L585.0 571.6L486.8 625.4" fill="url(#gh24)"/>
<path d="M485.6 624.5L583.8 570.7L587.0 573.0L488.8 626.8" fill="url(#gh25)"/>
<path d="M487.6 625.9L585.8 572.1L589.0 574.4L490.8 628.2" fill="url(#gh26)"/>
<path d="M489.6 627.4L587.8 573.6L590.9 575.9L492.7 629.7" fill="url(#gh27)"/>
<path d="M491.6 628.8L589.8 575.0L592.9 577.3L494.7 631.1" fill="url(#gh28)"/>
<path d="M493.5 630.2L591.7 576.4L594.9 578.7L496.7 632.5" fill="url(#gh29)"/>
<path d="M495.5 631.7L593.7 577.9L596.9 580.2L498.7 634.0" fill="url(#gh30)"/>
<path d="M497.5 633.1L595.7 579.3L598.8 581.6L500.6 635.4" fill="url(#gh31)"/>
<path d="M499.4 634.5L597.6 580.7L600.8 583.0L502.6 636.8" fill="url(#gh32)"/>
<path d="M501.4 636.0L599.6 582.2L602.8 584.5L504.6 638.3" fill="url(#gh33)"/>
<path d="M503.4 637.4L601.6 583.6L604.7 585.9L506.5 639.7" fill="url(#gh34)"/>
<path d="M505.4 638.8L603.6 585.0L606.7 587.3L508.5 641.1" fill="url(#gh35)"/>
<path d="M507.3 640.3L605.5 586.5L608.7 588.8L510.5 642.6" fill="url(#gh36)"/>
<path d="M509.3 641.7L607.5 587.9L610.7 590.2L512.5 644.0" fill="url(#gh37)"/>
<path d="M511.3 643.1L609.5 589.3L612.6 591.6L514.4 645.4" fill="url(#gh38)"/>
<path d="M513.3 644.6L611.5 590.8L614.6 593.1L516.4 646.9" fill="url(#gh39)"/>
<path d="M515.2 646.0L613.4 592.2L616.6 594.5L518.4 648.3" fill="url(#gh40)"/>
<path d="M517.2 647.4L615.4 593.6L618.6 595.9L520.4 649.7" fill="url(#gh41)"/>
<path d="M519.2 648.9L617.4 595.1L620.5 597.4L522.3 651.2" fill="url(#gh42)"/>
<path d="M521.1 650.3L619.3 596.5L622.5 598.8L524.3 652.6" fill="url(#gh43)"/>
<path d="M437.5 589.5L437.5 503.8M437.5 589.5L524.3 652.6M524.3 652.6L622.5 598.8M437.5 589.5L434.3 587.1M437.5 546.6L434.3 544.3M437.5 503.8L434.3 501.4M455.7 602.8L452.2 604.7M479.6 620.1L476.1 622.0M503.1 637.2L499.6 639.1M524.3 652.6L527.5 655.0M574.0 625.4L577.2 627.7" stroke="#484848" stroke-width="0.85" fill="none"/></g>
<g id="pi"><path d="M765.2 604.5L859.8 656.8M765.2 604.5L765.2 514.0M812.3 579.4L906.9 631.6M812.3 579.4L812.3 488.9M785.1 615.5L879.3 565.2M879.3 565.2L879.3 474.7M811.1 629.9L905.3 579.6M905.3 579.6L905.3 489.1M836.7 644.0L930.9 593.7M930.9 593.7L930.9 503.2M765.2 604.5L859.4 554.2M859.4 554.2L954.0 606.5M765.2 559.2L859.4 509.0M859.4 509.0L954.0 561.2M765.2 514.0L859.4 463.7M859.4 463.7L954.0 516.0M859.4 554.2L859.4 463.7M954.0 606.5L954.0 516.0M765.2 514.0L859.4 463.7M859.4 463.7L954.0 516.0M765.2 604.5L859.4 554.2M859.4 554.2L954.0 606.5" stroke="#e8e8e8" stroke-width="1" fill="none"/>
<path d="M765.2 604.5L788.8 591.9L791.7 590.2L797.6 586.4L800.5 584.3L803.5 582.0L806.4 579.5L812.3 573.9L815.2 570.7L841.7 537.2L844.7 533.6L847.6 530.6L853.5 525.4L856.5 523.2L859.4 521.2L861.1 520.1L858.1 522.3L855.2 524.7L849.3 530.2L846.4 533.3L843.4 536.9L819.9 567.5L816.9 571.2L814.0 574.5L808.1 580.2L805.2 582.8L802.2 585.1L796.3 589.2L793.4 591.2L766.9 605.4" fill="url(#gi0)"/>
<path d="M765.9 604.9L789.4 592.3L792.4 590.6L798.3 586.7L801.2 584.6L804.1 582.3L807.1 579.8L813.0 574.2L815.9 570.9L842.4 537.1L845.4 533.5L848.3 530.4L854.2 525.1L857.1 522.8L860.1 520.8L862.8 519.0L859.8 521.3L856.9 523.9L851.0 529.7L848.1 532.9L845.1 536.7L821.6 568.0L818.6 571.7L815.7 575.1L809.8 580.9L806.8 583.6L803.9 585.9L798.0 590.1L795.1 592.1L768.6 606.4" fill="url(#gi1)"/>
<path d="M767.6 605.8L791.1 593.2L794.1 591.5L799.9 587.6L802.9 585.4L805.8 583.1L808.8 580.5L814.7 574.7L817.6 571.4L844.1 536.8L847.0 533.2L850.0 530.0L855.9 524.4L858.8 521.9L861.8 519.7L864.5 517.8L861.5 520.3L858.6 523.0L852.7 529.1L849.7 532.5L823.3 568.4L820.3 572.2L817.4 575.7L811.5 581.6L808.5 584.3L805.6 586.7L799.7 591.0L796.8 593.0L770.3 607.3" fill="url(#gi2)"/>
<path d="M769.3 606.7L792.8 594.1L795.7 592.4L801.6 588.4L804.6 586.2L807.5 583.9L810.5 581.2L816.4 575.3L819.3 571.9L845.8 536.6L848.7 532.8L851.7 529.4L857.6 523.6L860.5 520.9L863.5 518.6L866.2 516.6L863.2 519.2L860.3 522.1L854.4 528.5L851.4 532.1L824.9 568.8L822.0 572.7L819.1 576.2L813.2 582.3L810.2 585.1L807.3 587.5L801.4 591.9L798.5 593.9L772.0 608.2" fill="url(#gi3)"/>
<path d="M770.9 607.7L794.5 595.1L797.4 593.3L800.4 591.4L806.3 587.0L809.2 584.6L812.2 581.9L818.0 575.9L821.0 572.4L850.4 532.4L853.4 528.9L859.3 522.7L862.2 519.9L865.1 517.3L867.8 515.3L864.9 518.1L862.0 521.2L856.1 527.9L853.1 531.6L826.6 569.2L823.7 573.2L820.7 576.7L817.8 579.9L814.9 583.0L811.9 585.8L809.0 588.3L803.1 592.8L800.1 594.8L794.3 598.2L773.6 609.2" fill="url(#gi4)"/>
<path d="M772.6 608.6L796.2 596.0L799.1 594.3L802.1 592.2L808.0 587.8L810.9 585.4L813.8 582.6L819.7 576.4L822.7 572.9L846.2 540.1L852.1 531.9L855.1 528.2L860.9 521.7L863.9 518.7L866.8 516.1L869.5 513.9L866.6 516.9L863.6 520.2L857.8 527.2L854.8 531.1L828.3 569.6L825.4 573.6L822.4 577.2L819.5 580.5L816.5 583.6L813.6 586.5L810.7 589.1L804.8 593.6L801.8 595.7L795.9 599.1L775.3 610.1" fill="url(#gi5)"/>
<path d="M774.3 609.5L797.9 596.9L800.8 595.2L803.8 593.1L809.6 588.6L812.6 586.1L815.5 583.2L818.5 580.2L821.4 576.9L824.4 573.3L847.9 539.9L853.8 531.4L856.7 527.6L862.6 520.8L865.6 517.6L868.5 514.7L871.2 512.6L868.3 515.7L865.3 519.2L859.5 526.5L856.5 530.6L833.0 565.7L827.1 574.0L824.1 577.7L821.2 581.1L818.2 584.3L815.3 587.2L812.4 589.8L806.5 594.5L803.5 596.6L797.6 600.0L777.0 611.0" fill="url(#gi6)"/>
<path d="M776.0 610.5L799.6 597.8L802.5 596.1L805.4 594.0L811.3 589.4L814.3 586.8L817.2 583.9L820.2 580.7L823.1 577.4L826.1 573.8L837.8 557.0L855.5 530.9L858.4 527.0L864.3 519.8L867.3 516.4L870.2 513.4L872.9 511.2L870.0 514.5L864.1 521.9L861.1 525.8L858.2 530.0L840.5 557.2L831.7 570.3L828.8 574.4L825.8 578.2L822.9 581.6L819.9 584.9L817.0 587.9L814.0 590.6L808.2 595.4L805.2 597.5L802.3 599.3L778.7 612.0" fill="url(#gi7)"/>
<path d="M777.7 611.4L801.3 598.8L804.2 597.0L807.1 594.9L813.0 590.1L816.0 587.5L818.9 584.5L821.9 581.3L824.8 577.9L827.7 574.2L839.5 557.1L857.2 530.4L860.1 526.3L866.0 518.8L869.0 515.2L871.9 512.0L874.6 509.8L871.7 513.3L865.8 521.0L862.8 525.1L859.9 529.4L842.2 557.3L833.4 570.6L830.4 574.8L827.5 578.7L824.6 582.2L821.6 585.5L818.7 588.6L815.7 591.4L812.8 593.9L809.8 596.2L806.9 598.4L804.0 600.2L780.4 612.9" fill="url(#gi8)"/>
<path d="M779.4 612.3L800.0 601.3L802.9 599.7L805.9 597.9L808.8 595.7L814.7 590.9L817.7 588.2L820.6 585.2L823.5 581.9L826.5 578.4L829.4 574.6L841.2 557.2L858.9 529.8L861.8 525.6L867.7 517.7L870.6 514.0L873.6 510.6L876.3 508.3L873.3 512.0L867.5 520.1L864.5 524.4L861.6 528.8L843.9 557.3L835.1 570.9L832.1 575.2L829.2 579.1L826.2 582.7L823.3 586.1L820.4 589.3L817.4 592.1L814.5 594.7L811.5 597.1L808.6 599.3L805.6 601.2L782.1 613.8" fill="url(#gi9)"/>
<path d="M781.1 613.3L801.7 602.3L804.6 600.6L807.6 598.8L810.5 596.6L813.5 594.2L816.4 591.7L819.3 588.9L822.3 585.8L825.2 582.4L828.2 578.8L831.1 574.9L840.0 561.8L860.6 529.2L863.5 524.8L869.4 516.6L872.3 512.8L875.3 509.2L878.0 506.9L875.0 510.8L869.2 519.2L863.3 528.2L845.6 557.4L836.8 571.2L833.8 575.5L830.9 579.5L827.9 583.2L825.0 586.7L822.1 589.9L819.1 592.8L816.2 595.5L813.2 598.0L810.3 600.2L807.3 602.1L783.8 614.8" fill="url(#gi10)"/>
<path d="M782.8 614.2L803.4 603.2L806.3 601.5L809.3 599.6L812.2 597.4L815.1 595.0L818.1 592.4L821.0 589.5L824.0 586.4L826.9 582.9L829.9 579.3L832.8 575.3L841.6 562.0L862.2 528.6L868.1 519.8L874.0 511.5L877.0 507.7L879.7 505.4L876.7 509.5L870.8 518.2L865.0 527.6L847.3 557.4L838.5 571.4L835.5 575.8L832.6 579.9L829.6 583.7L826.7 587.3L823.7 590.6L820.8 593.6L817.9 596.3L814.9 598.8L812.0 601.1L809.0 603.0L785.5 615.7" fill="url(#gi11)"/>
<path d="M784.5 615.1L805.1 604.1L808.0 602.4L811.0 600.5L813.9 598.3L816.8 595.8L819.8 593.1L822.7 590.2L825.7 586.9L828.6 583.4L831.6 579.7L834.5 575.6L840.4 566.7L849.2 552.6L863.9 528.0L869.8 518.8L875.7 510.3L878.7 506.3L881.4 504.0L878.4 508.2L872.5 517.3L866.6 526.9L849.0 557.3L840.1 571.6L837.2 576.1L834.3 580.3L831.3 584.2L828.4 587.8L825.4 591.2L822.5 594.3L819.5 597.1L816.6 599.7L813.7 602.0L810.7 603.9L807.8 605.6L787.2 616.6" fill="url(#gi12)"/>
<path d="M786.1 616.1L806.8 605.1L809.7 603.4L812.6 601.4L815.6 599.1L818.5 596.6L821.5 593.9L824.4 590.8L827.4 587.5L830.3 583.9L833.2 580.1L836.2 575.9L842.1 566.9L850.9 552.4L865.6 527.3L871.5 517.8L877.4 509.0L880.3 504.8L883.1 502.6L877.2 511.5L871.3 521.1L850.7 557.2L841.8 571.8L838.9 576.4L836.0 580.7L833.0 584.7L830.1 588.4L827.1 591.9L824.2 595.0L821.2 597.9L818.3 600.5L815.3 602.8L812.4 604.8L809.5 606.6L788.9 617.6" fill="url(#gi13)"/>
<path d="M787.8 617.0L808.4 606.0L811.4 604.3L814.3 602.3L817.3 600.0L820.2 597.4L823.2 594.6L826.1 591.5L829.0 588.1L832.0 584.4L834.9 580.4L837.9 576.2L843.8 567.0L852.6 552.3L867.3 526.6L873.2 516.9L879.1 507.7L882.0 503.4L884.7 501.2L878.9 510.4L873.0 520.3L852.4 557.1L846.5 567.2L840.6 576.6L837.6 581.0L834.7 585.1L831.8 588.9L828.8 592.5L825.9 595.7L822.9 598.7L820.0 601.4L817.0 603.7L814.1 605.8L811.1 607.5L790.5 618.5" fill="url(#gi14)"/>
<path d="M789.5 617.9L810.1 606.9L813.1 605.2L816.0 603.2L819.0 600.8L821.9 598.2L824.9 595.3L827.8 592.1L830.7 588.6L833.7 584.8L836.6 580.8L839.6 576.5L845.5 567.1L854.3 552.1L869.0 525.9L874.9 515.9L880.8 506.4L883.7 502.0L886.4 499.8L880.5 509.3L874.7 519.4L854.0 557.0L848.2 567.2L842.3 576.9L839.3 581.3L836.4 585.5L833.4 589.5L830.5 593.1L827.6 596.4L824.6 599.5L821.7 602.2L818.7 604.6L815.8 606.7L812.8 608.4L792.2 619.4" fill="url(#gi15)"/>
<path d="M791.2 618.9L811.8 607.9L814.8 606.1L817.7 604.1L820.7 601.7L823.6 599.0L826.5 596.0L829.5 592.7L832.4 589.1L835.4 585.3L838.3 581.1L841.3 576.7L847.1 567.2L856.0 551.9L870.7 525.1L876.6 514.9L882.5 505.2L885.4 500.6L888.1 498.5L882.2 508.1L876.3 518.4L855.7 556.8L849.8 567.2L844.0 577.1L841.0 581.6L838.1 585.9L835.1 590.0L832.2 593.7L829.2 597.1L826.3 600.3L823.4 603.0L820.4 605.5L817.5 607.6L814.5 609.4L793.9 620.4" fill="url(#gi16)"/>
<path d="M792.9 619.8L813.5 608.8L816.5 607.1L819.4 605.0L822.3 602.5L825.3 599.8L828.2 596.7L831.2 593.4L834.1 589.7L837.1 585.7L840.0 581.5L842.9 577.0L848.8 567.2L857.7 551.6L875.3 519.0L881.2 508.8L887.1 499.3L889.8 497.2L883.9 507.0L878.0 517.4L857.4 556.5L851.5 567.2L845.7 577.2L842.7 581.9L839.8 586.3L836.8 590.5L833.9 594.3L830.9 597.8L828.0 601.0L825.0 603.9L822.1 606.4L819.2 608.5L816.2 610.3L795.6 621.3" fill="url(#gi17)"/>
<path d="M794.6 620.8L815.2 609.7L818.1 608.0L821.1 605.9L824.0 603.4L827.0 600.6L829.9 597.4L832.9 594.0L835.8 590.2L838.7 586.1L841.7 581.7L844.6 577.1L850.5 567.2L859.4 551.2L874.1 523.4L880.0 512.8L885.8 502.7L888.8 498.0L891.5 496.0L888.6 500.8L882.7 511.0L873.8 527.5L859.1 556.1L853.2 567.0L847.3 577.3L844.4 582.1L841.5 586.7L838.5 591.0L835.6 594.9L832.6 598.5L829.7 601.8L826.7 604.7L823.8 607.3L820.8 609.5L817.9 611.2L797.3 622.2" fill="url(#gi18)"/>
<path d="M796.3 621.7L816.9 610.7L819.8 608.9L822.8 606.8L825.7 604.2L828.7 601.3L831.6 598.1L834.6 594.6L837.5 590.7L840.4 586.5L843.4 582.0L846.3 577.3L852.2 567.1L861.0 550.8L875.8 522.5L881.7 511.7L887.5 501.5L890.5 496.7L893.2 494.9L890.2 499.6L884.4 509.7L878.5 520.7L857.9 561.2L852.0 572.2L846.1 582.3L843.1 587.0L840.2 591.4L837.3 595.5L834.3 599.2L831.4 602.6L828.4 605.6L825.5 608.2L822.5 610.4L819.6 612.2L799.0 623.2" fill="url(#gi19)"/>
<path d="M798.0 622.6L818.6 611.6L821.5 609.8L824.5 607.6L827.4 605.1L830.4 602.1L833.3 598.8L836.2 595.2L839.2 591.1L842.1 586.8L845.1 582.2L851.0 572.3L856.8 561.5L877.5 521.4L883.3 510.5L889.2 500.3L892.2 495.6L894.9 493.8L891.9 498.4L889.0 503.2L883.1 513.8L877.2 525.1L859.5 560.7L853.7 572.0L847.8 582.5L844.8 587.4L841.9 591.9L838.9 596.1L836.0 599.9L833.1 603.4L830.1 606.5L827.2 609.1L824.2 611.3L821.3 613.1L800.7 624.1" fill="url(#gi20)"/>
<path d="M799.7 623.6L820.3 612.5L823.2 610.8L826.2 608.6L829.1 605.9L832.0 602.9L835.0 599.5L837.9 595.7L840.9 591.6L843.8 587.2L846.8 582.4L852.6 572.1L858.5 561.0L879.1 520.1L885.0 509.2L888.0 504.0L890.9 499.1L893.9 494.4L896.6 492.8L893.6 497.2L890.7 502.0L887.7 507.0L881.8 518.0L873.0 535.7L861.2 560.1L855.4 571.8L849.5 582.6L846.5 587.6L843.6 592.3L840.6 596.7L837.7 600.6L834.7 604.2L831.8 607.3L828.9 610.0L825.9 612.3L823.0 614.0L802.4 625.0" fill="url(#gi21)"/>
<path d="M801.4 624.5L822.0 613.5L824.9 611.7L827.8 609.5L830.8 606.8L833.7 603.7L836.7 600.2L839.6 596.3L842.6 592.1L845.5 587.5L848.5 582.6L854.3 571.9L860.2 560.5L877.9 524.6L883.8 513.2L886.7 507.9L889.7 502.7L892.6 497.9L895.6 493.4L898.3 491.8L895.3 496.0L892.4 500.6L889.4 505.6L886.5 510.9L880.6 522.3L860.0 565.5L854.1 577.1L851.2 582.6L848.2 587.8L845.3 592.7L842.3 597.2L839.4 601.3L836.4 604.9L833.5 608.2L830.5 610.9L827.6 613.2L824.7 615.0L804.1 626.0" fill="url(#gi22)"/>
<path d="M803.0 625.4L823.6 614.4L826.6 612.6L829.5 610.4L832.5 607.7L835.4 604.5L838.4 600.9L841.3 596.9L844.3 592.5L847.2 587.7L850.1 582.6L856.0 571.6L864.9 553.7L876.6 529.1L882.5 517.4L885.5 511.8L888.4 506.5L891.4 501.4L894.3 496.7L897.2 492.4L899.9 491.0L897.0 495.0L894.1 499.4L891.1 504.2L888.2 509.4L885.2 514.9L879.3 526.8L861.7 564.8L855.8 576.9L852.8 582.6L849.9 588.0L847.0 593.0L844.0 597.7L841.1 601.9L838.1 605.7L835.2 609.0L832.2 611.8L829.3 614.1L826.3 615.9L805.7 626.9" fill="url(#gi23)"/>
<path d="M804.7 626.4L825.3 615.4L828.3 613.6L831.2 611.3L834.2 608.5L837.1 605.2L840.1 601.5L843.0 597.4L845.9 592.8L848.9 587.9L851.8 582.6L857.7 571.2L878.3 527.7L884.2 515.8L887.2 510.3L890.1 505.0L893.0 500.1L896.0 495.6L898.9 491.4L901.6 490.4L898.7 494.1L895.7 498.3L892.8 503.0L889.9 508.1L886.9 513.5L884.0 519.3L878.1 531.6L863.4 564.2L857.5 576.6L854.5 582.5L851.6 588.1L848.6 593.3L845.7 598.1L842.8 602.5L839.8 606.4L836.9 609.8L833.9 612.7L831.0 615.1L828.0 616.8L807.4 627.8" fill="url(#gi24)"/>
<path d="M806.4 627.3L827.0 616.3L830.0 614.5L832.9 612.2L835.9 609.3L838.8 606.0L841.7 602.2L844.7 597.9L847.6 593.1L850.6 588.0L853.5 582.6L859.4 570.8L880.0 526.2L885.9 514.3L888.8 508.8L891.8 503.7L894.7 498.9L897.7 494.6L900.6 490.7L903.3 490.2L900.4 493.6L897.4 497.6L894.5 502.0L891.5 506.9L888.6 512.3L885.7 518.0L879.8 530.4L862.1 570.1L856.2 582.5L853.3 588.3L850.3 593.7L847.4 598.7L844.4 603.2L841.5 607.2L838.6 610.7L835.6 613.6L832.7 616.0L829.7 617.8L809.1 628.8" fill="url(#gi25)"/>
<path d="M808.1 628.2L828.7 617.2L831.7 615.4L834.6 613.1L837.5 610.2L840.5 606.7L843.4 602.8L846.4 598.3L849.3 593.5L852.3 588.2L855.2 582.5L861.1 570.3L878.8 531.1L884.6 518.7L887.6 513.0L890.5 507.6L893.5 502.6L896.4 498.0L899.4 493.9L902.3 490.3L905.0 490.3L902.1 493.4L899.1 497.1L896.2 501.4L893.2 506.2L890.3 511.4L887.3 517.1L884.4 523.1L878.5 536.0L863.8 569.8L857.9 582.6L855.0 588.5L852.0 594.1L849.1 599.2L846.1 603.9L843.2 608.0L840.2 611.6L837.3 614.5L834.4 616.9L831.4 618.7L810.8 629.7" fill="url(#gi26)"/>
<path d="M809.8 629.2L830.4 618.2L833.3 616.4L836.3 614.0L839.2 611.0L842.2 607.5L845.1 603.4L848.1 598.9L851.0 593.8L854.0 588.4L856.9 582.5L862.8 570.0L880.4 529.9L886.3 517.6L889.3 511.9L892.2 506.6L895.2 501.7L898.1 497.3L901.1 493.5L904.0 490.2L906.7 490.6L903.8 493.5L900.8 497.0L897.9 501.1L894.9 505.7L892.0 510.8L889.0 516.4L886.1 522.4L880.2 535.3L865.5 569.8L859.6 582.8L856.7 588.9L853.7 594.6L850.8 599.8L847.8 604.6L844.9 608.8L841.9 612.4L839.0 615.5L836.0 617.9L833.1 619.6L812.5 630.6" fill="url(#gi27)"/>
<path d="M811.5 630.1L832.1 619.1L835.0 617.3L838.0 614.9L840.9 611.9L843.9 608.3L846.8 604.1L849.8 599.4L852.7 594.3L855.6 588.7L858.6 582.7L864.5 569.8L879.2 535.7L885.1 522.8L888.0 516.8L891.0 511.1L893.9 505.9L896.9 501.2L899.8 497.0L902.7 493.4L905.7 490.4L908.4 491.2L905.4 493.8L902.5 497.1L899.6 501.0L896.6 505.5L893.7 510.5L890.7 516.0L887.8 522.0L884.8 528.3L879.0 541.8L867.2 569.8L861.3 583.1L858.3 589.3L855.4 595.1L852.5 600.5L849.5 605.3L846.6 609.6L843.6 613.3L840.7 616.4L837.7 618.8L834.8 620.6L814.2 631.6" fill="url(#gi28)"/>
<path d="M813.2 631.0L833.8 620.0L836.7 618.2L839.7 615.8L842.6 612.8L845.6 609.1L848.5 604.9L851.4 600.1L854.4 594.8L857.3 589.1L860.3 582.9L866.2 569.8L880.9 535.2L886.8 522.2L889.7 516.3L892.7 510.7L895.6 505.6L898.5 501.0L901.5 497.0L904.4 493.6L907.4 490.8L910.1 491.9L907.1 494.3L904.2 497.3L901.2 501.1L898.3 505.4L895.4 510.3L892.4 515.7L889.5 521.7L886.5 528.0L880.6 541.5L868.9 569.9L863.0 583.5L860.0 589.8L857.1 595.7L854.1 601.2L851.2 606.1L848.3 610.5L845.3 614.2L842.4 617.3L839.4 619.8L836.5 621.5L815.9 632.5" fill="url(#gi29)"/>
<path d="M814.9 632.0L835.5 621.0L838.4 619.2L841.4 616.8L844.3 613.7L847.2 610.0L850.2 605.6L853.1 600.8L856.1 595.4L859.0 589.5L862.0 583.2L867.9 569.8L882.6 534.8L885.5 528.2L888.5 521.8L891.4 515.9L894.3 510.4L897.3 505.4L900.2 501.0L903.2 497.2L906.1 494.0L909.1 491.5L911.8 492.7L908.8 494.8L905.9 497.6L902.9 501.2L900.0 505.3L897.0 510.1L894.1 515.5L891.2 521.3L888.2 527.6L882.3 541.2L867.6 577.0L864.7 583.8L861.7 590.2L858.8 596.3L855.8 601.8L852.9 606.9L849.9 611.3L847.0 615.1L844.1 618.3L841.1 620.7L838.2 622.4L817.6 633.5" fill="url(#gi30)"/>
<path d="M816.6 632.9L837.2 621.9L840.1 620.1L843.0 617.7L846.0 614.6L848.9 610.8L851.9 606.4L854.8 601.4L857.8 595.9L860.7 590.0L863.7 583.6L869.5 569.9L881.3 541.4L887.2 527.8L890.1 521.5L893.1 515.6L896.0 510.2L899.0 505.4L901.9 501.1L904.9 497.5L907.8 494.5L910.8 492.2L913.5 493.6L910.5 495.4L907.6 498.0L904.6 501.2L901.7 505.2L898.7 509.8L895.8 515.0L892.9 520.8L889.9 527.1L887.0 533.7L881.1 547.9L869.3 577.0L866.4 584.0L863.4 590.6L860.5 596.8L857.5 602.5L854.6 607.6L851.6 612.1L848.7 616.0L845.8 619.2L842.8 621.6L839.9 623.4L819.3 634.4" fill="url(#gi31)"/>
<path d="M818.2 633.8L838.8 622.8L841.8 621.1L844.7 618.6L847.7 615.5L850.6 611.6L853.6 607.2L856.5 602.1L859.5 596.5L862.4 590.4L865.3 583.9L871.2 569.9L883.0 541.0L888.9 527.4L891.8 521.1L894.8 515.3L897.7 510.0L900.7 505.3L903.6 501.2L906.6 497.8L909.5 495.0L912.4 493.0L915.1 494.7L912.2 496.1L909.3 498.3L906.3 501.3L903.4 505.0L900.4 509.4L897.5 514.5L894.5 520.1L891.6 526.3L888.7 532.9L882.8 547.2L871.0 576.9L868.0 584.0L865.1 590.8L862.2 597.1L859.2 603.0L856.3 608.3L853.3 612.9L850.4 616.9L847.4 620.1L844.5 622.6L841.6 624.3L820.9 635.3" fill="url(#gi32)"/>
<path d="M819.9 634.8L840.5 623.8L843.5 622.0L846.4 619.6L849.4 616.4L852.3 612.5L855.3 607.9L858.2 602.7L861.1 596.9L864.1 590.7L867.0 584.0L872.9 569.8L884.7 540.4L887.6 533.4L890.6 526.8L893.5 520.6L896.5 514.8L899.4 509.7L902.4 505.1L905.3 501.3L908.2 498.1L911.2 495.7L914.1 494.0L916.8 496.0L913.9 497.1L910.9 498.8L908.0 501.3L905.1 504.6L902.1 508.7L899.2 513.6L896.2 519.1L893.3 525.1L890.3 531.7L887.4 538.7L872.7 576.5L869.7 583.8L866.8 590.8L863.8 597.3L860.9 603.4L858.0 608.9L855.0 613.7L852.1 617.7L849.1 621.0L846.2 623.5L843.2 625.3L822.6 636.3" fill="url(#gi33)"/>
<path d="M821.6 635.7L842.2 624.7L845.2 623.0L848.1 620.5L851.1 617.2L854.0 613.2L856.9 608.5L859.9 603.2L862.8 597.3L865.8 590.8L868.7 584.0L886.4 539.5L889.3 532.5L892.3 525.9L895.2 519.7L898.2 514.1L901.1 509.2L904.0 504.9L907.0 501.3L909.9 498.5L912.9 496.5L915.8 495.2L918.5 497.8L915.6 498.3L912.6 499.5L909.7 501.5L906.8 504.3L903.8 508.0L900.9 512.5L897.9 517.7L895.0 523.6L892.0 530.1L889.1 537.1L883.2 552.1L874.4 575.6L868.5 590.5L865.5 597.3L862.6 603.6L859.7 609.3L856.7 614.3L853.8 618.5L850.8 621.9L847.9 624.5L844.9 626.2L824.3 637.2" fill="url(#gi34)"/>
<path d="M823.3 636.6L843.9 625.6L846.9 623.9L849.8 621.4L852.7 618.0L855.7 613.9L858.6 609.1L861.6 603.5L864.5 597.4L867.5 590.7L870.4 583.6L885.1 545.5L888.1 538.1L891.0 531.1L894.0 524.5L896.9 518.5L899.8 513.1L902.8 508.4L905.7 504.5L908.7 501.4L911.6 499.0L914.6 497.5L917.5 496.7L920.2 500.3L917.3 500.1L914.3 500.7L911.4 502.0L908.4 504.2L905.5 507.4L902.6 511.4L899.6 516.2L896.7 521.9L893.7 528.2L890.8 535.2L887.8 542.6L873.1 582.4L870.2 590.0L867.2 597.2L864.3 603.8L861.3 609.7L858.4 614.9L855.5 619.3L852.5 622.8L849.6 625.4L846.6 627.1L826.0 638.1" fill="url(#gi35)"/>
<path d="M825.0 637.6L845.6 626.6L848.6 624.8L851.5 622.3L854.4 618.8L857.4 614.6L860.3 609.5L863.3 603.7L866.2 597.3L869.2 590.3L875.0 575.2L886.8 543.7L889.8 536.3L892.7 529.4L895.7 522.9L898.6 517.1L901.5 512.0L904.5 507.7L907.4 504.2L910.4 501.7L913.3 500.0L916.3 499.0L919.2 498.7L921.9 503.3L919.0 502.5L916.0 502.4L913.1 503.1L910.1 504.6L907.2 507.1L904.2 510.5L901.3 515.0L898.4 520.3L895.4 526.4L892.5 533.2L889.5 540.6L883.6 556.6L874.8 581.5L871.9 589.4L868.9 596.9L866.0 603.8L863.0 610.1L860.1 615.5L857.1 620.1L854.2 623.7L851.3 626.3L848.3 628.1L827.7 639.1" fill="url(#gi36)"/>
<path d="M826.7 638.5L847.3 627.5L850.2 625.8L853.2 623.2L856.1 619.6L859.1 615.2L862.0 609.9L865.0 603.8L867.9 597.1L870.8 589.8L876.7 574.1L885.6 549.6L888.5 541.8L891.5 534.4L894.4 527.5L897.3 521.2L900.3 515.7L903.2 511.0L906.2 507.2L909.1 504.3L912.1 502.4L915.0 501.3L917.9 501.0L920.9 501.4L923.6 507.0L920.6 505.4L917.7 504.7L914.8 504.7L911.8 505.5L908.9 507.3L905.9 510.1L903.0 514.0L900.0 518.9L897.1 524.7L894.2 531.4L891.2 538.7L888.3 546.6L876.5 580.6L873.5 588.8L870.6 596.6L867.7 603.9L864.7 610.4L861.8 616.1L858.8 620.8L855.9 624.6L852.9 627.3L850.0 629.0L829.4 640.0" fill="url(#gi37)"/>
<path d="M828.4 639.4L849.0 628.4L851.9 626.7L854.9 624.1L857.8 620.4L860.8 615.7L863.7 610.2L866.6 603.8L869.6 596.8L872.5 589.2L887.3 547.7L890.2 539.8L893.1 532.4L896.1 525.7L899.0 519.7L902.0 514.5L904.9 510.3L907.9 507.1L910.8 504.9L913.7 503.7L916.7 503.3L919.6 503.6L922.6 504.7L925.3 511.0L922.3 508.8L919.4 507.3L916.5 506.6L913.5 506.9L910.6 508.0L907.6 510.1L904.7 513.5L901.7 517.9L898.8 523.4L895.8 529.8L892.9 537.0L890.0 544.9L884.1 562.0L875.2 588.2L872.3 596.4L869.4 603.9L866.4 610.7L863.5 616.7L860.5 621.6L857.6 625.5L854.6 628.2L851.7 629.9L831.1 640.9" fill="url(#gi38)"/>
<path d="M830.1 640.4L850.7 629.4L853.6 627.6L856.6 624.9L859.5 621.2L862.4 616.3L865.4 610.5L868.3 603.9L871.3 596.5L874.2 588.6L886.0 554.2L888.9 545.9L891.9 538.0L894.8 530.7L897.8 524.1L900.7 518.5L903.7 513.7L906.6 510.1L909.5 507.5L912.5 506.0L915.4 505.4L918.4 505.7L921.3 506.7L924.3 508.5L927.0 515.2L924.0 512.4L921.1 510.2L918.1 509.0L915.2 508.5L912.3 509.1L909.3 510.6L906.4 513.3L903.4 517.3L900.5 522.4L897.5 528.5L894.6 535.6L891.6 543.4L888.7 551.9L876.9 587.7L874.0 596.2L871.0 604.0L868.1 611.1L865.2 617.3L862.2 622.4L859.3 626.4L856.3 629.2L832.8 641.9" fill="url(#gi39)"/>
<path d="M831.8 641.3L852.4 630.3L855.3 628.6L858.3 625.8L861.2 621.9L864.1 616.9L867.1 610.9L870.0 604.0L873.0 596.3L875.9 588.0L887.7 552.7L890.6 544.3L893.6 536.4L896.5 529.3L899.5 522.9L902.4 517.6L905.4 513.4L908.3 510.3L911.2 508.4L914.2 507.5L917.1 507.5L920.1 508.4L923.0 510.2L926.0 512.6L928.7 519.7L925.7 516.3L922.8 513.6L919.8 511.6L916.9 510.6L913.9 510.5L911.0 511.4L908.1 513.5L905.1 516.9L902.2 521.6L899.2 527.4L896.3 534.3L893.3 542.0L890.4 550.5L878.6 587.2L875.7 595.9L872.7 604.1L869.8 611.5L866.8 617.9L863.9 623.2L861.0 627.3L858.0 630.1L834.5 642.8" fill="url(#gi40)"/>
<path d="M833.4 642.2L854.1 631.2L857.0 629.5L859.9 626.7L862.9 622.7L865.8 617.5L868.8 611.3L871.7 604.1L874.7 596.1L877.6 587.5L889.4 551.3L892.3 542.8L895.3 535.0L898.2 528.0L901.2 522.0L904.1 517.1L907.0 513.4L910.0 510.9L912.9 509.6L915.9 509.3L918.8 510.0L921.8 511.5L924.7 513.9L927.6 516.9L930.4 524.5L927.4 520.6L924.5 517.3L921.5 514.7L918.6 513.0L915.6 512.2L912.7 512.6L909.7 514.0L906.8 516.8L903.9 521.0L900.9 526.4L898.0 533.0L895.0 540.7L892.1 549.1L886.2 567.6L880.3 586.6L877.4 595.7L874.4 604.2L871.5 611.8L868.5 618.5L865.6 624.0L862.6 628.2L859.7 631.0L836.1 643.7" fill="url(#gi41)"/>
<path d="M835.1 643.2L855.7 632.2L858.7 630.5L861.6 627.7L864.6 623.5L867.5 618.1L870.5 611.6L873.4 604.1L876.3 595.9L882.2 577.7L888.1 558.9L891.1 549.9L894.0 541.5L897.0 533.8L899.9 527.0L902.8 521.3L905.8 516.8L908.7 513.7L911.7 511.9L914.6 511.2L917.6 511.5L920.5 512.8L923.4 515.0L926.4 518.0L929.3 521.6L932.0 529.6L929.1 525.2L926.2 521.3L923.2 518.1L920.3 515.7L917.3 514.3L914.4 514.0L911.4 514.9L908.5 517.0L905.5 520.6L902.6 525.7L899.7 532.0L896.7 539.4L893.8 547.8L890.8 557.0L882.0 586.1L879.1 595.5L876.1 604.2L873.2 612.2L870.2 619.1L867.3 624.8L864.3 629.1L861.4 632.0L837.8 644.7" fill="url(#gi42)"/>
<path d="M836.8 644.1L857.4 633.1L860.4 631.4L863.3 628.6L866.3 624.3L869.2 618.7L872.2 612.0L875.1 604.2L878.0 595.6L889.8 557.7L892.8 548.6L895.7 540.2L898.6 532.6L901.6 526.1L904.5 520.8L907.5 516.9L910.4 514.3L913.4 513.1L916.3 513.0L919.3 514.0L922.2 516.0L925.1 518.8L928.1 522.4L931.0 526.5L933.7 534.8L930.8 530.0L927.8 525.6L924.9 521.7L922.0 518.7L919.0 516.7L916.1 515.8L913.1 516.0L910.2 517.5L907.2 520.5L904.3 525.1L901.3 531.1L898.4 538.3L895.5 546.6L892.5 555.8L880.7 595.2L877.8 604.3L874.9 612.5L871.9 619.7L869.0 625.6L866.0 630.0L863.1 632.9L839.5 645.6" fill="url(#gi43)"/>
<path d="M838.5 645.0L859.1 634.0L862.1 632.4L865.0 629.5L868.0 625.1L870.9 619.3L873.8 612.3L876.8 604.3L879.7 595.4L891.5 556.5L894.4 547.3L897.4 539.0L900.3 531.6L903.3 525.4L906.2 520.6L909.2 517.2L912.1 515.3L915.1 514.7L918.0 515.2L920.9 516.9L923.9 519.5L926.8 523.0L929.8 527.1L932.7 531.7L935.4 540.1L932.5 535.0L929.5 530.1L926.6 525.7L923.6 522.1L920.7 519.4L917.8 517.8L914.8 517.4L911.9 518.3L908.9 520.7L906.0 524.7L903.0 530.3L900.1 537.3L897.1 545.5L894.2 554.6L882.4 594.9L879.5 604.4L876.5 612.9L873.6 620.3L870.7 626.4L867.7 630.9L864.8 633.9L841.2 646.5" fill="url(#gi44)"/>
<path d="M840.2 646.0L860.8 635.0L863.8 633.3L866.7 630.4L869.6 625.9L872.6 619.9L875.5 612.7L878.5 604.3L881.4 595.1L893.2 555.3L896.1 546.2L899.1 537.9L902.0 530.7L905.0 524.9L907.9 520.6L910.9 517.8L913.8 516.5L916.7 516.5L919.7 517.7L922.6 520.0L925.6 523.3L928.5 527.3L931.5 532.0L934.4 536.9L937.1 545.3L931.2 534.7L928.3 529.8L925.3 525.6L922.4 522.3L919.4 520.1L916.5 519.0L913.6 519.4L910.6 521.1L907.7 524.6L904.7 529.7L901.8 536.4L898.8 544.5L895.9 553.6L893.0 563.5L884.1 594.7L881.2 604.4L878.2 613.3L875.3 620.9L872.3 627.2L869.4 631.9L866.5 634.8L842.9 647.5" fill="url(#gi45)"/>
<path d="M841.9 646.9L862.5 635.9L865.4 634.2L868.4 631.3L871.3 626.7L874.3 620.6L877.2 613.0L880.2 604.4L883.1 594.8L891.9 564.1L894.9 554.2L897.8 545.1L900.8 536.9L903.7 530.0L906.7 524.6L909.6 520.8L912.5 518.7L915.5 518.0L918.4 518.7L921.4 520.5L924.3 523.5L927.3 527.3L930.2 531.9L936.1 542.2L938.8 550.4L932.9 539.3L930.0 534.0L927.0 529.3L924.1 525.4L921.1 522.6L918.2 520.9L915.2 520.6L912.3 521.8L909.4 524.7L906.4 529.4L903.5 535.7L900.5 543.6L897.6 552.6L894.6 562.6L885.8 594.5L882.9 604.5L879.9 613.6L877.0 621.6L874.0 628.0L871.1 632.8L868.1 635.8L844.6 648.4" fill="url(#gi46)"/>
<path d="M843.6 647.8L867.1 635.2L870.1 632.2L873.0 627.5L876.0 621.2L878.9 613.4L881.9 604.5L884.8 594.6L893.6 563.2L896.6 553.2L899.5 544.1L902.5 536.1L905.4 529.6L908.3 524.6L911.3 521.3L914.2 519.8L917.2 519.8L920.1 521.0L923.1 523.5L926.0 527.1L929.0 531.5L931.9 536.5L937.8 547.4L940.5 555.4L931.7 538.5L928.7 533.2L925.8 528.8L922.8 525.3L919.9 523.0L916.9 522.1L914.0 522.7L911.0 525.0L908.1 529.1L905.2 535.1L902.2 542.8L899.3 551.7L896.3 561.8L887.5 594.3L884.6 604.6L881.6 614.0L878.7 622.2L875.7 628.8L872.8 633.7L869.8 636.7L846.3 649.3" fill="url(#gi47)"/>
<path d="M845.3 648.8L868.8 636.1L871.8 633.2L874.7 628.3L877.7 621.8L880.6 613.8L883.5 604.6L886.5 594.4L895.3 562.3L898.3 552.3L901.2 543.2L904.1 535.5L907.1 529.3L910.0 524.8L913.0 522.1L915.9 521.2L918.9 521.7L921.8 523.6L924.8 526.7L927.7 530.9L930.6 535.8L939.5 552.4L942.2 560.4L939.2 554.9L933.3 543.1L930.4 537.4L927.5 532.4L924.5 528.3L921.6 525.4L918.6 523.8L915.7 523.8L912.7 525.4L909.8 529.1L906.8 534.6L903.9 542.0L901.0 550.8L898.0 560.9L889.2 594.0L886.2 604.7L883.3 614.4L880.4 622.8L877.4 629.6L874.5 634.6L871.5 637.6L848.0 650.3" fill="url(#gi48)"/>
<path d="M847.0 649.7L870.5 637.1L873.5 634.1L876.4 629.1L879.3 622.4L882.3 614.2L885.2 604.6L888.2 594.2L897.0 561.4L899.9 551.4L902.9 542.4L905.8 534.9L908.8 529.1L911.7 525.1L914.7 523.1L917.6 522.8L920.6 523.9L923.5 526.5L926.4 530.2L929.4 534.9L932.3 540.3L938.2 551.9L941.2 557.4L943.9 565.3L940.9 560.0L932.1 541.9L929.1 536.4L926.2 531.7L923.3 528.1L920.3 525.8L917.4 525.2L914.4 526.1L911.5 529.1L908.5 534.2L905.6 541.2L902.7 549.9L899.7 559.9L896.8 570.9L890.9 593.7L887.9 604.6L885.0 614.7L882.0 623.4L879.1 630.4L876.2 635.6L873.2 638.6L849.7 651.2" fill="url(#gi49)"/>
<path d="M848.7 650.6L872.2 638.0L875.1 635.0L878.1 630.0L881.0 623.0L884.0 614.5L886.9 604.7L889.9 593.9L895.8 571.4L898.7 560.5L901.6 550.5L904.6 541.7L907.5 534.5L910.5 529.1L913.4 525.7L916.4 524.3L919.3 524.6L922.2 526.4L925.2 529.6L928.1 534.0L931.1 539.2L939.9 556.9L942.9 562.4L945.6 570.1L942.6 565.2L939.7 559.4L933.8 546.8L930.8 540.8L927.9 535.4L924.9 531.1L922.0 528.2L919.1 526.8L916.1 527.1L913.2 529.4L910.2 533.9L907.3 540.5L904.3 548.9L901.4 558.9L898.5 569.9L892.6 593.3L889.6 604.6L886.7 614.9L883.7 624.0L880.8 631.2L877.8 636.5L874.9 639.5L851.4 652.1" fill="url(#gi50)"/>
<path d="M850.3 651.6L873.9 639.0L876.8 635.9L879.8 630.8L882.7 623.6L885.7 614.8L888.6 604.6L897.4 570.5L900.4 559.5L903.3 549.5L906.3 540.9L909.2 534.1L912.2 529.2L915.1 526.5L918.0 525.8L921.0 526.7L923.9 529.2L926.9 533.1L929.8 538.1L932.8 543.9L938.7 556.2L941.6 562.1L944.5 567.2L947.2 574.7L944.3 570.4L941.4 564.9L938.4 558.7L932.5 545.6L929.6 539.7L926.6 534.7L923.7 530.9L920.7 528.7L917.8 528.3L914.9 529.8L911.9 533.6L909.0 539.7L906.0 547.9L903.1 557.7L900.1 568.8L891.3 604.4L888.4 615.1L885.4 624.5L882.5 632.0L879.5 637.4L876.6 640.5L853.0 653.1" fill="url(#gi51)"/>
<path d="M852.0 652.5L875.6 639.9L878.5 636.9L881.5 631.6L884.4 624.2L887.4 615.0L890.3 604.5L899.1 569.5L902.1 558.4L905.0 548.5L908.0 540.2L910.9 533.7L913.8 529.5L916.8 527.5L919.7 527.5L922.7 529.2L925.6 532.5L928.6 537.1L931.5 542.7L940.3 561.6L943.3 567.3L946.2 572.0L948.9 578.9L946.0 575.4L943.0 570.4L940.1 564.4L934.2 550.9L931.3 544.4L928.3 538.6L925.4 534.1L922.4 531.0L919.5 529.8L916.6 530.5L913.6 533.5L910.7 539.1L907.7 546.8L904.8 556.5L901.8 567.7L893.0 604.1L890.1 615.3L887.1 625.0L884.2 632.8L881.2 638.3L878.3 641.4L854.7 654.0" fill="url(#gi52)"/>
<path d="M853.7 653.4L877.3 640.8L880.2 637.8L883.2 632.3L886.1 624.7L889.0 615.2L892.0 604.3L900.8 568.4L903.8 557.3L906.7 547.5L909.6 539.4L912.6 533.6L915.5 530.0L918.5 528.8L921.4 529.6L924.4 532.1L927.3 536.2L930.3 541.5L933.2 547.7L939.1 561.0L942.0 567.1L945.0 572.4L947.9 576.5L950.6 582.4L947.7 580.0L944.7 575.8L941.8 570.1L938.8 563.6L933.0 549.5L930.0 543.1L927.1 537.7L924.1 533.8L921.2 531.6L918.2 531.5L915.3 533.7L912.4 538.5L909.4 545.8L906.5 555.3L903.5 566.4L894.7 603.7L891.7 615.3L888.8 625.4L885.9 633.5L882.9 639.3L880.0 642.4L856.4 654.9" fill="url(#gi53)"/>
<path d="M855.4 654.4L879.0 641.8L881.9 638.7L884.8 633.1L887.8 625.2L890.7 615.3L893.7 604.0L902.5 567.2L905.5 556.0L908.4 546.4L911.3 538.8L914.3 533.6L917.2 530.9L920.2 530.5L923.1 532.1L926.1 535.5L929.0 540.4L931.9 546.4L940.8 566.7L943.7 572.6L946.7 577.3L949.6 580.4L952.3 585.1L949.4 583.9L946.4 580.7L943.5 575.7L940.5 569.4L931.7 547.9L928.8 541.7L925.8 536.9L922.9 533.8L919.9 532.8L917.0 534.1L914.0 538.1L911.1 544.9L908.2 554.0L905.2 565.1L902.3 577.5L896.4 603.3L893.4 615.3L890.5 625.9L887.5 634.3L884.6 640.2L881.7 643.3L858.1 655.9" fill="url(#gi54)"/>
<path d="M857.1 655.3L880.6 642.7L883.6 639.6L886.5 633.8L889.5 625.6L892.4 615.3L895.4 603.6L901.3 578.2L904.2 565.9L907.1 554.8L910.1 545.4L913.0 538.3L916.0 533.8L918.9 532.0L921.9 532.5L924.8 535.0L927.7 539.3L930.7 545.0L933.6 551.7L939.5 565.9L942.5 572.4L945.4 577.8L948.4 581.6L951.3 583.6L954.0 586.6L951.1 587.0L948.1 585.0L945.2 581.0L942.2 575.2L939.3 568.3L933.4 553.2L930.5 546.2L927.5 540.5L924.6 536.4L921.6 534.5L918.7 534.9L915.7 538.0L912.8 544.1L909.8 552.8L906.9 563.8L904.0 576.3L898.1 602.8L895.1 615.3L892.2 626.3L889.2 635.0L886.3 641.1L883.3 644.2L859.8 656.8" fill="url(#gi55)"/>
<path d="M765.2 604.5L765.2 514.0M765.2 604.5L859.8 656.8M859.8 656.8L954.0 606.5M765.2 604.5L761.7 602.6M765.2 559.2L761.7 557.3M765.2 514.0L761.7 512.1M785.1 615.5L781.5 617.4M811.1 629.9L807.6 631.7M836.7 644.0L833.2 645.9M859.8 656.8L863.3 658.7M906.9 631.6L910.4 633.6" stroke="#484848" stroke-width="0.85" fill="none"/></g>
<rect x="300.7" y="8.3" width="13.2" height="192.0" fill="url(#pg)" stroke="#3a3a3a" stroke-width="0.6"/>
<rect x="632.2" y="30.5" width="13.4" height="171.0" fill="url(#pg)" stroke="#3a3a3a" stroke-width="0.6"/>
<rect x="975.3" y="2.0" width="13.2" height="186.8" fill="url(#pg)" stroke="#3a3a3a" stroke-width="0.6"/>
<rect x="301.0" y="234.5" width="13.0" height="169.3" fill="url(#pg)" stroke="#3a3a3a" stroke-width="0.6"/>
<rect x="632.2" y="244.5" width="13.2" height="173.0" fill="url(#pg)" stroke="#3a3a3a" stroke-width="0.6"/>
<rect x="975.2" y="241.3" width="13.0" height="183.7" fill="url(#pg)" stroke="#3a3a3a" stroke-width="0.6"/>
<rect x="301.0" y="462.5" width="13.0" height="189.0" fill="url(#pg)" stroke="#3a3a3a" stroke-width="0.6"/>
<rect x="632.5" y="457.5" width="13.2" height="191.5" fill="url(#pg)" stroke="#3a3a3a" stroke-width="0.6"/>
<rect x="975.2" y="463.8" width="12.6" height="192.7" fill="url(#pg)" stroke="#3a3a3a" stroke-width="0.6"/>
<text x="30.0" y="47.5" class="p" text-anchor="middle">(a)</text>
<text x="82.0" y="42.0" class="t" text-anchor="end">1</text>
<text x="82.0" y="103.0" class="t" text-anchor="end">0.5</text>
<text x="82.0" y="163.8" class="t" text-anchor="end">0</text>
<text x="79.0" y="183.5" class="t" text-anchor="end">-1</text>
<text x="118.5" y="203.3" class="t" text-anchor="middle">0</text>
<text x="162.3" y="222.7" class="t" text-anchor="middle">1</text>
<text x="195.2" y="222.7" class="t" text-anchor="middle">0</text>
<text x="263.0" y="204.0" class="t" text-anchor="middle">50</text>
<text x="-0.5" y="232.0" class="x">×</text>
<text x="19.0" y="230.5" class="t">10<tspan class="s" dy="-11.5" dx="0.5">-3</tspan></text>
<text transform="translate(98.5 231.5) scale(1.20 1)" class="m" text-anchor="middle">δτ<tspan class="sl" dy="5.5" dx="1">/</tspan><tspan dy="-5.5" dx="1">τ</tspan></text>
<text transform="translate(241.8 231.5) scale(1.07 1)" class="m" text-anchor="middle">θ<tspan class="sl" dy="5.5" dx="1">/</tspan><tspan dy="-5.5" dx="1">π</tspan></text>
<text transform="translate(35.0 98.8) rotate(-90)" class="m" text-anchor="middle"><tspan>P</tspan><tspan class="ms" dy="5" dx="-2">1</tspan></text>
<text x="379.8" y="42.5" class="p" text-anchor="middle">(b)</text>
<text x="423.5" y="59.3" class="t" text-anchor="end">1</text>
<text x="423.5" y="107.7" class="t" text-anchor="end">0.5</text>
<text x="429.0" y="157.3" class="t" text-anchor="end">0</text>
<text x="425.6" y="181.0" class="t" text-anchor="end">-1</text>
<text x="470.8" y="200.3" class="t" text-anchor="middle">0</text>
<text x="520.0" y="221.5" class="t" text-anchor="middle">1</text>
<text x="549.8" y="221.5" class="t" text-anchor="middle">0</text>
<text x="609.0" y="191.5" class="t" text-anchor="middle">50</text>
<text x="346.7" y="224.5" class="x">×</text>
<text x="366.2" y="223.0" class="t">10<tspan class="s" dy="-11.5" dx="0.5">-3</tspan></text>
<text transform="translate(452.3 227.8) scale(1.20 1)" class="m" text-anchor="middle">δτ<tspan class="sl" dy="5.5" dx="1">/</tspan><tspan dy="-5.5" dx="1">τ</tspan></text>
<text transform="translate(594.5 222.5) scale(1.07 1)" class="m" text-anchor="middle">θ<tspan class="sl" dy="5.5" dx="1">/</tspan><tspan dy="-5.5" dx="1">π</tspan></text>
<text transform="translate(381.5 101.0) rotate(-90)" class="m" text-anchor="middle"><tspan>P</tspan><tspan class="ms" dy="5" dx="-2">2</tspan></text>
<text x="647.7" y="24.5" class="x">×</text>
<text x="664.5" y="23.0" class="t">10<tspan class="s" dy="-11.5" dx="0.5">-3</tspan></text>
<text x="693.7" y="42.0" class="p" text-anchor="middle">(c)</text>
<text x="757.0" y="51.3" class="t" text-anchor="end">1</text>
<text x="754.5" y="95.0" class="t" text-anchor="end">0.5</text>
<text x="754.5" y="140.0" class="t" text-anchor="end">0</text>
<text x="751.5" y="161.3" class="t" text-anchor="end">-1</text>
<text x="792.6" y="188.8" class="t" text-anchor="middle">0</text>
<text x="838.0" y="215.0" class="t" text-anchor="middle">1</text>
<text x="868.4" y="215.0" class="t" text-anchor="middle">0</text>
<text x="937.4" y="189.5" class="t" text-anchor="middle">50</text>
<text x="671.2" y="211.5" class="x">×</text>
<text x="690.7" y="210.0" class="t">10<tspan class="s" dy="-11.5" dx="0.5">-3</tspan></text>
<text transform="translate(778.0 223.8) scale(1.20 1)" class="m" text-anchor="middle">δτ<tspan class="sl" dy="5.5" dx="1">/</tspan><tspan dy="-5.5" dx="1">τ</tspan></text>
<text transform="translate(921.8 218.8) scale(1.07 1)" class="m" text-anchor="middle">θ<tspan class="sl" dy="5.5" dx="1">/</tspan><tspan dy="-5.5" dx="1">π</tspan></text>
<text transform="translate(708.0 91.0) rotate(-90)" class="m" text-anchor="middle"><tspan>P</tspan><tspan class="ms" dy="5" dx="-2">3</tspan></text>
<text x="30.9" y="285.0" class="p" text-anchor="middle">(d)</text>
<text x="78.5" y="292.0" class="t" text-anchor="end">1</text>
<text x="78.5" y="333.0" class="t" text-anchor="end">0.5</text>
<text x="78.5" y="374.3" class="t" text-anchor="end">0</text>
<text x="79.0" y="396.3" class="t" text-anchor="end">-0.5</text>
<text x="120.6" y="421.3" class="t" text-anchor="middle">0</text>
<text x="159.2" y="447.0" class="t" text-anchor="middle">0.5</text>
<text x="198.2" y="447.0" class="t" text-anchor="middle">0</text>
<text x="263.5" y="418.0" class="t" text-anchor="middle">50</text>
<text transform="translate(97.2 448.8) scale(1.08 1)" class="m" text-anchor="middle">δσ<tspan class="sl" dy="5.5" dx="1">/</tspan><tspan dy="-5.5" dx="1">σ</tspan></text>
<text transform="translate(242.0 448.8) scale(1.07 1)" class="m" text-anchor="middle">θ<tspan class="sl" dy="5.5" dx="1">/</tspan><tspan dy="-5.5" dx="1">π</tspan></text>
<text transform="translate(32.0 327.5) rotate(-90)" class="m" text-anchor="middle"><tspan>P</tspan><tspan class="ms" dy="5" dx="-2">1</tspan></text>
<text x="386.0" y="267.0" class="p" text-anchor="middle">(e)</text>
<text x="429.5" y="288.0" class="t" text-anchor="end">1</text>
<text x="429.5" y="326.0" class="t" text-anchor="end">0.5</text>
<text x="429.5" y="363.8" class="t" text-anchor="end">0</text>
<text x="430.0" y="387.5" class="t" text-anchor="end">-0.5</text>
<text x="467.3" y="415.5" class="t" text-anchor="middle">0</text>
<text x="502.0" y="443.8" class="t" text-anchor="middle">0.5</text>
<text x="541.2" y="443.8" class="t" text-anchor="middle">0</text>
<text x="595.8" y="418.0" class="t" text-anchor="middle">50</text>
<text transform="translate(433.0 438.8) scale(1.08 1)" class="m" text-anchor="middle">δσ<tspan class="sl" dy="5.5" dx="1">/</tspan><tspan dy="-5.5" dx="1">σ</tspan></text>
<text transform="translate(593.8 442.5) scale(1.07 1)" class="m" text-anchor="middle">θ<tspan class="sl" dy="5.5" dx="1">/</tspan><tspan dy="-5.5" dx="1">π</tspan></text>
<text transform="translate(384.5 322.5) rotate(-90)" class="m" text-anchor="middle"><tspan>P</tspan><tspan class="ms" dy="5" dx="-2">2</tspan></text>
<text x="647.7" y="237.5" class="x">×</text>
<text x="664.5" y="236.0" class="t">10<tspan class="s" dy="-11.5" dx="0.5">-3</tspan></text>
<text x="704.2" y="258.8" class="p" text-anchor="middle">(f)</text>
<text x="755.5" y="287.5" class="t" text-anchor="end">1</text>
<text x="755.5" y="325.0" class="t" text-anchor="end">0.5</text>
<text x="755.5" y="361.0" class="t" text-anchor="end">0</text>
<text x="756.0" y="385.0" class="t" text-anchor="end">-0.5</text>
<text x="795.9" y="420.5" class="t" text-anchor="middle">0</text>
<text x="832.4" y="455.0" class="t" text-anchor="middle">0.5</text>
<text x="870.2" y="455.0" class="t" text-anchor="middle">0</text>
<text x="930.0" y="422.0" class="t" text-anchor="middle">50</text>
<text transform="translate(766.0 446.0) scale(1.08 1)" class="m" text-anchor="middle">δσ<tspan class="sl" dy="5.5" dx="1">/</tspan><tspan dy="-5.5" dx="1">σ</tspan></text>
<text transform="translate(921.5 448.8) scale(1.07 1)" class="m" text-anchor="middle">θ<tspan class="sl" dy="5.5" dx="1">/</tspan><tspan dy="-5.5" dx="1">π</tspan></text>
<text transform="translate(709.0 322.5) rotate(-90)" class="m" text-anchor="middle"><tspan>P</tspan><tspan class="ms" dy="5" dx="-2">3</tspan></text>
<text x="34.8" y="490.0" class="p" text-anchor="middle">(g)</text>
<text x="78.5" y="517.0" class="t" text-anchor="end">1</text>
<text x="78.5" y="567.8" class="t" text-anchor="end">0.5</text>
<text x="78.5" y="617.0" class="t" text-anchor="end">0</text>
<text x="83.5" y="649.5" class="t" text-anchor="middle">-0.2</text>
<text x="127.3" y="662.8" class="t" text-anchor="middle">0</text>
<text x="149.8" y="675.3" class="t" text-anchor="middle">0.2</text>
<text x="211.9" y="684.0" class="t" text-anchor="middle">0</text>
<text x="261.5" y="654.0" class="t" text-anchor="middle">50</text>
<text transform="translate(92.5 690.0) scale(1.20 1)" class="m" text-anchor="middle">δT<tspan class="sl" dy="5.5" dx="1">/</tspan><tspan dy="-5.5" dx="1">T</tspan></text>
<text transform="translate(255.0 686.5) scale(1.07 1)" class="m" text-anchor="middle">θ<tspan class="sl" dy="5.5" dx="1">/</tspan><tspan dy="-5.5" dx="1">π</tspan></text>
<text transform="translate(33.5 561.5) rotate(-90)" class="m" text-anchor="middle"><tspan>P</tspan><tspan class="ms" dy="5" dx="-2">1</tspan></text>
<text x="391.2" y="486.0" class="p" text-anchor="middle">(h)</text>
<text x="429.5" y="508.8" class="t" text-anchor="end">1</text>
<text x="429.5" y="550.0" class="t" text-anchor="end">0.5</text>
<text x="429.5" y="594.5" class="t" text-anchor="end">0</text>
<text x="428.9" y="632.0" class="t" text-anchor="middle">-0.2</text>
<text x="466.9" y="649.0" class="t" text-anchor="middle">0</text>
<text x="482.3" y="667.0" class="t" text-anchor="middle">0.2</text>
<text x="538.3" y="681.0" class="t" text-anchor="middle">0</text>
<text x="594.5" y="654.0" class="t" text-anchor="middle">50</text>
<text transform="translate(422.3 680.0) scale(1.20 1)" class="m" text-anchor="middle">δT<tspan class="sl" dy="5.5" dx="1">/</tspan><tspan dy="-5.5" dx="1">T</tspan></text>
<text transform="translate(592.7 680.0) scale(1.07 1)" class="m" text-anchor="middle">θ<tspan class="sl" dy="5.5" dx="1">/</tspan><tspan dy="-5.5" dx="1">π</tspan></text>
<text transform="translate(384.5 546.5) rotate(-90)" class="m" text-anchor="middle"><tspan>P</tspan><tspan class="ms" dy="5" dx="-2">2</tspan></text>
<text x="647.7" y="450.3" class="x">×</text>
<text x="664.5" y="448.8" class="t">10<tspan class="s" dy="-11.5" dx="0.5">-3</tspan></text>
<text x="710.8" y="482.5" class="p" text-anchor="middle">(i)</text>
<text x="756.5" y="524.0" class="t" text-anchor="end">1</text>
<text x="756.5" y="564.0" class="t" text-anchor="end">0.5</text>
<text x="756.5" y="609.0" class="t" text-anchor="end">0</text>
<text x="757.3" y="641.5" class="t" text-anchor="middle">-0.2</text>
<text x="797.4" y="659.0" class="t" text-anchor="middle">0</text>
<text x="815.3" y="675.0" class="t" text-anchor="middle">0.2</text>
<text x="873.0" y="686.5" class="t" text-anchor="middle">0</text>
<text x="927.4" y="659.0" class="t" text-anchor="middle">50</text>
<text transform="translate(762.5 684.0) scale(1.20 1)" class="m" text-anchor="middle">δT<tspan class="sl" dy="5.5" dx="1">/</tspan><tspan dy="-5.5" dx="1">T</tspan></text>
<text transform="translate(924.7 685.0) scale(1.07 1)" class="m" text-anchor="middle">θ<tspan class="sl" dy="5.5" dx="1">/</tspan><tspan dy="-5.5" dx="1">π</tspan></text>
<text transform="translate(711.8 559.0) rotate(-90)" class="m" text-anchor="middle"><tspan>P</tspan><tspan class="ms" dy="5" dx="-2">3</tspan></text>
<text x="319.8" y="17.0" class="t" text-anchor="start">1</text>
<text x="319.8" y="55.5" class="t" text-anchor="start">0.8</text>
<text x="319.8" y="93.8" class="t" text-anchor="start">0.6</text>
<text x="319.8" y="132.4" class="t" text-anchor="start">0.4</text>
<text x="319.8" y="171.3" class="t" text-anchor="start">0.2</text>
<text x="651.5" y="65.5" class="t" text-anchor="start">6</text>
<text x="651.5" y="112.5" class="t" text-anchor="start">4</text>
<text x="651.5" y="160.0" class="t" text-anchor="start">2</text>
<text x="651.5" y="208.2" class="t" text-anchor="start">0</text>
<text x="995.0" y="47.0" class="t" text-anchor="start">0.8</text>
<text x="995.0" y="84.3" class="t" text-anchor="start">0.6</text>
<text x="995.0" y="121.8" class="t" text-anchor="start">0.4</text>
<text x="995.0" y="160.0" class="t" text-anchor="start">0.2</text>
<text x="995.0" y="197.5" class="t" text-anchor="start">0</text>
<text x="319.8" y="243.0" class="t" text-anchor="start">1</text>
<text x="319.8" y="277.0" class="t" text-anchor="start">0.8</text>
<text x="319.8" y="311.2" class="t" text-anchor="start">0.6</text>
<text x="319.8" y="345.3" class="t" text-anchor="start">0.4</text>
<text x="319.8" y="379.5" class="t" text-anchor="start">0.2</text>
<text x="651.5" y="305.0" class="t" text-anchor="start">4</text>
<text x="651.5" y="361.0" class="t" text-anchor="start">2</text>
<text x="651.5" y="421.0" class="t" text-anchor="start">0</text>
<text x="995.0" y="285.0" class="t" text-anchor="start">0.8</text>
<text x="995.0" y="322.0" class="t" text-anchor="start">0.6</text>
<text x="995.0" y="359.2" class="t" text-anchor="start">0.4</text>
<text x="995.0" y="396.6" class="t" text-anchor="start">0.2</text>
<text x="995.0" y="433.8" class="t" text-anchor="start">0</text>
<text x="319.8" y="471.0" class="t" text-anchor="start">1</text>
<text x="319.8" y="508.5" class="t" text-anchor="start">0.8</text>
<text x="319.8" y="546.5" class="t" text-anchor="start">0.6</text>
<text x="319.8" y="583.7" class="t" text-anchor="start">0.4</text>
<text x="319.8" y="621.0" class="t" text-anchor="start">0.2</text>
<text x="651.5" y="502.5" class="t" text-anchor="start">6</text>
<text x="651.5" y="554.5" class="t" text-anchor="start">4</text>
<text x="651.5" y="604.5" class="t" text-anchor="start">2</text>
<text x="651.5" y="655.0" class="t" text-anchor="start">0</text>
<text x="995.0" y="510.3" class="t" text-anchor="start">0.8</text>
<text x="995.0" y="549.0" class="t" text-anchor="start">0.6</text>
<text x="995.0" y="587.8" class="t" text-anchor="start">0.4</text>
<text x="995.0" y="626.5" class="t" text-anchor="start">0.2</text>
<text x="995.0" y="665.0" class="t" text-anchor="start">0</text>
</svg></body></html>
